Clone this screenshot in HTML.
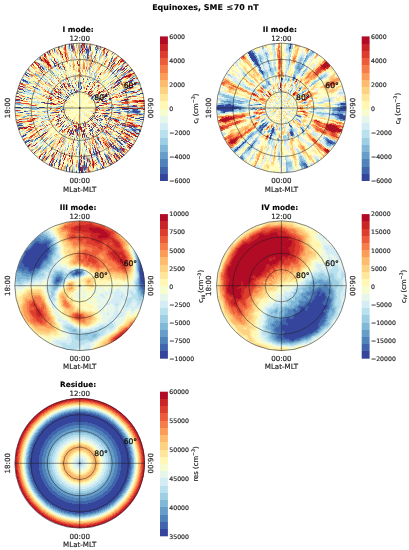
<!DOCTYPE html>
<html><head><meta charset="utf-8"><style>
html,body{margin:0;padding:0;background:#fff;}
body{width:409px;height:550px;position:relative;overflow:hidden;}
#all{position:absolute;left:0;top:0;width:409px;height:550px;filter:blur(0.35px);}
.rg{position:absolute;border-radius:50%;}
.pc{position:absolute;width:0;height:0;}
.pc i{position:absolute;border-radius:50%;}
svg{position:absolute;left:0;top:0;}
text{font-family:'DejaVu Sans', 'Liberation Sans', sans-serif;fill:#262626;stroke:#262626;stroke-width:0.18px;}
text.b{font-weight:bold;fill:#000;stroke:#000;stroke-width:0.1px;}
text.d{fill:#111;stroke:#111;stroke-width:0.3px;}
.grid circle,.grid line{fill:none;stroke:#1a1a1a;stroke-width:0.55;stroke-opacity:0.9;}
.spine{fill:none;stroke:#333;stroke-width:0.6;}
</style></head><body><div id="all">
<div class="pc" style="left:79.70px;top:108.00px;filter:blur(0.35px);">
<i style="inset:-64.9px;background:conic-gradient(#ffb 0 0.25%,#9cd 0 0.5%,#a12 0 0.75%,#d43 0 1%,#349 0 1.25%,#fb6 0 1.5%,#fc8 0 1.75%,#9cd 0 2%,#ffb 0 2.25%,#f95 0 9deg,#e74 0 2.75%,#bde 0 3.25%,#ffc 0 4%,#349 0 4.25%,#e74 0 4.5%,#9cd 0 4.75%,#bde 0 5%,#d43 0 5.25%,#bde 0 5.5%,#fb6 0 5.75%,#ffb 0 6%,#a12 0 6.5%,#fc8 0 6.75%,#fb6 0 7%,#eee 0 7.25%,#e74 0 7.5%,#ffc 0 7.75%,#fe9 0 8%,#ffc 0 8.25%,#eee 0 8.5%,#d43 0 8.75%,#ffc 0 9%,#8bd 0 9.25%,#ffc 0 9.75%,#ffb 0 10%,#e74 0 10.25%,#eee 0 10.5%,#ffb 0 10.75%,#cee 0 11%,#d43 0 11.25%,#e53 0 11.5%,#a12 0 11.75%,#c22 0 12%,#fb6 0 12.25%,#46a 0 45deg,#fb6 0 12.75%,#eee 0 13%,#fe9 0 13.25%,#a12 0 13.5%,#ffc 0 14%,#cee 0 14.25%,#fe9 0 14.75%,#349 0 15%,#fc8 0 15.25%,#cee 0 15.5%,#ffb 0 15.75%,#a12 0 16%,#fb6 0 16.25%,#fc8 0 16.5%,#9cd 0 16.75%,#bde 0 17%,#fb6 0 17.25%,#d43 0 63deg,#cee 0 17.75%,#eee 0 18%,#ffc 0 18.25%,#f95 0 18.5%,#58b 0 18.75%,#69c 0 19%,#fc8 0 19.25%,#ffb 0 19.5%,#ffc 0 19.75%,#cee 0 20%,#a12 0 20.25%,#69c 0 20.5%,#fe9 0 20.75%,#ffc 0 21%,#fe9 0 21.25%,#349 0 21.5%,#ffb 0 21.75%,#eee 0 22%,#ffc 0 22.25%,#f95 0 81deg,#ffb 0 23%,#a12 0 23.5%,#fb6 0 23.75%,#d43 0 24%,#fc8 0 24.25%,#c22 0 24.5%,#fb6 0 24.75%,#eee 0 25%,#e74 0 25.25%,#a12 0 25.5%,#eee 0 25.75%,#fb6 0 26%,#ffb 0 26.25%,#8bd 0 26.5%,#bde 0 26.75%,#fc8 0 27%,#cee 0 27.25%,#349 0 99deg,#ffb 0 27.75%,#349 0 28%,#eee 0 28.5%,#fc8 0 28.75%,#cee 0 29%,#eee 0 29.25%,#ffb 0 29.5%,#a12 0 29.75%,#ffb 0 30%,#ffc 0 30.25%,#fb6 0 30.5%,#349 0 31%,#fe9 0 31.25%,#bde 0 31.5%,#a12 0 31.75%,#8bd 0 32%,#ffb 0 32.25%,#a12 0 32.5%,#ffc 0 32.75%,#cee 0 33%,#ffc 0 33.25%,#bde 0 33.5%,#e53 0 33.75%,#eee 0 34%,#fb6 0 34.25%,#ffb 0 34.5%,#a12 0 34.75%,#ffb 0 35%,#a12 0 35.25%,#cee 0 35.5%,#a12 0 35.75%,#e53 0 36%,#cee 0 36.25%,#ffc 0 36.5%,#e74 0 36.75%,#fe9 0 37%,#fb6 0 37.25%,#fc8 0 37.5%,#eee 0 37.75%,#fc8 0 38%,#349 0 38.25%,#ffb 0 38.5%,#a12 0 38.75%,#ffc 0 39%,#fe9 0 39.25%,#349 0 39.5%,#f95 0 39.75%,#fe9 0 40%,#a12 0 40.25%,#349 0 40.5%,#ffb 0 40.75%,#e74 0 41%,#fc8 0 41.25%,#c22 0 41.5%,#9cd 0 41.75%,#e53 0 42%,#46a 0 42.25%,#fb6 0 42.5%,#fe9 0 42.75%,#eee 0 43%,#ffc 0 43.25%,#fb6 0 43.5%,#f95 0 43.75%,#cee 0 44%,#349 0 44.25%,#ffb 0 44.5%,#d43 0 44.75%,#f95 0 45%,#ffc 0 45.25%,#eee 0 45.5%,#58b 0 45.75%,#cee 0 46%,#fe9 0 46.25%,#ffc 0 46.75%,#fc8 0 47%,#ffb 0 47.25%,#fb6 0 47.5%,#d43 0 47.75%,#e53 0 48%,#eee 0 48.25%,#fb6 0 48.5%,#58b 0 48.75%,#ffb 0 49%,#8bd 0 49.25%,#349 0 49.5%,#a12 0 49.75%,#ffb 0 50%,#349 0 50.25%,#eee 0 50.5%,#ffb 0 50.75%,#46a 0 51%,#cee 0 51.25%,#bde 0 51.5%,#fe9 0 51.75%,#46a 0 52%,#8bd 0 52.25%,#fe9 0 52.5%,#46a 0 52.75%,#eee 0 53%,#ffb 0 53.25%,#349 0 53.5%,#eee 0 53.75%,#fc8 0 54%,#fb6 0 54.25%,#fe9 0 54.5%,#e53 0 54.75%,#fe9 0 55.25%,#a12 0 55.5%,#ffb 0 56%,#ffc 0 56.25%,#eee 0 56.5%,#bde 0 56.75%,#ffb 0 57%,#a12 0 57.25%,#349 0 57.5%,#69c 0 57.75%,#a12 0 58%,#ffc 0 58.25%,#cee 0 58.5%,#fe9 0 58.75%,#eee 0 59.25%,#fb6 0 59.75%,#a12 0 60%,#69c 0 60.25%,#ffc 0 60.75%,#a12 0 61%,#ffb 0 61.25%,#fe9 0 61.5%,#cee 0 61.75%,#ffc 0 62%,#ffb 0 62.25%,#9cd 0 62.5%,#a12 0 62.75%,#ffc 0 63%,#ffb 0 63.25%,#58b 0 63.5%,#f95 0 63.75%,#ffb 0 64%,#ffc 0 64.25%,#ffb 0 64.5%,#cee 0 64.75%,#a12 0 65%,#fc8 0 65.25%,#eee 0 65.5%,#ffc 0 65.75%,#349 0 66.25%,#ffc 0 66.5%,#f95 0 66.75%,#c22 0 67%,#cee 0 67.5%,#349 0 67.75%,#fc8 0 68%,#ffb 0 68.5%,#cee 0 69%,#ffb 0 69.5%,#a12 0 69.75%,#349 0 70%,#fc8 0 70.25%,#9cd 0 70.5%,#349 0 70.75%,#bde 0 71%,#f95 0 71.25%,#c22 0 71.5%,#e74 0 71.75%,#fc8 0 72%,#69c 0 72.25%,#ffb 0 72.5%,#fc8 0 72.75%,#fe9 0 73%,#d43 0 73.25%,#ffb 0 73.5%,#fc8 0 73.75%,#ffb 0 74%,#bde 0 74.25%,#e53 0 74.5%,#eee 0 74.75%,#ffc 0 75%,#349 0 75.25%,#eee 0 75.5%,#ffb 0 75.75%,#cee 0 76%,#58b 0 76.25%,#fc8 0 76.5%,#cee 0 76.75%,#349 0 77%,#c22 0 77.25%,#ffb 0 77.5%,#ffc 0 77.75%,#a12 0 78%,#fe9 0 78.25%,#ffc 0 78.5%,#349 0 78.75%,#e74 0 79%,#58b 0 79.25%,#fe9 0 79.75%,#349 0 80%,#e53 0 80.25%,#9cd 0 80.5%,#a12 0 80.75%,#ffb 0 81%,#e53 0 81.25%,#a12 0 81.5%,#bde 0 81.75%,#ffc 0 82%,#58b 0 82.25%,#69c 0 82.5%,#eee 0 82.75%,#9cd 0 83%,#ffc 0 83.25%,#fc8 0 83.5%,#ffc 0 83.75%,#349 0 84%,#eee 0 84.25%,#46a 0 84.5%,#cee 0 84.75%,#ffc 0 85%,#e53 0 85.25%,#69c 0 85.5%,#ffb 0 85.75%,#ffc 0 86.25%,#e53 0 86.5%,#ffb 0 86.75%,#c22 0 87%,#eee 0 87.25%,#ffb 0 87.5%,#a12 0 87.75%,#f95 0 88%,#ffc 0 88.25%,#ffb 0 88.5%,#9cd 0 88.75%,#fe9 0 89%,#69c 0 89.25%,#a12 0 89.5%,#ffb 0 89.75%,#fe9 0 90%,#fb6 0 90.25%,#cee 0 90.5%,#c22 0 90.75%,#a12 0 91%,#eee 0 91.25%,#ffb 0 91.5%,#a12 0 91.75%,#8bd 0 92%,#a12 0 92.25%,#fb6 0 92.5%,#ffb 0 92.75%,#d43 0 93%,#ffb 0 93.25%,#349 0 93.5%,#cee 0 93.75%,#fe9 0 94%,#ffb 0 94.25%,#fc8 0 94.5%,#c22 0 94.75%,#69c 0 95%,#fe9 0 95.25%,#8bd 0 95.5%,#9cd 0 95.75%,#ffb 0 96%,#fb6 0 96.25%,#a12 0 96.5%,#eee 0 96.75%,#ffb 0 97%,#bde 0 97.25%,#349 0 97.5%,#fc8 0 97.75%,#46a 0 98%,#f95 0 98.25%,#58b 0 98.5%,#ffb 0 99%,#8bd 0 99.25%,#fc8 0 99.75%,#ffb 0)"></i>
<i style="inset:-63.3px;background:conic-gradient(#ffc 0 0.25%,#8bd 0 0.5%,#a12 0 0.75%,#e53 0 1%,#349 0 1.25%,#d43 0 1.5%,#fe9 0 1.75%,#349 0 2%,#eee 0 2.25%,#ffc 0 9deg,#c22 0 2.75%,#58b 0 3%,#eee 0 3.25%,#ffb 0 3.75%,#ffc 0 4%,#46a 0 4.25%,#fb6 0 4.5%,#349 0 4.75%,#69c 0 5%,#fb6 0 5.25%,#69c 0 5.5%,#fe9 0 5.75%,#ffc 0 6%,#e53 0 6.25%,#c22 0 6.5%,#e74 0 6.75%,#ffb 0 7%,#eee 0 7.25%,#a12 0 7.5%,#eee 0 7.75%,#fe9 0 8%,#ffc 0 8.25%,#eee 0 8.5%,#fb6 0 8.75%,#ffc 0 9%,#9cd 0 9.25%,#ffb 0 9.5%,#ffc 0 9.75%,#fb6 0 10%,#d43 0 10.25%,#eee 0 10.5%,#ffb 0 10.75%,#ffc 0 11%,#a12 0 11.25%,#fc8 0 11.5%,#a12 0 11.75%,#e74 0 12%,#ffb 0 12.25%,#46a 0 45deg,#e74 0 12.75%,#eee 0 13%,#ffb 0 13.25%,#a12 0 13.5%,#ffc 0 13.75%,#9cd 0 14%,#eee 0 14.25%,#f95 0 14.5%,#ffb 0 14.75%,#349 0 15%,#e74 0 15.25%,#ffc 0 15.5%,#fc8 0 15.75%,#a12 0 16%,#f95 0 16.25%,#fc8 0 16.5%,#58b 0 16.75%,#cee 0 17%,#a12 0 17.25%,#ffb 0 63deg,#cee 0 17.75%,#eee 0 18%,#cee 0 18.25%,#a12 0 18.5%,#8bd 0 19%,#fe9 0 19.25%,#ffb 0 19.5%,#eee 0 19.75%,#ffc 0 20%,#d43 0 20.25%,#58b 0 20.5%,#fc8 0 20.75%,#eee 0 21%,#ffc 0 21.25%,#349 0 21.5%,#ffb 0 22%,#ffc 0 22.25%,#fb6 0 81deg,#ffb 0 22.75%,#fe9 0 23%,#a12 0 23.5%,#fb6 0 23.75%,#e74 0 24%,#ffb 0 24.25%,#e74 0 24.5%,#e53 0 24.75%,#8bd 0 25%,#d43 0 25.25%,#fb6 0 25.5%,#eee 0 25.75%,#ffc 0 26.25%,#9cd 0 26.5%,#46a 0 26.75%,#fc8 0 27%,#ffc 0 27.25%,#349 0 99deg,#eee 0 27.75%,#349 0 28%,#ffb 0 28.25%,#8bd 0 28.5%,#ffb 0 28.75%,#cee 0 29%,#eee 0 29.25%,#cee 0 29.5%,#a12 0 29.75%,#fb6 0 30%,#fe9 0 30.25%,#ffb 0 30.5%,#349 0 30.75%,#9cd 0 31%,#eee 0 31.25%,#9cd 0 31.5%,#a12 0 31.75%,#8bd 0 32%,#fb6 0 32.25%,#a12 0 32.5%,#ffc 0 32.75%,#eee 0 33%,#fc8 0 33.25%,#cee 0 33.5%,#f95 0 33.75%,#ffb 0 34.25%,#cee 0 34.5%,#a12 0 34.75%,#ffb 0 35%,#a12 0 35.25%,#9cd 0 35.5%,#a12 0 35.75%,#e74 0 36%,#ffc 0 36.25%,#eee 0 36.5%,#e74 0 36.75%,#eee 0 37%,#e74 0 37.25%,#a12 0 37.5%,#cee 0 37.75%,#fb6 0 38%,#349 0 38.25%,#ffb 0 38.5%,#a12 0 38.75%,#ffb 0 39%,#e74 0 39.25%,#349 0 39.5%,#e74 0 39.75%,#f95 0 40%,#a12 0 40.25%,#8bd 0 40.5%,#ffb 0 40.75%,#fc8 0 41%,#fe9 0 41.25%,#a12 0 41.5%,#9cd 0 41.75%,#fc8 0 42%,#349 0 42.25%,#fb6 0 42.5%,#ffb 0 42.75%,#8bd 0 43%,#ffc 0 43.25%,#fb6 0 43.5%,#a12 0 43.75%,#cee 0 44%,#349 0 44.25%,#ffc 0 44.5%,#f95 0 44.75%,#ffb 0 45%,#ffc 0 45.25%,#eee 0 45.5%,#8bd 0 45.75%,#ffc 0 46%,#ffb 0 46.25%,#fc8 0 46.5%,#fe9 0 47%,#ffc 0 47.25%,#fe9 0 47.5%,#c22 0 47.75%,#e74 0 48%,#bde 0 48.25%,#eee 0 48.5%,#46a 0 48.75%,#fb6 0 49%,#349 0 49.5%,#a12 0 49.75%,#f95 0 50%,#349 0 50.25%,#9cd 0 50.5%,#ffb 0 50.75%,#bde 0 51%,#ffc 0 51.25%,#bde 0 51.5%,#fc8 0 51.75%,#58b 0 52%,#cee 0 52.25%,#fb6 0 52.5%,#349 0 52.75%,#eee 0 53%,#ffb 0 53.25%,#349 0 53.5%,#9cd 0 53.75%,#f95 0 54%,#fc8 0 54.25%,#ffb 0 54.5%,#e53 0 54.75%,#fc8 0 55%,#ffb 0 55.25%,#a12 0 55.5%,#ffc 0 55.75%,#ffb 0 56%,#ffc 0 56.25%,#ffb 0 56.5%,#46a 0 56.75%,#ffc 0 57%,#d43 0 57.25%,#349 0 57.5%,#ffc 0 57.75%,#a12 0 58%,#eee 0 58.5%,#ffb 0 59%,#69c 0 59.25%,#f95 0 59.5%,#fb6 0 59.75%,#a12 0 60%,#69c 0 60.25%,#ffc 0 60.5%,#eee 0 60.75%,#a12 0 61%,#fe9 0 61.25%,#ffb 0 61.5%,#ffc 0 61.75%,#ffb 0 62%,#fe9 0 62.25%,#bde 0 62.5%,#a12 0 62.75%,#ffc 0 63%,#fe9 0 63.25%,#9cd 0 63.5%,#fe9 0 63.75%,#ffb 0 64%,#fe9 0 64.25%,#ffc 0 64.5%,#9cd 0 64.75%,#a12 0 65%,#fe9 0 65.25%,#bde 0 65.5%,#ffb 0 65.75%,#349 0 66%,#58b 0 66.25%,#ffb 0 66.5%,#fe9 0 66.75%,#e53 0 67%,#eee 0 67.25%,#bde 0 67.5%,#349 0 67.75%,#fc8 0 68%,#eee 0 68.25%,#fe9 0 68.5%,#ffc 0 68.75%,#bde 0 69%,#fe9 0 69.25%,#ffb 0 69.5%,#a12 0 69.75%,#349 0 70%,#fc8 0 70.25%,#349 0 70.5%,#46a 0 70.75%,#69c 0 71%,#fb6 0 71.25%,#a12 0 71.5%,#ffb 0 71.75%,#e53 0 72%,#9cd 0 72.25%,#ffb 0 72.5%,#fe9 0 72.75%,#fc8 0 73%,#e53 0 73.25%,#fe9 0 73.5%,#fc8 0 73.75%,#cee 0 74%,#9cd 0 74.25%,#c22 0 74.5%,#eee 0 74.75%,#cee 0 75%,#349 0 75.25%,#ffb 0 75.5%,#ffc 0 75.75%,#8bd 0 76%,#69c 0 76.25%,#e53 0 76.5%,#bde 0 76.75%,#349 0 77%,#a12 0 77.25%,#ffb 0 77.5%,#bde 0 77.75%,#a12 0 78%,#ffc 0 78.25%,#ffb 0 78.5%,#58b 0 78.75%,#fe9 0 79%,#58b 0 79.25%,#fc8 0 79.5%,#ffc 0 79.75%,#349 0 80%,#e53 0 80.25%,#cee 0 80.5%,#a12 0 80.75%,#ffc 0 81%,#d43 0 81.25%,#c22 0 81.5%,#cee 0 81.75%,#ffc 0 82%,#46a 0 82.25%,#349 0 82.5%,#cee 0 82.75%,#ffc 0 83%,#eee 0 83.25%,#fb6 0 83.5%,#eee 0 83.75%,#349 0 84%,#ffc 0 84.25%,#46a 0 84.5%,#ffc 0 84.75%,#eee 0 85%,#e74 0 85.25%,#bde 0 85.5%,#ffb 0 85.75%,#cee 0 86%,#ffb 0 86.25%,#e74 0 86.5%,#fe9 0 86.75%,#c22 0 87%,#ffc 0 87.25%,#ffb 0 87.5%,#a12 0 87.75%,#e53 0 88%,#9cd 0 88.25%,#ffc 0 88.5%,#cee 0 88.75%,#ffb 0 89%,#69c 0 89.25%,#a12 0 89.5%,#fc8 0 89.75%,#fb6 0 90%,#e74 0 90.25%,#ffc 0 90.5%,#a12 0 91%,#ffc 0 91.25%,#ffb 0 91.5%,#a12 0 91.75%,#8bd 0 92%,#a12 0 92.25%,#fc8 0 92.5%,#ffb 0 92.75%,#f95 0 93%,#eee 0 93.25%,#349 0 93.5%,#cee 0 93.75%,#fb6 0 94%,#fe9 0 94.5%,#a12 0 94.75%,#9cd 0 95%,#ffb 0 95.25%,#cee 0 95.75%,#fc8 0 96%,#e74 0 96.25%,#a12 0 96.5%,#eee 0 96.75%,#fe9 0 97%,#9cd 0 97.25%,#46a 0 97.5%,#fe9 0 97.75%,#349 0 98%,#a12 0 98.25%,#58b 0 98.5%,#fe9 0 98.75%,#ffc 0 99%,#8bd 0 99.25%,#fe9 0 99.5%,#f95 0 99.75%,#ffb 0)"></i>
<i style="inset:-61.7px;background:conic-gradient(#cee 0 0.25%,#8bd 0 0.5%,#a12 0 0.75%,#e74 0 1%,#69c 0 1.25%,#a12 0 1.5%,#ffb 0 1.75%,#349 0 2%,#8bd 0 2.25%,#9cd 0 9deg,#d43 0 2.75%,#349 0 3%,#ffb 0 3.75%,#ffc 0 4%,#69c 0 4.25%,#ffb 0 4.5%,#349 0 4.75%,#8bd 0 5%,#ffb 0 5.25%,#8bd 0 5.5%,#ffb 0 5.75%,#cee 0 6%,#fc8 0 6.25%,#e74 0 6.5%,#d43 0 6.75%,#ffc 0 7%,#eee 0 7.25%,#a12 0 7.5%,#bde 0 7.75%,#ffb 0 8.25%,#ffc 0 8.5%,#ffb 0 8.75%,#ffc 0 9%,#69c 0 9.25%,#ffb 0 9.5%,#cee 0 9.75%,#e74 0 10%,#e53 0 10.25%,#cee 0 10.5%,#ffb 0 10.75%,#ffc 0 11%,#a12 0 11.25%,#ffb 0 11.5%,#d43 0 11.75%,#fc8 0 12%,#ffb 0 12.25%,#69c 0 45deg,#e53 0 12.75%,#bde 0 13%,#ffc 0 13.25%,#a12 0 13.5%,#ffc 0 13.75%,#58b 0 14%,#ffb 0 14.25%,#e53 0 14.5%,#ffc 0 14.75%,#46a 0 15%,#e53 0 15.25%,#ffb 0 15.5%,#e53 0 15.75%,#a12 0 16%,#e74 0 16.25%,#fc8 0 16.5%,#46a 0 16.75%,#bde 0 17%,#a12 0 17.25%,#9cd 0 63deg,#bde 0 17.75%,#eee 0 18%,#cee 0 18.25%,#a12 0 18.5%,#cee 0 18.75%,#bde 0 19%,#ffb 0 19.25%,#fe9 0 19.5%,#cee 0 19.75%,#ffb 0 20%,#fe9 0 20.25%,#9cd 0 20.5%,#e74 0 20.75%,#eee 0 21.25%,#349 0 21.5%,#ffb 0 21.75%,#fc8 0 22%,#eee 0 22.25%,#fc8 0 81deg,#ffb 0 22.75%,#fc8 0 23%,#a12 0 23.5%,#fc8 0 23.75%,#fb6 0 24%,#ffc 0 24.25%,#fb6 0 24.5%,#f95 0 24.75%,#9cd 0 25%,#c22 0 25.25%,#ffc 0 25.5%,#bde 0 25.75%,#58b 0 26%,#9cd 0 26.5%,#349 0 26.75%,#fb6 0 27%,#ffb 0 27.25%,#58b 0 99deg,#eee 0 27.75%,#349 0 28%,#ffb 0 28.25%,#46a 0 28.5%,#ffc 0 28.75%,#cee 0 29.5%,#d43 0 29.75%,#e74 0 30%,#f95 0 30.25%,#cee 0 30.5%,#349 0 30.75%,#9cd 0 31%,#46a 0 31.25%,#69c 0 31.5%,#a12 0 31.75%,#9cd 0 32%,#c22 0 32.5%,#ffc 0 32.75%,#cee 0 33%,#e53 0 33.25%,#ffc 0 33.5%,#fb6 0 33.75%,#fe9 0 34%,#cee 0 34.25%,#bde 0 34.5%,#a12 0 34.75%,#ffb 0 35%,#c22 0 35.25%,#9cd 0 35.5%,#d43 0 35.75%,#fc8 0 36%,#ffb 0 36.25%,#bde 0 36.5%,#fb6 0 36.75%,#46a 0 37%,#c22 0 37.25%,#a12 0 37.5%,#9cd 0 37.75%,#e74 0 38%,#349 0 38.25%,#eee 0 38.5%,#e74 0 38.75%,#ffb 0 39%,#e53 0 39.25%,#349 0 39.5%,#d43 0 39.75%,#f95 0 40%,#a12 0 40.25%,#eee 0 40.5%,#fe9 0 40.75%,#ffb 0 41.25%,#a12 0 41.5%,#8bd 0 41.75%,#ffc 0 42%,#349 0 42.25%,#f95 0 42.5%,#ffb 0 42.75%,#46a 0 43%,#ffc 0 43.25%,#f95 0 43.5%,#a12 0 43.75%,#eee 0 44%,#69c 0 44.25%,#bde 0 44.5%,#ffb 0 45.5%,#cee 0 45.75%,#ffb 0 46.25%,#a12 0 46.5%,#fb6 0 46.75%,#fe9 0 47%,#cee 0 47.25%,#fe9 0 47.5%,#d43 0 47.75%,#f95 0 48%,#58b 0 48.25%,#46a 0 48.5%,#349 0 48.75%,#e53 0 49%,#349 0 49.5%,#a12 0 50%,#349 0 50.25%,#69c 0 50.5%,#ffb 0 51%,#ffc 0 51.25%,#bde 0 51.5%,#fc8 0 51.75%,#8bd 0 52%,#ffb 0 52.25%,#fb6 0 52.5%,#349 0 52.75%,#ffc 0 53%,#fe9 0 53.25%,#349 0 53.5%,#8bd 0 53.75%,#f95 0 54%,#fc8 0 54.25%,#ffc 0 54.5%,#d43 0 54.75%,#fe9 0 55%,#ffc 0 55.25%,#a12 0 55.5%,#8bd 0 55.75%,#ffc 0 56%,#ffb 0 56.5%,#349 0 56.75%,#eee 0 57%,#fc8 0 57.25%,#349 0 57.5%,#fc8 0 57.75%,#a12 0 58%,#cee 0 58.25%,#ffc 0 58.5%,#ffb 0 58.75%,#fe9 0 59%,#349 0 59.25%,#e74 0 59.5%,#fe9 0 59.75%,#a12 0 60%,#8bd 0 60.25%,#bde 0 60.5%,#ffc 0 60.75%,#a12 0 61%,#fb6 0 61.25%,#ffc 0 61.5%,#ffb 0 62%,#fc8 0 62.25%,#bde 0 62.5%,#e53 0 62.75%,#ffb 0 63%,#fc8 0 63.25%,#bde 0 63.5%,#ffb 0 63.75%,#ffc 0 64%,#d43 0 64.25%,#eee 0 64.5%,#9cd 0 64.75%,#e53 0 65%,#fe9 0 65.25%,#69c 0 65.5%,#fe9 0 65.75%,#349 0 66%,#8bd 0 66.25%,#fe9 0 66.75%,#f95 0 67%,#ffc 0 67.25%,#eee 0 67.5%,#349 0 67.75%,#fc8 0 68%,#bde 0 68.25%,#fe9 0 68.5%,#ffb 0 68.75%,#bde 0 69%,#fc8 0 69.5%,#a12 0 69.75%,#46a 0 70%,#fc8 0 70.25%,#349 0 70.5%,#9cd 0 70.75%,#46a 0 71%,#fc8 0 71.25%,#a12 0 71.5%,#ffc 0 71.75%,#c22 0 72%,#ffc 0 72.25%,#eee 0 72.5%,#ffc 0 72.75%,#fb6 0 73%,#f95 0 73.25%,#fe9 0 73.75%,#69c 0 74%,#cee 0 74.25%,#d43 0 74.5%,#ffc 0 74.75%,#bde 0 75%,#349 0 75.25%,#ffb 0 75.5%,#eee 0 75.75%,#69c 0 76.25%,#d43 0 76.5%,#bde 0 76.75%,#58b 0 77%,#a12 0 77.25%,#fe9 0 77.5%,#69c 0 77.75%,#d43 0 78%,#eee 0 78.25%,#fb6 0 78.5%,#bde 0 78.75%,#ffb 0 79%,#58b 0 79.25%,#fc8 0 79.5%,#eee 0 79.75%,#349 0 80%,#e74 0 80.25%,#cee 0 80.5%,#a12 0 80.75%,#bde 0 81%,#e53 0 81.25%,#e74 0 81.5%,#eee 0 81.75%,#ffb 0 82%,#58b 0 82.25%,#349 0 82.5%,#cee 0 82.75%,#ffb 0 83%,#eee 0 83.25%,#fb6 0 83.5%,#eee 0 83.75%,#349 0 84%,#fe9 0 84.25%,#46a 0 84.5%,#fe9 0 84.75%,#ffc 0 85%,#f95 0 85.25%,#cee 0 85.5%,#ffb 0 85.75%,#cee 0 86%,#ffb 0 86.25%,#fb6 0 86.75%,#f95 0 87%,#ffb 0 87.5%,#c22 0 87.75%,#e74 0 88%,#349 0 88.25%,#eee 0 88.5%,#ffb 0 89%,#8bd 0 89.25%,#a12 0 89.5%,#f95 0 89.75%,#e74 0 90%,#a12 0 90.25%,#ffb 0 90.5%,#d43 0 90.75%,#f95 0 91%,#ffc 0 91.25%,#ffb 0 91.5%,#fb6 0 91.75%,#9cd 0 92%,#e53 0 92.25%,#fe9 0 92.5%,#ffb 0 92.75%,#fc8 0 93%,#eee 0 93.25%,#9cd 0 93.5%,#bde 0 93.75%,#f95 0 94%,#fc8 0 94.25%,#ffb 0 94.5%,#a12 0 94.75%,#ffc 0 95%,#ffb 0 95.75%,#fb6 0 96%,#e53 0 96.25%,#c22 0 96.5%,#eee 0 96.75%,#fe9 0 97%,#9cd 0 97.25%,#69c 0 97.5%,#ffb 0 97.75%,#349 0 98%,#a12 0 98.25%,#58b 0 98.5%,#f95 0 98.75%,#eee 0 99%,#9cd 0 99.25%,#fe9 0 99.5%,#f95 0 99.75%,#ffb 0)"></i>
<i style="inset:-60.1px;background:conic-gradient(#8bd 0 0.25%,#9cd 0 0.5%,#a12 0 0.75%,#e74 0 1%,#bde 0 1.25%,#a12 0 1.5%,#eee 0 1.75%,#349 0 9deg,#f95 0 2.75%,#349 0 3%,#fe9 0 3.25%,#ffb 0 3.5%,#fe9 0 3.75%,#ffc 0 4%,#bde 0 4.25%,#ffc 0 4.5%,#349 0 4.75%,#cee 0 5%,#ffb 0 5.25%,#bde 0 5.5%,#ffb 0 5.75%,#8bd 0 6%,#ffb 0 6.25%,#f95 0 6.5%,#d43 0 6.75%,#cee 0 7.25%,#a12 0 7.5%,#8bd 0 7.75%,#ffb 0 8.25%,#ffc 0 8.5%,#ffb 0 9%,#46a 0 9.25%,#eee 0 9.5%,#9cd 0 9.75%,#d43 0 10%,#fb6 0 10.25%,#8bd 0 10.5%,#ffb 0 11%,#a12 0 11.25%,#ffc 0 11.5%,#e74 0 11.75%,#ffb 0 12%,#eee 0 12.25%,#9cd 0 45deg,#d43 0 12.75%,#69c 0 13%,#cee 0 13.25%,#a12 0 13.5%,#eee 0 13.75%,#349 0 14%,#ffb 0 14.25%,#d43 0 14.5%,#bde 0 14.75%,#69c 0 15%,#fb6 0 15.25%,#f95 0 15.5%,#a12 0 16%,#d43 0 16.25%,#ffb 0 16.5%,#58b 0 16.75%,#9cd 0 17%,#a12 0 17.25%,#349 0 63deg,#9cd 0 17.75%,#ffc 0 18.25%,#a12 0 18.5%,#eee 0 18.75%,#9cd 0 19%,#ffb 0 19.25%,#fc8 0 19.5%,#eee 0 19.75%,#ffb 0 20%,#eee 0 20.5%,#a12 0 20.75%,#ffc 0 21%,#cee 0 21.25%,#69c 0 21.5%,#fe9 0 22%,#eee 0 22.25%,#fc8 0 81deg,#ffc 0 22.75%,#f95 0 23%,#a12 0 23.5%,#fe9 0 23.75%,#fb6 0 24%,#ffc 0 24.25%,#fb6 0 24.5%,#ffb 0 24.75%,#cee 0 25%,#c22 0 25.25%,#9cd 0 25.5%,#8bd 0 25.75%,#349 0 26%,#46a 0 26.25%,#69c 0 26.5%,#349 0 26.75%,#f95 0 27%,#fe9 0 27.25%,#cee 0 99deg,#ffc 0 27.75%,#349 0 28%,#fe9 0 28.25%,#58b 0 28.5%,#ffc 0 28.75%,#bde 0 29.25%,#ffc 0 29.5%,#f95 0 29.75%,#d43 0 30%,#c22 0 30.25%,#58b 0 31%,#349 0 31.25%,#46a 0 31.5%,#fb6 0 31.75%,#bde 0 32%,#a12 0 32.25%,#e53 0 32.5%,#ffb 0 32.75%,#9cd 0 33%,#a12 0 33.25%,#fe9 0 33.5%,#fc8 0 33.75%,#f95 0 34%,#58b 0 34.25%,#eee 0 34.5%,#a12 0 34.75%,#eee 0 35%,#d43 0 35.25%,#9cd 0 35.5%,#ffb 0 36.25%,#69c 0 36.5%,#fe9 0 36.75%,#349 0 37%,#a12 0 37.5%,#58b 0 37.75%,#e74 0 38%,#58b 0 38.25%,#8bd 0 38.5%,#fe9 0 38.75%,#ffb 0 39%,#fb6 0 39.25%,#349 0 39.5%,#d43 0 39.75%,#fc8 0 40%,#a12 0 40.25%,#ffb 0 40.5%,#fc8 0 40.75%,#eee 0 41%,#ffb 0 41.25%,#a12 0 41.5%,#69c 0 41.75%,#bde 0 42%,#349 0 42.25%,#f95 0 42.5%,#ffb 0 42.75%,#46a 0 43%,#ffc 0 43.25%,#e74 0 43.5%,#a12 0 43.75%,#ffc 0 44%,#eee 0 44.25%,#69c 0 44.5%,#eee 0 44.75%,#ffc 0 45%,#ffb 0 45.25%,#e74 0 45.5%,#ffc 0 45.75%,#fb6 0 46.25%,#a12 0 46.5%,#e74 0 46.75%,#fe9 0 47%,#69c 0 47.25%,#fe9 0 47.5%,#e74 0 47.75%,#fe9 0 48%,#349 0 48.75%,#d43 0 49%,#349 0 49.5%,#a12 0 50%,#349 0 50.25%,#46a 0 50.5%,#ffb 0 50.75%,#fc8 0 51%,#eee 0 51.25%,#cee 0 51.5%,#fc8 0 51.75%,#bde 0 52%,#fb6 0 52.25%,#fe9 0 52.5%,#46a 0 52.75%,#ffc 0 53%,#fe9 0 53.25%,#349 0 53.5%,#bde 0 53.75%,#fb6 0 54%,#ffb 0 54.25%,#ffc 0 54.5%,#c22 0 54.75%,#ffb 0 55%,#eee 0 55.25%,#e53 0 55.5%,#349 0 55.75%,#cee 0 56%,#ffb 0 56.25%,#fe9 0 56.5%,#349 0 56.75%,#eee 0 57%,#ffb 0 57.25%,#349 0 57.5%,#e74 0 57.75%,#a12 0 58%,#cee 0 58.25%,#ffb 0 58.75%,#fc8 0 59%,#349 0 59.25%,#e74 0 59.5%,#fe9 0 59.75%,#e53 0 60%,#9cd 0 60.25%,#69c 0 60.5%,#ffb 0 60.75%,#d43 0 61%,#fc8 0 61.25%,#cee 0 61.5%,#fb6 0 61.75%,#ffb 0 62%,#fe9 0 62.25%,#9cd 0 62.5%,#e74 0 62.75%,#ffb 0 63%,#fb6 0 63.25%,#9cd 0 63.5%,#eee 0 63.75%,#ffc 0 64%,#a12 0 64.25%,#ffc 0 64.5%,#9cd 0 64.75%,#ffb 0 65.25%,#46a 0 65.5%,#fb6 0 65.75%,#349 0 66%,#bde 0 66.25%,#fb6 0 66.5%,#fc8 0 66.75%,#fe9 0 67%,#ffc 0 67.5%,#8bd 0 67.75%,#fc8 0 68%,#8bd 0 68.25%,#ffb 0 68.5%,#fc8 0 68.75%,#eee 0 69%,#fc8 0 69.25%,#a12 0 69.75%,#8bd 0 70%,#fe9 0 70.25%,#8bd 0 70.5%,#ffc 0 70.75%,#69c 0 71%,#fb6 0 71.25%,#d43 0 71.5%,#eee 0 71.75%,#d43 0 72%,#fe9 0 72.25%,#9cd 0 72.5%,#cee 0 72.75%,#fc8 0 73%,#fb6 0 73.25%,#fc8 0 73.5%,#ffb 0 73.75%,#349 0 74%,#ffc 0 74.25%,#f95 0 74.5%,#ffc 0 74.75%,#bde 0 75%,#349 0 75.25%,#ffb 0 75.5%,#eee 0 75.75%,#8bd 0 76%,#9cd 0 76.25%,#d43 0 76.5%,#eee 0 76.75%,#ffc 0 77%,#a12 0 77.25%,#fe9 0 77.5%,#349 0 77.75%,#fe9 0 78%,#ffc 0 78.25%,#d43 0 78.5%,#ffc 0 79%,#69c 0 79.25%,#fe9 0 79.5%,#cee 0 79.75%,#349 0 80%,#fc8 0 80.25%,#cee 0 80.5%,#d43 0 80.75%,#9cd 0 81%,#e74 0 81.25%,#fc8 0 81.5%,#eee 0 81.75%,#fc8 0 82%,#69c 0 82.25%,#349 0 82.5%,#cee 0 82.75%,#ffb 0 83%,#eee 0 83.25%,#f95 0 83.5%,#eee 0 83.75%,#9cd 0 84%,#fb6 0 84.25%,#58b 0 84.5%,#e74 0 84.75%,#ffb 0 85%,#fb6 0 85.25%,#cee 0 85.5%,#ffc 0 86%,#fc8 0 86.25%,#fe9 0 86.5%,#fb6 0 86.75%,#fe9 0 87%,#ffb 0 87.25%,#ffc 0 87.5%,#c22 0 87.75%,#fc8 0 88%,#349 0 88.25%,#bde 0 88.5%,#fe9 0 88.75%,#ffb 0 89%,#cee 0 89.25%,#d43 0 89.5%,#e74 0 89.75%,#d43 0 90%,#a12 0 90.25%,#fb6 0 90.5%,#e53 0 90.75%,#fe9 0 91%,#ffb 0 91.25%,#eee 0 91.5%,#ffb 0 91.75%,#cee 0 92%,#fb6 0 92.25%,#fe9 0 92.5%,#ffb 0 92.75%,#fe9 0 93%,#ffc 0 93.5%,#bde 0 93.75%,#f95 0 94%,#fc8 0 94.25%,#ffc 0 94.5%,#a12 0 94.75%,#fc8 0 95%,#ffb 0 95.25%,#fe9 0 95.75%,#f95 0 96%,#e53 0 96.25%,#f95 0 96.5%,#eee 0 96.75%,#fe9 0 97%,#bde 0 97.25%,#8bd 0 97.5%,#ffb 0 97.75%,#58b 0 98%,#a12 0 98.25%,#58b 0 98.5%,#e53 0 98.75%,#cee 0 99%,#eee 0 99.25%,#fc8 0 99.5%,#fb6 0 99.75%,#fe9 0)"></i>
<i style="inset:-58.5px;background:conic-gradient(#46a 0 0.25%,#cee 0 0.5%,#a12 0 0.75%,#e53 0 1%,#eee 0 1.25%,#a12 0 1.5%,#cee 0 1.75%,#349 0 9deg,#ffb 0 2.75%,#69c 0 3%,#fc8 0 3.25%,#eee 0 3.5%,#fc8 0 3.75%,#ffc 0 4%,#eee 0 4.25%,#cee 0 4.5%,#349 0 4.75%,#ffc 0 5%,#ffb 0 5.25%,#eee 0 5.5%,#ffc 0 5.75%,#69c 0 6%,#eee 0 6.25%,#fb6 0 6.5%,#f95 0 6.75%,#cee 0 7.25%,#e53 0 7.5%,#8bd 0 7.75%,#ffc 0 8%,#fe9 0 8.25%,#ffb 0 8.5%,#fe9 0 8.75%,#ffb 0 9%,#46a 0 9.25%,#8bd 0 9.5%,#bde 0 9.75%,#c22 0 10%,#fe9 0 10.25%,#349 0 10.5%,#ffb 0 10.75%,#fe9 0 11%,#a12 0 11.25%,#eee 0 11.5%,#fc8 0 11.75%,#ffb 0 12%,#bde 0 12.25%,#eee 0 45deg,#d43 0 12.75%,#349 0 13%,#9cd 0 13.25%,#a12 0 13.5%,#eee 0 13.75%,#349 0 14%,#ffb 0 14.25%,#e53 0 14.5%,#8bd 0 14.75%,#69c 0 15%,#ffb 0 15.25%,#d43 0 15.5%,#a12 0 15.75%,#c22 0 16%,#d43 0 16.25%,#ffb 0 16.5%,#9cd 0 16.75%,#8bd 0 17%,#a12 0 17.25%,#349 0 63deg,#bde 0 17.75%,#ffb 0 18%,#fe9 0 18.25%,#a12 0 18.5%,#eee 0 18.75%,#58b 0 19%,#fc8 0 19.5%,#ffc 0 19.75%,#ffb 0 20%,#69c 0 20.25%,#eee 0 20.5%,#a12 0 20.75%,#ffb 0 21%,#cee 0 21.25%,#9cd 0 21.5%,#e74 0 21.75%,#ffb 0 22%,#ffc 0 22.25%,#fc8 0 81deg,#eee 0 22.75%,#d43 0 23%,#a12 0 23.5%,#ffb 0 23.75%,#fc8 0 24%,#eee 0 24.25%,#f95 0 24.5%,#9cd 0 24.75%,#eee 0 25%,#e53 0 25.25%,#349 0 25.5%,#58b 0 25.75%,#349 0 26.25%,#46a 0 26.75%,#e74 0 27%,#fe9 0 27.25%,#ffb 0 27.75%,#349 0 28%,#ffb 0 28.25%,#8bd 0 28.5%,#ffc 0 28.75%,#cee 0 29%,#9cd 0 29.25%,#ffb 0 29.5%,#f95 0 29.75%,#c22 0 30%,#a12 0 30.25%,#349 0 30.5%,#eee 0 30.75%,#349 0 31.25%,#46a 0 31.5%,#ffc 0 31.75%,#bde 0 32%,#a12 0 32.25%,#e74 0 32.5%,#ffb 0 32.75%,#69c 0 33%,#a12 0 33.25%,#fc8 0 33.5%,#fb6 0 33.75%,#d43 0 34%,#349 0 34.25%,#ffb 0 34.5%,#a12 0 34.75%,#69c 0 35%,#e53 0 35.25%,#69c 0 35.5%,#cee 0 35.75%,#ffc 0 36.25%,#349 0 36.5%,#ffb 0 36.75%,#349 0 37%,#d43 0 37.25%,#a12 0 37.5%,#46a 0 37.75%,#e74 0 38%,#58b 0 38.25%,#349 0 38.5%,#eee 0 38.75%,#ffb 0 39.25%,#349 0 39.5%,#e74 0 39.75%,#ffb 0 40%,#a12 0 40.25%,#ffb 0 40.5%,#e74 0 40.75%,#bde 0 41%,#ffb 0 41.25%,#a12 0 41.5%,#58b 0 41.75%,#69c 0 42%,#349 0 42.25%,#fb6 0 42.5%,#ffb 0 42.75%,#8bd 0 43%,#ffc 0 43.25%,#a12 0 43.75%,#ffb 0 44.25%,#69c 0 44.5%,#8bd 0 44.75%,#eee 0 45%,#fe9 0 45.25%,#a12 0 45.5%,#ffb 0 45.75%,#e74 0 46%,#a12 0 46.5%,#fb6 0 47%,#349 0 47.25%,#fe9 0 47.75%,#ffb 0 48%,#349 0 48.25%,#69c 0 48.5%,#349 0 48.75%,#d43 0 49%,#58b 0 49.25%,#bde 0 49.5%,#fc8 0 49.75%,#a12 0 50%,#349 0 50.25%,#46a 0 50.5%,#ffb 0 50.75%,#e74 0 51%,#bde 0 51.25%,#eee 0 51.5%,#fe9 0 51.75%,#cee 0 52%,#d43 0 52.25%,#ffb 0 52.5%,#cee 0 52.75%,#ffb 0 53%,#fc8 0 53.25%,#58b 0 53.5%,#ffc 0 53.75%,#fe9 0 54%,#ffb 0 54.25%,#ffc 0 54.5%,#a12 0 54.75%,#ffc 0 55.25%,#fc8 0 55.5%,#349 0 55.75%,#69c 0 56%,#ffb 0 56.25%,#fe9 0 56.5%,#349 0 56.75%,#eee 0 57%,#ffb 0 57.25%,#58b 0 57.5%,#d43 0 57.75%,#a12 0 58%,#9cd 0 58.25%,#fe9 0 58.5%,#ffc 0 58.75%,#fc8 0 59%,#349 0 59.25%,#fb6 0 59.5%,#fe9 0 59.75%,#fc8 0 60%,#cee 0 60.25%,#349 0 60.5%,#fe9 0 60.75%,#e74 0 61%,#ffb 0 61.25%,#9cd 0 61.5%,#fb6 0 61.75%,#ffc 0 62%,#ffb 0 62.25%,#69c 0 62.5%,#f95 0 62.75%,#ffb 0 63%,#fc8 0 63.25%,#9cd 0 63.5%,#eee 0 64%,#a12 0 64.25%,#ffb 0 64.5%,#bde 0 64.75%,#cee 0 65%,#ffc 0 65.25%,#58b 0 65.5%,#e74 0 65.75%,#9cd 0 66%,#cee 0 66.25%,#e74 0 66.5%,#e53 0 66.75%,#ffb 0 67%,#ffc 0 67.25%,#ffb 0 67.5%,#eee 0 67.75%,#fe9 0 68%,#58b 0 68.25%,#ffb 0 68.5%,#f95 0 68.75%,#ffb 0 69.25%,#a12 0 69.5%,#c22 0 69.75%,#cee 0 70%,#ffb 0 70.25%,#ffc 0 70.5%,#fe9 0 70.75%,#eee 0 71%,#f95 0 71.5%,#cee 0 71.75%,#f95 0 72%,#fb6 0 72.25%,#69c 0 72.5%,#9cd 0 72.75%,#fe9 0 73.5%,#ffb 0 73.75%,#349 0 74%,#ffb 0 74.5%,#ffc 0 74.75%,#eee 0 75%,#58b 0 75.25%,#ffb 0 75.5%,#ffc 0 75.75%,#9cd 0 76%,#cee 0 76.25%,#e53 0 76.5%,#ffc 0 76.75%,#fe9 0 77%,#a12 0 77.25%,#fe9 0 77.5%,#349 0 77.75%,#ffb 0 78.25%,#d43 0 78.5%,#ffc 0 79%,#8bd 0 79.25%,#ffb 0 79.5%,#cee 0 79.75%,#349 0 80%,#ffb 0 80.25%,#bde 0 80.5%,#fb6 0 80.75%,#9cd 0 81%,#f95 0 81.25%,#fe9 0 81.5%,#ffc 0 81.75%,#f95 0 82%,#9cd 0 82.25%,#349 0 82.5%,#bde 0 82.75%,#fe9 0 83%,#ffc 0 83.25%,#fc8 0 83.5%,#eee 0 83.75%,#ffc 0 84%,#fb6 0 84.25%,#8bd 0 84.5%,#e53 0 84.75%,#fc8 0 85%,#fb6 0 85.25%,#9cd 0 85.5%,#ffc 0 85.75%,#ffb 0 86%,#fb6 0 86.25%,#ffb 0 86.5%,#fe9 0 86.75%,#ffb 0 87%,#fe9 0 87.25%,#cee 0 87.5%,#c22 0 87.75%,#ffb 0 88%,#349 0 88.25%,#bde 0 88.5%,#fb6 0 88.75%,#eee 0 89%,#ffc 0 89.25%,#fb6 0 89.5%,#f95 0 89.75%,#c22 0 90%,#a12 0 90.25%,#d43 0 90.5%,#e74 0 90.75%,#ffb 0 91.25%,#bde 0 91.5%,#cee 0 91.75%,#ffc 0 92%,#fe9 0 92.25%,#fb6 0 92.5%,#ffc 0 92.75%,#ffb 0 93%,#ffc 0 93.25%,#ffb 0 93.5%,#cee 0 93.75%,#fc8 0 94%,#fe9 0 94.25%,#eee 0 94.5%,#c22 0 94.75%,#d43 0 95%,#ffb 0 95.25%,#fc8 0 95.75%,#e53 0 96.25%,#fc8 0 96.5%,#eee 0 96.75%,#ffb 0 97%,#cee 0 97.25%,#9cd 0 97.5%,#ffc 0 97.75%,#9cd 0 98%,#c22 0 98.25%,#8bd 0 98.5%,#d43 0 98.75%,#ffc 0 99%,#ffb 0 99.25%,#f95 0 99.5%,#fe9 0 99.75%,#ffb 0)"></i>
<i style="inset:-56.9px;background:conic-gradient(#349 0 0.25%,#eee 0 0.5%,#c22 0 0.75%,#e53 0 1%,#eee 0 1.25%,#fb6 0 1.5%,#9cd 0 1.75%,#349 0 2%,#69c 0 2.25%,#349 0 9deg,#eee 0 3%,#fc8 0 3.25%,#bde 0 3.5%,#f95 0 3.75%,#ffc 0 4.25%,#cee 0 4.5%,#349 0 4.75%,#fe9 0 5%,#ffb 0 5.25%,#ffc 0 5.75%,#8bd 0 6%,#9cd 0 6.25%,#fb6 0 6.5%,#fe9 0 6.75%,#eee 0 7%,#cee 0 7.25%,#fc8 0 7.5%,#9cd 0 7.75%,#ffc 0 8%,#fc8 0 8.25%,#fe9 0 8.5%,#fc8 0 8.75%,#ffb 0 9%,#8bd 0 9.25%,#349 0 9.5%,#ffc 0 9.75%,#d43 0 10%,#fe9 0 10.25%,#349 0 10.5%,#fc8 0 10.75%,#f95 0 11%,#e53 0 11.25%,#cee 0 11.5%,#fe9 0 11.75%,#ffb 0 12%,#8bd 0 12.25%,#ffc 0 45deg,#e53 0 12.75%,#349 0 13%,#69c 0 13.25%,#e74 0 13.5%,#ffc 0 13.75%,#46a 0 14%,#ffc 0 14.25%,#e74 0 14.5%,#69c 0 15%,#cee 0 15.25%,#a12 0 15.75%,#fb6 0 16%,#e53 0 16.25%,#ffb 0 16.5%,#ffc 0 16.75%,#8bd 0 17%,#a12 0 17.25%,#46a 0 63deg,#eee 0 17.75%,#ffb 0 18%,#f95 0 18.25%,#a12 0 18.5%,#cee 0 18.75%,#349 0 19%,#e53 0 19.25%,#fb6 0 19.5%,#ffb 0 20%,#349 0 20.25%,#bde 0 20.5%,#a12 0 20.75%,#fe9 0 21%,#eee 0 21.25%,#9cd 0 21.5%,#d43 0 21.75%,#ffc 0 22%,#ffb 0 22.25%,#fe9 0 81deg,#eee 0 22.75%,#c22 0 23.25%,#e53 0 23.5%,#ffc 0 23.75%,#fe9 0 24%,#bde 0 24.25%,#d43 0 24.5%,#349 0 24.75%,#eee 0 25%,#e74 0 25.25%,#349 0 25.5%,#46a 0 25.75%,#349 0 26.5%,#8bd 0 26.75%,#e53 0 27%,#fe9 0 27.75%,#349 0 28%,#ffb 0 28.25%,#cee 0 28.5%,#fe9 0 28.75%,#ffc 0 29%,#bde 0 29.25%,#fc8 0 29.5%,#d43 0 30%,#c22 0 30.25%,#349 0 30.5%,#fe9 0 30.75%,#349 0 31%,#58b 0 31.25%,#69c 0 31.5%,#bde 0 31.75%,#9cd 0 32%,#a12 0 32.25%,#f95 0 32.5%,#ffb 0 32.75%,#58b 0 33%,#a12 0 33.25%,#fb6 0 33.5%,#f95 0 33.75%,#c22 0 34%,#46a 0 34.25%,#fb6 0 34.5%,#c22 0 34.75%,#349 0 35%,#f95 0 35.25%,#349 0 35.5%,#cee 0 35.75%,#ffc 0 36%,#bde 0 36.25%,#349 0 36.5%,#eee 0 36.75%,#58b 0 37%,#e74 0 37.25%,#f95 0 37.5%,#8bd 0 37.75%,#fb6 0 38%,#349 0 38.5%,#69c 0 38.75%,#fe9 0 39%,#ffc 0 39.25%,#69c 0 39.5%,#fc8 0 39.75%,#ffc 0 40%,#fc8 0 40.25%,#fe9 0 40.5%,#d43 0 40.75%,#9cd 0 41%,#ffb 0 41.25%,#d43 0 41.5%,#69c 0 41.75%,#58b 0 42%,#349 0 42.25%,#fe9 0 42.5%,#ffc 0 42.75%,#eee 0 43%,#ffc 0 43.25%,#a12 0 43.5%,#e53 0 43.75%,#ffb 0 44%,#fe9 0 44.25%,#8bd 0 44.5%,#46a 0 44.75%,#bde 0 45%,#fe9 0 45.25%,#a12 0 45.5%,#ffc 0 45.75%,#f95 0 46%,#a12 0 46.25%,#e74 0 46.5%,#fe9 0 46.75%,#e74 0 47%,#349 0 47.25%,#fb6 0 47.5%,#eee 0 47.75%,#ffb 0 48%,#349 0 48.25%,#cee 0 48.5%,#349 0 48.75%,#f95 0 49%,#bde 0 49.25%,#ffb 0 49.5%,#ffc 0 49.75%,#c22 0 50%,#349 0 50.25%,#69c 0 50.5%,#fc8 0 50.75%,#e74 0 51%,#cee 0 51.25%,#ffc 0 51.5%,#fe9 0 51.75%,#eee 0 52%,#a12 0 52.25%,#ffb 0 52.5%,#fe9 0 52.75%,#ffb 0 53%,#fc8 0 53.25%,#cee 0 53.5%,#ffb 0 54%,#ffc 0 54.25%,#ffb 0 54.5%,#a12 0 54.75%,#eee 0 55%,#ffb 0 55.5%,#349 0 55.75%,#46a 0 56%,#ffb 0 56.25%,#fe9 0 56.5%,#69c 0 56.75%,#eee 0 57%,#fe9 0 57.25%,#eee 0 57.5%,#d43 0 58%,#69c 0 58.25%,#e74 0 58.5%,#ffc 0 58.75%,#fe9 0 59%,#69c 0 59.25%,#fe9 0 60%,#ffc 0 60.25%,#46a 0 60.5%,#f95 0 60.75%,#fb6 0 61%,#ffc 0 61.25%,#69c 0 61.5%,#fc8 0 61.75%,#cee 0 62%,#ffc 0 62.25%,#58b 0 62.5%,#f95 0 62.75%,#ffb 0 63.25%,#bde 0 63.5%,#ffc 0 63.75%,#eee 0 64%,#a12 0 64.25%,#ffb 0 64.5%,#eee 0 64.75%,#8bd 0 65%,#bde 0 65.5%,#f95 0 65.75%,#ffc 0 66%,#eee 0 66.25%,#d43 0 66.5%,#c22 0 66.75%,#ffb 0 67%,#ffc 0 67.25%,#fc8 0 67.5%,#ffb 0 68%,#349 0 68.25%,#fe9 0 68.5%,#e53 0 68.75%,#fe9 0 69%,#ffc 0 69.25%,#a12 0 69.5%,#fb6 0 69.75%,#ffb 0 70.5%,#fc8 0 70.75%,#fe9 0 71%,#e74 0 71.25%,#fe9 0 71.5%,#9cd 0 71.75%,#fb6 0 72%,#fc8 0 72.25%,#69c 0 72.5%,#8bd 0 72.75%,#fe9 0 73%,#ffb 0 73.5%,#ffc 0 73.75%,#349 0 74%,#ffb 0 74.25%,#ffc 0 75%,#69c 0 75.25%,#ffc 0 75.75%,#bde 0 76%,#ffc 0 76.25%,#e53 0 76.5%,#ffb 0 76.75%,#f95 0 77%,#fb6 0 77.25%,#ffb 0 77.5%,#349 0 77.75%,#ffc 0 78%,#ffb 0 78.25%,#f95 0 78.5%,#ffb 0 78.75%,#ffc 0 79%,#bde 0 79.25%,#ffc 0 79.5%,#cee 0 79.75%,#69c 0 80%,#eee 0 80.25%,#9cd 0 80.5%,#ffb 0 80.75%,#bde 0 81%,#f95 0 81.25%,#fe9 0 81.5%,#ffb 0 81.75%,#fb6 0 82%,#cee 0 82.25%,#58b 0 82.5%,#9cd 0 82.75%,#fe9 0 83%,#ffb 0 83.5%,#ffc 0 83.75%,#ffb 0 84%,#fe9 0 84.25%,#cee 0 84.5%,#f95 0 84.75%,#fb6 0 85%,#f95 0 85.25%,#69c 0 85.5%,#cee 0 85.75%,#fe9 0 86%,#f95 0 86.25%,#fe9 0 86.5%,#ffb 0 87%,#fb6 0 87.25%,#8bd 0 87.5%,#a12 0 87.75%,#ffc 0 88%,#349 0 88.25%,#9cd 0 88.5%,#fc8 0 88.75%,#bde 0 89%,#fe9 0 89.5%,#fb6 0 89.75%,#a12 0 90.5%,#e53 0 90.75%,#ffb 0 91.25%,#bde 0 91.5%,#8bd 0 91.75%,#ffb 0 92.25%,#d43 0 92.5%,#ffb 0 92.75%,#ffc 0 93%,#eee 0 93.25%,#ffb 0 93.5%,#eee 0 93.75%,#fe9 0 94%,#ffb 0 94.25%,#bde 0 94.5%,#e74 0 94.75%,#a12 0 95%,#ffb 0 95.25%,#fe9 0 95.5%,#fc8 0 95.75%,#c22 0 96%,#e74 0 96.25%,#fb6 0 96.5%,#cee 0 96.75%,#ffb 0 97%,#eee 0 97.25%,#cee 0 97.5%,#eee 0 98%,#f95 0 98.25%,#bde 0 98.5%,#e74 0 98.75%,#fe9 0 99.25%,#fb6 0 99.5%,#fe9 0 99.75%,#ffb 0)"></i>
<i style="inset:-55.3px;background:conic-gradient(#58b 0 0.25%,#ffc 0 0.5%,#e74 0 0.75%,#f95 0 1%,#cee 0 1.25%,#ffb 0 1.5%,#8bd 0 1.75%,#bde 0 2%,#eee 0 2.25%,#349 0 9deg,#69c 0 2.75%,#ffb 0 3%,#fc8 0 3.25%,#8bd 0 3.5%,#e74 0 3.75%,#ffc 0 4.5%,#349 0 4.75%,#fc8 0 5%,#ffb 0 5.25%,#ffc 0 5.75%,#cee 0 6%,#8bd 0 6.25%,#fc8 0 6.5%,#ffb 0 6.75%,#ffc 0 7%,#eee 0 7.25%,#fe9 0 7.5%,#bde 0 7.75%,#ffc 0 8%,#e74 0 8.25%,#fb6 0 8.5%,#fc8 0 8.75%,#ffb 0 9%,#eee 0 9.25%,#349 0 9.5%,#fc8 0 9.75%,#fb6 0 10%,#fc8 0 10.25%,#349 0 10.5%,#fb6 0 10.75%,#e53 0 11%,#fb6 0 11.25%,#bde 0 11.5%,#ffb 0 12%,#58b 0 12.25%,#ffb 0 45deg,#e53 0 12.75%,#349 0 13%,#8bd 0 13.25%,#fe9 0 13.5%,#ffb 0 13.75%,#69c 0 14%,#ffc 0 14.25%,#f95 0 14.5%,#69c 0 14.75%,#8bd 0 15%,#69c 0 15.25%,#a12 0 15.5%,#d43 0 15.75%,#ffb 0 16%,#fb6 0 16.25%,#ffb 0 16.5%,#fe9 0 16.75%,#bde 0 17%,#a12 0 17.25%,#eee 0 63deg,#ffb 0 17.75%,#fe9 0 18%,#e74 0 18.25%,#a12 0 18.5%,#bde 0 18.75%,#349 0 19%,#c22 0 19.25%,#fb6 0 19.5%,#ffb 0 19.75%,#ffc 0 20%,#349 0 20.25%,#9cd 0 20.5%,#e74 0 20.75%,#fc8 0 21%,#ffc 0 21.25%,#69c 0 21.5%,#d43 0 21.75%,#ffc 0 22%,#ffb 0 22.25%,#fe9 0 81deg,#eee 0 22.75%,#e53 0 23.25%,#f95 0 23.5%,#eee 0 23.75%,#ffb 0 24%,#8bd 0 24.25%,#a12 0 24.5%,#349 0 24.75%,#eee 0 25%,#e53 0 25.25%,#349 0 26.25%,#46a 0 26.5%,#bde 0 26.75%,#e53 0 27%,#fc8 0 27.25%,#e74 0 99deg,#fc8 0 27.75%,#349 0 28%,#ffb 0 28.5%,#e74 0 28.75%,#fe9 0 29%,#cee 0 29.25%,#f95 0 29.5%,#a12 0 29.75%,#e74 0 30%,#d43 0 30.25%,#349 0 30.5%,#e53 0 30.75%,#349 0 31%,#bde 0 31.5%,#8bd 0 32%,#a12 0 32.25%,#fb6 0 32.5%,#ffb 0 32.75%,#58b 0 33%,#a12 0 33.25%,#f95 0 33.75%,#c22 0 34%,#bde 0 34.25%,#f95 0 34.5%,#d43 0 34.75%,#349 0 35%,#fc8 0 35.25%,#349 0 35.5%,#eee 0 35.75%,#ffb 0 36%,#46a 0 36.25%,#349 0 36.5%,#cee 0 36.75%,#bde 0 37%,#e74 0 37.25%,#ffb 0 37.5%,#eee 0 37.75%,#fb6 0 38%,#349 0 38.25%,#58b 0 38.5%,#349 0 38.75%,#f95 0 39%,#cee 0 39.25%,#9cd 0 39.5%,#fe9 0 39.75%,#eee 0 40%,#ffb 0 40.25%,#fc8 0 40.5%,#e53 0 40.75%,#8bd 0 41%,#ffb 0 41.25%,#e74 0 41.5%,#9cd 0 41.75%,#58b 0 42%,#349 0 42.25%,#ffb 0 42.5%,#eee 0 42.75%,#ffc 0 43%,#eee 0 43.25%,#a12 0 43.5%,#fc8 0 43.75%,#ffb 0 44%,#fc8 0 44.25%,#9cd 0 44.5%,#349 0 44.75%,#bde 0 45%,#fe9 0 45.25%,#f95 0 45.5%,#eee 0 45.75%,#fc8 0 46%,#a12 0 46.25%,#ffb 0 46.75%,#e74 0 47%,#349 0 47.25%,#f95 0 47.5%,#58b 0 47.75%,#ffb 0 48%,#8bd 0 48.25%,#ffc 0 48.5%,#349 0 48.75%,#fb6 0 49%,#cee 0 49.25%,#e53 0 49.5%,#bde 0 49.75%,#e53 0 50%,#349 0 50.25%,#9cd 0 50.5%,#f95 0 51%,#eee 0 51.25%,#ffb 0 51.75%,#eee 0 52%,#a12 0 52.25%,#ffb 0 52.5%,#d43 0 52.75%,#ffb 0 53%,#fc8 0 53.25%,#ffb 0 53.5%,#fb6 0 53.75%,#ffc 0 54%,#eee 0 54.25%,#ffb 0 54.5%,#a12 0 54.75%,#eee 0 55%,#fc8 0 55.25%,#ffc 0 55.5%,#69c 0 55.75%,#46a 0 56%,#ffb 0 56.25%,#fe9 0 56.5%,#bde 0 56.75%,#eee 0 57%,#fe9 0 57.25%,#ffb 0 57.5%,#e53 0 57.75%,#f95 0 58%,#58b 0 58.25%,#a12 0 58.5%,#ffc 0 58.75%,#ffb 0 59%,#9cd 0 59.25%,#ffb 0 59.5%,#fb6 0 59.75%,#ffb 0 60.25%,#9cd 0 60.5%,#f95 0 60.75%,#fb6 0 61%,#bde 0 61.25%,#58b 0 61.5%,#fe9 0 61.75%,#bde 0 62%,#ffc 0 62.25%,#58b 0 62.5%,#fb6 0 62.75%,#ffc 0 63.25%,#cee 0 63.5%,#ffc 0 63.75%,#cee 0 64%,#fb6 0 64.25%,#ffb 0 64.75%,#69c 0 65%,#349 0 65.25%,#ffc 0 65.5%,#fe9 0 65.75%,#fc8 0 66%,#ffc 0 66.25%,#e53 0 66.5%,#c22 0 66.75%,#ffb 0 67%,#ffc 0 67.25%,#fb6 0 67.5%,#fc8 0 67.75%,#ffb 0 68%,#349 0 68.25%,#e74 0 68.75%,#f95 0 69%,#cee 0 69.25%,#a12 0 69.5%,#ffb 0 69.75%,#fb6 0 70%,#ffc 0 70.25%,#ffb 0 70.5%,#fe9 0 70.75%,#e74 0 71.25%,#ffb 0 71.5%,#9cd 0 71.75%,#f95 0 72%,#fe9 0 72.25%,#8bd 0 72.5%,#69c 0 72.75%,#fe9 0 73%,#ffb 0 73.25%,#cee 0 73.5%,#ffc 0 73.75%,#349 0 74%,#ffb 0 74.25%,#bde 0 74.5%,#ffc 0 75%,#69c 0 75.25%,#eee 0 75.75%,#cee 0 76%,#ffb 0 76.25%,#d43 0 76.5%,#ffb 0 76.75%,#e74 0 77%,#ffc 0 77.25%,#ffb 0 77.5%,#46a 0 77.75%,#ffb 0 78%,#cee 0 78.25%,#ffb 0 78.75%,#ffc 0 79%,#bde 0 79.25%,#cee 0 79.5%,#bde 0 80.25%,#69c 0 80.5%,#ffb 0 80.75%,#cee 0 81%,#f95 0 81.25%,#fe9 0 81.75%,#ffb 0 82%,#ffc 0 82.25%,#bde 0 82.5%,#9cd 0 82.75%,#fe9 0 83.25%,#eee 0 83.5%,#ffb 0 83.75%,#fe9 0 84%,#ffb 0 84.25%,#ffc 0 84.5%,#fb6 0 84.75%,#fe9 0 85%,#f95 0 85.25%,#69c 0 85.5%,#9cd 0 85.75%,#fc8 0 86.25%,#fb6 0 86.5%,#cee 0 86.75%,#fe9 0 87%,#e53 0 87.25%,#8bd 0 87.5%,#a12 0 87.75%,#ffb 0 88%,#349 0 88.25%,#8bd 0 88.5%,#ffb 0 88.75%,#8bd 0 89%,#fb6 0 89.25%,#fe9 0 89.5%,#fc8 0 89.75%,#a12 0 90.5%,#e53 0 90.75%,#ffb 0 91.25%,#cee 0 91.5%,#46a 0 91.75%,#ffc 0 92%,#ffb 0 92.25%,#a12 0 92.5%,#ffb 0 92.75%,#eee 0 93%,#cee 0 93.25%,#ffb 0 93.5%,#ffc 0 93.75%,#ffb 0 94.25%,#bde 0 94.5%,#fb6 0 94.75%,#a12 0 95%,#ffb 0 95.25%,#fe9 0 95.75%,#a12 0 96%,#f95 0 96.5%,#cee 0 96.75%,#ffc 0 97.5%,#bde 0 97.75%,#ffb 0 98.25%,#cee 0 98.5%,#fc8 0 98.75%,#f95 0 99%,#fe9 0 99.25%,#fc8 0 99.5%,#ffb 0 99.75%,#eee 0)"></i>
<i style="inset:-53.7px;background:conic-gradient(#9cd 0 0.25%,#ffc 0 0.5%,#fc8 0 1%,#9cd 0 1.25%,#ffb 0 1.5%,#69c 0 1.75%,#ffc 0 2%,#ffb 0 2.25%,#349 0 9deg,#46a 0 2.75%,#fc8 0 3.25%,#8bd 0 3.5%,#e74 0 3.75%,#ffb 0 4%,#cee 0 4.25%,#ffb 0 4.5%,#58b 0 4.75%,#f95 0 5%,#ffb 0 5.25%,#eee 0 5.5%,#ffb 0 5.75%,#ffc 0 6%,#8bd 0 6.25%,#fc8 0 6.5%,#ffc 0 7.25%,#fe9 0 7.5%,#cee 0 7.75%,#ffc 0 8%,#d43 0 8.25%,#f95 0 8.5%,#fe9 0 8.75%,#ffc 0 9%,#ffb 0 9.25%,#349 0 9.5%,#d43 0 9.75%,#ffb 0 10%,#fc8 0 10.25%,#349 0 10.5%,#fb6 0 10.75%,#c22 0 11%,#fc8 0 11.25%,#8bd 0 11.5%,#ffc 0 12%,#46a 0 12.25%,#ffb 0 45deg,#e74 0 12.75%,#349 0 13%,#bde 0 13.25%,#eee 0 13.5%,#ffb 0 13.75%,#9cd 0 14%,#ffb 0 14.25%,#fb6 0 14.5%,#69c 0 14.75%,#eee 0 15%,#349 0 15.25%,#c22 0 15.5%,#fc8 0 15.75%,#ffc 0 16%,#fe9 0 16.5%,#fb6 0 16.75%,#ffc 0 17%,#a12 0 17.25%,#fe9 0 63deg,#fc8 0 18%,#f95 0 18.25%,#e53 0 18.5%,#8bd 0 18.75%,#349 0 19%,#e53 0 19.25%,#f95 0 19.5%,#ffb 0 19.75%,#bde 0 20%,#58b 0 20.25%,#9cd 0 20.5%,#fc8 0 20.75%,#fe9 0 21%,#ffb 0 21.25%,#46a 0 21.5%,#e74 0 21.75%,#ffc 0 22%,#fe9 0 22.25%,#ffb 0 81deg,#ffc 0 22.75%,#f95 0 23.25%,#fb6 0 23.5%,#eee 0 23.75%,#ffb 0 24%,#8bd 0 24.25%,#a12 0 24.5%,#349 0 24.75%,#eee 0 25%,#a12 0 25.25%,#69c 0 25.5%,#349 0 25.75%,#69c 0 26%,#46a 0 26.25%,#69c 0 26.5%,#cee 0 26.75%,#f95 0 27%,#fc8 0 27.25%,#c22 0 99deg,#f95 0 27.75%,#349 0 28%,#ffb 0 28.25%,#fc8 0 28.5%,#d43 0 28.75%,#fb6 0 29%,#ffc 0 29.25%,#e74 0 29.5%,#a12 0 29.75%,#fb6 0 30%,#d43 0 30.25%,#349 0 30.5%,#c22 0 30.75%,#349 0 31%,#ffc 0 31.25%,#cee 0 31.5%,#9cd 0 31.75%,#8bd 0 32%,#a12 0 32.25%,#fe9 0 32.5%,#ffb 0 32.75%,#69c 0 33%,#a12 0 33.25%,#f95 0 33.5%,#fb6 0 33.75%,#e74 0 34%,#eee 0 34.25%,#fb6 0 34.5%,#e53 0 34.75%,#349 0 35%,#fb6 0 35.25%,#349 0 35.5%,#ffc 0 35.75%,#fc8 0 36%,#349 0 36.5%,#bde 0 36.75%,#eee 0 37%,#e74 0 37.25%,#ffc 0 37.5%,#ffb 0 37.75%,#fb6 0 38%,#349 0 38.25%,#9cd 0 38.5%,#349 0 38.75%,#c22 0 39%,#9cd 0 39.5%,#fe9 0 39.75%,#cee 0 40%,#ffb 0 40.25%,#fb6 0 40.75%,#69c 0 41%,#ffb 0 41.25%,#fe9 0 41.5%,#cee 0 41.75%,#69c 0 42%,#46a 0 42.25%,#ffb 0 42.5%,#eee 0 42.75%,#ffc 0 43%,#eee 0 43.25%,#a12 0 43.5%,#ffb 0 44%,#fc8 0 44.25%,#8bd 0 44.5%,#349 0 44.75%,#bde 0 45%,#ffb 0 45.5%,#cee 0 45.75%,#ffb 0 46%,#a12 0 46.25%,#bde 0 46.5%,#fe9 0 46.75%,#e74 0 47%,#46a 0 47.25%,#e74 0 47.5%,#349 0 47.75%,#fb6 0 48%,#ffc 0 48.25%,#eee 0 48.5%,#349 0 48.75%,#fc8 0 49%,#eee 0 49.25%,#a12 0 49.5%,#9cd 0 49.75%,#e53 0 50%,#46a 0 50.25%,#cee 0 50.5%,#f95 0 50.75%,#fe9 0 51%,#ffb 0 51.75%,#ffc 0 52%,#d43 0 52.25%,#fc8 0 52.5%,#a12 0 52.75%,#ffc 0 53%,#fe9 0 53.25%,#fb6 0 53.5%,#f95 0 53.75%,#ffc 0 54%,#eee 0 54.25%,#fe9 0 54.5%,#a12 0 54.75%,#eee 0 55%,#e74 0 55.25%,#ffc 0 55.5%,#eee 0 55.75%,#58b 0 56%,#fe9 0 56.25%,#fc8 0 56.5%,#eee 0 56.75%,#bde 0 57%,#fe9 0 57.5%,#d43 0 57.75%,#fc8 0 58%,#58b 0 58.25%,#a12 0 58.5%,#ffb 0 58.75%,#ffc 0 59%,#bde 0 59.25%,#eee 0 59.5%,#e53 0 59.75%,#ffb 0 60.25%,#eee 0 60.5%,#fb6 0 60.75%,#fc8 0 61%,#8bd 0 61.25%,#58b 0 61.5%,#ffb 0 61.75%,#cee 0 62%,#ffc 0 62.25%,#8bd 0 62.5%,#fe9 0 62.75%,#ffc 0 63%,#cee 0 63.5%,#ffb 0 63.75%,#cee 0 64%,#ffc 0 64.25%,#fe9 0 64.5%,#ffb 0 64.75%,#9cd 0 65%,#349 0 65.25%,#ffb 0 65.5%,#ffc 0 65.75%,#e53 0 66%,#ffb 0 66.25%,#e74 0 66.5%,#e53 0 66.75%,#fc8 0 67%,#eee 0 67.25%,#fb6 0 67.5%,#f95 0 67.75%,#fe9 0 68%,#69c 0 68.25%,#c22 0 68.5%,#fb6 0 68.75%,#d43 0 69%,#cee 0 69.25%,#a12 0 69.5%,#ffb 0 69.75%,#d43 0 70%,#cee 0 70.25%,#ffb 0 70.75%,#c22 0 71%,#e74 0 71.25%,#fe9 0 71.5%,#9cd 0 71.75%,#e53 0 72%,#fe9 0 72.25%,#cee 0 72.5%,#69c 0 72.75%,#fe9 0 73%,#fc8 0 73.25%,#69c 0 73.5%,#eee 0 73.75%,#69c 0 74%,#ffb 0 74.25%,#8bd 0 74.5%,#ffc 0 75%,#58b 0 75.25%,#eee 0 75.5%,#cee 0 75.75%,#eee 0 76%,#fc8 0 76.25%,#d43 0 76.5%,#ffb 0 76.75%,#f95 0 77%,#bde 0 77.25%,#ffb 0 77.5%,#9cd 0 77.75%,#fc8 0 78%,#58b 0 78.25%,#ffc 0 78.5%,#ffb 0 78.75%,#ffc 0 79%,#cee 0 79.5%,#9cd 0 79.75%,#cee 0 80%,#bde 0 80.25%,#69c 0 80.5%,#ffb 0 80.75%,#ffc 0 81%,#f95 0 81.25%,#ffb 0 81.5%,#fb6 0 81.75%,#cee 0 82%,#ffc 0 82.5%,#bde 0 82.75%,#fe9 0 83.25%,#9cd 0 83.5%,#fe9 0 83.75%,#ffb 0 84.5%,#fb6 0 84.75%,#ffb 0 85%,#fb6 0 85.25%,#8bd 0 85.75%,#fb6 0 86%,#ffb 0 86.25%,#f95 0 86.5%,#8bd 0 86.75%,#fe9 0 87%,#a12 0 87.25%,#bde 0 87.5%,#c22 0 87.75%,#fe9 0 88%,#46a 0 88.25%,#9cd 0 88.5%,#bde 0 88.75%,#9cd 0 89%,#fb6 0 89.5%,#fc8 0 89.75%,#c22 0 90%,#a12 0 90.5%,#f95 0 90.75%,#ffc 0 91%,#ffb 0 91.25%,#ffc 0 91.5%,#349 0 91.75%,#9cd 0 92%,#ffc 0 92.25%,#a12 0 92.5%,#fc8 0 92.75%,#cee 0 93%,#bde 0 93.25%,#ffb 0 94%,#ffc 0 94.25%,#cee 0 94.5%,#fc8 0 94.75%,#c22 0 95%,#ffb 0 95.25%,#fe9 0 95.5%,#fc8 0 95.75%,#a12 0 96%,#fe9 0 96.25%,#e74 0 96.5%,#cee 0 96.75%,#ffc 0 97%,#eee 0 97.25%,#ffb 0 97.5%,#9cd 0 97.75%,#fe9 0 98%,#ffc 0 98.25%,#cee 0 98.5%,#ffb 0 98.75%,#e74 0 99%,#fe9 0 99.25%,#ffb 0 99.5%,#ffc 0 99.75%,#eee 0)"></i>
<i style="inset:-52.1px;background:conic-gradient(#ffc 0 0.25%,#ffb 0 1%,#8bd 0 1.25%,#ffb 0 1.5%,#69c 0 1.75%,#ffb 0 2%,#fc8 0 2.25%,#349 0 9deg,#46a 0 2.75%,#fb6 0 3%,#fc8 0 3.25%,#cee 0 3.5%,#e74 0 3.75%,#fe9 0 4%,#8bd 0 4.25%,#fe9 0 4.5%,#bde 0 4.75%,#f95 0 5%,#fe9 0 5.25%,#9cd 0 5.5%,#ffb 0 5.75%,#fe9 0 6%,#bde 0 6.25%,#fe9 0 6.5%,#ffb 0 6.75%,#eee 0 7%,#ffc 0 7.25%,#fc8 0 7.5%,#bde 0 7.75%,#ffc 0 8%,#d43 0 8.25%,#fb6 0 8.5%,#ffb 0 8.75%,#ffc 0 9%,#fe9 0 9.25%,#69c 0 9.5%,#a12 0 9.75%,#ffc 0 10%,#fc8 0 10.25%,#58b 0 10.5%,#fc8 0 10.75%,#c22 0 11%,#fe9 0 11.25%,#69c 0 11.5%,#eee 0 12%,#349 0 12.25%,#ffc 0 45deg,#fb6 0 12.75%,#69c 0 13%,#eee 0 13.25%,#8bd 0 13.5%,#ffb 0 13.75%,#eee 0 14%,#fc8 0 14.5%,#8bd 0 14.75%,#ffb 0 15%,#349 0 15.25%,#c22 0 15.5%,#ffb 0 15.75%,#cee 0 16%,#ffb 0 16.25%,#fe9 0 16.5%,#e74 0 16.75%,#ffb 0 17%,#e53 0 17.25%,#e74 0 63deg,#fb6 0 17.75%,#fe9 0 18%,#fb6 0 18.25%,#e74 0 18.5%,#8bd 0 18.75%,#349 0 19%,#fe9 0 19.25%,#e74 0 19.5%,#ffc 0 19.75%,#58b 0 20%,#8bd 0 20.25%,#cee 0 20.5%,#fe9 0 20.75%,#ffb 0 21.25%,#349 0 21.5%,#f95 0 21.75%,#ffb 0 22%,#fc8 0 22.25%,#cee 0 81deg,#ffb 0 22.75%,#fc8 0 23%,#fb6 0 23.25%,#f95 0 23.5%,#ffc 0 23.75%,#eee 0 24%,#9cd 0 24.25%,#a12 0 24.5%,#58b 0 24.75%,#cee 0 25%,#a12 0 25.25%,#bde 0 25.5%,#349 0 25.75%,#bde 0 26%,#58b 0 26.25%,#69c 0 26.5%,#bde 0 26.75%,#fb6 0 27%,#fe9 0 27.25%,#a12 0 99deg,#e53 0 27.75%,#bde 0 28%,#ffb 0 28.25%,#e74 0 28.5%,#e53 0 28.75%,#fc8 0 29%,#ffb 0 29.25%,#fc8 0 29.5%,#a12 0 29.75%,#fc8 0 30%,#e53 0 30.25%,#349 0 30.5%,#e53 0 30.75%,#349 0 31%,#ffb 0 31.25%,#eee 0 31.5%,#cee 0 31.75%,#69c 0 32%,#a12 0 32.25%,#ffb 0 32.75%,#bde 0 33%,#a12 0 33.25%,#e74 0 33.5%,#fc8 0 33.75%,#fe9 0 34%,#ffc 0 34.25%,#fe9 0 34.5%,#e53 0 34.75%,#58b 0 35%,#e74 0 35.25%,#58b 0 35.5%,#ffb 0 35.75%,#fb6 0 36%,#349 0 36.5%,#cee 0 36.75%,#ffb 0 37%,#e74 0 37.25%,#ffc 0 37.5%,#fe9 0 37.75%,#f95 0 38%,#349 0 38.25%,#eee 0 38.5%,#349 0 38.75%,#a12 0 39%,#58b 0 39.25%,#cee 0 39.5%,#fb6 0 39.75%,#eee 0 40%,#fe9 0 40.25%,#fc8 0 40.75%,#69c 0 41%,#ffb 0 41.5%,#eee 0 41.75%,#9cd 0 42.25%,#ffc 0 42.75%,#ffb 0 43%,#eee 0 43.25%,#a12 0 43.5%,#eee 0 43.75%,#ffc 0 44%,#fc8 0 44.25%,#46a 0 44.5%,#349 0 44.75%,#bde 0 45%,#eee 0 45.5%,#9cd 0 45.75%,#eee 0 46%,#a12 0 46.25%,#8bd 0 46.5%,#fc8 0 46.75%,#fb6 0 47%,#8bd 0 47.25%,#e74 0 47.5%,#349 0 47.75%,#e74 0 48%,#ffb 0 48.25%,#9cd 0 48.5%,#349 0 48.75%,#fb6 0 49%,#eee 0 49.25%,#a12 0 49.5%,#bde 0 49.75%,#e53 0 50%,#69c 0 50.25%,#cee 0 50.5%,#fc8 0 50.75%,#ffb 0 52%,#f95 0 52.25%,#fb6 0 52.5%,#a12 0 52.75%,#eee 0 53%,#ffb 0 53.25%,#c22 0 53.5%,#fc8 0 53.75%,#ffc 0 54%,#eee 0 54.25%,#fb6 0 54.5%,#a12 0 54.75%,#ffc 0 55%,#c22 0 55.25%,#eee 0 55.5%,#ffb 0 55.75%,#69c 0 56%,#fb6 0 56.5%,#eee 0 56.75%,#8bd 0 57%,#ffb 0 57.25%,#fe9 0 57.5%,#a12 0 57.75%,#ffb 0 58%,#69c 0 58.25%,#e74 0 58.5%,#ffb 0 58.75%,#ffc 0 59%,#cee 0 59.5%,#d43 0 59.75%,#ffc 0 60%,#ffb 0 60.5%,#fe9 0 60.75%,#ffb 0 61%,#9cd 0 61.25%,#69c 0 61.5%,#ffb 0 61.75%,#ffc 0 62%,#ffb 0 62.25%,#cee 0 62.5%,#ffb 0 63%,#cee 0 63.25%,#bde 0 63.5%,#ffb 0 63.75%,#cee 0 64%,#9cd 0 64.25%,#fe9 0 64.75%,#eee 0 65%,#349 0 65.25%,#fc8 0 65.5%,#eee 0 65.75%,#e53 0 66%,#ffb 0 66.25%,#fc8 0 66.5%,#fb6 0 66.75%,#e53 0 67%,#eee 0 67.25%,#fc8 0 67.5%,#f95 0 67.75%,#fb6 0 68%,#cee 0 68.25%,#e53 0 68.5%,#fe9 0 68.75%,#c22 0 69%,#eee 0 69.25%,#fb6 0 69.5%,#ffc 0 69.75%,#d43 0 70%,#bde 0 70.25%,#ffc 0 70.75%,#a12 0 71%,#e74 0 71.25%,#fb6 0 71.5%,#bde 0 71.75%,#d43 0 72%,#fc8 0 72.25%,#ffb 0 72.5%,#58b 0 72.75%,#ffb 0 73%,#fc8 0 73.25%,#46a 0 73.5%,#ffc 0 73.75%,#cee 0 74%,#fc8 0 74.25%,#8bd 0 74.5%,#ffc 0 74.75%,#eee 0 75%,#58b 0 75.25%,#eee 0 75.5%,#bde 0 75.75%,#ffb 0 76%,#f95 0 76.25%,#e53 0 76.5%,#ffb 0 76.75%,#fe9 0 77%,#9cd 0 77.25%,#ffc 0 77.75%,#f95 0 78%,#349 0 78.25%,#eee 0 78.5%,#ffb 0 78.75%,#ffc 0 79%,#eee 0 79.25%,#bde 0 79.5%,#9cd 0 79.75%,#cee 0 80%,#eee 0 80.25%,#8bd 0 80.5%,#fe9 0 80.75%,#ffb 0 81%,#fc8 0 81.25%,#ffb 0 81.5%,#fb6 0 81.75%,#349 0 82%,#ffb 0 82.5%,#eee 0 82.75%,#fc8 0 83%,#fe9 0 83.25%,#69c 0 83.5%,#fe9 0 83.75%,#ffc 0 84%,#ffb 0 84.25%,#fe9 0 84.5%,#e74 0 84.75%,#ffc 0 85%,#ffb 0 85.25%,#8bd 0 85.5%,#9cd 0 85.75%,#fb6 0 86%,#ffc 0 86.25%,#f95 0 86.5%,#58b 0 86.75%,#ffb 0 87%,#a12 0 87.25%,#ffc 0 87.5%,#f95 0 87.75%,#fb6 0 88%,#eee 0 88.25%,#cee 0 88.5%,#69c 0 88.75%,#eee 0 89%,#fe9 0 89.25%,#e53 0 89.5%,#fe9 0 89.75%,#f95 0 90%,#a12 0 90.5%,#fc8 0 90.75%,#cee 0 91%,#ffc 0 91.5%,#349 0 92%,#ffb 0 92.25%,#c22 0 92.5%,#d43 0 92.75%,#cee 0 93%,#9cd 0 93.25%,#ffb 0 93.5%,#fe9 0 94%,#cee 0 94.25%,#eee 0 94.5%,#fe9 0 94.75%,#e74 0 95%,#ffc 0 95.25%,#fc8 0 95.5%,#f95 0 95.75%,#c22 0 96%,#ffb 0 96.25%,#e74 0 96.5%,#eee 0 96.75%,#ffb 0 97%,#cee 0 97.25%,#fc8 0 97.5%,#bde 0 97.75%,#fb6 0 98%,#eee 0 98.25%,#cee 0 98.5%,#eee 0 98.75%,#e74 0 99%,#ffb 0 99.5%,#ffc 0)"></i>
<i style="inset:-50.5px;background:conic-gradient(#fe9 0 0.25%,#ffb 0 1%,#8bd 0 1.25%,#fc8 0 1.5%,#9cd 0 1.75%,#fc8 0 2%,#fb6 0 2.25%,#69c 0 9deg,#8bd 0 2.75%,#fc8 0 3%,#fb6 0 3.25%,#ffb 0 3.5%,#e74 0 3.75%,#fc8 0 4%,#349 0 4.25%,#ffb 0 4.75%,#e74 0 5%,#fc8 0 5.25%,#69c 0 5.5%,#ffb 0 5.75%,#fc8 0 6%,#cee 0 6.25%,#ffb 0 6.75%,#cee 0 7%,#ffb 0 7.25%,#f95 0 7.5%,#9cd 0 7.75%,#ffb 0 8%,#f95 0 8.25%,#ffb 0 8.75%,#ffc 0 9%,#fe9 0 9.25%,#bde 0 9.5%,#a12 0 9.75%,#eee 0 10%,#fe9 0 10.25%,#69c 0 10.5%,#fe9 0 10.75%,#d43 0 11%,#fc8 0 11.25%,#8bd 0 11.5%,#eee 0 11.75%,#cee 0 12%,#349 0 12.25%,#eee 0 45deg,#fc8 0 12.75%,#bde 0 13%,#ffc 0 13.25%,#46a 0 13.5%,#ffb 0 13.75%,#ffc 0 14%,#fc8 0 14.25%,#fe9 0 14.5%,#8bd 0 14.75%,#fc8 0 15%,#349 0 15.25%,#a12 0 15.5%,#eee 0 15.75%,#8bd 0 16%,#fe9 0 16.25%,#ffc 0 16.5%,#f95 0 16.75%,#fb6 0 17.25%,#e74 0 63deg,#fc8 0 17.75%,#fe9 0 18%,#fc8 0 18.25%,#fb6 0 18.5%,#8bd 0 18.75%,#349 0 19%,#ffc 0 19.25%,#d43 0 19.5%,#eee 0 19.75%,#349 0 20%,#cee 0 20.25%,#ffc 0 20.5%,#fc8 0 20.75%,#ffc 0 21%,#ffb 0 21.25%,#349 0 21.5%,#fb6 0 21.75%,#fe9 0 22%,#e53 0 22.25%,#8bd 0 81deg,#ffb 0 22.75%,#fb6 0 23%,#f95 0 23.25%,#e74 0 23.5%,#ffc 0 23.75%,#cee 0 24.25%,#d43 0 24.5%,#ffc 0 24.75%,#bde 0 25%,#a12 0 25.25%,#cee 0 25.5%,#349 0 25.75%,#eee 0 26%,#58b 0 26.25%,#69c 0 26.5%,#8bd 0 26.75%,#fc8 0 27%,#ffb 0 27.25%,#a12 0 99deg,#c22 0 27.75%,#ffc 0 28%,#ffb 0 28.25%,#d43 0 28.5%,#fb6 0 28.75%,#ffb 0 29%,#fe9 0 29.25%,#ffb 0 29.5%,#e53 0 29.75%,#fc8 0 30%,#f95 0 30.25%,#349 0 30.5%,#f95 0 30.75%,#349 0 31%,#fb6 0 31.25%,#cee 0 31.5%,#ffc 0 31.75%,#69c 0 32%,#d43 0 32.25%,#ffb 0 32.5%,#fe9 0 32.75%,#eee 0 33%,#a12 0 33.25%,#e74 0 33.5%,#fe9 0 33.75%,#ffb 0 34%,#cee 0 34.25%,#ffb 0 34.5%,#e74 0 34.75%,#bde 0 35%,#c22 0 35.25%,#9cd 0 35.5%,#ffb 0 35.75%,#fc8 0 36%,#349 0 36.5%,#ffc 0 36.75%,#ffb 0 37%,#e74 0 37.25%,#ffb 0 37.5%,#fe9 0 37.75%,#e74 0 38%,#349 0 38.25%,#ffc 0 38.5%,#349 0 38.75%,#a12 0 39%,#349 0 39.25%,#ffc 0 39.5%,#e74 0 39.75%,#ffb 0 40%,#e53 0 40.25%,#fc8 0 40.5%,#fe9 0 40.75%,#8bd 0 41%,#ffb 0 41.25%,#ffc 0 41.5%,#eee 0 41.75%,#cee 0 42%,#ffc 0 42.75%,#ffb 0 43%,#ffc 0 43.25%,#a12 0 43.5%,#bde 0 43.75%,#eee 0 44%,#e74 0 44.25%,#349 0 44.5%,#46a 0 44.75%,#9cd 0 45%,#8bd 0 45.25%,#bde 0 45.5%,#8bd 0 45.75%,#eee 0 46%,#a12 0 46.25%,#cee 0 46.5%,#fe9 0 46.75%,#fc8 0 47%,#bde 0 47.25%,#fb6 0 47.5%,#8bd 0 47.75%,#e74 0 48%,#fc8 0 48.25%,#58b 0 48.5%,#349 0 48.75%,#fb6 0 49%,#eee 0 49.25%,#a12 0 49.5%,#eee 0 49.75%,#e53 0 50%,#9cd 0 50.25%,#cee 0 50.5%,#fe9 0 50.75%,#ffb 0 51.25%,#fe9 0 51.5%,#ffb 0 52%,#fe9 0 52.25%,#f95 0 52.5%,#a12 0 52.75%,#bde 0 53%,#ffb 0 53.25%,#a12 0 53.5%,#ffb 0 54%,#eee 0 54.25%,#fb6 0 54.5%,#e53 0 54.75%,#ffc 0 55%,#a12 0 55.25%,#eee 0 55.5%,#fe9 0 55.75%,#8bd 0 56%,#e74 0 56.25%,#fb6 0 56.5%,#eee 0 56.75%,#8bd 0 57%,#ffb 0 57.5%,#a12 0 57.75%,#ffb 0 58%,#bde 0 58.25%,#ffb 0 58.5%,#fe9 0 58.75%,#ffc 0 59%,#eee 0 59.25%,#9cd 0 59.5%,#c22 0 59.75%,#ffb 0 60%,#fe9 0 60.25%,#ffb 0 60.75%,#eee 0 61%,#bde 0 61.25%,#9cd 0 61.5%,#ffb 0 62%,#fe9 0 62.25%,#eee 0 62.5%,#cee 0 62.75%,#fb6 0 63%,#eee 0 63.25%,#8bd 0 63.5%,#ffb 0 63.75%,#eee 0 64%,#58b 0 64.25%,#fb6 0 64.5%,#fe9 0 64.75%,#ffb 0 65%,#349 0 65.25%,#fc8 0 65.5%,#eee 0 65.75%,#f95 0 66%,#fe9 0 66.25%,#ffb 0 66.5%,#fc8 0 66.75%,#a12 0 67%,#ffc 0 67.25%,#ffb 0 67.5%,#fc8 0 67.75%,#e74 0 68%,#ffc 0 68.25%,#fc8 0 68.5%,#ffb 0 68.75%,#c22 0 69%,#ffb 0 69.5%,#eee 0 69.75%,#e74 0 70%,#9cd 0 70.25%,#eee 0 70.5%,#ffb 0 70.75%,#c22 0 71%,#e53 0 71.5%,#eee 0 71.75%,#e74 0 72%,#fc8 0 72.5%,#58b 0 72.75%,#ffb 0 73%,#fe9 0 73.25%,#8bd 0 73.5%,#ffb 0 74%,#fc8 0 74.25%,#8bd 0 74.5%,#ffc 0 74.75%,#bde 0 75%,#8bd 0 75.25%,#ffc 0 75.5%,#bde 0 75.75%,#fc8 0 76%,#fb6 0 76.25%,#e74 0 76.5%,#fe9 0 76.75%,#ffc 0 77%,#9cd 0 77.25%,#ffc 0 77.5%,#ffb 0 77.75%,#fb6 0 78%,#349 0 78.25%,#bde 0 78.5%,#ffb 0 79%,#ffc 0 79.25%,#bde 0 79.75%,#9cd 0 80%,#ffc 0 80.25%,#9cd 0 80.5%,#fc8 0 81%,#fe9 0 81.25%,#eee 0 81.5%,#ffb 0 81.75%,#349 0 82%,#ffb 0 82.25%,#fe9 0 82.5%,#ffc 0 82.75%,#f95 0 83%,#ffb 0 83.25%,#69c 0 83.5%,#ffb 0 83.75%,#eee 0 84%,#fe9 0 84.25%,#fc8 0 84.5%,#e74 0 84.75%,#ffc 0 85%,#eee 0 85.25%,#69c 0 85.5%,#cee 0 85.75%,#fe9 0 86%,#eee 0 86.25%,#fe9 0 86.5%,#8bd 0 86.75%,#ffc 0 87%,#a12 0 87.25%,#fe9 0 87.75%,#f95 0 88%,#ffb 0 88.25%,#eee 0 88.5%,#8bd 0 88.75%,#ffb 0 89%,#ffc 0 89.25%,#d43 0 89.5%,#ffb 0 90%,#e74 0 90.25%,#e53 0 90.5%,#ffb 0 90.75%,#bde 0 91%,#eee 0 91.25%,#ffc 0 91.5%,#349 0 92%,#ffb 0 92.25%,#fb6 0 92.5%,#a12 0 92.75%,#bde 0 93%,#8bd 0 93.25%,#ffc 0 93.5%,#fe9 0 93.75%,#fc8 0 94%,#9cd 0 94.25%,#ffb 0 94.5%,#fe9 0 94.75%,#fc8 0 95%,#ffc 0 95.25%,#fe9 0 95.5%,#e74 0 95.75%,#e53 0 96%,#ffc 0 96.25%,#fc8 0 96.5%,#eee 0 96.75%,#ffb 0 97%,#cee 0 97.25%,#fb6 0 97.5%,#cee 0 97.75%,#fb6 0 98%,#ffc 0 98.25%,#bde 0 98.5%,#cee 0 98.75%,#fb6 0 99%,#ffc 0 99.25%,#fc8 0 99.5%,#eee 0 99.75%,#ffb 0)"></i>
<i style="inset:-48.9px;background:conic-gradient(#fb6 0 0.25%,#ffb 0 1%,#bde 0 1.25%,#fb6 0 1.5%,#eee 0 1.75%,#fb6 0 2.25%,#9cd 0 9deg,#cee 0 2.75%,#fc8 0 3%,#fb6 0 3.25%,#ffb 0 3.5%,#f95 0 3.75%,#fb6 0 4%,#349 0 4.25%,#ffc 0 4.5%,#fc8 0 4.75%,#f95 0 5%,#fc8 0 5.25%,#69c 0 5.5%,#ffc 0 5.75%,#fb6 0 6%,#ffc 0 6.25%,#ffb 0 6.5%,#fc8 0 6.75%,#eee 0 7%,#ffb 0 7.25%,#e53 0 7.5%,#9cd 0 7.75%,#ffb 0 8%,#fe9 0 8.25%,#ffc 0 8.5%,#ffb 0 8.75%,#eee 0 9%,#ffb 0 9.25%,#ffc 0 9.5%,#a12 0 9.75%,#ffc 0 10%,#ffb 0 10.25%,#8bd 0 10.5%,#ffb 0 10.75%,#e53 0 11%,#f95 0 11.25%,#bde 0 11.5%,#eee 0 12%,#349 0 12.25%,#cee 0 45deg,#fe9 0 12.75%,#eee 0 13%,#ffb 0 13.25%,#349 0 13.5%,#ffb 0 14%,#fb6 0 14.25%,#ffb 0 14.5%,#9cd 0 14.75%,#fc8 0 15%,#349 0 15.25%,#a12 0 15.5%,#bde 0 15.75%,#58b 0 16%,#fb6 0 16.25%,#9cd 0 16.5%,#fb6 0 16.75%,#e53 0 17%,#fe9 0 17.25%,#fc8 0 63deg,#fe9 0 18.5%,#bde 0 18.75%,#349 0 19%,#9cd 0 19.25%,#c22 0 19.5%,#eee 0 19.75%,#349 0 20%,#ffb 0 20.5%,#f95 0 20.75%,#cee 0 21%,#ffb 0 21.25%,#58b 0 21.5%,#fc8 0 22%,#a12 0 22.25%,#349 0 81deg,#fe9 0 22.75%,#e53 0 23.5%,#eee 0 23.75%,#9cd 0 24%,#eee 0 24.25%,#e74 0 24.5%,#fb6 0 24.75%,#8bd 0 25%,#a12 0 25.25%,#cee 0 25.5%,#349 0 25.75%,#ffc 0 26%,#46a 0 26.25%,#69c 0 26.5%,#8bd 0 26.75%,#fc8 0 27%,#ffb 0 27.25%,#e53 0 27.75%,#fe9 0 28%,#ffb 0 28.25%,#d43 0 28.5%,#fc8 0 28.75%,#ffc 0 29%,#fb6 0 29.25%,#eee 0 29.5%,#fb6 0 29.75%,#fc8 0 30%,#fe9 0 30.25%,#349 0 30.5%,#f95 0 30.75%,#349 0 31%,#d43 0 31.25%,#bde 0 31.5%,#ffc 0 31.75%,#58b 0 32%,#fb6 0 32.25%,#ffb 0 32.5%,#fc8 0 32.75%,#ffc 0 33%,#c22 0 33.25%,#fb6 0 33.5%,#fe9 0 33.75%,#eee 0 34%,#349 0 34.25%,#ffb 0 34.5%,#fb6 0 34.75%,#eee 0 35%,#c22 0 35.25%,#cee 0 35.5%,#ffb 0 35.75%,#fe9 0 36%,#349 0 36.5%,#ffb 0 37%,#f95 0 37.25%,#fc8 0 37.5%,#ffb 0 37.75%,#e53 0 38%,#69c 0 38.25%,#ffb 0 38.5%,#349 0 38.75%,#c22 0 39%,#349 0 39.25%,#ffb 0 39.5%,#d43 0 39.75%,#ffb 0 40%,#a12 0 40.25%,#fc8 0 40.75%,#bde 0 41%,#ffb 0 41.5%,#eee 0 41.75%,#ffc 0 42%,#fe9 0 42.25%,#ffc 0 42.75%,#fe9 0 43%,#ffb 0 43.25%,#a12 0 43.5%,#8bd 0 43.75%,#eee 0 44%,#c22 0 44.25%,#349 0 44.5%,#8bd 0 45%,#349 0 45.25%,#cee 0 45.5%,#8bd 0 45.75%,#eee 0 46%,#a12 0 46.25%,#ffb 0 46.75%,#fe9 0 47%,#cee 0 47.25%,#ffb 0 47.5%,#eee 0 47.75%,#fc8 0 48%,#fb6 0 48.25%,#58b 0 48.5%,#349 0 48.75%,#fc8 0 49%,#eee 0 49.25%,#a12 0 49.5%,#ffb 0 49.75%,#f95 0 50%,#8bd 0 50.25%,#cee 0 50.5%,#ffb 0 51%,#ffc 0 51.25%,#fe9 0 51.5%,#fc8 0 51.75%,#ffc 0 52.25%,#e74 0 52.5%,#fb6 0 52.75%,#8bd 0 53%,#ffb 0 53.25%,#a12 0 53.5%,#ffc 0 53.75%,#fe9 0 54%,#eee 0 54.25%,#fb6 0 54.5%,#fc8 0 54.75%,#ffc 0 55%,#a12 0 55.25%,#cee 0 55.5%,#ffb 0 55.75%,#9cd 0 56%,#e53 0 56.25%,#fc8 0 56.5%,#cee 0 56.75%,#8bd 0 57%,#fe9 0 57.25%,#ffc 0 57.5%,#a12 0 57.75%,#ffb 0 58%,#eee 0 58.25%,#cee 0 58.5%,#fe9 0 58.75%,#ffb 0 59%,#ffc 0 59.25%,#9cd 0 59.5%,#e53 0 59.75%,#ffb 0 60%,#fe9 0 60.25%,#ffb 0 60.75%,#8bd 0 61%,#bde 0 61.25%,#eee 0 61.5%,#ffb 0 61.75%,#fe9 0 62.25%,#ffc 0 62.5%,#8bd 0 62.75%,#e53 0 63%,#ffb 0 63.25%,#69c 0 63.5%,#ffb 0 63.75%,#ffc 0 64%,#58b 0 64.25%,#e74 0 64.5%,#fe9 0 64.75%,#f95 0 65%,#349 0 65.25%,#fe9 0 65.5%,#ffc 0 65.75%,#fe9 0 66%,#fc8 0 66.25%,#eee 0 66.5%,#fe9 0 66.75%,#a12 0 67%,#ffb 0 67.5%,#fe9 0 67.75%,#e74 0 68%,#ffb 0 68.25%,#ffc 0 68.5%,#ffb 0 68.75%,#e53 0 69%,#ffb 0 69.25%,#ffc 0 69.5%,#eee 0 69.75%,#fc8 0 70%,#9cd 0 70.25%,#eee 0 70.5%,#fe9 0 70.75%,#e53 0 71%,#d43 0 71.25%,#a12 0 71.5%,#eee 0 71.75%,#fe9 0 72.25%,#e74 0 72.5%,#69c 0 72.75%,#ffc 0 73%,#ffb 0 73.25%,#cee 0 73.5%,#ffb 0 73.75%,#fc8 0 74%,#fe9 0 74.25%,#8bd 0 74.5%,#ffc 0 74.75%,#9cd 0 75.25%,#ffc 0 75.5%,#bde 0 75.75%,#e53 0 76%,#fe9 0 76.25%,#f95 0 76.5%,#fe9 0 76.75%,#cee 0 77%,#bde 0 77.25%,#ffc 0 77.5%,#ffb 0 77.75%,#fe9 0 78%,#69c 0 78.25%,#9cd 0 78.5%,#ffb 0 79.25%,#cee 0 79.75%,#9cd 0 80%,#ffb 0 80.25%,#9cd 0 80.5%,#fb6 0 80.75%,#fc8 0 81%,#ffb 0 81.25%,#cee 0 81.5%,#eee 0 81.75%,#349 0 82%,#ffc 0 82.25%,#fe9 0 82.5%,#ffb 0 82.75%,#e53 0 83%,#ffc 0 83.25%,#8bd 0 83.5%,#ffb 0 83.75%,#eee 0 84%,#fc8 0 84.25%,#fe9 0 84.5%,#e74 0 84.75%,#eee 0 85%,#cee 0 85.25%,#58b 0 85.5%,#eee 0 85.75%,#ffb 0 86%,#bde 0 86.25%,#ffb 0 86.5%,#bde 0 86.75%,#eee 0 87%,#d43 0 87.25%,#fe9 0 87.5%,#ffb 0 87.75%,#fc8 0 88.25%,#eee 0 88.5%,#cee 0 88.75%,#ffb 0 89%,#bde 0 89.25%,#e53 0 89.5%,#ffc 0 89.75%,#cee 0 90%,#fc8 0 90.25%,#f95 0 90.5%,#ffb 0 90.75%,#bde 0 91%,#cee 0 91.25%,#ffc 0 91.5%,#46a 0 91.75%,#9cd 0 92%,#fc8 0 92.25%,#fe9 0 92.5%,#a12 0 92.75%,#bde 0 93%,#69c 0 93.25%,#ffc 0 93.5%,#ffb 0 93.75%,#fb6 0 94%,#58b 0 94.25%,#ffb 0 94.5%,#fe9 0 95%,#ffc 0 95.25%,#ffb 0 95.5%,#e74 0 95.75%,#f95 0 96%,#ffb 0 96.5%,#eee 0 96.75%,#fe9 0 97%,#cee 0 97.25%,#fb6 0 97.5%,#eee 0 97.75%,#fb6 0 98%,#ffb 0 98.25%,#cee 0 98.5%,#eee 0 98.75%,#fe9 0 99%,#ffc 0 99.25%,#e74 0 99.5%,#eee 0 99.75%,#fc8 0)"></i>
<i style="inset:-47.3px;background:conic-gradient(#fb6 0 0.25%,#ffb 0 1%,#eee 0 1.25%,#f95 0 1.5%,#ffb 0 1.75%,#f95 0 2%,#fe9 0 2.25%,#bde 0 9deg,#ffc 0 2.75%,#fc8 0 3.25%,#ffb 0 3.5%,#f95 0 3.75%,#fb6 0 4%,#349 0 4.25%,#eee 0 4.5%,#fb6 0 5%,#fe9 0 5.25%,#9cd 0 5.5%,#eee 0 5.75%,#fc8 0 6%,#ffb 0 6.25%,#ffc 0 6.5%,#fc8 0 6.75%,#ffb 0 7%,#fe9 0 7.25%,#e53 0 7.5%,#9cd 0 7.75%,#ffb 0 8.25%,#eee 0 8.5%,#ffb 0 8.75%,#cee 0 9%,#ffb 0 9.5%,#d43 0 9.75%,#ffb 0 10%,#ffc 0 10.25%,#9cd 0 10.5%,#ffb 0 10.75%,#fb6 0 11%,#f95 0 11.25%,#eee 0 11.5%,#ffc 0 12%,#69c 0 12.25%,#cee 0 45deg,#ffb 0 12.75%,#eee 0 13%,#ffc 0 13.25%,#58b 0 13.5%,#ffb 0 14%,#fb6 0 14.25%,#ffb 0 14.5%,#eee 0 14.75%,#fe9 0 15%,#349 0 15.25%,#a12 0 15.5%,#bde 0 15.75%,#349 0 16%,#d43 0 16.25%,#349 0 16.5%,#fe9 0 16.75%,#d43 0 17%,#ffb 0 17.25%,#ffc 0 63deg,#fe9 0 18.25%,#ffc 0 18.5%,#cee 0 18.75%,#8bd 0 19%,#9cd 0 19.25%,#a12 0 19.5%,#eee 0 19.75%,#46a 0 20%,#fe9 0 20.5%,#e74 0 20.75%,#bde 0 21%,#ffc 0 21.25%,#9cd 0 21.5%,#fc8 0 22%,#a12 0 22.25%,#349 0 81deg,#ffb 0 22.75%,#c22 0 23%,#d43 0 23.5%,#cee 0 23.75%,#bde 0 24%,#ffc 0 24.25%,#fb6 0 24.5%,#a12 0 24.75%,#69c 0 25%,#a12 0 25.25%,#cee 0 25.5%,#349 0 25.75%,#eee 0 26%,#58b 0 26.25%,#9cd 0 26.5%,#bde 0 26.75%,#ffb 0 27.25%,#fb6 0 99deg,#fe9 0 27.75%,#fc8 0 28%,#ffb 0 28.25%,#e74 0 28.5%,#fc8 0 28.75%,#ffc 0 29%,#e74 0 29.25%,#9cd 0 29.5%,#ffb 0 29.75%,#fe9 0 30%,#ffc 0 30.25%,#349 0 30.5%,#e74 0 30.75%,#46a 0 31%,#a12 0 31.25%,#bde 0 31.5%,#ffc 0 31.75%,#8bd 0 32%,#fc8 0 32.25%,#ffc 0 32.5%,#fb6 0 32.75%,#ffb 0 33%,#e74 0 33.25%,#fc8 0 33.5%,#fe9 0 33.75%,#cee 0 34%,#349 0 34.25%,#ffb 0 34.5%,#fc8 0 34.75%,#ffc 0 35%,#e53 0 35.25%,#eee 0 35.5%,#ffb 0 36%,#58b 0 36.5%,#fc8 0 36.75%,#ffb 0 37%,#fb6 0 37.5%,#ffb 0 37.75%,#d43 0 38%,#cee 0 38.25%,#ffb 0 38.5%,#349 0 38.75%,#e53 0 39%,#46a 0 39.25%,#fc8 0 39.5%,#c22 0 39.75%,#fc8 0 40%,#a12 0 40.25%,#fb6 0 40.5%,#fc8 0 40.75%,#cee 0 41%,#ffc 0 41.25%,#f95 0 41.5%,#eee 0 41.75%,#ffb 0 42%,#fc8 0 42.25%,#ffc 0 42.5%,#eee 0 42.75%,#ffb 0 43%,#fe9 0 43.25%,#a12 0 43.5%,#69c 0 43.75%,#eee 0 44%,#a12 0 44.25%,#349 0 44.5%,#cee 0 44.75%,#58b 0 45%,#349 0 45.25%,#cee 0 45.5%,#bde 0 45.75%,#ffb 0 46%,#a12 0 46.25%,#f95 0 46.5%,#cee 0 46.75%,#ffb 0 47%,#cee 0 47.25%,#ffc 0 47.5%,#ffb 0 48%,#fc8 0 48.25%,#8bd 0 48.5%,#bde 0 48.75%,#ffb 0 49%,#eee 0 49.25%,#f95 0 49.5%,#ffb 0 49.75%,#fe9 0 50%,#46a 0 50.25%,#cee 0 50.5%,#ffb 0 51%,#bde 0 51.25%,#fe9 0 51.5%,#e74 0 51.75%,#ffc 0 52%,#eee 0 52.25%,#e53 0 52.5%,#ffb 0 52.75%,#8bd 0 53%,#fe9 0 53.25%,#a12 0 53.5%,#cee 0 53.75%,#fc8 0 54%,#eee 0 54.25%,#fc8 0 54.5%,#ffb 0 54.75%,#ffc 0 55%,#d43 0 55.25%,#bde 0 55.5%,#ffb 0 55.75%,#bde 0 56%,#e74 0 56.25%,#fe9 0 56.5%,#eee 0 56.75%,#9cd 0 57%,#fb6 0 57.25%,#eee 0 57.5%,#a12 0 57.75%,#ffc 0 58.25%,#9cd 0 58.5%,#fc8 0 58.75%,#fe9 0 59%,#ffb 0 59.25%,#bde 0 59.5%,#f95 0 59.75%,#fc8 0 60.25%,#ffc 0 60.5%,#fe9 0 60.75%,#46a 0 61%,#9cd 0 61.25%,#ffb 0 61.5%,#ffc 0 61.75%,#ffb 0 62.25%,#ffc 0 62.5%,#8bd 0 62.75%,#d43 0 63%,#fe9 0 63.25%,#69c 0 63.5%,#ffc 0 63.75%,#ffb 0 64%,#8bd 0 64.25%,#e53 0 64.5%,#fe9 0 64.75%,#a12 0 65%,#46a 0 65.25%,#ffb 0 66%,#fe9 0 66.25%,#bde 0 66.5%,#fe9 0 66.75%,#a12 0 67%,#ffb 0 67.25%,#ffc 0 67.5%,#ffb 0 67.75%,#fb6 0 68%,#fc8 0 68.25%,#bde 0 68.5%,#ffc 0 68.75%,#f95 0 69%,#ffb 0 69.5%,#ffc 0 69.75%,#ffb 0 70%,#9cd 0 70.25%,#eee 0 70.5%,#fc8 0 70.75%,#fb6 0 71%,#e53 0 71.25%,#a12 0 71.5%,#eee 0 71.75%,#ffc 0 72%,#ffb 0 72.25%,#e53 0 72.5%,#9cd 0 72.75%,#ffc 0 73.5%,#ffb 0 73.75%,#f95 0 74%,#ffb 0 74.25%,#8bd 0 74.5%,#eee 0 74.75%,#9cd 0 75%,#bde 0 75.25%,#ffc 0 75.5%,#bde 0 75.75%,#c22 0 76%,#ffb 0 76.25%,#fb6 0 76.5%,#fe9 0 76.75%,#bde 0 77%,#cee 0 77.25%,#eee 0 77.5%,#ffb 0 77.75%,#ffc 0 78%,#cee 0 78.25%,#8bd 0 78.5%,#ffb 0 79.25%,#eee 0 79.75%,#bde 0 80%,#ffb 0 80.25%,#9cd 0 80.5%,#fb6 0 80.75%,#fe9 0 81%,#eee 0 81.25%,#cee 0 81.5%,#9cd 0 81.75%,#349 0 82%,#eee 0 82.25%,#ffb 0 82.75%,#e53 0 83%,#eee 0 83.25%,#9cd 0 83.5%,#ffc 0 83.75%,#eee 0 84%,#fb6 0 84.25%,#fe9 0 84.5%,#fb6 0 84.75%,#eee 0 85%,#ffc 0 85.25%,#69c 0 85.5%,#ffc 0 85.75%,#ffb 0 86%,#9cd 0 86.25%,#eee 0 86.75%,#cee 0 87%,#f95 0 87.25%,#ffb 0 87.5%,#eee 0 87.75%,#ffb 0 88%,#fc8 0 88.25%,#cee 0 88.5%,#ffc 0 88.75%,#fe9 0 89%,#8bd 0 89.25%,#f95 0 89.5%,#9cd 0 90%,#ffb 0 90.25%,#fe9 0 90.5%,#ffb 0 90.75%,#cee 0 91.25%,#eee 0 91.5%,#8bd 0 91.75%,#ffc 0 92%,#fc8 0 92.25%,#ffb 0 92.5%,#a12 0 92.75%,#bde 0 93%,#58b 0 93.25%,#eee 0 93.5%,#ffb 0 93.75%,#f95 0 94%,#46a 0 94.25%,#fc8 0 94.75%,#ffb 0 95.25%,#ffc 0 95.5%,#fc8 0 95.75%,#fb6 0 96%,#ffb 0 96.25%,#eee 0 96.75%,#fe9 0 97%,#eee 0 97.25%,#fb6 0 97.5%,#ffb 0 97.75%,#fb6 0 98%,#fe9 0 98.25%,#eee 0 98.5%,#ffc 0 98.75%,#ffb 0 99%,#ffc 0 99.25%,#c22 0 99.5%,#eee 0 99.75%,#e74 0)"></i>
<i style="inset:-45.7px;background:conic-gradient(#fc8 0 0.25%,#ffb 0 0.5%,#ffc 0 0.75%,#fe9 0 1%,#ffb 0 1.25%,#f95 0 1.5%,#fc8 0 1.75%,#f95 0 2%,#ffb 0 2.25%,#bde 0 9deg,#fe9 0 2.75%,#fc8 0 3%,#fe9 0 3.25%,#ffc 0 3.5%,#f95 0 3.75%,#e74 0 4%,#8bd 0 4.25%,#bde 0 4.5%,#fb6 0 4.75%,#fc8 0 5%,#fe9 0 5.25%,#eee 0 5.5%,#cee 0 5.75%,#fe9 0 6%,#ffb 0 6.25%,#cee 0 6.5%,#fc8 0 7.25%,#e74 0 7.5%,#eee 0 7.75%,#ffc 0 8.25%,#eee 0 8.5%,#ffb 0 8.75%,#cee 0 9%,#ffb 0 9.25%,#fe9 0 9.5%,#e74 0 9.75%,#fc8 0 10%,#cee 0 10.5%,#ffc 0 10.75%,#fe9 0 11%,#fb6 0 11.25%,#ffb 0 12%,#9cd 0 12.25%,#cee 0 45deg,#ffb 0 12.75%,#cee 0 13%,#ffc 0 13.25%,#9cd 0 13.5%,#ffb 0 13.75%,#eee 0 14%,#fb6 0 14.25%,#ffb 0 15%,#349 0 15.25%,#a12 0 15.5%,#cee 0 15.75%,#58b 0 16%,#a12 0 16.25%,#349 0 16.5%,#ffb 0 16.75%,#e74 0 17%,#ffb 0 17.25%,#bde 0 63deg,#ffb 0 17.75%,#fc8 0 18%,#fe9 0 18.25%,#eee 0 18.5%,#cee 0 18.75%,#eee 0 19%,#bde 0 19.25%,#a12 0 19.5%,#ffc 0 19.75%,#8bd 0 20%,#f95 0 20.25%,#fe9 0 20.5%,#e53 0 20.75%,#cee 0 21%,#ffc 0 21.25%,#eee 0 21.5%,#fc8 0 22%,#a12 0 22.25%,#349 0 81deg,#ffb 0 22.75%,#a12 0 23%,#e53 0 23.5%,#9cd 0 23.75%,#ffc 0 24%,#ffb 0 24.25%,#fb6 0 24.5%,#a12 0 24.75%,#46a 0 25%,#a12 0 25.25%,#cee 0 25.5%,#349 0 25.75%,#eee 0 26%,#69c 0 26.25%,#bde 0 26.5%,#eee 0 26.75%,#ffc 0 27%,#ffb 0 27.25%,#fe9 0 99deg,#eee 0 27.75%,#fc8 0 28%,#fe9 0 28.25%,#fc8 0 28.5%,#fb6 0 28.75%,#ffb 0 29%,#e74 0 29.25%,#9cd 0 29.5%,#ffc 0 30%,#cee 0 30.25%,#bde 0 30.5%,#a12 0 30.75%,#8bd 0 31%,#a12 0 31.25%,#cee 0 31.5%,#bde 0 31.75%,#cee 0 32%,#fe9 0 32.25%,#eee 0 32.5%,#f95 0 32.75%,#ffb 0 33%,#fc8 0 33.25%,#ffb 0 33.75%,#cee 0 34%,#349 0 34.25%,#fe9 0 34.5%,#ffb 0 34.75%,#ffc 0 35%,#fb6 0 35.25%,#ffc 0 35.5%,#ffb 0 35.75%,#eee 0 36%,#bde 0 36.25%,#8bd 0 36.5%,#f95 0 36.75%,#ffc 0 37%,#fc8 0 37.25%,#fb6 0 37.5%,#ffb 0 37.75%,#d43 0 38%,#ffc 0 38.25%,#eee 0 38.5%,#69c 0 38.75%,#e74 0 39%,#9cd 0 39.25%,#f95 0 39.5%,#d43 0 39.75%,#fb6 0 40%,#a12 0 40.25%,#e74 0 40.5%,#fc8 0 40.75%,#eee 0 41%,#ffc 0 41.25%,#c22 0 41.5%,#eee 0 41.75%,#ffb 0 42%,#fc8 0 42.25%,#eee 0 42.5%,#bde 0 42.75%,#ffb 0 43%,#fc8 0 43.25%,#e53 0 43.5%,#69c 0 43.75%,#eee 0 44%,#a12 0 44.25%,#349 0 44.5%,#ffc 0 44.75%,#58b 0 45%,#349 0 45.25%,#eee 0 45.5%,#ffc 0 45.75%,#ffb 0 46%,#c22 0 46.25%,#d43 0 46.5%,#bde 0 46.75%,#ffb 0 47%,#cee 0 47.25%,#bde 0 47.5%,#ffb 0 47.75%,#cee 0 48%,#fe9 0 48.25%,#cee 0 48.5%,#ffb 0 48.75%,#cee 0 49%,#eee 0 49.25%,#fe9 0 49.75%,#ffc 0 50%,#349 0 50.25%,#cee 0 50.5%,#ffb 0 51%,#8bd 0 51.25%,#fe9 0 51.5%,#e74 0 51.75%,#ffc 0 52%,#eee 0 52.25%,#e53 0 52.5%,#cee 0 53%,#fc8 0 53.25%,#d43 0 53.5%,#eee 0 53.75%,#fb6 0 54%,#eee 0 54.25%,#fe9 0 54.5%,#cee 0 54.75%,#eee 0 55%,#fb6 0 55.25%,#9cd 0 55.5%,#ffc 0 55.75%,#cee 0 56%,#fb6 0 56.25%,#ffb 0 56.5%,#ffc 0 56.75%,#bde 0 57%,#e74 0 57.25%,#cee 0 57.5%,#e53 0 57.75%,#ffc 0 58%,#ffb 0 58.25%,#bde 0 58.5%,#fb6 0 58.75%,#fc8 0 59%,#fe9 0 59.25%,#eee 0 59.5%,#fb6 0 60%,#fc8 0 60.25%,#eee 0 60.5%,#fe9 0 60.75%,#46a 0 61%,#9cd 0 61.25%,#fe9 0 61.5%,#eee 0 61.75%,#ffb 0 62%,#cee 0 62.25%,#ffc 0 62.5%,#bde 0 62.75%,#e74 0 63%,#fc8 0 63.25%,#9cd 0 63.5%,#ffc 0 63.75%,#ffb 0 64%,#cee 0 64.25%,#e74 0 64.5%,#fe9 0 64.75%,#a12 0 65%,#46a 0 65.25%,#ffc 0 65.5%,#fe9 0 65.75%,#eee 0 66%,#ffc 0 66.25%,#bde 0 66.5%,#ffb 0 66.75%,#a12 0 67%,#fe9 0 67.25%,#ffc 0 67.5%,#ffb 0 68%,#f95 0 68.25%,#9cd 0 68.5%,#ffc 0 68.75%,#fc8 0 69%,#ffb 0 69.25%,#fe9 0 69.5%,#ffc 0 70%,#9cd 0 70.25%,#ffc 0 70.5%,#fc8 0 70.75%,#ffb 0 71%,#e74 0 71.25%,#e53 0 71.5%,#eee 0 71.75%,#bde 0 72%,#ffb 0 72.25%,#e53 0 72.5%,#bde 0 72.75%,#eee 0 73%,#ffc 0 73.5%,#ffb 0 73.75%,#f95 0 74%,#ffc 0 74.25%,#8bd 0 74.5%,#cee 0 74.75%,#bde 0 75%,#9cd 0 75.25%,#ffc 0 75.5%,#cee 0 75.75%,#e53 0 76%,#ffc 0 76.25%,#fb6 0 76.5%,#fe9 0 76.75%,#bde 0 77%,#cee 0 77.5%,#ffb 0 77.75%,#cee 0 78%,#ffb 0 78.25%,#bde 0 78.5%,#ffb 0 78.75%,#fe9 0 79%,#fc8 0 79.25%,#ffc 0 79.75%,#eee 0 80%,#ffc 0 80.25%,#9cd 0 80.5%,#fc8 0 80.75%,#ffc 0 81%,#cee 0 81.25%,#eee 0 81.5%,#8bd 0 82%,#eee 0 82.25%,#ffb 0 82.75%,#e53 0 83%,#eee 0 83.25%,#bde 0 83.5%,#ffc 0 84%,#f95 0 84.25%,#fe9 0 84.75%,#eee 0 85%,#fe9 0 85.25%,#9cd 0 85.5%,#ffb 0 85.75%,#ffc 0 86%,#8bd 0 86.25%,#cee 0 86.5%,#ffb 0 86.75%,#cee 0 87%,#fb6 0 87.25%,#ffc 0 87.5%,#cee 0 87.75%,#ffc 0 88%,#fe9 0 88.25%,#bde 0 88.5%,#fe9 0 89%,#69c 0 89.25%,#fc8 0 89.5%,#69c 0 89.75%,#9cd 0 90%,#ffb 0 90.5%,#fe9 0 90.75%,#cee 0 91%,#eee 0 91.5%,#9cd 0 91.75%,#ffb 0 92%,#fc8 0 92.25%,#ffb 0 92.5%,#c22 0 92.75%,#bde 0 93%,#58b 0 93.25%,#cee 0 93.5%,#ffb 0 93.75%,#f95 0 94%,#349 0 94.25%,#fb6 0 94.5%,#fc8 0 94.75%,#ffb 0 95.25%,#ffc 0 95.5%,#ffb 0 95.75%,#fe9 0 96%,#ffb 0 96.25%,#bde 0 96.5%,#eee 0 96.75%,#fe9 0 97%,#ffc 0 97.25%,#fc8 0 97.5%,#fe9 0 97.75%,#f95 0 98%,#fe9 0 98.25%,#ffc 0 98.5%,#ffb 0 99.25%,#a12 0 99.5%,#ffc 0 99.75%,#d43 0)"></i>
<i style="inset:-44.1px;background:conic-gradient(#fe9 0 0.5%,#eee 0 0.75%,#fe9 0 1.25%,#e74 0 1.5%,#f95 0 1.75%,#e74 0 2%,#ffc 0 2.25%,#cee 0 9deg,#f95 0 2.75%,#fc8 0 3%,#ffb 0 3.25%,#eee 0 3.5%,#fb6 0 3.75%,#e53 0 4%,#bde 0 4.25%,#8bd 0 4.5%,#fe9 0 5.25%,#ffb 0 5.5%,#bde 0 5.75%,#ffb 0 6.25%,#cee 0 6.5%,#ffb 0 6.75%,#f95 0 7%,#fb6 0 7.5%,#ffb 0 7.75%,#ffc 0 8.5%,#fc8 0 8.75%,#cee 0 9%,#ffb 0 9.25%,#fb6 0 10%,#cee 0 10.25%,#ffc 0 10.5%,#eee 0 10.75%,#ffb 0 11%,#fc8 0 11.25%,#ffb 0 11.75%,#fc8 0 12%,#cee 0 12.25%,#eee 0 45deg,#ffc 0 12.75%,#bde 0 13%,#ffb 0 13.25%,#cee 0 13.5%,#ffb 0 13.75%,#bde 0 14%,#f95 0 14.25%,#ffb 0 14.5%,#fb6 0 14.75%,#cee 0 15%,#58b 0 15.25%,#e53 0 15.5%,#eee 0 15.75%,#bde 0 16%,#a12 0 16.25%,#349 0 16.5%,#ffb 0 16.75%,#fc8 0 17%,#fe9 0 17.25%,#69c 0 63deg,#ffb 0 17.75%,#fc8 0 18%,#fe9 0 18.25%,#cee 0 18.75%,#ffb 0 19%,#eee 0 19.25%,#a12 0 19.5%,#ffb 0 19.75%,#bde 0 20%,#e53 0 20.25%,#fc8 0 20.5%,#c22 0 20.75%,#ffc 0 21.25%,#ffb 0 21.5%,#fe9 0 21.75%,#fc8 0 22%,#a12 0 22.25%,#349 0 81deg,#ffc 0 22.75%,#c22 0 23%,#f95 0 23.5%,#69c 0 23.75%,#fc8 0 24%,#fe9 0 24.25%,#fc8 0 24.5%,#a12 0 24.75%,#349 0 25%,#e53 0 25.25%,#ffc 0 25.5%,#349 0 25.75%,#ffc 0 26%,#69c 0 26.25%,#cee 0 26.5%,#ffb 0 26.75%,#cee 0 27%,#fe9 0 27.25%,#ffb 0 99deg,#9cd 0 27.75%,#fc8 0 28%,#fb6 0 28.25%,#ffb 0 28.5%,#fb6 0 28.75%,#fc8 0 29%,#e74 0 29.25%,#cee 0 29.75%,#8bd 0 30%,#eee 0 30.25%,#ffb 0 30.5%,#a12 0 30.75%,#cee 0 31%,#a12 0 31.25%,#cee 0 31.5%,#69c 0 31.75%,#ffb 0 32%,#fe9 0 32.25%,#bde 0 32.5%,#e74 0 32.75%,#fe9 0 33%,#ffb 0 33.75%,#eee 0 34%,#349 0 34.25%,#fb6 0 34.5%,#ffb 0 34.75%,#ffc 0 35%,#ffb 0 35.5%,#fe9 0 35.75%,#bde 0 36%,#ffc 0 36.25%,#9cd 0 36.5%,#e74 0 36.75%,#ffc 0 37%,#fe9 0 37.25%,#fc8 0 37.5%,#fe9 0 37.75%,#e74 0 38%,#ffb 0 38.25%,#8bd 0 38.5%,#bde 0 38.75%,#e74 0 39%,#ffc 0 39.25%,#e74 0 39.75%,#f95 0 40%,#a12 0 40.25%,#e74 0 40.5%,#fe9 0 40.75%,#eee 0 41.25%,#a12 0 41.5%,#cee 0 41.75%,#ffb 0 42.25%,#cee 0 42.5%,#8bd 0 42.75%,#ffc 0 43%,#f95 0 43.5%,#8bd 0 43.75%,#eee 0 44%,#a12 0 44.25%,#349 0 44.5%,#ffb 0 44.75%,#58b 0 45%,#8bd 0 45.25%,#eee 0 45.5%,#fe9 0 45.75%,#fc8 0 46%,#e74 0 46.25%,#c22 0 46.5%,#bde 0 46.75%,#ffb 0 47%,#eee 0 47.25%,#58b 0 47.5%,#ffb 0 47.75%,#9cd 0 48%,#ffb 0 48.25%,#ffc 0 48.5%,#fe9 0 48.75%,#9cd 0 49%,#eee 0 49.25%,#ffc 0 49.5%,#fc8 0 49.75%,#eee 0 50%,#46a 0 50.25%,#eee 0 50.5%,#ffc 0 51%,#69c 0 51.25%,#ffb 0 51.5%,#fb6 0 51.75%,#ffb 0 52%,#ffc 0 52.25%,#e74 0 52.5%,#9cd 0 52.75%,#ffb 0 53%,#fb6 0 53.25%,#f95 0 53.5%,#ffb 0 53.75%,#fc8 0 54%,#ffc 0 54.25%,#ffb 0 54.5%,#69c 0 54.75%,#eee 0 55%,#fe9 0 55.25%,#9cd 0 55.5%,#ffc 0 55.75%,#eee 0 56%,#fe9 0 56.25%,#ffc 0 56.5%,#ffb 0 56.75%,#eee 0 57%,#e53 0 57.25%,#cee 0 57.5%,#fb6 0 57.75%,#ffc 0 58%,#ffb 0 58.25%,#eee 0 58.5%,#e74 0 58.75%,#fb6 0 59%,#fe9 0 59.25%,#ffb 0 59.5%,#fc8 0 59.75%,#fb6 0 60%,#fc8 0 60.25%,#cee 0 60.5%,#fc8 0 60.75%,#46a 0 61%,#bde 0 61.25%,#fc8 0 61.5%,#eee 0 61.75%,#ffb 0 62%,#8bd 0 62.25%,#ffc 0 62.5%,#eee 0 62.75%,#fb6 0 63%,#fc8 0 63.25%,#bde 0 63.5%,#ffc 0 63.75%,#ffb 0 64%,#eee 0 64.25%,#fb6 0 64.5%,#fe9 0 64.75%,#a12 0 65%,#349 0 65.25%,#eee 0 65.5%,#fc8 0 65.75%,#bde 0 66%,#cee 0 66.5%,#ffc 0 66.75%,#d43 0 67%,#fc8 0 67.25%,#ffc 0 67.5%,#eee 0 67.75%,#ffc 0 68%,#e53 0 68.25%,#9cd 0 68.5%,#eee 0 68.75%,#ffb 0 69.25%,#e74 0 69.5%,#ffc 0 70%,#bde 0 70.25%,#ffc 0 70.5%,#fe9 0 70.75%,#ffc 0 71%,#fc8 0 71.25%,#f95 0 71.5%,#cee 0 71.75%,#9cd 0 72%,#fe9 0 72.25%,#e74 0 72.5%,#bde 0 72.75%,#ffc 0 73%,#ffb 0 73.25%,#eee 0 73.5%,#ffb 0 73.75%,#fb6 0 74%,#eee 0 74.25%,#9cd 0 74.5%,#cee 0 74.75%,#bde 0 75%,#69c 0 75.25%,#ffc 0 75.5%,#cee 0 75.75%,#fb6 0 76%,#ffb 0 76.25%,#fc8 0 76.5%,#fe9 0 76.75%,#cee 0 77.25%,#bde 0 77.5%,#ffc 0 77.75%,#bde 0 78%,#fe9 0 78.25%,#cee 0 78.5%,#fe9 0 78.75%,#fc8 0 79.25%,#ffb 0 80%,#ffc 0 80.25%,#9cd 0 80.5%,#ffb 0 80.75%,#eee 0 81%,#cee 0 81.25%,#ffb 0 81.5%,#bde 0 81.75%,#eee 0 82%,#ffc 0 82.25%,#fe9 0 82.5%,#ffb 0 82.75%,#f95 0 83%,#ffc 0 83.25%,#cee 0 83.5%,#ffc 0 83.75%,#ffb 0 84%,#fb6 0 84.25%,#fe9 0 84.5%,#ffb 0 84.75%,#ffc 0 85%,#e74 0 85.25%,#bde 0 85.5%,#fc8 0 85.75%,#eee 0 86%,#8bd 0 86.25%,#eee 0 86.5%,#ffb 0 86.75%,#eee 0 87%,#fb6 0 87.25%,#cee 0 88%,#ffb 0 88.25%,#8bd 0 88.5%,#fc8 0 88.75%,#ffb 0 89%,#69c 0 89.25%,#fe9 0 89.5%,#58b 0 89.75%,#cee 0 90%,#ffb 0 90.25%,#eee 0 90.5%,#fe9 0 90.75%,#cee 0 91%,#ffc 0 91.25%,#eee 0 91.5%,#cee 0 91.75%,#fe9 0 92%,#ffb 0 92.5%,#fb6 0 92.75%,#bde 0 93%,#58b 0 93.25%,#cee 0 93.5%,#ffb 0 93.75%,#fb6 0 94%,#349 0 94.25%,#fb6 0 94.5%,#fc8 0 94.75%,#ffb 0 95.25%,#ffc 0 95.75%,#ffb 0 96%,#fe9 0 96.25%,#8bd 0 96.5%,#eee 0 96.75%,#fe9 0 97%,#ffb 0 97.25%,#fc8 0 97.5%,#f95 0 97.75%,#e74 0 98%,#fe9 0 98.25%,#ffb 0 98.5%,#fe9 0 98.75%,#ffc 0 99%,#fe9 0 99.25%,#a12 0 99.5%,#ffc 0 99.75%,#e53 0)"></i>
<i style="inset:-42.5px;background:conic-gradient(#fe9 0 0.5%,#cee 0 0.75%,#fe9 0 1%,#fc8 0 1.25%,#e74 0 1.5%,#f95 0 1.75%,#e74 0 2%,#ffc 0 2.25%,#eee 0 9deg,#e53 0 2.75%,#fe9 0 3%,#ffb 0 3.25%,#9cd 0 3.5%,#fc8 0 3.75%,#e53 0 4%,#cee 0 4.25%,#8bd 0 4.5%,#ffb 0 5%,#fe9 0 5.5%,#cee 0 5.75%,#ffc 0 6%,#ffb 0 6.25%,#cee 0 6.5%,#eee 0 6.75%,#e74 0 7%,#fc8 0 7.25%,#fe9 0 7.75%,#ffc 0 8%,#eee 0 8.25%,#ffc 0 8.5%,#e53 0 8.75%,#cee 0 9%,#fe9 0 9.25%,#fc8 0 9.5%,#fe9 0 9.75%,#fc8 0 10%,#cee 0 10.25%,#ffc 0 10.5%,#cee 0 10.75%,#ffb 0 11%,#fe9 0 11.5%,#ffc 0 11.75%,#fc8 0 12%,#cee 0 12.25%,#eee 0 45deg,#ffb 0 12.75%,#cee 0 13%,#ffb 0 13.25%,#ffc 0 13.75%,#8bd 0 14%,#fb6 0 14.25%,#ffb 0 14.5%,#e74 0 14.75%,#9cd 0 15%,#8bd 0 15.25%,#f95 0 15.5%,#eee 0 15.75%,#ffb 0 16%,#a12 0 16.25%,#349 0 16.5%,#fe9 0 16.75%,#ffb 0 17%,#fe9 0 17.25%,#46a 0 63deg,#ffc 0 17.75%,#fc8 0 18%,#ffb 0 18.25%,#cee 0 18.5%,#bde 0 18.75%,#ffb 0 19%,#ffc 0 19.25%,#a12 0 19.5%,#fe9 0 19.75%,#eee 0 20%,#d43 0 20.25%,#fc8 0 20.5%,#a12 0 20.75%,#ffb 0 21.25%,#fe9 0 21.5%,#ffb 0 21.75%,#fc8 0 22%,#e74 0 22.25%,#46a 0 81deg,#cee 0 22.75%,#d43 0 23%,#fe9 0 23.25%,#fb6 0 23.5%,#69c 0 23.75%,#e53 0 24%,#fc8 0 24.5%,#a12 0 24.75%,#349 0 25%,#fb6 0 25.25%,#ffb 0 25.5%,#349 0 25.75%,#ffb 0 26%,#69c 0 26.25%,#cee 0 26.5%,#fe9 0 26.75%,#8bd 0 27%,#f95 0 27.25%,#ffc 0 99deg,#8bd 0 27.75%,#fe9 0 28%,#e74 0 28.25%,#eee 0 28.5%,#fb6 0 28.75%,#f95 0 29%,#fb6 0 29.25%,#ffb 0 29.5%,#9cd 0 29.75%,#349 0 30%,#fe9 0 30.25%,#f95 0 30.5%,#a12 0 30.75%,#ffb 0 31%,#a12 0 31.25%,#cee 0 31.5%,#46a 0 31.75%,#fb6 0 32%,#fe9 0 32.25%,#69c 0 32.5%,#e53 0 32.75%,#fe9 0 33%,#bde 0 33.25%,#ffb 0 33.5%,#cee 0 33.75%,#ffc 0 34%,#349 0 34.25%,#e74 0 34.5%,#ffb 0 34.75%,#ffc 0 35.25%,#fe9 0 35.5%,#fc8 0 35.75%,#9cd 0 36%,#ffb 0 36.25%,#9cd 0 36.5%,#e53 0 36.75%,#ffc 0 37%,#fc8 0 37.25%,#fe9 0 38%,#ffc 0 38.25%,#58b 0 38.5%,#eee 0 38.75%,#f95 0 39%,#ffb 0 39.25%,#e53 0 39.5%,#fb6 0 40%,#a12 0 40.25%,#e74 0 40.5%,#fe9 0 40.75%,#ffc 0 41%,#cee 0 41.25%,#a12 0 41.5%,#9cd 0 41.75%,#ffc 0 42.25%,#9cd 0 42.5%,#69c 0 42.75%,#ffb 0 43%,#e74 0 43.25%,#fb6 0 43.5%,#cee 0 43.75%,#bde 0 44%,#a12 0 44.25%,#cee 0 44.5%,#ffb 0 44.75%,#58b 0 45%,#ffc 0 45.25%,#eee 0 45.5%,#f95 0 45.75%,#fb6 0 46.25%,#e53 0 46.5%,#eee 0 46.75%,#ffb 0 47%,#ffc 0 47.25%,#46a 0 47.5%,#eee 0 47.75%,#bde 0 48%,#ffb 0 48.5%,#fc8 0 48.75%,#9cd 0 49%,#ffc 0 49.5%,#fb6 0 49.75%,#bde 0 50%,#8bd 0 50.25%,#eee 0 50.5%,#ffc 0 50.75%,#eee 0 51%,#69c 0 51.25%,#ffc 0 51.5%,#fe9 0 51.75%,#ffb 0 52%,#ffc 0 52.25%,#e74 0 52.5%,#8bd 0 52.75%,#fc8 0 53%,#fb6 0 53.25%,#fc8 0 53.5%,#fe9 0 54%,#ffc 0 54.25%,#ffb 0 54.5%,#58b 0 54.75%,#ffc 0 55%,#ffb 0 55.25%,#bde 0 55.5%,#ffc 0 55.75%,#eee 0 56%,#ffb 0 56.25%,#eee 0 56.5%,#fe9 0 56.75%,#ffb 0 57%,#e53 0 57.25%,#cee 0 57.5%,#fe9 0 57.75%,#ffb 0 58%,#fe9 0 58.25%,#ffc 0 58.5%,#d43 0 58.75%,#fb6 0 59%,#ffb 0 59.25%,#fe9 0 60%,#fc8 0 60.25%,#bde 0 60.5%,#fc8 0 60.75%,#69c 0 61%,#eee 0 61.25%,#fc8 0 61.5%,#ffc 0 61.75%,#ffb 0 62%,#69c 0 62.25%,#ffc 0 62.5%,#eee 0 62.75%,#fc8 0 63%,#fe9 0 63.25%,#cee 0 63.5%,#ffb 0 64%,#ffc 0 64.25%,#fc8 0 64.5%,#ffb 0 64.75%,#a12 0 65%,#46a 0 65.25%,#ffc 0 65.5%,#fb6 0 65.75%,#bde 0 66%,#8bd 0 66.25%,#eee 0 66.5%,#cee 0 66.75%,#e74 0 67%,#fb6 0 67.25%,#ffc 0 67.5%,#bde 0 67.75%,#eee 0 68%,#e53 0 68.25%,#9cd 0 68.5%,#eee 0 68.75%,#cee 0 69%,#ffb 0 69.25%,#d43 0 69.5%,#ffc 0 70%,#cee 0 70.25%,#ffb 0 70.5%,#ffc 0 70.75%,#eee 0 71%,#ffb 0 71.25%,#fe9 0 71.5%,#bde 0 72%,#fe9 0 72.25%,#f95 0 72.5%,#cee 0 72.75%,#ffc 0 73%,#fe9 0 73.25%,#bde 0 73.5%,#fe9 0 73.75%,#fc8 0 74%,#eee 0 74.25%,#bde 0 74.5%,#cee 0 75%,#46a 0 75.25%,#ffc 0 75.5%,#eee 0 75.75%,#ffb 0 76.25%,#fe9 0 76.75%,#cee 0 77%,#eee 0 77.25%,#8bd 0 77.5%,#ffc 0 77.75%,#bde 0 78%,#fe9 0 78.25%,#eee 0 78.5%,#fe9 0 78.75%,#fc8 0 79.25%,#ffb 0 79.75%,#fe9 0 80%,#ffb 0 80.25%,#8bd 0 80.5%,#ffb 0 80.75%,#cee 0 81%,#ffc 0 81.25%,#ffb 0 81.5%,#eee 0 81.75%,#ffc 0 82%,#ffb 0 82.25%,#fe9 0 82.5%,#fc8 0 82.75%,#fb6 0 83%,#ffc 0 83.25%,#eee 0 83.75%,#fe9 0 84.5%,#ffb 0 85%,#c22 0 85.25%,#eee 0 85.5%,#f95 0 85.75%,#cee 0 86%,#bde 0 86.25%,#ffc 0 86.5%,#ffb 0 86.75%,#ffc 0 87%,#f95 0 87.25%,#cee 0 87.75%,#bde 0 88%,#ffb 0 88.25%,#8bd 0 88.5%,#fe9 0 88.75%,#ffb 0 89%,#9cd 0 89.25%,#fe9 0 89.5%,#69c 0 89.75%,#ffc 0 90%,#ffb 0 90.25%,#bde 0 90.5%,#ffb 0 90.75%,#bde 0 91%,#ffb 0 91.25%,#ffc 0 91.75%,#ffb 0 92%,#eee 0 92.25%,#ffb 0 92.75%,#cee 0 93%,#69c 0 93.25%,#eee 0 93.5%,#ffb 0 93.75%,#fc8 0 94%,#46a 0 94.25%,#fb6 0 94.5%,#fe9 0 95%,#ffb 0 95.25%,#ffc 0 95.5%,#eee 0 95.75%,#ffb 0 96%,#fc8 0 96.25%,#8bd 0 96.5%,#ffc 0 96.75%,#ffb 0 97.25%,#fc8 0 97.5%,#d43 0 97.75%,#f95 0 98%,#ffb 0 98.25%,#fe9 0 98.5%,#fc8 0 98.75%,#ffc 0 99%,#fe9 0 99.25%,#e53 0 99.5%,#ffb 0 99.75%,#fc8 0)"></i>
<i style="inset:-40.9px;background:conic-gradient(#fc8 0 0.25%,#ffb 0 0.5%,#cee 0 0.75%,#fe9 0 1%,#fc8 0 1.25%,#e74 0 1.5%,#fc8 0 1.75%,#e74 0 2%,#ffb 0 9deg,#e53 0 2.75%,#fe9 0 3%,#ffb 0 3.25%,#8bd 0 3.5%,#fe9 0 3.75%,#e74 0 4%,#bde 0 4.25%,#8bd 0 4.5%,#ffb 0 4.75%,#ffc 0 5%,#ffb 0 5.25%,#f95 0 5.5%,#eee 0 5.75%,#cee 0 6%,#ffb 0 6.25%,#eee 0 6.5%,#9cd 0 6.75%,#f95 0 7%,#ffb 0 7.5%,#fb6 0 7.75%,#ffc 0 8%,#eee 0 8.25%,#ffb 0 8.5%,#a12 0 8.75%,#ffc 0 9%,#fe9 0 9.5%,#ffb 0 9.75%,#fe9 0 10%,#eee 0 10.25%,#ffb 0 10.5%,#eee 0 10.75%,#fe9 0 11.5%,#ffc 0 11.75%,#fe9 0 12%,#cee 0 12.25%,#ffc 0 45deg,#ffb 0 12.75%,#eee 0 13%,#fe9 0 13.25%,#ffb 0 13.5%,#ffc 0 13.75%,#69c 0 14%,#fc8 0 14.25%,#ffb 0 14.5%,#e74 0 14.75%,#8bd 0 15%,#bde 0 15.25%,#fe9 0 15.5%,#cee 0 15.75%,#fb6 0 16%,#e53 0 16.25%,#349 0 16.5%,#fc8 0 16.75%,#ffc 0 17%,#fe9 0 17.25%,#46a 0 63deg,#ffc 0 17.75%,#fe9 0 18%,#ffb 0 18.25%,#ffc 0 18.5%,#bde 0 18.75%,#ffc 0 19%,#ffb 0 19.25%,#e74 0 19.5%,#fe9 0 19.75%,#ffb 0 20%,#d43 0 20.25%,#fc8 0 20.5%,#a12 0 20.75%,#ffb 0 21.25%,#fc8 0 21.5%,#ffc 0 21.75%,#fc8 0 22%,#ffb 0 22.25%,#8bd 0 81deg,#cee 0 22.75%,#f95 0 23%,#ffb 0 23.25%,#fc8 0 23.5%,#8bd 0 23.75%,#e53 0 24%,#fc8 0 24.25%,#fe9 0 24.5%,#a12 0 24.75%,#349 0 25%,#ffb 0 25.25%,#fe9 0 25.5%,#69c 0 25.75%,#ffb 0 26%,#69c 0 26.25%,#bde 0 26.5%,#fc8 0 26.75%,#46a 0 27%,#c22 0 27.25%,#eee 0 99deg,#9cd 0 27.75%,#fe9 0 28%,#f95 0 28.25%,#bde 0 28.5%,#fc8 0 28.75%,#e74 0 29%,#fc8 0 29.5%,#69c 0 29.75%,#349 0 30%,#e53 0 30.25%,#c22 0 30.5%,#a12 0 30.75%,#fe9 0 31%,#e74 0 31.25%,#cee 0 31.5%,#349 0 31.75%,#e74 0 32%,#ffb 0 32.25%,#69c 0 32.5%,#d43 0 32.75%,#fe9 0 33%,#58b 0 33.25%,#ffb 0 33.5%,#8bd 0 33.75%,#ffb 0 34%,#69c 0 34.25%,#d43 0 34.5%,#ffb 0 35%,#cee 0 35.25%,#fb6 0 35.75%,#9cd 0 36%,#fc8 0 36.25%,#58b 0 36.5%,#c22 0 36.75%,#ffc 0 37%,#fb6 0 37.25%,#fe9 0 37.5%,#ffc 0 38%,#eee 0 38.25%,#69c 0 38.5%,#ffc 0 38.75%,#fb6 0 39%,#fc8 0 39.25%,#d43 0 39.5%,#fe9 0 39.75%,#fc8 0 40%,#d43 0 40.25%,#f95 0 40.5%,#ffb 0 40.75%,#ffc 0 41%,#bde 0 41.25%,#a12 0 41.5%,#58b 0 41.75%,#ffc 0 42.25%,#9cd 0 42.5%,#69c 0 42.75%,#fc8 0 43%,#e53 0 43.25%,#fe9 0 43.5%,#ffb 0 43.75%,#bde 0 44%,#d43 0 44.25%,#fe9 0 44.75%,#58b 0 45%,#fe9 0 45.25%,#ffc 0 45.5%,#e53 0 45.75%,#fb6 0 46%,#ffb 0 46.25%,#fb6 0 46.5%,#ffc 0 46.75%,#ffb 0 47.25%,#46a 0 47.5%,#bde 0 47.75%,#ffc 0 48%,#eee 0 48.25%,#ffb 0 48.5%,#fe9 0 48.75%,#cee 0 49%,#ffb 0 49.25%,#ffc 0 49.5%,#fb6 0 49.75%,#9cd 0 50%,#cee 0 50.25%,#eee 0 50.5%,#ffc 0 50.75%,#cee 0 51%,#69c 0 51.25%,#eee 0 51.5%,#ffb 0 52%,#ffc 0 52.25%,#fb6 0 52.5%,#9cd 0 52.75%,#e74 0 53%,#f95 0 53.25%,#ffb 0 53.5%,#f95 0 53.75%,#ffb 0 54%,#eee 0 54.25%,#ffc 0 54.5%,#69c 0 54.75%,#ffb 0 55%,#ffc 0 55.25%,#cee 0 55.5%,#ffc 0 55.75%,#cee 0 56%,#ffc 0 56.25%,#bde 0 56.5%,#fc8 0 56.75%,#fb6 0 57%,#e74 0 57.25%,#cee 0 57.5%,#ffb 0 57.75%,#fe9 0 58%,#fb6 0 58.25%,#ffc 0 58.5%,#a12 0 58.75%,#f95 0 59%,#ffc 0 59.25%,#fc8 0 59.5%,#ffb 0 60%,#fc8 0 60.25%,#cee 0 60.5%,#fc8 0 60.75%,#bde 0 61%,#ffb 0 61.25%,#fe9 0 61.5%,#ffb 0 62%,#9cd 0 62.25%,#ffb 0 62.5%,#eee 0 62.75%,#fe9 0 63%,#fc8 0 63.25%,#eee 0 63.5%,#ffb 0 64%,#ffc 0 64.25%,#fe9 0 64.5%,#ffb 0 64.75%,#e53 0 65%,#58b 0 65.25%,#ffb 0 65.5%,#fb6 0 65.75%,#eee 0 66%,#8bd 0 66.25%,#ffc 0 66.5%,#9cd 0 66.75%,#fb6 0 67%,#f95 0 67.25%,#ffc 0 67.5%,#8bd 0 67.75%,#eee 0 68%,#e74 0 68.25%,#9cd 0 68.5%,#eee 0 68.75%,#8bd 0 69%,#fe9 0 69.25%,#d43 0 69.5%,#ffc 0 69.75%,#eee 0 70%,#cee 0 70.25%,#ffb 0 70.5%,#bde 0 70.75%,#cee 0 71%,#eee 0 71.25%,#ffb 0 71.5%,#9cd 0 71.75%,#ffc 0 72%,#fe9 0 72.25%,#fc8 0 72.5%,#cee 0 72.75%,#ffb 0 73%,#fc8 0 73.25%,#bde 0 73.5%,#fe9 0 74%,#ffc 0 74.25%,#bde 0 74.5%,#eee 0 74.75%,#ffc 0 75%,#349 0 75.25%,#ffc 0 76%,#ffb 0 76.5%,#fe9 0 76.75%,#eee 0 77%,#ffb 0 77.25%,#69c 0 77.5%,#ffc 0 77.75%,#cee 0 78%,#fe9 0 78.25%,#ffc 0 78.5%,#fc8 0 79%,#fe9 0 79.25%,#ffb 0 79.75%,#fb6 0 80%,#fe9 0 80.25%,#69c 0 80.5%,#ffc 0 80.75%,#cee 0 81%,#ffb 0 81.25%,#fe9 0 81.5%,#ffc 0 81.75%,#ffb 0 82%,#fb6 0 82.25%,#fe9 0 82.5%,#f95 0 82.75%,#fc8 0 83%,#ffc 0 83.25%,#eee 0 83.75%,#fe9 0 84%,#ffc 0 84.25%,#ffb 0 84.75%,#fe9 0 85%,#e53 0 85.25%,#eee 0 85.5%,#e74 0 85.75%,#9cd 0 86%,#cee 0 86.25%,#ffc 0 86.5%,#ffb 0 87%,#e53 0 87.25%,#cee 0 87.75%,#bde 0 88%,#ffc 0 88.25%,#8bd 0 88.5%,#ffb 0 89%,#cee 0 89.25%,#fc8 0 89.5%,#9cd 0 89.75%,#ffb 0 90%,#fc8 0 90.25%,#bde 0 90.5%,#ffc 0 90.75%,#9cd 0 91%,#ffb 0 91.25%,#ffc 0 91.5%,#ffb 0 92%,#9cd 0 92.25%,#ffb 0 92.5%,#ffc 0 93%,#9cd 0 93.25%,#ffc 0 93.5%,#fe9 0 93.75%,#ffb 0 94%,#69c 0 94.25%,#fb6 0 94.5%,#ffb 0 94.75%,#fe9 0 95%,#ffb 0 95.25%,#ffc 0 95.75%,#ffb 0 96%,#fe9 0 96.25%,#9cd 0 96.5%,#ffc 0 96.75%,#ffb 0 97.25%,#fc8 0 97.5%,#c22 0 97.75%,#fc8 0 98%,#ffb 0 98.25%,#fc8 0 98.75%,#ffc 0 99%,#ffb 0 99.25%,#fb6 0 99.5%,#fc8 0 99.75%,#ffb 0)"></i>
<i style="inset:-39.3px;background:conic-gradient(#fb6 0 0.25%,#ffb 0 0.5%,#ffc 0 0.75%,#fe9 0 1.25%,#f95 0 1.5%,#ffb 0 1.75%,#f95 0 2%,#ffb 0 9deg,#e74 0 2.75%,#fe9 0 3%,#ffb 0 3.25%,#69c 0 3.5%,#ffb 0 3.75%,#fb6 0 4%,#cee 0 4.25%,#8bd 0 4.5%,#ffb 0 4.75%,#eee 0 5%,#ffb 0 5.25%,#e74 0 5.5%,#eee 0 5.75%,#bde 0 6%,#ffb 0 6.25%,#ffc 0 6.5%,#8bd 0 6.75%,#fc8 0 7%,#ffc 0 7.25%,#cee 0 7.5%,#f95 0 7.75%,#ffc 0 8%,#eee 0 8.25%,#ffb 0 8.5%,#a12 0 8.75%,#ffb 0 9.25%,#ffc 0 9.75%,#ffb 0 10%,#ffc 0 10.25%,#ffb 0 10.5%,#ffc 0 10.75%,#fe9 0 11.25%,#ffb 0 11.5%,#cee 0 11.75%,#ffb 0 12%,#9cd 0 12.25%,#ffc 0 45deg,#ffb 0 13%,#fe9 0 13.25%,#ffb 0 13.75%,#8bd 0 14%,#ffb 0 14.5%,#f95 0 14.75%,#8bd 0 15%,#cee 0 15.25%,#ffb 0 15.5%,#bde 0 15.75%,#c22 0 16%,#fb6 0 16.25%,#46a 0 16.5%,#fb6 0 16.75%,#ffc 0 17%,#ffb 0 17.25%,#58b 0 63deg,#ffb 0 17.75%,#fc8 0 18%,#ffc 0 18.25%,#ffb 0 18.5%,#9cd 0 18.75%,#eee 0 19%,#fc8 0 19.5%,#fe9 0 19.75%,#fc8 0 20%,#e53 0 20.25%,#fc8 0 20.5%,#d43 0 20.75%,#ffb 0 21.25%,#fc8 0 21.5%,#ffc 0 21.75%,#fc8 0 22%,#eee 0 22.25%,#bde 0 81deg,#cee 0 22.75%,#fc8 0 23%,#ffb 0 23.25%,#fc8 0 23.5%,#8bd 0 23.75%,#f95 0 24%,#fc8 0 24.25%,#ffb 0 24.5%,#a12 0 24.75%,#46a 0 25%,#ffc 0 25.25%,#fe9 0 25.5%,#cee 0 25.75%,#fe9 0 26%,#69c 0 26.25%,#cee 0 26.5%,#fc8 0 26.75%,#349 0 27%,#a12 0 27.25%,#ffc 0 99deg,#cee 0 27.75%,#fe9 0 28.25%,#cee 0 28.5%,#fe9 0 28.75%,#e74 0 29%,#fc8 0 29.5%,#58b 0 29.75%,#349 0 30%,#a12 0 30.5%,#e53 0 30.75%,#fc8 0 31%,#fe9 0 31.25%,#ffc 0 31.5%,#58b 0 31.75%,#f95 0 32%,#ffb 0 32.25%,#9cd 0 32.5%,#d43 0 32.75%,#fc8 0 33%,#349 0 33.25%,#ffb 0 33.5%,#349 0 33.75%,#ffc 0 34.25%,#c22 0 34.5%,#fc8 0 34.75%,#ffb 0 35%,#eee 0 35.25%,#e53 0 35.5%,#fb6 0 35.75%,#cee 0 36%,#f95 0 36.25%,#349 0 36.5%,#a12 0 36.75%,#eee 0 37%,#e74 0 37.25%,#ffb 0 37.5%,#9cd 0 37.75%,#cee 0 38.5%,#ffc 0 38.75%,#fe9 0 39%,#fc8 0 39.25%,#c22 0 39.5%,#fe9 0 39.75%,#ffb 0 40%,#e74 0 40.25%,#fc8 0 40.5%,#ffc 0 40.75%,#ffb 0 41%,#9cd 0 41.25%,#a12 0 41.5%,#349 0 41.75%,#ffc 0 42.25%,#9cd 0 42.5%,#69c 0 42.75%,#c22 0 43%,#d43 0 43.25%,#ffb 0 43.5%,#fc8 0 43.75%,#eee 0 44%,#e74 0 44.5%,#fe9 0 44.75%,#8bd 0 45%,#fb6 0 45.25%,#eee 0 45.5%,#e53 0 45.75%,#fb6 0 46%,#ffc 0 46.25%,#ffb 0 46.75%,#ffc 0 47%,#fb6 0 47.25%,#8bd 0 47.5%,#9cd 0 47.75%,#fc8 0 48%,#9cd 0 48.25%,#ffb 0 48.75%,#ffc 0 49%,#ffb 0 49.5%,#fc8 0 49.75%,#9cd 0 50%,#eee 0 50.25%,#9cd 0 50.5%,#ffc 0 50.75%,#cee 0 51%,#69c 0 51.25%,#ffc 0 51.5%,#ffb 0 52%,#ffc 0 52.25%,#fe9 0 52.5%,#bde 0 52.75%,#e53 0 53%,#f95 0 53.25%,#ffc 0 53.5%,#e74 0 53.75%,#ffc 0 54%,#eee 0 54.25%,#ffc 0 54.5%,#bde 0 54.75%,#fe9 0 55%,#eee 0 55.5%,#ffb 0 55.75%,#cee 0 56.25%,#9cd 0 56.5%,#fc8 0 56.75%,#e74 0 57.25%,#9cd 0 57.5%,#ffb 0 57.75%,#f95 0 58.25%,#ffc 0 58.5%,#a12 0 58.75%,#e74 0 59%,#ffc 0 59.25%,#fc8 0 59.5%,#ffb 0 59.75%,#ffc 0 60%,#fc8 0 60.25%,#eee 0 60.5%,#fc8 0 60.75%,#ffc 0 61%,#fe9 0 61.25%,#ffb 0 61.5%,#fc8 0 61.75%,#ffb 0 62%,#eee 0 62.25%,#ffb 0 62.5%,#eee 0 62.75%,#fe9 0 63%,#fc8 0 63.25%,#ffc 0 63.5%,#fe9 0 63.75%,#ffc 0 64.25%,#fe9 0 64.5%,#ffb 0 64.75%,#fb6 0 65%,#9cd 0 65.25%,#fe9 0 65.5%,#fb6 0 65.75%,#ffc 0 66%,#bde 0 66.25%,#ffc 0 66.5%,#9cd 0 66.75%,#ffb 0 67%,#e74 0 67.25%,#ffb 0 67.5%,#69c 0 67.75%,#ffc 0 68%,#fb6 0 68.25%,#bde 0 68.5%,#eee 0 68.75%,#8bd 0 69%,#fe9 0 69.25%,#f95 0 69.5%,#eee 0 70%,#cee 0 70.25%,#fe9 0 70.5%,#69c 0 70.75%,#cee 0 71.25%,#ffb 0 71.5%,#9cd 0 71.75%,#fe9 0 72%,#ffb 0 72.5%,#cee 0 72.75%,#fe9 0 73.25%,#9cd 0 73.5%,#ffb 0 74.25%,#eee 0 74.5%,#ffc 0 74.75%,#ffb 0 75%,#349 0 75.25%,#ffb 0 75.75%,#ffc 0 76%,#ffb 0 76.5%,#fe9 0 76.75%,#ffc 0 77%,#fc8 0 77.25%,#46a 0 77.5%,#ffb 0 77.75%,#ffc 0 78%,#ffb 0 78.5%,#fc8 0 78.75%,#fe9 0 79%,#ffb 0 79.75%,#f95 0 80%,#fe9 0 80.25%,#58b 0 80.5%,#eee 0 81%,#fc8 0 81.25%,#ffb 0 82%,#e74 0 82.25%,#fe9 0 82.5%,#e53 0 82.75%,#fe9 0 83%,#cee 0 83.25%,#eee 0 83.5%,#cee 0 83.75%,#fe9 0 84%,#bde 0 84.25%,#ffc 0 84.5%,#ffb 0 84.75%,#fc8 0 85%,#f95 0 85.25%,#eee 0 85.5%,#e74 0 85.75%,#69c 0 86%,#ffc 0 86.25%,#ffb 0 86.75%,#ffc 0 87%,#e53 0 87.25%,#ffc 0 87.5%,#cee 0 88%,#eee 0 88.25%,#bde 0 88.5%,#ffc 0 89.25%,#f95 0 89.5%,#cee 0 89.75%,#ffb 0 90%,#f95 0 90.25%,#bde 0 90.5%,#cee 0 91%,#ffb 0 91.5%,#fc8 0 91.75%,#ffc 0 92%,#69c 0 92.25%,#ffc 0 93%,#cee 0 93.25%,#ffb 0 93.5%,#fe9 0 93.75%,#ffc 0 94%,#9cd 0 94.25%,#fc8 0 94.5%,#ffc 0 94.75%,#fe9 0 95%,#ffb 0 95.25%,#eee 0 95.5%,#ffc 0 95.75%,#fe9 0 96%,#ffb 0 96.25%,#cee 0 96.5%,#ffb 0 97.25%,#fc8 0 97.5%,#e53 0 97.75%,#ffb 0 98%,#ffc 0 98.25%,#fc8 0 98.75%,#ffc 0 99%,#ffb 0 99.25%,#fe9 0 99.5%,#e74 0 99.75%,#eee 0)"></i>
<i style="inset:-37.7px;background:conic-gradient(#e74 0 0.25%,#eee 0 0.5%,#ffb 0 0.75%,#fe9 0 1%,#ffb 0 1.25%,#f95 0 1.5%,#ffc 0 1.75%,#fc8 0 2%,#fe9 0 2.25%,#ffb 0 9deg,#fb6 0 2.75%,#fe9 0 3%,#ffb 0 3.25%,#8bd 0 3.5%,#ffb 0 4%,#eee 0 4.25%,#8bd 0 4.5%,#ffb 0 4.75%,#cee 0 5%,#ffc 0 5.25%,#f95 0 5.5%,#eee 0 5.75%,#bde 0 6%,#ffb 0 6.5%,#8bd 0 6.75%,#fc8 0 7%,#eee 0 7.25%,#9cd 0 7.5%,#fb6 0 7.75%,#ffc 0 8.25%,#ffb 0 8.5%,#c22 0 8.75%,#ffb 0 9.25%,#bde 0 9.5%,#eee 0 9.75%,#ffb 0 10%,#eee 0 10.25%,#ffb 0 10.75%,#fe9 0 11.25%,#ffc 0 11.5%,#bde 0 11.75%,#ffb 0 12%,#9cd 0 12.25%,#ffb 0 12.75%,#fe9 0 13%,#ffb 0 13.5%,#fe9 0 13.75%,#9cd 0 14%,#ffb 0 14.5%,#fb6 0 14.75%,#9cd 0 15%,#eee 0 15.25%,#ffb 0 15.5%,#bde 0 15.75%,#a12 0 16%,#fe9 0 16.25%,#9cd 0 16.5%,#fb6 0 16.75%,#ffc 0 17%,#fe9 0 17.25%,#9cd 0 63deg,#ffb 0 17.75%,#f95 0 18%,#ffc 0 18.25%,#ffb 0 18.5%,#8bd 0 18.75%,#bde 0 19%,#f95 0 19.25%,#ffb 0 19.75%,#f95 0 20%,#d43 0 20.25%,#fb6 0 20.5%,#fc8 0 20.75%,#ffc 0 21.25%,#fe9 0 21.5%,#ffc 0 21.75%,#fe9 0 22%,#bde 0 22.25%,#cee 0 81deg,#eee 0 22.75%,#ffb 0 23.25%,#f95 0 23.5%,#8bd 0 23.75%,#fe9 0 24%,#ffb 0 24.25%,#ffc 0 24.5%,#a12 0 24.75%,#8bd 0 25%,#cee 0 25.25%,#ffb 0 25.5%,#eee 0 25.75%,#ffb 0 26%,#9cd 0 26.25%,#ffc 0 26.5%,#fe9 0 26.75%,#46a 0 27%,#a12 0 27.25%,#ffb 0 99deg,#eee 0 27.75%,#fe9 0 28%,#eee 0 28.5%,#ffb 0 28.75%,#f95 0 29%,#fc8 0 29.25%,#ffb 0 29.5%,#58b 0 29.75%,#349 0 30%,#d43 0 30.25%,#c22 0 30.5%,#fe9 0 31%,#ffb 0 31.5%,#69c 0 31.75%,#fe9 0 32%,#ffc 0 32.25%,#eee 0 32.5%,#e53 0 32.75%,#fb6 0 33%,#58b 0 33.25%,#ffc 0 33.5%,#349 0 33.75%,#eee 0 34%,#fb6 0 34.25%,#a12 0 34.5%,#fb6 0 34.75%,#ffb 0 35%,#ffc 0 35.25%,#a12 0 35.5%,#fc8 0 35.75%,#eee 0 36%,#e74 0 36.25%,#349 0 36.5%,#a12 0 36.75%,#cee 0 37%,#e53 0 37.25%,#ffc 0 37.5%,#58b 0 37.75%,#9cd 0 38%,#bde 0 38.25%,#ffb 0 38.5%,#ffc 0 38.75%,#ffb 0 39%,#fe9 0 39.25%,#e53 0 39.5%,#fe9 0 39.75%,#ffb 0 40%,#f95 0 40.25%,#ffb 0 40.5%,#cee 0 40.75%,#fc8 0 41%,#69c 0 41.25%,#a12 0 41.5%,#349 0 41.75%,#ffc 0 42%,#ffb 0 42.25%,#cee 0 42.5%,#8bd 0 42.75%,#a12 0 43%,#e53 0 43.25%,#ffb 0 43.5%,#fb6 0 43.75%,#ffb 0 44%,#f95 0 44.25%,#e53 0 44.5%,#fe9 0 44.75%,#cee 0 45%,#fb6 0 45.25%,#cee 0 45.5%,#fb6 0 46%,#bde 0 46.25%,#eee 0 46.5%,#ffb 0 46.75%,#ffc 0 47%,#e74 0 47.25%,#cee 0 47.5%,#bde 0 47.75%,#d43 0 48%,#8bd 0 48.25%,#fe9 0 48.5%,#ffb 0 49.5%,#fc8 0 49.75%,#bde 0 50%,#eee 0 50.25%,#69c 0 50.5%,#ffc 0 50.75%,#cee 0 51%,#69c 0 51.25%,#ffc 0 51.5%,#ffb 0 52%,#ffc 0 52.5%,#cee 0 52.75%,#c22 0 53%,#fb6 0 53.25%,#cee 0 53.5%,#e74 0 53.75%,#ffc 0 54%,#eee 0 54.25%,#ffc 0 54.75%,#fc8 0 55%,#eee 0 55.25%,#ffc 0 55.5%,#ffb 0 55.75%,#cee 0 56.25%,#9cd 0 56.5%,#fc8 0 56.75%,#f95 0 57.25%,#69c 0 57.5%,#ffc 0 57.75%,#e74 0 58.25%,#cee 0 58.5%,#d43 0 58.75%,#e53 0 59%,#eee 0 59.25%,#fc8 0 59.5%,#fe9 0 59.75%,#eee 0 60%,#fc8 0 60.25%,#ffb 0 60.5%,#fe9 0 61%,#fb6 0 61.25%,#ffb 0 61.5%,#f95 0 61.75%,#ffb 0 62%,#ffc 0 62.25%,#ffb 0 62.5%,#cee 0 62.75%,#ffb 0 63%,#fc8 0 63.25%,#ffb 0 63.75%,#ffc 0 64.25%,#ffb 0 64.75%,#fe9 0 65%,#cee 0 65.25%,#fc8 0 65.5%,#fb6 0 65.75%,#ffb 0 66%,#eee 0 66.25%,#ffb 0 66.5%,#bde 0 66.75%,#ffc 0 67%,#d43 0 67.25%,#ffb 0 67.5%,#9cd 0 67.75%,#ffb 0 68%,#fe9 0 68.25%,#cee 0 68.5%,#ffc 0 68.75%,#bde 0 69%,#fc8 0 69.25%,#fe9 0 69.5%,#bde 0 69.75%,#cee 0 70%,#eee 0 70.25%,#fc8 0 70.5%,#46a 0 70.75%,#eee 0 71%,#bde 0 71.25%,#ffb 0 71.5%,#bde 0 71.75%,#fc8 0 72%,#ffb 0 72.25%,#ffc 0 72.5%,#cee 0 72.75%,#fb6 0 73%,#ffb 0 73.25%,#8bd 0 73.5%,#ffc 0 74%,#fc8 0 74.25%,#ffc 0 74.75%,#ffb 0 75%,#349 0 75.25%,#ffb 0 76.75%,#ffc 0 77%,#e74 0 77.25%,#349 0 77.5%,#ffb 0 78%,#ffc 0 78.25%,#ffb 0 78.5%,#fe9 0 78.75%,#ffb 0 79%,#eee 0 79.25%,#fe9 0 79.5%,#ffb 0 79.75%,#e74 0 80%,#fe9 0 80.25%,#58b 0 80.5%,#ffc 0 80.75%,#eee 0 81%,#f95 0 81.25%,#ffb 0 81.75%,#ffc 0 82%,#e53 0 82.25%,#fc8 0 82.5%,#e53 0 82.75%,#ffb 0 83%,#8bd 0 83.25%,#cee 0 83.5%,#bde 0 83.75%,#ffb 0 84%,#9cd 0 84.25%,#ffc 0 84.5%,#ffb 0 84.75%,#fc8 0 85.25%,#cee 0 85.5%,#fb6 0 85.75%,#69c 0 86%,#ffb 0 86.25%,#ffc 0 87%,#e74 0 87.25%,#ffb 0 87.5%,#cee 0 87.75%,#ffc 0 88%,#eee 0 88.25%,#cee 0 88.5%,#ffc 0 88.75%,#eee 0 89%,#ffb 0 89.25%,#e53 0 89.5%,#eee 0 89.75%,#ffb 0 90%,#e74 0 90.25%,#cee 0 90.5%,#bde 0 90.75%,#ffc 0 91%,#ffb 0 91.5%,#fb6 0 91.75%,#ffc 0 92%,#58b 0 92.25%,#ffc 0 92.75%,#ffb 0 93%,#ffc 0 93.25%,#fc8 0 93.5%,#fb6 0 93.75%,#ffc 0 94%,#cee 0 94.25%,#fe9 0 94.5%,#eee 0 94.75%,#ffb 0 95.25%,#cee 0 95.5%,#ffb 0 95.75%,#fb6 0 96%,#ffc 0 96.25%,#eee 0 96.5%,#ffb 0 96.75%,#fe9 0 97.25%,#ffb 0 97.5%,#fb6 0 97.75%,#ffc 0 98.25%,#fe9 0 98.5%,#fc8 0 98.75%,#ffc 0 99%,#ffb 0 99.5%,#e53 0 99.75%,#ffc 0)"></i>
<i style="inset:-36.1px;background:conic-gradient(#e74 0 0.25%,#cee 0 0.5%,#ffb 0 0.75%,#fb6 0 1%,#ffc 0 1.25%,#fb6 0 1.5%,#eee 0 1.75%,#ffb 0 9deg,#fe9 0 2.75%,#fc8 0 3%,#ffb 0 3.25%,#cee 0 3.5%,#ffb 0 3.75%,#ffc 0 4%,#ffb 0 4.25%,#bde 0 4.5%,#fe9 0 4.75%,#bde 0 5.25%,#fc8 0 5.5%,#cee 0 5.75%,#eee 0 6%,#ffb 0 6.5%,#8bd 0 6.75%,#fe9 0 7%,#cee 0 7.25%,#69c 0 7.5%,#fc8 0 7.75%,#eee 0 8%,#ffc 0 8.25%,#ffb 0 8.5%,#e74 0 8.75%,#fe9 0 9%,#ffb 0 9.25%,#69c 0 9.5%,#cee 0 9.75%,#fc8 0 10%,#cee 0 10.25%,#fe9 0 10.5%,#fc8 0 10.75%,#ffb 0 11.25%,#eee 0 11.5%,#8bd 0 11.75%,#ffb 0 12%,#cee 0 12.25%,#ffb 0 45deg,#ffc 0 12.75%,#fe9 0 13%,#ffb 0 13.5%,#fc8 0 13.75%,#cee 0 14%,#ffc 0 14.5%,#f95 0 14.75%,#bde 0 15%,#eee 0 15.25%,#ffb 0 15.5%,#bde 0 15.75%,#a12 0 16%,#fe9 0 16.25%,#eee 0 16.5%,#fc8 0 16.75%,#ffc 0 17%,#fc8 0 17.25%,#eee 0 63deg,#ffb 0 17.75%,#d43 0 18%,#ffb 0 18.5%,#8bd 0 18.75%,#bde 0 19%,#f95 0 19.25%,#ffb 0 19.5%,#ffc 0 19.75%,#fb6 0 20%,#c22 0 20.25%,#fb6 0 20.5%,#ffc 0 21%,#eee 0 21.25%,#ffb 0 22%,#cee 0 22.25%,#eee 0 81deg,#ffc 0 22.75%,#ffb 0 23.25%,#d43 0 23.5%,#8bd 0 23.75%,#ffb 0 24%,#ffc 0 24.5%,#a12 0 24.75%,#cee 0 25%,#bde 0 25.25%,#ffc 0 26%,#bde 0 26.25%,#ffb 0 26.75%,#8bd 0 27%,#a12 0 27.25%,#fe9 0 99deg,#ffc 0 27.75%,#fc8 0 28%,#bde 0 28.25%,#ffc 0 28.5%,#ffb 0 28.75%,#fb6 0 29%,#fc8 0 29.25%,#ffc 0 29.5%,#8bd 0 29.75%,#349 0 30%,#fc8 0 30.25%,#e74 0 30.5%,#cee 0 30.75%,#ffb 0 31%,#eee 0 31.25%,#fe9 0 31.5%,#8bd 0 31.75%,#ffb 0 32%,#ffc 0 32.25%,#ffb 0 32.5%,#f95 0 32.75%,#e74 0 33%,#9cd 0 33.25%,#eee 0 33.5%,#349 0 33.75%,#bde 0 34%,#d43 0 34.5%,#f95 0 34.75%,#ffb 0 35%,#fe9 0 35.25%,#a12 0 35.5%,#ffb 0 35.75%,#eee 0 36%,#e53 0 36.25%,#69c 0 36.5%,#a12 0 36.75%,#cee 0 37%,#e74 0 37.25%,#bde 0 37.5%,#58b 0 37.75%,#8bd 0 38%,#cee 0 38.25%,#fb6 0 38.5%,#ffb 0 38.75%,#ffc 0 39%,#ffb 0 39.25%,#fb6 0 39.5%,#fe9 0 39.75%,#ffc 0 40%,#fc8 0 40.25%,#eee 0 40.5%,#bde 0 40.75%,#f95 0 41%,#58b 0 41.25%,#a12 0 41.5%,#46a 0 41.75%,#ffc 0 42%,#fc8 0 42.25%,#eee 0 42.5%,#bde 0 42.75%,#a12 0 43%,#e74 0 43.25%,#fe9 0 43.5%,#fb6 0 43.75%,#fe9 0 44%,#f95 0 44.25%,#e74 0 44.5%,#ffb 0 45%,#fb6 0 45.25%,#9cd 0 45.5%,#fe9 0 45.75%,#fc8 0 46%,#9cd 0 46.5%,#ffb 0 46.75%,#ffc 0 47%,#d43 0 47.25%,#ffc 0 47.5%,#cee 0 47.75%,#a12 0 48%,#8bd 0 48.25%,#ffb 0 48.75%,#ffc 0 49%,#ffb 0 49.25%,#ffc 0 49.5%,#ffb 0 49.75%,#bde 0 50%,#cee 0 50.25%,#58b 0 50.5%,#ffb 0 50.75%,#cee 0 51%,#58b 0 51.25%,#ffb 0 52%,#ffc 0 52.25%,#eee 0 52.5%,#bde 0 52.75%,#a12 0 53%,#fc8 0 53.25%,#cee 0 53.5%,#f95 0 53.75%,#ffb 0 54%,#ffc 0 54.25%,#ffb 0 54.75%,#fc8 0 55%,#ffc 0 55.25%,#ffb 0 55.75%,#ffc 0 56%,#cee 0 56.25%,#bde 0 56.5%,#fe9 0 56.75%,#fb6 0 57.25%,#69c 0 57.5%,#eee 0 57.75%,#e53 0 58%,#e74 0 58.25%,#bde 0 58.5%,#f95 0 58.75%,#d43 0 59%,#ffc 0 59.25%,#fe9 0 59.5%,#fb6 0 59.75%,#ffc 0 60%,#fe9 0 60.5%,#ffb 0 60.75%,#fb6 0 61%,#fc8 0 61.25%,#ffc 0 61.5%,#e53 0 61.75%,#fe9 0 62%,#ffb 0 62.25%,#ffc 0 62.5%,#eee 0 62.75%,#ffc 0 63%,#fc8 0 63.25%,#ffb 0 63.75%,#ffc 0 64.25%,#ffb 0 65%,#ffc 0 65.25%,#fc8 0 65.5%,#fb6 0 65.75%,#ffb 0 66%,#ffc 0 66.25%,#ffb 0 66.5%,#cee 0 67%,#d43 0 67.25%,#ffb 0 67.5%,#eee 0 67.75%,#fe9 0 68%,#ffb 0 68.25%,#ffc 0 68.75%,#eee 0 69%,#fb6 0 69.25%,#ffc 0 69.5%,#9cd 0 69.75%,#cee 0 70%,#eee 0 70.25%,#fe9 0 70.5%,#69c 0 70.75%,#ffb 0 71%,#cee 0 71.25%,#ffb 0 71.5%,#cee 0 71.75%,#fe9 0 72%,#ffc 0 72.25%,#eee 0 72.5%,#cee 0 72.75%,#e74 0 73%,#ffc 0 73.25%,#69c 0 73.5%,#cee 0 73.75%,#eee 0 74%,#fb6 0 74.25%,#ffb 0 74.5%,#eee 0 74.75%,#fe9 0 75%,#58b 0 75.25%,#fe9 0 75.5%,#ffb 0 75.75%,#fe9 0 76%,#ffc 0 76.5%,#ffb 0 77%,#d43 0 77.25%,#349 0 77.5%,#ffb 0 77.75%,#fe9 0 78%,#eee 0 78.25%,#fe9 0 78.5%,#ffb 0 79%,#9cd 0 79.25%,#fe9 0 79.5%,#ffb 0 79.75%,#e53 0 80%,#fc8 0 80.25%,#69c 0 80.5%,#fe9 0 80.75%,#eee 0 81%,#fb6 0 81.25%,#ffb 0 81.5%,#ffc 0 82%,#e53 0 82.25%,#e74 0 82.75%,#ffb 0 83%,#69c 0 83.25%,#cee 0 83.5%,#bde 0 83.75%,#ffb 0 84%,#9cd 0 84.25%,#ffc 0 84.5%,#ffb 0 84.75%,#fc8 0 85.25%,#bde 0 85.5%,#fe9 0 85.75%,#8bd 0 86%,#fe9 0 86.25%,#ffb 0 86.75%,#eee 0 87%,#f95 0 87.25%,#fc8 0 87.5%,#eee 0 87.75%,#ffb 0 88%,#ffc 0 88.25%,#eee 0 89%,#ffb 0 89.25%,#d43 0 89.5%,#eee 0 89.75%,#ffb 0 90%,#f95 0 90.25%,#ffc 0 90.5%,#9cd 0 90.75%,#fe9 0 91%,#ffb 0 91.25%,#ffc 0 91.5%,#fb6 0 91.75%,#ffc 0 92%,#8bd 0 92.25%,#ffb 0 92.5%,#ffc 0 92.75%,#ffb 0 93.25%,#fc8 0 93.5%,#e74 0 93.75%,#ffb 0 94%,#ffc 0 94.25%,#fe9 0 94.5%,#cee 0 94.75%,#ffc 0 95%,#ffb 0 95.25%,#cee 0 95.5%,#ffb 0 95.75%,#f95 0 96%,#eee 0 96.5%,#ffb 0 96.75%,#fc8 0 97%,#ffb 0 97.75%,#cee 0 98%,#ffb 0 98.5%,#fb6 0 98.75%,#ffb 0 99.5%,#e53 0 99.75%,#ffb 0)"></i>
<i style="inset:-34.5px;background:conic-gradient(#e74 0 0.25%,#9cd 0 0.5%,#ffb 0 0.75%,#f95 0 1%,#ffc 0 1.25%,#fc8 0 1.5%,#cee 0 1.75%,#ffc 0 9deg,#ffb 0 2.75%,#fb6 0 3%,#ffb 0 3.25%,#eee 0 3.5%,#ffb 0 3.75%,#eee 0 4%,#fe9 0 4.25%,#eee 0 4.5%,#ffb 0 4.75%,#bde 0 5%,#8bd 0 5.25%,#ffb 0 5.5%,#bde 0 5.75%,#ffc 0 6%,#ffb 0 6.25%,#ffc 0 6.5%,#8bd 0 6.75%,#ffb 0 7%,#bde 0 7.25%,#8bd 0 7.5%,#fe9 0 7.75%,#cee 0 8%,#ffc 0 8.25%,#ffb 0 8.5%,#fc8 0 8.75%,#fe9 0 9%,#ffc 0 9.25%,#58b 0 9.5%,#cee 0 9.75%,#f95 0 10%,#cee 0 10.25%,#ffb 0 10.5%,#fb6 0 10.75%,#ffb 0 11.25%,#cee 0 11.5%,#8bd 0 11.75%,#fe9 0 12%,#ffc 0 12.25%,#ffb 0 45deg,#ffc 0 12.75%,#fc8 0 13%,#ffb 0 13.5%,#fc8 0 13.75%,#ffc 0 14%,#eee 0 14.25%,#cee 0 14.5%,#e74 0 14.75%,#eee 0 15.25%,#ffb 0 15.5%,#eee 0 15.75%,#e53 0 16%,#ffb 0 16.5%,#fe9 0 16.75%,#eee 0 17%,#e74 0 17.25%,#ffb 0 63deg,#ffc 0 17.75%,#c22 0 18%,#ffb 0 18.25%,#ffc 0 18.5%,#bde 0 18.75%,#eee 0 19%,#fb6 0 19.25%,#ffc 0 19.5%,#eee 0 19.75%,#fe9 0 20%,#a12 0 20.25%,#f95 0 20.5%,#9cd 0 20.75%,#ffc 0 21%,#bde 0 21.25%,#ffb 0 21.75%,#ffc 0 22%,#ffb 0 22.25%,#eee 0 81deg,#ffb 0 23.25%,#a12 0 23.5%,#69c 0 23.75%,#ffb 0 24%,#bde 0 24.25%,#eee 0 24.5%,#c22 0 24.75%,#ffc 0 25%,#8bd 0 25.25%,#eee 0 25.5%,#ffc 0 25.75%,#cee 0 26.25%,#ffb 0 26.75%,#cee 0 27%,#f95 0 27.25%,#fb6 0 99deg,#eee 0 27.75%,#fc8 0 28%,#9cd 0 28.25%,#ffb 0 28.75%,#fe9 0 29%,#fc8 0 29.25%,#cee 0 29.5%,#bde 0 29.75%,#46a 0 30%,#ffb 0 30.25%,#f95 0 30.5%,#349 0 30.75%,#eee 0 31%,#cee 0 31.25%,#fc8 0 31.5%,#bde 0 31.75%,#eee 0 32%,#ffc 0 32.25%,#fe9 0 32.5%,#fc8 0 32.75%,#e53 0 33%,#ffc 0 33.25%,#cee 0 33.5%,#9cd 0 33.75%,#8bd 0 34%,#a12 0 34.25%,#e74 0 34.5%,#fb6 0 34.75%,#ffb 0 35%,#f95 0 35.25%,#a12 0 35.5%,#cee 0 35.75%,#eee 0 36%,#e74 0 36.25%,#eee 0 36.5%,#a12 0 36.75%,#eee 0 37%,#e53 0 37.25%,#58b 0 37.5%,#9cd 0 37.75%,#69c 0 38%,#eee 0 38.25%,#e53 0 38.5%,#fe9 0 38.75%,#ffb 0 39%,#eee 0 39.25%,#ffb 0 39.75%,#eee 0 40%,#ffb 0 40.25%,#8bd 0 40.5%,#cee 0 40.75%,#e74 0 41%,#58b 0 41.25%,#e53 0 41.5%,#9cd 0 41.75%,#ffc 0 42%,#fb6 0 42.25%,#ffc 0 42.5%,#cee 0 42.75%,#a12 0 43%,#f95 0 43.5%,#fc8 0 44%,#fb6 0 44.5%,#ffb 0 44.75%,#fc8 0 45.25%,#58b 0 45.5%,#ffc 0 45.75%,#ffb 0 46%,#bde 0 46.25%,#9cd 0 46.5%,#eee 0 46.75%,#ffc 0 47%,#d43 0 47.25%,#ffc 0 47.5%,#eee 0 47.75%,#a12 0 48%,#cee 0 48.25%,#ffb 0 48.75%,#eee 0 49.25%,#ffc 0 49.5%,#ffb 0 49.75%,#cee 0 50%,#bde 0 50.25%,#8bd 0 50.5%,#ffc 0 50.75%,#eee 0 51%,#58b 0 51.25%,#ffb 0 52.25%,#ffc 0 52.5%,#9cd 0 52.75%,#c22 0 53%,#fe9 0 53.25%,#cee 0 53.5%,#fb6 0 53.75%,#fe9 0 54%,#ffc 0 54.25%,#fe9 0 55%,#ffb 0 56%,#eee 0 56.5%,#ffb 0 56.75%,#fc8 0 57.25%,#8bd 0 57.5%,#bde 0 57.75%,#e74 0 58%,#fb6 0 58.25%,#9cd 0 58.5%,#fb6 0 58.75%,#e74 0 59%,#ffb 0 59.5%,#f95 0 59.75%,#ffc 0 60%,#ffb 0 60.25%,#fe9 0 60.5%,#ffc 0 60.75%,#fb6 0 61%,#ffb 0 61.25%,#ffc 0 61.5%,#e53 0 61.75%,#ffb 0 62.25%,#ffc 0 62.75%,#cee 0 63%,#fe9 0 63.25%,#ffb 0 63.75%,#ffc 0 64%,#ffb 0 64.25%,#ffc 0 64.75%,#ffb 0 65.25%,#fc8 0 65.5%,#fb6 0 65.75%,#ffc 0 66.25%,#fe9 0 66.5%,#eee 0 66.75%,#cee 0 67%,#e53 0 67.25%,#ffb 0 67.5%,#ffc 0 67.75%,#fb6 0 68%,#ffb 0 68.25%,#fe9 0 68.5%,#ffb 0 68.75%,#ffc 0 69%,#f95 0 69.25%,#eee 0 69.5%,#9cd 0 69.75%,#cee 0 70%,#ffc 0 70.25%,#ffb 0 70.5%,#9cd 0 70.75%,#fc8 0 71%,#eee 0 71.25%,#ffb 0 71.5%,#cee 0 71.75%,#ffb 0 72%,#ffc 0 72.25%,#cee 0 72.75%,#d43 0 73%,#ffc 0 73.25%,#58b 0 73.5%,#9cd 0 73.75%,#cee 0 74%,#fc8 0 74.25%,#ffb 0 74.5%,#ffc 0 74.75%,#ffb 0 75%,#bde 0 75.25%,#fe9 0 75.5%,#ffb 0 76%,#ffc 0 76.5%,#ffb 0 77%,#c22 0 77.25%,#46a 0 77.5%,#ffb 0 77.75%,#fc8 0 78%,#bde 0 78.25%,#fe9 0 78.5%,#ffb 0 78.75%,#ffc 0 79%,#8bd 0 79.25%,#ffb 0 79.75%,#e53 0 80%,#fb6 0 80.25%,#bde 0 80.5%,#fb6 0 80.75%,#cee 0 81%,#fb6 0 81.25%,#fe9 0 81.5%,#ffc 0 82%,#e53 0 82.25%,#c22 0 82.5%,#fc8 0 82.75%,#ffc 0 83%,#bde 0 83.5%,#9cd 0 83.75%,#ffc 0 84%,#cee 0 84.25%,#ffb 0 84.75%,#fc8 0 85%,#fb6 0 85.25%,#8bd 0 85.5%,#ffb 0 85.75%,#cee 0 86%,#fc8 0 86.25%,#ffb 0 86.75%,#eee 0 87%,#fb6 0 87.25%,#e74 0 87.5%,#eee 0 87.75%,#ffb 0 88.25%,#ffc 0 88.5%,#eee 0 88.75%,#ffc 0 89%,#ffb 0 89.25%,#d43 0 89.5%,#cee 0 89.75%,#fe9 0 90%,#fb6 0 90.25%,#ffc 0 90.5%,#bde 0 90.75%,#fe9 0 91%,#ffb 0 91.25%,#cee 0 91.5%,#fc8 0 91.75%,#ffc 0 92%,#cee 0 92.25%,#ffb 0 92.5%,#eee 0 92.75%,#ffb 0 93%,#fb6 0 93.25%,#fe9 0 93.5%,#d43 0 93.75%,#ffb 0 94.25%,#fe9 0 94.5%,#bde 0 94.75%,#eee 0 95%,#ffb 0 95.25%,#eee 0 95.5%,#ffb 0 95.75%,#fc8 0 96%,#eee 0 96.5%,#ffb 0 96.75%,#fc8 0 97%,#fe9 0 97.25%,#eee 0 97.75%,#bde 0 98%,#fe9 0 98.25%,#ffc 0 98.5%,#fb6 0 98.75%,#fe9 0 99.5%,#f95 0 99.75%,#ffb 0)"></i>
<i style="inset:-32.9px;background:conic-gradient(#f95 0 0.25%,#69c 0 0.5%,#ffb 0 0.75%,#e53 0 1%,#ffc 0 1.25%,#fe9 0 1.5%,#bde 0 1.75%,#ffc 0 2%,#eee 0 9deg,#ffb 0 2.75%,#fb6 0 3%,#ffb 0 3.25%,#ffc 0 3.5%,#ffb 0 3.75%,#bde 0 4%,#fb6 0 4.25%,#ffb 0 4.75%,#9cd 0 5%,#58b 0 5.25%,#ffb 0 5.5%,#cee 0 5.75%,#ffb 0 6.25%,#eee 0 6.5%,#69c 0 6.75%,#ffc 0 7%,#9cd 0 7.25%,#8bd 0 7.5%,#ffb 0 7.75%,#bde 0 8%,#ffb 0 8.25%,#fc8 0 8.75%,#fe9 0 9%,#eee 0 9.25%,#46a 0 9.5%,#cee 0 9.75%,#e53 0 10%,#eee 0 10.25%,#ffb 0 10.5%,#fb6 0 10.75%,#ffb 0 11%,#ffc 0 11.25%,#eee 0 11.5%,#8bd 0 11.75%,#fc8 0 12%,#ffb 0 45deg,#ffc 0 12.75%,#fc8 0 13%,#fe9 0 13.25%,#ffb 0 13.5%,#fe9 0 13.75%,#ffb 0 14%,#ffc 0 14.25%,#9cd 0 14.5%,#a12 0 14.75%,#ffc 0 15%,#eee 0 15.25%,#fe9 0 15.5%,#ffb 0 15.75%,#f95 0 16%,#fe9 0 16.5%,#ffb 0 16.75%,#bde 0 17%,#c22 0 17.25%,#fe9 0 63deg,#bde 0 17.75%,#c22 0 18%,#ffb 0 18.25%,#eee 0 18.5%,#cee 0 18.75%,#ffb 0 19%,#fe9 0 19.25%,#ffc 0 19.5%,#cee 0 19.75%,#ffb 0 20%,#a12 0 20.25%,#e74 0 20.5%,#349 0 20.75%,#ffb 0 21%,#9cd 0 21.25%,#ffb 0 21.5%,#ffc 0 22%,#fc8 0 22.25%,#eee 0 81deg,#fe9 0 22.75%,#ffb 0 23%,#ffc 0 23.25%,#a12 0 23.5%,#8bd 0 23.75%,#fc8 0 24%,#9cd 0 24.25%,#cee 0 24.5%,#c22 0 24.75%,#ffb 0 25%,#58b 0 25.25%,#bde 0 25.5%,#ffb 0 25.75%,#8bd 0 26%,#cee 0 26.25%,#ffb 0 26.75%,#eee 0 27%,#ffb 0 27.25%,#f95 0 99deg,#ffc 0 27.75%,#fc8 0 28%,#cee 0 28.25%,#ffb 0 29%,#fb6 0 29.25%,#cee 0 29.75%,#349 0 30%,#ffc 0 30.25%,#f95 0 30.5%,#349 0 30.75%,#bde 0 31%,#8bd 0 31.25%,#fe9 0 31.5%,#cee 0 32%,#ffc 0 32.25%,#fe9 0 32.5%,#ffb 0 32.75%,#c22 0 33%,#ffb 0 33.25%,#cee 0 33.5%,#ffc 0 33.75%,#69c 0 34%,#a12 0 34.25%,#fc8 0 34.75%,#ffc 0 35%,#a12 0 35.5%,#9cd 0 35.75%,#eee 0 36%,#e53 0 36.25%,#ffb 0 36.5%,#a12 0 36.75%,#ffb 0 37%,#d43 0 37.25%,#349 0 37.5%,#cee 0 37.75%,#58b 0 38%,#ffb 0 38.25%,#c22 0 38.5%,#fb6 0 38.75%,#ffb 0 39%,#bde 0 39.25%,#ffc 0 39.5%,#ffb 0 39.75%,#bde 0 40%,#ffc 0 40.25%,#46a 0 40.5%,#ffc 0 40.75%,#e53 0 41%,#58b 0 41.25%,#f95 0 41.5%,#ffc 0 41.75%,#ffb 0 42%,#e74 0 42.25%,#ffb 0 42.5%,#bde 0 42.75%,#a12 0 43%,#f95 0 43.25%,#c22 0 43.5%,#ffb 0 43.75%,#fe9 0 44%,#fc8 0 44.5%,#ffc 0 44.75%,#f95 0 45%,#fe9 0 45.25%,#349 0 45.5%,#bde 0 45.75%,#eee 0 46%,#cee 0 46.25%,#9cd 0 46.5%,#bde 0 46.75%,#ffc 0 47%,#d43 0 47.25%,#ffb 0 47.5%,#ffc 0 47.75%,#a12 0 48%,#ffc 0 48.5%,#ffb 0 48.75%,#bde 0 49%,#eee 0 49.25%,#ffc 0 49.75%,#cee 0 50.5%,#ffc 0 50.75%,#ffb 0 51%,#58b 0 51.25%,#ffc 0 51.5%,#fe9 0 52%,#ffb 0 52.5%,#8bd 0 52.75%,#d43 0 53%,#ffb 0 53.25%,#cee 0 53.5%,#fe9 0 53.75%,#f95 0 54%,#ffb 0 54.25%,#fc8 0 54.5%,#fb6 0 54.75%,#ffb 0 55%,#fe9 0 55.25%,#ffb 0 55.5%,#fe9 0 56%,#ffc 0 56.75%,#fc8 0 57%,#fe9 0 57.25%,#bde 0 57.5%,#9cd 0 57.75%,#fb6 0 58%,#fc8 0 58.25%,#9cd 0 58.5%,#fc8 0 59%,#fe9 0 59.25%,#ffb 0 59.5%,#e74 0 59.75%,#ffc 0 60%,#ffb 0 60.5%,#cee 0 60.75%,#fe9 0 61%,#cee 0 61.25%,#ffc 0 61.5%,#e53 0 61.75%,#ffc 0 62.25%,#ffb 0 62.5%,#ffc 0 62.75%,#bde 0 63%,#fe9 0 63.25%,#ffb 0 63.5%,#fe9 0 63.75%,#ffc 0 64%,#ffb 0 64.25%,#eee 0 64.75%,#ffc 0 65%,#ffb 0 65.25%,#fe9 0 65.5%,#f95 0 65.75%,#9cd 0 66%,#ffc 0 66.25%,#fe9 0 66.5%,#ffc 0 66.75%,#eee 0 67%,#f95 0 67.25%,#ffb 0 67.75%,#e74 0 68%,#fe9 0 68.25%,#fb6 0 68.5%,#fe9 0 68.75%,#ffc 0 69%,#e53 0 69.25%,#bde 0 69.75%,#eee 0 70%,#ffb 0 70.25%,#ffc 0 70.5%,#cee 0 70.75%,#e74 0 71%,#ffb 0 71.5%,#eee 0 72%,#ffc 0 72.25%,#bde 0 72.5%,#eee 0 72.75%,#a12 0 73%,#ffc 0 73.25%,#58b 0 73.5%,#8bd 0 73.75%,#cee 0 74%,#ffb 0 75%,#ffc 0 75.25%,#fc8 0 75.5%,#ffc 0 75.75%,#ffb 0 76%,#cee 0 76.25%,#ffc 0 76.5%,#ffb 0 77%,#c22 0 77.25%,#349 0 77.5%,#ffb 0 77.75%,#fc8 0 78%,#9cd 0 78.25%,#ffb 0 79%,#58b 0 79.25%,#ffc 0 79.5%,#fc8 0 79.75%,#c22 0 80%,#e53 0 80.25%,#cee 0 80.5%,#e53 0 80.75%,#cee 0 81%,#fc8 0 81.25%,#fe9 0 81.5%,#ffc 0 82%,#c22 0 82.25%,#a12 0 82.5%,#ffb 0 82.75%,#cee 0 83%,#ffc 0 83.25%,#bde 0 83.5%,#9cd 0 83.75%,#eee 0 84.25%,#fe9 0 84.5%,#fb6 0 84.75%,#fc8 0 85%,#f95 0 85.25%,#349 0 85.5%,#ffb 0 85.75%,#ffc 0 86%,#f95 0 86.25%,#fe9 0 86.5%,#ffb 0 86.75%,#eee 0 87%,#fb6 0 87.25%,#d43 0 87.5%,#ffc 0 87.75%,#fe9 0 88%,#ffb 0 88.25%,#ffc 0 88.5%,#cee 0 88.75%,#ffb 0 89.25%,#e74 0 89.5%,#9cd 0 89.75%,#fe9 0 90%,#fb6 0 90.25%,#ffb 0 90.5%,#bde 0 90.75%,#ffb 0 91%,#ffc 0 91.25%,#9cd 0 91.5%,#fc8 0 91.75%,#ffc 0 92%,#ffb 0 92.5%,#bde 0 92.75%,#eee 0 93%,#e53 0 93.25%,#ffb 0 93.5%,#a12 0 93.75%,#fe9 0 94%,#ffb 0 94.25%,#fe9 0 94.5%,#9cd 0 94.75%,#eee 0 95%,#ffb 0 95.25%,#ffc 0 95.5%,#ffb 0 96%,#eee 0 96.5%,#ffb 0 96.75%,#fb6 0 97%,#fe9 0 97.25%,#bde 0 97.5%,#8bd 0 97.75%,#9cd 0 98%,#fc8 0 98.25%,#ffc 0 98.5%,#fb6 0 98.75%,#fc8 0 99.25%,#fe9 0 99.5%,#fc8 0 99.75%,#fe9 0)"></i>
<i style="inset:-31.3px;background:conic-gradient(#f95 0 0.25%,#349 0 0.5%,#ffc 0 0.75%,#c22 0 1%,#ffc 0 1.25%,#ffb 0 1.5%,#9cd 0 1.75%,#ffc 0 2%,#eee 0 2.25%,#9cd 0 9deg,#ffb 0 2.75%,#fb6 0 3%,#ffb 0 3.25%,#eee 0 3.5%,#ffb 0 3.75%,#8bd 0 4%,#f95 0 4.25%,#fe9 0 4.5%,#ffc 0 4.75%,#8bd 0 5.25%,#ffc 0 5.5%,#eee 0 5.75%,#fb6 0 6%,#ffb 0 6.25%,#eee 0 6.5%,#46a 0 6.75%,#cee 0 7%,#9cd 0 7.5%,#ffb 0 7.75%,#cee 0 8%,#ffb 0 8.25%,#e53 0 8.5%,#fb6 0 8.75%,#fe9 0 9%,#cee 0 9.25%,#58b 0 9.5%,#cee 0 9.75%,#d43 0 10%,#ffc 0 10.5%,#fc8 0 10.75%,#ffb 0 11%,#eee 0 11.5%,#bde 0 11.75%,#fe9 0 12.25%,#ffb 0 45deg,#ffc 0 12.75%,#fe9 0 13.25%,#fc8 0 13.5%,#ffb 0 14%,#ffc 0 14.25%,#8bd 0 14.5%,#a12 0 14.75%,#ffb 0 15%,#eee 0 15.25%,#fc8 0 15.5%,#f95 0 15.75%,#ffb 0 16%,#f95 0 16.25%,#fc8 0 16.5%,#ffc 0 16.75%,#8bd 0 17%,#a12 0 17.25%,#fc8 0 63deg,#69c 0 17.75%,#c22 0 18%,#ffc 0 18.25%,#cee 0 18.5%,#eee 0 18.75%,#fe9 0 19%,#ffb 0 19.5%,#cee 0 19.75%,#eee 0 20%,#a12 0 20.25%,#e53 0 20.5%,#349 0 20.75%,#fe9 0 21%,#8bd 0 21.25%,#ffb 0 21.5%,#cee 0 21.75%,#ffc 0 22%,#d43 0 22.25%,#eee 0 81deg,#fb6 0 22.75%,#ffb 0 23%,#eee 0 23.25%,#a12 0 23.5%,#cee 0 23.75%,#e53 0 24%,#cee 0 24.5%,#a12 0 24.75%,#ffb 0 25%,#46a 0 25.25%,#9cd 0 25.5%,#ffb 0 25.75%,#9cd 0 26%,#cee 0 26.25%,#fe9 0 26.5%,#eee 0 26.75%,#ffc 0 27%,#eee 0 27.25%,#f95 0 99deg,#ffb 0 28%,#ffc 0 28.25%,#fe9 0 28.75%,#ffb 0 29%,#f95 0 29.25%,#ffc 0 29.75%,#349 0 30%,#ffb 0 30.25%,#f95 0 30.5%,#349 0 30.75%,#58b 0 31%,#349 0 31.25%,#ffb 0 31.5%,#ffc 0 31.75%,#eee 0 32.25%,#ffb 0 32.75%,#a12 0 33%,#fc8 0 33.25%,#eee 0 33.5%,#fc8 0 33.75%,#58b 0 34%,#a12 0 34.25%,#ffb 0 34.5%,#fe9 0 34.75%,#eee 0 35%,#a12 0 35.5%,#69c 0 35.75%,#eee 0 36%,#e53 0 36.25%,#f95 0 36.5%,#e53 0 36.75%,#fc8 0 37%,#a12 0 37.25%,#349 0 37.5%,#ffc 0 37.75%,#58b 0 38%,#fe9 0 38.25%,#a12 0 38.5%,#c22 0 38.75%,#fb6 0 39%,#9cd 0 39.25%,#ffc 0 39.5%,#ffb 0 39.75%,#58b 0 40%,#eee 0 40.25%,#349 0 40.5%,#ffb 0 40.75%,#e74 0 41%,#58b 0 41.25%,#fe9 0 41.5%,#ffb 0 42%,#e74 0 42.25%,#ffb 0 42.5%,#69c 0 42.75%,#a12 0 43%,#fb6 0 43.25%,#a12 0 43.5%,#ffc 0 43.75%,#ffb 0 44.25%,#fe9 0 44.5%,#ffc 0 44.75%,#f95 0 45%,#ffb 0 45.25%,#349 0 45.5%,#69c 0 45.75%,#58b 0 46%,#ffc 0 46.25%,#bde 0 46.5%,#58b 0 46.75%,#eee 0 47%,#d43 0 47.25%,#ffb 0 47.5%,#ffc 0 47.75%,#e74 0 48%,#fe9 0 48.25%,#ffb 0 48.75%,#9cd 0 49%,#ffc 0 49.75%,#eee 0 50%,#ffc 0 50.25%,#ffb 0 50.5%,#cee 0 50.75%,#fc8 0 51%,#46a 0 51.25%,#cee 0 51.5%,#fe9 0 51.75%,#fc8 0 52%,#ffb 0 52.5%,#58b 0 52.75%,#f95 0 53%,#ffb 0 53.25%,#cee 0 53.5%,#ffb 0 53.75%,#e53 0 54%,#ffb 0 54.25%,#fb6 0 54.5%,#e74 0 54.75%,#ffb 0 55%,#fc8 0 55.25%,#ffb 0 55.5%,#fe9 0 55.75%,#fc8 0 56%,#ffb 0 56.5%,#cee 0 56.75%,#fc8 0 57%,#ffb 0 57.25%,#cee 0 57.5%,#8bd 0 57.75%,#fc8 0 58.25%,#bde 0 58.5%,#fe9 0 58.75%,#ffb 0 59%,#f95 0 59.25%,#ffb 0 59.5%,#d43 0 59.75%,#eee 0 60%,#ffb 0 60.25%,#ffc 0 60.5%,#8bd 0 60.75%,#ffc 0 61%,#46a 0 61.25%,#ffc 0 61.5%,#f95 0 61.75%,#eee 0 62%,#ffc 0 62.25%,#ffb 0 62.75%,#bde 0 63%,#fe9 0 63.25%,#ffc 0 63.5%,#fb6 0 63.75%,#ffb 0 64%,#fe9 0 64.25%,#ffc 0 64.5%,#bde 0 64.75%,#ffc 0 65%,#ffb 0 65.25%,#fe9 0 65.5%,#f95 0 65.75%,#46a 0 66%,#ffc 0 66.25%,#ffb 0 67.5%,#fc8 0 67.75%,#d43 0 68%,#fb6 0 68.5%,#fc8 0 68.75%,#eee 0 69%,#d43 0 69.25%,#bde 0 69.5%,#ffc 0 69.75%,#ffb 0 70.25%,#cee 0 70.5%,#eee 0 70.75%,#c22 0 71%,#ffb 0 71.5%,#ffc 0 71.75%,#bde 0 72%,#eee 0 72.25%,#cee 0 72.5%,#eee 0 72.75%,#a12 0 73%,#ffb 0 73.25%,#bde 0 73.5%,#8bd 0 73.75%,#eee 0 74%,#ffb 0 74.5%,#fe9 0 74.75%,#ffc 0 75%,#fe9 0 75.25%,#fb6 0 75.5%,#ffc 0 75.75%,#eee 0 76%,#9cd 0 76.25%,#ffb 0 76.5%,#ffc 0 76.75%,#ffb 0 77%,#c22 0 77.25%,#349 0 77.5%,#ffc 0 77.75%,#ffb 0 78%,#8bd 0 78.25%,#ffb 0 79%,#349 0 79.25%,#eee 0 79.5%,#e74 0 79.75%,#a12 0 80.25%,#eee 0 80.5%,#c22 0 80.75%,#cee 0 81%,#fb6 0 81.25%,#ffb 0 81.5%,#ffc 0 81.75%,#ffb 0 82%,#a12 0 82.5%,#eee 0 82.75%,#58b 0 83%,#fc8 0 83.25%,#bde 0 83.75%,#eee 0 84%,#ffc 0 84.25%,#fb6 0 84.5%,#c22 0 84.75%,#fb6 0 85%,#f95 0 85.25%,#349 0 85.5%,#ffb 0 86%,#f95 0 86.25%,#fb6 0 86.5%,#fe9 0 86.75%,#ffc 0 87%,#fb6 0 87.25%,#e53 0 87.5%,#ffb 0 87.75%,#fe9 0 88%,#ffb 0 88.5%,#9cd 0 88.75%,#ffb 0 89.25%,#fe9 0 89.5%,#58b 0 89.75%,#fe9 0 90%,#fc8 0 90.25%,#fe9 0 90.5%,#eee 0 91.25%,#8bd 0 91.5%,#fe9 0 91.75%,#eee 0 92%,#ffb 0 92.5%,#8bd 0 92.75%,#bde 0 93%,#c22 0 93.25%,#ffc 0 93.5%,#a12 0 93.75%,#fc8 0 94%,#fe9 0 94.5%,#9cd 0 94.75%,#ffc 0 95%,#ffb 0 95.5%,#ffc 0 95.75%,#eee 0 96%,#ffc 0 96.75%,#fc8 0 97%,#fe9 0 97.25%,#8bd 0 97.5%,#349 0 97.75%,#8bd 0 98%,#fb6 0 98.25%,#ffb 0 98.5%,#fc8 0 98.75%,#fb6 0 99%,#fc8 0 99.25%,#fe9 0 99.5%,#ffb 0 99.75%,#fe9 0)"></i>
<i style="inset:-30px;background:conic-gradient(#ffb 0 0.42%,#eee 0 3deg,#ffb 0 6deg,#349 0 2.08%,#ffb 0 3.75%,#349 0 15deg,#fe9 0 4.58%,#bde 0 5%,#fe9 0 5.42%,#cee 0 21deg,#ffb 0 7.08%,#58b 0 7.5%,#ffb 0 7.92%,#c22 0 30deg,#fb6 0 33deg,#ffb 0 10%,#ffc 0 10.42%,#69c 0 39deg,#a12 0 11.25%,#c22 0 42deg,#ffb 0 12.08%,#cee 0 45deg,#f95 0 12.92%,#ffc 0 48deg,#bde 0 13.75%,#fe9 0 51deg,#ffb 0 14.58%,#a12 0 15%,#8bd 0 15.42%,#e74 0 57deg,#ffb 0 16.25%,#eee 0 60deg,#ffb 0 17.08%,#ffc 0 63deg,#349 0 17.92%,#a12 0 66deg,#46a 0 18.75%,#ffb 0 20%,#cee 0 20.42%,#f95 0 75deg,#ffb 0 21.25%,#ffc 0 78deg,#fe9 0 22.08%,#e53 0 22.92%,#8bd 0 84deg,#ffc 0 23.75%,#fe9 0 87deg,#eee 0 24.58%,#8bd 0 25%,#fe9 0 25.42%,#a12 0 93deg,#349 0 26.25%,#46a 0 96deg,#fe9 0 27.08%,#ffb 0 99deg,#ffc 0 27.92%,#349 0 102deg,#fb6 0 28.75%,#fe9 0 105deg,#58b 0 29.58%,#69c 0 30%,#ffb 0 30.42%,#fc8 0 111deg,#f95 0 31.25%,#fe9 0 114deg,#d43 0 32.08%,#fc8 0 32.5%,#ffb 0 33.75%,#fe9 0 123deg,#bde 0 34.58%,#ffb 0 129deg,#349 0 36.25%,#46a 0 132deg,#ffb 0 37.08%,#e53 0 37.5%,#fc8 0 138deg,#349 0 141deg,#a12 0 39.58%,#ffb 0 40%,#8bd 0 40.42%,#e53 0 147deg,#cee 0 41.25%,#fb6 0 150deg,#ffc 0 42.5%,#a12 0 42.92%,#ffb 0 156deg,#cee 0 43.75%,#349 0 159deg,#fc8 0 44.58%,#cee 0 45%,#fe9 0 45.42%,#ffb 0 46.25%,#a12 0 168deg,#cee 0 47.08%,#349 0 47.92%,#ffc 0 174deg,#a12 0 48.75%,#ffb 0 50.42%,#fe9 0 183deg,#f95 0 51.25%,#ffc 0 186deg,#58b 0 52.08%,#fe9 0 52.5%,#eee 0 52.92%,#ffb 0 192deg,#eee 0 53.75%,#46a 0 195deg,#ffb 0 54.58%,#bde 0 55%,#cee 0 55.42%,#a12 0 201deg,#f95 0 56.25%,#cee 0 204deg,#ffc 0 57.08%,#e74 0 57.5%,#ffb 0 210deg,#cee 0 58.75%,#fb6 0 213deg,#fc8 0 59.58%,#e74 0 60.42%,#a12 0 219deg,#ffc 0 61.25%,#349 0 222deg,#cee 0 62.5%,#ffb 0 62.92%,#fb6 0 228deg,#f95 0 63.75%,#eee 0 231deg,#ffc 0 64.58%,#e53 0 65%,#349 0 65.42%,#ffb 0 237deg,#ffc 0 66.25%,#eee 0 240deg,#ffb 0 67.92%,#fe9 0 246deg,#d43 0 68.75%,#9cd 0 249deg,#fc8 0 69.58%,#cee 0 70%,#ffb 0 70.42%,#f95 0 255deg,#ffb 0 258deg,#8bd 0 72.08%,#d43 0 72.5%,#8bd 0 72.92%,#ffb 0 73.75%,#fe9 0 267deg,#349 0 74.58%,#d43 0 75%,#cee 0 75.42%,#9cd 0 76.25%,#ffb 0 276deg,#e53 0 77.08%,#a12 0 77.92%,#58b 0 282deg,#fe9 0 78.75%,#c22 0 285deg,#ffc 0 79.58%,#e53 0 80%,#ffb 0 80.42%,#9cd 0 291deg,#ffc 0 81.25%,#fc8 0 294deg,#349 0 82.08%,#bde 0 82.5%,#fb6 0 82.92%,#a12 0 300deg,#fb6 0 303deg,#a12 0 85%,#ffc 0 85.42%,#ffb 0 309deg,#fb6 0 86.25%,#349 0 312deg,#eee 0 87.5%,#ffb 0 87.92%,#a12 0 318deg,#ffc 0 88.75%,#349 0 321deg,#fe9 0 89.58%,#69c 0 90%,#e53 0 90.42%,#a12 0 327deg,#f95 0 330deg,#9cd 0 92.08%,#ffb 0 92.5%,#fb6 0 92.92%,#ffc 0 336deg,#46a 0 93.75%,#ffb 0 339deg,#fe9 0 94.58%,#9cd 0 95%,#ffc 0 95.42%,#f95 0 345deg,#ffb 0 96.25%,#cee 0 348deg,#bde 0 97.08%,#ffc 0 97.5%,#e53 0 97.92%,#ffb 0 354deg,#ffc 0 98.75%,#eee 0)"></i>
<i style="inset:-28px;background:conic-gradient(#cee 0 0.42%,#fe9 0 3deg,#ffc 0 1.25%,#fe9 0 6deg,#ffc 0 2.08%,#e74 0 9deg,#ffb 0 12deg,#69c 0 3.75%,#9cd 0 15deg,#ffb 0 4.58%,#cee 0 5%,#ffb 0 5.42%,#cee 0 21deg,#349 0 6.25%,#ffb 0 7.08%,#fe9 0 7.92%,#fc8 0 30deg,#fe9 0 8.75%,#a12 0 33deg,#ffb 0 10%,#bde 0 10.42%,#cee 0 39deg,#fe9 0 11.25%,#f95 0 12.08%,#fc8 0 12.92%,#ffb 0 13.75%,#fe9 0 14.58%,#a12 0 15%,#bde 0 15.42%,#ffb 0 16.25%,#bde 0 60deg,#a12 0 17.08%,#eee 0 63deg,#ffb 0 17.92%,#a12 0 66deg,#349 0 18.75%,#ffb 0 69deg,#349 0 19.58%,#eee 0 20%,#cee 0 20.42%,#e53 0 75deg,#46a 0 21.25%,#ffc 0 78deg,#58b 0 22.08%,#d43 0 81deg,#c22 0 22.92%,#ffb 0 84deg,#ffc 0 23.75%,#fb6 0 87deg,#cee 0 24.58%,#ffb 0 25%,#fc8 0 25.42%,#d43 0 93deg,#eee 0 26.25%,#349 0 96deg,#fe9 0 27.08%,#ffb 0 99deg,#9cd 0 27.92%,#349 0 102deg,#a12 0 28.75%,#fc8 0 105deg,#349 0 30.42%,#ffb 0 111deg,#a12 0 31.25%,#ffb 0 114deg,#fc8 0 32.08%,#ffb 0 32.92%,#fe9 0 120deg,#ffc 0 123deg,#8bd 0 34.58%,#eee 0 35%,#ffb 0 35.42%,#46a 0 129deg,#69c 0 36.25%,#349 0 132deg,#ffb 0 37.08%,#fc8 0 37.5%,#eee 0 37.92%,#e74 0 138deg,#349 0 38.75%,#eee 0 141deg,#fe9 0 39.58%,#ffb 0 40%,#cee 0 40.42%,#ffb 0 41.25%,#eee 0 150deg,#ffc 0 42.08%,#46a 0 42.5%,#ffb 0 43.75%,#349 0 159deg,#ffb 0 44.58%,#fc8 0 45%,#fe9 0 45.42%,#9cd 0 165deg,#fe9 0 46.25%,#a12 0 168deg,#fb6 0 47.08%,#349 0 47.92%,#ffb 0 174deg,#a12 0 48.75%,#ffb 0 49.58%,#f95 0 50%,#ffc 0 50.42%,#f95 0 183deg,#e74 0 51.25%,#a12 0 186deg,#ffc 0 52.08%,#bde 0 52.5%,#eee 0 52.92%,#fc8 0 192deg,#ffb 0 53.75%,#46a 0 195deg,#a12 0 54.58%,#ffb 0 55%,#349 0 55.42%,#a12 0 201deg,#9cd 0 56.25%,#349 0 204deg,#ffb 0 57.08%,#a12 0 57.5%,#c22 0 57.92%,#ffb 0 213deg,#c22 0 60%,#ffb 0 219deg,#cee 0 61.25%,#8bd 0 222deg,#69c 0 62.08%,#ffb 0 62.5%,#fc8 0 62.92%,#a12 0 63.75%,#ffb 0 231deg,#cee 0 64.58%,#f95 0 65%,#349 0 65.42%,#cee 0 237deg,#fc8 0 66.25%,#9cd 0 240deg,#ffc 0 67.08%,#e53 0 67.5%,#ffb 0 246deg,#fe9 0 68.75%,#ffb 0 249deg,#e53 0 69.58%,#ffb 0 70.42%,#fb6 0 255deg,#ffb 0 71.25%,#fe9 0 258deg,#fb6 0 72.08%,#46a 0 72.5%,#ffb 0 72.92%,#eee 0 264deg,#f95 0 73.75%,#ffb 0 267deg,#ffc 0 74.58%,#ffb 0 75%,#eee 0 75.42%,#46a 0 273deg,#ffc 0 76.25%,#ffb 0 276deg,#ffc 0 77.08%,#a12 0 77.92%,#ffc 0 282deg,#ffb 0 78.75%,#fc8 0 285deg,#fe9 0 79.58%,#fc8 0 80%,#ffb 0 80.42%,#ffc 0 291deg,#ffb 0 81.25%,#a12 0 294deg,#bde 0 82.08%,#fe9 0 82.5%,#eee 0 82.92%,#ffb 0 300deg,#fe9 0 83.75%,#cee 0 303deg,#a12 0 84.58%,#e53 0 85%,#58b 0 85.42%,#fe9 0 309deg,#e74 0 86.25%,#9cd 0 312deg,#fb6 0 87.08%,#349 0 87.5%,#fc8 0 87.92%,#a12 0 318deg,#ffc 0 88.75%,#349 0 321deg,#fc8 0 89.58%,#ffc 0 90%,#a12 0 327deg,#eee 0 91.25%,#ffb 0 330deg,#ffc 0 92.08%,#e53 0 92.5%,#d43 0 92.92%,#8bd 0 336deg,#349 0 93.75%,#ffc 0 339deg,#ffb 0 94.58%,#9cd 0 95%,#58b 0 95.42%,#fe9 0 345deg,#ffb 0 96.25%,#ffc 0 348deg,#cee 0 97.08%,#ffb 0 97.5%,#f95 0 97.92%,#ffb 0 354deg,#cee 0 98.75%,#9cd 0 357deg,#46a 0 99.58%,#fe9 0)"></i>
<i style="inset:-26px;background:conic-gradient(#349 0 0.42%,#fc8 0 3deg,#69c 0 1.25%,#f95 0 6deg,#fe9 0 2.08%,#ffb 0 12deg,#cee 0 3.75%,#ffc 0 15deg,#ffb 0 5%,#e74 0 5.42%,#ffc 0 21deg,#349 0 6.25%,#ffc 0 24deg,#eee 0 7.08%,#e53 0 7.5%,#fe9 0 7.92%,#cee 0 30deg,#d43 0 8.75%,#ffb 0 33deg,#bde 0 9.58%,#ffc 0 10%,#58b 0 10.42%,#ffb 0 39deg,#cee 0 11.25%,#ffc 0 42deg,#ffb 0 12.08%,#a12 0 45deg,#ffb 0 48deg,#fe9 0 13.75%,#c22 0 51deg,#a12 0 15%,#ffc 0 15.42%,#eee 0 57deg,#ffc 0 16.25%,#cee 0 60deg,#e74 0 17.08%,#ffb 0 17.92%,#a12 0 66deg,#cee 0 18.75%,#fc8 0 69deg,#8bd 0 19.58%,#349 0 20%,#ffb 0 20.42%,#a12 0 75deg,#349 0 21.25%,#fc8 0 78deg,#349 0 22.08%,#a12 0 81deg,#f95 0 22.92%,#ffb 0 84deg,#ffc 0 23.75%,#ffb 0 87deg,#349 0 24.58%,#ffb 0 25.42%,#ffc 0 93deg,#fc8 0 26.25%,#fe9 0 96deg,#fb6 0 27.08%,#f95 0 99deg,#ffc 0 27.92%,#bde 0 102deg,#a12 0 28.75%,#f95 0 105deg,#ffb 0 29.58%,#69c 0 30%,#349 0 30.42%,#fe9 0 31.25%,#ffb 0 114deg,#eee 0 32.08%,#9cd 0 32.5%,#349 0 32.92%,#eee 0 120deg,#58b 0 33.75%,#ffc 0 34.58%,#349 0 35%,#ffb 0 35.42%,#9cd 0 129deg,#ffb 0 132deg,#9cd 0 37.08%,#ffb 0 38.75%,#d43 0 141deg,#cee 0 39.58%,#ffb 0 40%,#fc8 0 40.42%,#ffb 0 41.25%,#349 0 150deg,#9cd 0 42.08%,#349 0 156deg,#c22 0 43.75%,#eee 0 159deg,#ffb 0 45%,#ffc 0 45.42%,#cee 0 165deg,#ffb 0 46.25%,#fe9 0 168deg,#a12 0 47.08%,#eee 0 47.5%,#349 0 47.92%,#a12 0 174deg,#ffc 0 48.75%,#fc8 0 177deg,#fb6 0 49.58%,#ffb 0 50%,#9cd 0 50.42%,#a12 0 183deg,#ffc 0 51.25%,#a12 0 186deg,#ffb 0 52.08%,#69c 0 52.5%,#fc8 0 52.92%,#a12 0 192deg,#ffb 0 53.75%,#349 0 195deg,#a12 0 54.58%,#fc8 0 55%,#349 0 55.42%,#a12 0 201deg,#46a 0 56.25%,#349 0 204deg,#ffb 0 57.08%,#a12 0 57.92%,#fe9 0 58.75%,#eee 0 213deg,#a12 0 59.58%,#ffb 0 60%,#ffc 0 60.42%,#bde 0 219deg,#ffb 0 61.25%,#46a 0 222deg,#349 0 62.08%,#ffc 0 62.5%,#fe9 0 62.92%,#ffb 0 228deg,#a12 0 63.75%,#fc8 0 231deg,#349 0 64.58%,#ffb 0 65.42%,#cee 0 237deg,#a12 0 66.25%,#349 0 240deg,#ffb 0 67.08%,#a12 0 67.5%,#ffc 0 67.92%,#ffb 0 246deg,#9cd 0 68.75%,#ffc 0 249deg,#a12 0 69.58%,#cee 0 70%,#eee 0 70.42%,#e74 0 255deg,#fc8 0 71.25%,#ffb 0 258deg,#a12 0 72.08%,#349 0 72.5%,#f95 0 72.92%,#58b 0 264deg,#fb6 0 73.75%,#f95 0 267deg,#eee 0 74.58%,#ffb 0 75%,#cee 0 273deg,#ffc 0 76.25%,#ffb 0 276deg,#eee 0 77.08%,#a12 0 77.5%,#fe9 0 282deg,#ffb 0 79.58%,#fc8 0 80%,#ffc 0 80.42%,#fe9 0 291deg,#e74 0 81.25%,#a12 0 294deg,#ffb 0 82.08%,#a12 0 82.5%,#349 0 82.92%,#ffc 0 300deg,#ffb 0 83.75%,#349 0 303deg,#e53 0 84.58%,#ffb 0 85%,#349 0 85.42%,#a12 0 309deg,#e74 0 86.25%,#ffc 0 312deg,#fb6 0 87.08%,#bde 0 87.5%,#ffc 0 87.92%,#fb6 0 318deg,#58b 0 88.75%,#ffb 0 89.58%,#fb6 0 90%,#a12 0 90.42%,#fb6 0 327deg,#58b 0 91.25%,#ffb 0 92.08%,#c22 0 92.5%,#a12 0 92.92%,#46a 0 336deg,#349 0 93.75%,#eee 0 339deg,#ffb 0 94.58%,#349 0 95%,#ffc 0 95.42%,#ffb 0 348deg,#cee 0 97.08%,#d43 0 97.5%,#ffb 0 97.92%,#ffc 0 354deg,#fe9 0 98.75%,#349 0 99.58%,#ffb 0)"></i>
<i style="inset:-24px;background:conic-gradient(#69c 0 0.42%,#ffc 0 1.25%,#fe9 0 6deg,#ffb 0 2.08%,#fc8 0 9deg,#cee 0 2.92%,#fe9 0 15deg,#ffb 0 4.58%,#fc8 0 5%,#c22 0 5.42%,#ffb 0 21deg,#349 0 6.25%,#eee 0 24deg,#bde 0 7.08%,#fc8 0 7.5%,#ffb 0 30deg,#c22 0 8.75%,#ffb 0 10%,#ffc 0 10.42%,#bde 0 39deg,#ffb 0 11.25%,#ffc 0 42deg,#fe9 0 12.08%,#fc8 0 45deg,#ffb 0 12.92%,#fb6 0 48deg,#ffb 0 13.75%,#fe9 0 51deg,#a12 0 14.58%,#d43 0 15%,#ffc 0 57deg,#ffb 0 60deg,#ffc 0 17.08%,#ffb 0 63deg,#349 0 17.92%,#a12 0 66deg,#f95 0 18.75%,#c22 0 69deg,#ffb 0 19.58%,#349 0 20%,#fe9 0 20.42%,#a12 0 75deg,#eee 0 21.25%,#a12 0 78deg,#349 0 22.08%,#ffc 0 81deg,#ffb 0 22.92%,#d43 0 84deg,#46a 0 23.75%,#ffb 0 87deg,#cee 0 24.58%,#fb6 0 25%,#eee 0 25.42%,#ffb 0 93deg,#fb6 0 26.25%,#fe9 0 96deg,#e53 0 27.08%,#ffc 0 27.92%,#ffb 0 102deg,#a12 0 28.75%,#e53 0 105deg,#fb6 0 29.58%,#ffb 0 30%,#cee 0 30.42%,#a12 0 111deg,#ffb 0 31.25%,#ffc 0 114deg,#ffb 0 32.08%,#cee 0 32.5%,#46a 0 32.92%,#9cd 0 120deg,#eee 0 33.75%,#46a 0 123deg,#ffc 0 34.58%,#eee 0 35%,#ffc 0 35.42%,#fc8 0 129deg,#cee 0 36.25%,#fe9 0 132deg,#46a 0 37.08%,#fe9 0 37.5%,#ffb 0 37.92%,#d43 0 138deg,#a12 0 38.75%,#fb6 0 141deg,#349 0 39.58%,#fb6 0 40%,#a12 0 40.42%,#ffb 0 147deg,#cee 0 41.25%,#349 0 150deg,#ffc 0 42.08%,#ffb 0 42.5%,#9cd 0 42.92%,#349 0 156deg,#ffb 0 43.75%,#ffc 0 159deg,#ffb 0 44.58%,#ffc 0 45%,#ffb 0 165deg,#bde 0 46.25%,#ffb 0 168deg,#a12 0 47.08%,#ffb 0 47.5%,#349 0 47.92%,#e74 0 174deg,#ffc 0 48.75%,#a12 0 177deg,#e53 0 49.58%,#ffb 0 50%,#ffc 0 50.42%,#a12 0 183deg,#8bd 0 51.25%,#fb6 0 186deg,#349 0 52.08%,#46a 0 52.5%,#e53 0 52.92%,#a12 0 192deg,#fc8 0 53.75%,#69c 0 195deg,#fc8 0 54.58%,#fe9 0 55%,#349 0 55.42%,#d43 0 201deg,#cee 0 56.25%,#ffb 0 204deg,#fe9 0 57.08%,#a12 0 57.5%,#f95 0 57.92%,#ffb 0 210deg,#f95 0 58.75%,#69c 0 213deg,#e74 0 59.58%,#bde 0 60%,#ffc 0 60.42%,#349 0 219deg,#ffb 0 61.25%,#ffc 0 222deg,#8bd 0 62.08%,#eee 0 62.5%,#69c 0 62.92%,#cee 0 228deg,#e53 0 63.75%,#eee 0 231deg,#349 0 64.58%,#ffb 0 65%,#fc8 0 65.42%,#ffc 0 237deg,#a12 0 66.25%,#ffb 0 67.08%,#a12 0 67.5%,#eee 0 67.92%,#e53 0 246deg,#8bd 0 68.75%,#bde 0 249deg,#a12 0 69.58%,#69c 0 70%,#58b 0 70.42%,#ffb 0 71.25%,#fe9 0 258deg,#a12 0 72.08%,#fb6 0 72.5%,#ffb 0 72.92%,#58b 0 264deg,#ffb 0 73.75%,#fb6 0 267deg,#69c 0 74.58%,#e53 0 75%,#9cd 0 75.42%,#bde 0 273deg,#cee 0 76.25%,#ffb 0 77.08%,#fc8 0 77.5%,#eee 0 77.92%,#e74 0 282deg,#ffc 0 78.75%,#fe9 0 285deg,#ffc 0 79.58%,#a12 0 80%,#cee 0 80.42%,#ffb 0 291deg,#e74 0 294deg,#ffb 0 82.08%,#c22 0 82.5%,#349 0 82.92%,#ffb 0 83.75%,#349 0 303deg,#fc8 0 84.58%,#9cd 0 85.42%,#e74 0 309deg,#ffb 0 86.25%,#fb6 0 312deg,#ffb 0 87.08%,#ffc 0 87.92%,#cee 0 318deg,#69c 0 88.75%,#fc8 0 321deg,#ffc 0 89.58%,#fb6 0 90%,#a12 0 90.42%,#8bd 0 327deg,#cee 0 330deg,#fc8 0 92.08%,#fb6 0 92.5%,#e53 0 92.92%,#8bd 0 336deg,#cee 0 93.75%,#ffb 0 339deg,#e74 0 94.58%,#349 0 95%,#fc8 0 95.42%,#fe9 0 345deg,#eee 0 96.25%,#ffc 0 348deg,#ffb 0 97.08%,#fe9 0 97.5%,#69c 0 97.92%,#ffc 0 354deg,#f95 0 98.75%,#349 0 357deg,#9cd 0 99.58%,#eee 0)"></i>
<i style="inset:-22px;background:conic-gradient(#cee 0 0.42%,#bde 0 3deg,#349 0 1.25%,#fb6 0 6deg,#ffc 0 2.08%,#fe9 0 9deg,#9cd 0 2.92%,#fb6 0 12deg,#e53 0 3.75%,#fe9 0 15deg,#ffb 0 4.58%,#fe9 0 5%,#a12 0 5.42%,#fe9 0 21deg,#eee 0 6.25%,#ffc 0 24deg,#bde 0 7.08%,#fe9 0 7.5%,#ffb 0 7.92%,#a12 0 30deg,#ffb 0 8.75%,#e74 0 9.58%,#fc8 0 10%,#d43 0 10.42%,#8bd 0 39deg,#fe9 0 11.25%,#ffc 0 42deg,#ffb 0 12.08%,#eee 0 45deg,#ffb 0 48deg,#ffc 0 13.75%,#bde 0 51deg,#ffb 0 14.58%,#e74 0 15%,#fe9 0 15.42%,#ffc 0 57deg,#eee 0 16.25%,#fe9 0 60deg,#8bd 0 17.08%,#fe9 0 63deg,#349 0 17.92%,#ffb 0 66deg,#a12 0 18.75%,#c22 0 69deg,#ffc 0 19.58%,#cee 0 20%,#fe9 0 20.42%,#fc8 0 21.25%,#fe9 0 78deg,#ffc 0 22.08%,#eee 0 81deg,#cee 0 22.92%,#a12 0 84deg,#349 0 23.75%,#ffc 0 87deg,#bde 0 24.58%,#ffb 0 25%,#bde 0 25.42%,#fe9 0 93deg,#ffb 0 26.25%,#eee 0 96deg,#fb6 0 27.08%,#ffb 0 99deg,#eee 0 27.92%,#ffb 0 28.75%,#f95 0 105deg,#ffc 0 29.58%,#ffb 0 30.42%,#a12 0 111deg,#ffc 0 31.25%,#349 0 114deg,#fc8 0 32.08%,#eee 0 32.5%,#fb6 0 32.92%,#ffc 0 33.75%,#9cd 0 123deg,#349 0 34.58%,#a12 0 35%,#ffc 0 35.42%,#f95 0 129deg,#eee 0 132deg,#8bd 0 37.08%,#fe9 0 37.5%,#9cd 0 37.92%,#fc8 0 138deg,#a12 0 38.75%,#ffb 0 141deg,#349 0 39.58%,#e53 0 40%,#ffb 0 40.42%,#ffc 0 147deg,#349 0 41.25%,#ffb 0 150deg,#eee 0 42.08%,#a12 0 42.5%,#ffc 0 42.92%,#349 0 156deg,#ffc 0 43.75%,#ffb 0 159deg,#bde 0 44.58%,#ffb 0 45%,#c22 0 45.42%,#f95 0 165deg,#349 0 46.25%,#fe9 0 168deg,#a12 0 47.08%,#ffc 0 47.5%,#349 0 47.92%,#eee 0 174deg,#ffb 0 48.75%,#a12 0 177deg,#e74 0 49.58%,#c22 0 50%,#f95 0 50.42%,#a12 0 183deg,#349 0 51.25%,#fe9 0 186deg,#58b 0 52.08%,#ffc 0 52.5%,#c22 0 52.92%,#a12 0 192deg,#fe9 0 53.75%,#ffc 0 195deg,#ffb 0 54.58%,#fc8 0 55%,#9cd 0 55.42%,#d43 0 201deg,#eee 0 56.25%,#fb6 0 204deg,#fe9 0 57.5%,#ffc 0 57.92%,#ffb 0 210deg,#a12 0 58.75%,#69c 0 213deg,#ffc 0 59.58%,#eee 0 60%,#ffb 0 60.42%,#cee 0 219deg,#ffb 0 61.25%,#fe9 0 222deg,#ffb 0 62.5%,#58b 0 62.92%,#ffb 0 228deg,#a12 0 63.75%,#ffb 0 231deg,#9cd 0 64.58%,#ffb 0 237deg,#fe9 0 66.25%,#ffc 0 240deg,#eee 0 67.08%,#d43 0 67.5%,#ffb 0 246deg,#ffc 0 68.75%,#eee 0 249deg,#e74 0 69.58%,#bde 0 70%,#8bd 0 70.42%,#ffc 0 258deg,#a12 0 72.08%,#f95 0 72.5%,#69c 0 72.92%,#bde 0 264deg,#ffb 0 74.58%,#c22 0 75%,#fe9 0 75.42%,#eee 0 273deg,#8bd 0 76.25%,#cee 0 276deg,#ffb 0 77.08%,#eee 0 77.5%,#69c 0 77.92%,#fe9 0 282deg,#ffb 0 78.75%,#e53 0 80%,#ffb 0 80.42%,#ffc 0 291deg,#ffb 0 82.08%,#fe9 0 82.5%,#349 0 82.92%,#ffb 0 300deg,#fc8 0 83.75%,#9cd 0 303deg,#ffb 0 84.58%,#9cd 0 85%,#ffc 0 85.42%,#eee 0 309deg,#bde 0 86.25%,#fc8 0 312deg,#ffb 0 87.5%,#fc8 0 87.92%,#9cd 0 318deg,#ffc 0 88.75%,#ffb 0 321deg,#eee 0 89.58%,#ffb 0 90%,#f95 0 90.42%,#349 0 327deg,#ffb 0 91.25%,#eee 0 330deg,#ffb 0 92.92%,#8bd 0 336deg,#ffb 0 339deg,#fe9 0 94.58%,#ffb 0 95%,#a12 0 95.42%,#bde 0 345deg,#ffc 0 96.25%,#bde 0 348deg,#ffb 0 97.08%,#cee 0 97.5%,#bde 0 97.92%,#ffb 0 98.75%,#349 0 357deg,#ffc 0)"></i>
<i style="inset:-20px;background:conic-gradient(#8bd 0 0.42%,#349 0 1.25%,#fe9 0 6deg,#eee 0 2.08%,#ffb 0 9deg,#eee 0 2.92%,#ffc 0 12deg,#fb6 0 3.75%,#fe9 0 15deg,#fb6 0 4.58%,#ffb 0 5%,#a12 0 5.42%,#fe9 0 21deg,#fb6 0 6.25%,#ffb 0 24deg,#9cd 0 7.08%,#ffb 0 7.5%,#eee 0 7.92%,#a12 0 30deg,#349 0 8.75%,#a12 0 33deg,#fe9 0 9.58%,#c22 0 10%,#a12 0 10.42%,#ffb 0 39deg,#fc8 0 11.25%,#fe9 0 42deg,#e74 0 12.08%,#cee 0 45deg,#eee 0 12.92%,#8bd 0 48deg,#349 0 13.75%,#bde 0 51deg,#eee 0 14.58%,#a12 0 15%,#ffb 0 15.42%,#ffc 0 57deg,#349 0 16.25%,#fc8 0 60deg,#8bd 0 17.08%,#fe9 0 63deg,#cee 0 17.92%,#ffb 0 18.75%,#fe9 0 69deg,#58b 0 19.58%,#69c 0 20%,#a12 0 20.42%,#ffb 0 22.08%,#bde 0 81deg,#ffb 0 22.92%,#a12 0 84deg,#349 0 23.75%,#ffb 0 87deg,#ffc 0 24.58%,#bde 0 25%,#9cd 0 25.42%,#c22 0 93deg,#349 0 26.25%,#ffc 0 27.08%,#fc8 0 99deg,#eee 0 27.92%,#fe9 0 102deg,#ffc 0 28.75%,#e74 0 105deg,#69c 0 29.58%,#ffb 0 30%,#cee 0 30.42%,#ffc 0 111deg,#bde 0 31.25%,#349 0 114deg,#ffc 0 32.08%,#fe9 0 32.5%,#a12 0 32.92%,#eee 0 120deg,#8bd 0 33.75%,#ffb 0 123deg,#349 0 34.58%,#a12 0 35%,#ffb 0 35.42%,#eee 0 129deg,#ffb 0 36.25%,#9cd 0 132deg,#ffb 0 37.08%,#fc8 0 37.5%,#ffb 0 37.92%,#f95 0 138deg,#ffc 0 38.75%,#ffb 0 141deg,#ffc 0 39.58%,#e53 0 40%,#8bd 0 40.42%,#ffb 0 147deg,#bde 0 41.25%,#fe9 0 150deg,#ffc 0 42.08%,#a12 0 42.5%,#eee 0 42.92%,#349 0 156deg,#fc8 0 43.75%,#eee 0 159deg,#ffb 0 44.58%,#fc8 0 45%,#c22 0 45.42%,#ffb 0 165deg,#46a 0 46.25%,#ffb 0 168deg,#fc8 0 47.08%,#349 0 47.5%,#ffb 0 47.92%,#69c 0 174deg,#ffb 0 48.75%,#a12 0 50.42%,#9cd 0 183deg,#349 0 51.25%,#d43 0 186deg,#ffb 0 52.5%,#c22 0 52.92%,#a12 0 53.75%,#d43 0 195deg,#eee 0 54.58%,#a12 0 55%,#eee 0 55.42%,#e74 0 201deg,#349 0 56.25%,#ffb 0 204deg,#fe9 0 57.5%,#69c 0 57.92%,#cee 0 210deg,#fc8 0 58.75%,#cee 0 213deg,#ffc 0 59.58%,#bde 0 60%,#f95 0 60.42%,#cee 0 219deg,#ffb 0 61.25%,#fe9 0 222deg,#ffb 0 62.92%,#fe9 0 228deg,#fc8 0 231deg,#cee 0 64.58%,#ffb 0 65%,#8bd 0 65.42%,#ffb 0 237deg,#bde 0 66.25%,#349 0 240deg,#ffc 0 67.08%,#e74 0 67.5%,#ffb 0 67.92%,#349 0 246deg,#ffb 0 68.75%,#fe9 0 69.58%,#cee 0 70%,#ffb 0 70.42%,#fb6 0 255deg,#8bd 0 71.25%,#ffb 0 258deg,#a12 0 72.08%,#ffb 0 72.5%,#349 0 72.92%,#ffb 0 264deg,#eee 0 73.75%,#58b 0 267deg,#ffb 0 75%,#f95 0 75.42%,#ffb 0 273deg,#69c 0 76.25%,#349 0 276deg,#ffb 0 77.5%,#ffc 0 77.92%,#ffb 0 282deg,#e74 0 78.75%,#a12 0 285deg,#e53 0 79.58%,#ffb 0 80%,#a12 0 80.42%,#cee 0 291deg,#ffb 0 294deg,#c22 0 82.08%,#fe9 0 82.5%,#fb6 0 82.92%,#ffc 0 300deg,#ffb 0 83.75%,#cee 0 303deg,#bde 0 84.58%,#46a 0 85%,#fe9 0 85.42%,#8bd 0 309deg,#349 0 86.25%,#ffb 0 87.5%,#a12 0 87.92%,#ffc 0 318deg,#ffb 0 321deg,#349 0 89.58%,#ffc 0 90%,#ffb 0 90.42%,#bde 0 327deg,#ffb 0 91.25%,#349 0 330deg,#cee 0 92.08%,#69c 0 92.5%,#46a 0 92.92%,#eee 0 336deg,#ffb 0 93.75%,#58b 0 339deg,#bde 0 94.58%,#fb6 0 95%,#a12 0 95.42%,#349 0 345deg,#ffc 0 96.25%,#bde 0 348deg,#8bd 0 97.08%,#ffb 0 354deg,#9cd 0 98.75%,#ffb 0)"></i>
<i style="inset:-18px;background:conic-gradient(#58b 0 0.42%,#eee 0 3deg,#ffc 0 1.25%,#ffb 0 12deg,#a12 0 3.75%,#ffb 0 15deg,#fb6 0 4.58%,#fe9 0 5%,#a12 0 5.42%,#ffb 0 21deg,#e74 0 6.25%,#ffb 0 24deg,#ffc 0 7.08%,#ffb 0 7.5%,#ffc 0 7.92%,#a12 0 30deg,#349 0 8.75%,#a12 0 33deg,#e74 0 9.58%,#d43 0 10%,#fc8 0 10.42%,#fe9 0 39deg,#d43 0 11.25%,#a12 0 12.08%,#ffb 0 45deg,#bde 0 12.92%,#349 0 48deg,#ffb 0 13.75%,#349 0 51deg,#69c 0 14.58%,#fe9 0 15%,#ffb 0 15.42%,#ffc 0 57deg,#69c 0 16.25%,#ffb 0 60deg,#349 0 17.08%,#ffb 0 17.92%,#e53 0 66deg,#bde 0 18.75%,#ffb 0 19.58%,#46a 0 20%,#d43 0 20.42%,#fc8 0 75deg,#ffb 0 78deg,#ffc 0 81deg,#fe9 0 22.92%,#fc8 0 84deg,#8bd 0 23.75%,#58b 0 87deg,#a12 0 24.58%,#349 0 25%,#ffb 0 25.42%,#fc8 0 93deg,#349 0 26.25%,#c22 0 96deg,#fc8 0 27.08%,#d43 0 99deg,#ffb 0 27.92%,#ffc 0 102deg,#e53 0 28.75%,#fc8 0 105deg,#349 0 29.58%,#ffc 0 30%,#eee 0 30.42%,#ffb 0 111deg,#ffc 0 31.25%,#eee 0 114deg,#ffb 0 32.08%,#fe9 0 32.5%,#e53 0 32.92%,#ffb 0 120deg,#349 0 33.75%,#d43 0 123deg,#fc8 0 34.58%,#fb6 0 35%,#bde 0 129deg,#ffb 0 36.25%,#fe9 0 132deg,#349 0 37.08%,#fb6 0 37.5%,#ffb 0 37.92%,#a12 0 138deg,#ffc 0 38.75%,#ffb 0 40%,#ffc 0 40.42%,#ffb 0 147deg,#a12 0 41.25%,#ffc 0 150deg,#ffb 0 42.08%,#f95 0 42.5%,#bde 0 42.92%,#ffb 0 156deg,#fc8 0 43.75%,#cee 0 159deg,#d43 0 44.58%,#a12 0 45%,#ffc 0 45.42%,#bde 0 165deg,#ffb 0 46.25%,#ffc 0 168deg,#349 0 47.5%,#ffb 0 47.92%,#eee 0 174deg,#ffc 0 48.75%,#fe9 0 177deg,#f95 0 49.58%,#a12 0 50.42%,#9cd 0 183deg,#bde 0 51.25%,#a12 0 186deg,#ffb 0 52.5%,#e74 0 52.92%,#fc8 0 192deg,#c22 0 53.75%,#a12 0 195deg,#ffb 0 54.58%,#d43 0 55%,#fe9 0 55.42%,#ffb 0 201deg,#eee 0 56.25%,#c22 0 204deg,#a12 0 57.08%,#fe9 0 57.5%,#eee 0 57.92%,#69c 0 210deg,#8bd 0 58.75%,#ffb 0 213deg,#fe9 0 59.58%,#ffb 0 60%,#fe9 0 60.42%,#bde 0 61.25%,#a12 0 222deg,#eee 0 62.08%,#69c 0 62.5%,#e74 0 62.92%,#fc8 0 228deg,#ffc 0 63.75%,#fb6 0 231deg,#f95 0 64.58%,#e53 0 65%,#349 0 65.42%,#ffc 0 237deg,#46a 0 66.25%,#ffc 0 240deg,#cee 0 67.08%,#d43 0 67.5%,#ffb 0 67.92%,#349 0 246deg,#ffb 0 68.75%,#fc8 0 249deg,#ffc 0 69.58%,#ffb 0 70.42%,#e74 0 255deg,#cee 0 71.25%,#e74 0 258deg,#ffb 0 264deg,#46a 0 73.75%,#349 0 267deg,#cee 0 74.58%,#bde 0 75%,#fe9 0 273deg,#ffc 0 76.25%,#9cd 0 276deg,#ffc 0 77.08%,#fc8 0 77.5%,#ffb 0 282deg,#ffc 0 78.75%,#d43 0 285deg,#fe9 0 79.58%,#ffc 0 80%,#f95 0 80.42%,#cee 0 291deg,#ffc 0 81.25%,#e74 0 294deg,#a12 0 82.08%,#ffb 0 82.5%,#c22 0 82.92%,#349 0 300deg,#cee 0 83.75%,#ffc 0 303deg,#eee 0 84.58%,#69c 0 85%,#ffb 0 85.42%,#ffc 0 309deg,#349 0 86.25%,#bde 0 312deg,#9cd 0 87.08%,#ffc 0 87.5%,#e53 0 87.92%,#ffb 0 318deg,#fe9 0 88.75%,#cee 0 321deg,#349 0 89.58%,#cee 0 90%,#fe9 0 90.42%,#ffb 0 327deg,#eee 0 91.25%,#349 0 330deg,#bde 0 92.08%,#349 0 92.5%,#bde 0 92.92%,#cee 0 336deg,#fe9 0 93.75%,#cee 0 339deg,#69c 0 94.58%,#ffb 0 95%,#d43 0 95.42%,#349 0 345deg,#ffb 0 96.25%,#349 0 348deg,#46a 0 97.08%,#fb6 0 97.5%,#d43 0 97.92%,#ffb 0 354deg,#8bd 0 98.75%,#e74 0 357deg,#eee 0 99.58%,#ffb 0)"></i>
<i style="inset:-16px;background:conic-gradient(#bde 0 0.42%,#ffb 0 3deg,#e74 0 1.25%,#ffb 0 9deg,#fe9 0 2.92%,#e74 0 12deg,#fc8 0 3.75%,#ffc 0 15deg,#ffb 0 4.58%,#fe9 0 5.42%,#eee 0 21deg,#fc8 0 6.25%,#ffb 0 7.08%,#fe9 0 7.5%,#cee 0 7.92%,#fc8 0 30deg,#ffc 0 8.75%,#ffb 0 33deg,#fc8 0 9.58%,#fe9 0 10%,#69c 0 10.42%,#fe9 0 39deg,#fb6 0 12.08%,#ffb 0 45deg,#eee 0 12.92%,#cee 0 48deg,#ffb 0 13.75%,#46a 0 51deg,#9cd 0 14.58%,#69c 0 15%,#ffb 0 15.42%,#bde 0 57deg,#ffb 0 60deg,#349 0 17.08%,#fb6 0 63deg,#ffb 0 17.92%,#fb6 0 66deg,#69c 0 18.75%,#ffb 0 69deg,#e53 0 19.58%,#eee 0 20%,#ffb 0 20.42%,#fe9 0 75deg,#ffb 0 21.25%,#bde 0 78deg,#cee 0 22.08%,#ffc 0 81deg,#cee 0 22.92%,#fe9 0 84deg,#ffb 0 23.75%,#69c 0 87deg,#ffb 0 24.58%,#eee 0 25%,#fe9 0 25.42%,#eee 0 26.25%,#fb6 0 96deg,#fc8 0 27.08%,#ffb 0 99deg,#fc8 0 27.92%,#ffb 0 105deg,#349 0 29.58%,#bde 0 30%,#fc8 0 111deg,#a12 0 31.25%,#ffb 0 114deg,#fc8 0 32.08%,#ffb 0 32.5%,#fb6 0 120deg,#69c 0 33.75%,#fe9 0 123deg,#fc8 0 34.58%,#f95 0 35%,#58b 0 35.42%,#f95 0 129deg,#ffb 0 132deg,#349 0 37.08%,#ffc 0 37.5%,#9cd 0 37.92%,#a12 0 138deg,#ffc 0 38.75%,#ffb 0 141deg,#fb6 0 39.58%,#eee 0 147deg,#a12 0 41.25%,#bde 0 150deg,#eee 0 42.08%,#ffb 0 42.92%,#fe9 0 156deg,#ffb 0 43.75%,#fe9 0 159deg,#f95 0 44.58%,#d43 0 45%,#69c 0 165deg,#fe9 0 46.25%,#ffc 0 168deg,#9cd 0 47.08%,#bde 0 47.5%,#fe9 0 47.92%,#fc8 0 174deg,#ffc 0 48.75%,#ffb 0 177deg,#fe9 0 49.58%,#c22 0 50%,#fe9 0 50.42%,#ffb 0 51.25%,#ffc 0 186deg,#fe9 0 52.08%,#ffb 0 52.5%,#f95 0 52.92%,#bde 0 192deg,#ffc 0 53.75%,#e74 0 195deg,#fe9 0 54.58%,#eee 0 55%,#ffb 0 201deg,#f95 0 56.25%,#fe9 0 204deg,#e74 0 57.08%,#fe9 0 57.92%,#8bd 0 210deg,#349 0 58.75%,#ffb 0 59.58%,#c22 0 60%,#fe9 0 60.42%,#ffc 0 219deg,#58b 0 61.25%,#f95 0 222deg,#ffc 0 62.08%,#bde 0 62.5%,#f95 0 62.92%,#fb6 0 228deg,#ffb 0 231deg,#fb6 0 64.58%,#e74 0 65%,#bde 0 65.42%,#ffc 0 237deg,#cee 0 66.25%,#ffb 0 67.5%,#ffc 0 246deg,#ffb 0 68.75%,#eee 0 69.58%,#fb6 0 70%,#ffb 0 71.25%,#f95 0 258deg,#eee 0 72.08%,#fb6 0 72.5%,#ffb 0 72.92%,#ffc 0 264deg,#9cd 0 73.75%,#ffb 0 267deg,#eee 0 75%,#ffc 0 75.42%,#fe9 0 76.25%,#ffc 0 276deg,#fe9 0 77.08%,#fc8 0 77.5%,#eee 0 77.92%,#ffb 0 282deg,#ffc 0 78.75%,#ffb 0 285deg,#fe9 0 79.58%,#fb6 0 80%,#ffb 0 80.42%,#eee 0 291deg,#8bd 0 81.25%,#ffc 0 294deg,#f95 0 82.08%,#ffb 0 82.5%,#fc8 0 82.92%,#46a 0 300deg,#fe9 0 83.75%,#eee 0 85%,#8bd 0 85.42%,#ffb 0 86.25%,#bde 0 312deg,#46a 0 87.08%,#ffc 0 87.92%,#ffb 0 88.75%,#9cd 0 321deg,#bde 0 89.58%,#fe9 0 90.42%,#ffb 0 327deg,#bde 0 91.25%,#eee 0 330deg,#9cd 0 92.08%,#349 0 92.5%,#fc8 0 92.92%,#eee 0 336deg,#ffb 0 93.75%,#fe9 0 339deg,#bde 0 94.58%,#ffc 0 95%,#fe9 0 95.42%,#ffc 0 345deg,#fb6 0 96.25%,#69c 0 348deg,#ffb 0 354deg,#eee 0 98.75%,#fb6 0 357deg,#ffc 0 99.58%,#ffb 0)"></i>
<i style="inset:-14px;background:conic-gradient(#ffc 0 9deg,#ffb 0 3.75%,#ffc 0 5%,#fe9 0 6.25%,#ffb 0 11.25%,#ffc 0 45deg,#ffb 0 13.75%,#ffc 0 15%,#fe9 0 18.75%,#ffc 0 81deg,#fe9 0 23.75%,#ffb 0 26.25%,#ffc 0 99deg,#fe9 0 28.75%,#fc8 0 30%,#cee 0 31.25%,#ffc 0 32.5%,#ffb 0 33.75%,#ffc 0 35%,#fe9 0 38.75%,#eee 0 40%,#ffc 0 41.25%,#ffb 0 43.75%,#fe9 0 45%,#ffb 0 46.25%,#ffc 0 47.5%,#eee 0 48.75%,#ffc 0 50%,#fe9 0 52.5%,#ffb 0 53.75%,#ffc 0 55%,#ffb 0 56.25%,#fe9 0 57.5%,#fc8 0 58.75%,#ffc 0 60%,#ffb 0 62.5%,#ffc 0 65%,#ffb 0 66.25%,#fe9 0 67.5%,#ffb 0 68.75%,#eee 0 70%,#ffc 0 71.25%,#fe9 0 72.5%,#ffb 0 73.75%,#fe9 0 75%,#eee 0 76.25%,#fe9 0 77.5%,#ffb 0 80%,#ffc 0 81.25%,#fe9 0 83.75%,#ffb 0 85%,#eee 0 86.25%,#ffb 0 92.5%,#eee 0 93.75%,#ffc 0 95%,#ffb 0 96.25%,#fe9 0 97.5%,#ffb 0 98.75%,#ffc 0)"></i>
<i style="inset:-10.5px;background:conic-gradient(#ffc 0 3.75%,#eee 0 5%,#ffb 0 10%,#ffc 0 45deg,#ffb 0 18.75%,#ffc 0 20%,#ffb 0 21.25%,#ffc 0 81deg,#fe9 0 23.75%,#ffb 0 30%,#eee 0 31.25%,#ffc 0 32.5%,#fe9 0 33.75%,#ffc 0 35%,#ffb 0 36.25%,#fc8 0 37.5%,#fe9 0 38.75%,#cee 0 40%,#eee 0 41.25%,#ffb 0 46.25%,#ffc 0 47.5%,#eee 0 48.75%,#cee 0 50%,#fc8 0 51.25%,#fe9 0 52.5%,#ffb 0 55%,#ffc 0 56.25%,#fe9 0 57.5%,#ffb 0 58.75%,#ffc 0 60%,#ffb 0 62.5%,#eee 0 63.75%,#ffc 0 65%,#ffb 0 66.25%,#fe9 0 67.5%,#ffb 0 68.75%,#ffc 0 71.25%,#fe9 0 72.5%,#ffb 0 75%,#cee 0 76.25%,#fe9 0 78.75%,#fc8 0 80%,#ffc 0 81.25%,#ffb 0 83.75%,#ffc 0 86.25%,#fe9 0 88.75%,#ffc 0 90%,#ffb 0 92.5%,#ffc 0 96.25%,#ffb 0 97.5%,#ffc 0)"></i>
<i style="inset:-7px;background:conic-gradient(#ffb 0 1.25%,#ffc 0 3.75%,#eee 0 5%,#ffb 0 11.25%,#ffc 0 45deg,#ffb 0 15%,#ffc 0 63deg,#ffb 0 21.25%,#eee 0 81deg,#ffc 0 23.75%,#ffb 0 28.75%,#cee 0 30%,#ffc 0 31.25%,#ffb 0 32.5%,#fe9 0 33.75%,#ffb 0 36.25%,#fe9 0 38.75%,#eee 0 41.25%,#ffc 0 42.5%,#fe9 0 43.75%,#ffc 0 45%,#ffb 0 46.25%,#eee 0 48.75%,#cee 0 50%,#fe9 0 52.5%,#ffb 0 55%,#ffc 0 57.5%,#ffb 0 58.75%,#eee 0 60%,#ffc 0 61.25%,#ffb 0 62.5%,#eee 0 63.75%,#ffc 0 66.25%,#ffb 0 68.75%,#ffc 0 72.5%,#ffb 0 73.75%,#ffc 0 75%,#eee 0 76.25%,#ffb 0 78.75%,#fe9 0 80%,#ffb 0 82.5%,#ffc 0 83.75%,#ffb 0 86.25%,#fe9 0 88.75%,#ffb 0 92.5%,#ffc 0)"></i>
<i style="inset:-3.5px;background:conic-gradient(#ffb 0 1.25%,#ffc 0 5%,#ffb 0 6.25%,#ffc 0 8.75%,#ffb 0 11.25%,#ffc 0 13.75%,#ffb 0 15%,#ffc 0 16.25%,#ffb 0 63deg,#fe9 0 20%,#ffc 0 21.25%,#eee 0 81deg,#ffc 0 23.75%,#fe9 0 25%,#ffc 0 26.25%,#ffb 0 99deg,#fe9 0 28.75%,#eee 0 30%,#ffc 0 32.5%,#fe9 0 33.75%,#ffb 0 35%,#fe9 0 36.25%,#ffc 0 37.5%,#fe9 0 38.75%,#ffc 0 40%,#ffb 0 41.25%,#ffc 0 42.5%,#fe9 0 43.75%,#eee 0 45%,#ffc 0 46.25%,#eee 0 47.5%,#ffc 0 48.75%,#eee 0 50%,#fe9 0 51.25%,#ffb 0 53.75%,#fe9 0 55%,#ffc 0 56.25%,#ffb 0 57.5%,#ffc 0 62.5%,#eee 0 63.75%,#ffc 0 67.5%,#ffb 0 68.75%,#ffc 0 72.5%,#ffb 0 75%,#ffc 0 76.25%,#ffb 0 80%,#fe9 0 81.25%,#ffc 0 82.5%,#ffb 0 83.75%,#ffc 0 86.25%,#ffb 0 88.75%,#fc8 0 90%,#fe9 0 91.25%,#ffb 0 96.25%,#ffc 0)"></i>
</div>
<div class="pc" style="left:281.40px;top:108.00px;">
<i style="inset:-64.9px;background:conic-gradient(#ffc 0 3deg,#ffb 0 1.25%,#cee 0 6deg,#9cd 0 2.08%,#349 0 9deg,#9cd 0 2.92%,#ffb 0 12deg,#f95 0 3.75%,#fb6 0 4.58%,#eee 0 5%,#ffc 0 21deg,#fe9 0 6.25%,#f95 0 24deg,#e53 0 7.08%,#ffc 0 7.5%,#9cd 0 7.92%,#69c 0 30deg,#bde 0 8.75%,#ffc 0 33deg,#f95 0 9.58%,#cee 0 10%,#ffb 0 39deg,#ffc 0 11.25%,#fe9 0 42deg,#e74 0 12.08%,#a12 0 48deg,#c22 0 13.75%,#fe9 0 51deg,#fc8 0 14.58%,#fe9 0 15%,#ffb 0 15.42%,#fe9 0 16.25%,#eee 0 60deg,#ffb 0 17.08%,#f95 0 17.92%,#fc8 0 66deg,#ffc 0 69deg,#fe9 0 19.58%,#eee 0 20%,#cee 0 20.42%,#eee 0 75deg,#bde 0 21.25%,#eee 0 78deg,#ffc 0 22.08%,#fc8 0 22.92%,#fe9 0 84deg,#9cd 0 23.75%,#349 0 87deg,#58b 0 24.58%,#349 0 93deg,#8bd 0 26.25%,#cee 0 96deg,#69c 0 27.08%,#349 0 27.92%,#8bd 0 102deg,#ffb 0 28.75%,#f95 0 105deg,#fb6 0 29.58%,#e53 0 30%,#fc8 0 30.42%,#c22 0 111deg,#a12 0 31.25%,#fb6 0 114deg,#ffc 0 32.08%,#fc8 0 32.5%,#d43 0 32.92%,#fb6 0 120deg,#fc8 0 33.75%,#9cd 0 123deg,#46a 0 34.58%,#8bd 0 35%,#ffc 0 36.25%,#fb6 0 132deg,#a12 0 37.08%,#c22 0 37.5%,#f95 0 37.92%,#fb6 0 138deg,#f95 0 38.75%,#fe9 0 141deg,#fc8 0 39.58%,#ffc 0 40%,#9cd 0 147deg,#ffc 0 41.25%,#fb6 0 150deg,#cee 0 42.08%,#bde 0 42.5%,#ffb 0 42.92%,#cee 0 156deg,#349 0 43.75%,#58b 0 159deg,#9cd 0 45%,#ffb 0 45.42%,#eee 0 165deg,#ffc 0 46.25%,#ffb 0 168deg,#eee 0 47.5%,#cee 0 47.92%,#bde 0 174deg,#8bd 0 48.75%,#fe9 0 177deg,#eee 0 49.58%,#fe9 0 50%,#eee 0 50.42%,#ffb 0 183deg,#eee 0 51.25%,#ffb 0 186deg,#fe9 0 52.08%,#ffc 0 192deg,#fe9 0 53.75%,#ffb 0 195deg,#fe9 0 55%,#eee 0 55.42%,#cee 0 204deg,#e74 0 57.08%,#fe9 0 57.92%,#ffb 0 210deg,#eee 0 58.75%,#ffb 0 213deg,#fc8 0 59.58%,#cee 0 60%,#69c 0 60.42%,#46a 0 219deg,#58b 0 61.25%,#ffc 0 222deg,#cee 0 62.08%,#ffb 0 62.5%,#bde 0 62.92%,#58b 0 228deg,#9cd 0 63.75%,#bde 0 231deg,#e53 0 64.58%,#e74 0 237deg,#f95 0 66.25%,#fb6 0 240deg,#d43 0 67.08%,#e74 0 67.5%,#ffb 0 67.92%,#bde 0 68.75%,#eee 0 249deg,#d43 0 69.58%,#c22 0 70%,#d43 0 70.42%,#fb6 0 255deg,#fe9 0 71.25%,#e74 0 258deg,#d43 0 72.08%,#ffb 0 72.5%,#f95 0 72.92%,#fe9 0 264deg,#bde 0 73.75%,#eee 0 267deg,#9cd 0 74.58%,#349 0 75.42%,#46a 0 273deg,#bde 0 76.25%,#ffb 0 276deg,#ffc 0 77.08%,#cee 0 77.5%,#ffc 0 77.92%,#cee 0 282deg,#9cd 0 285deg,#cee 0 79.58%,#ffb 0 80%,#eee 0 80.42%,#ffb 0 291deg,#e74 0 81.25%,#e53 0 294deg,#fb6 0 82.5%,#fc8 0 82.92%,#ffc 0 83.75%,#bde 0 303deg,#ffb 0 84.58%,#eee 0 85%,#ffb 0 85.42%,#fe9 0 309deg,#ffb 0 86.25%,#fc8 0 312deg,#ffb 0 87.08%,#cee 0 87.5%,#bde 0 87.92%,#eee 0 318deg,#bde 0 88.75%,#ffb 0 321deg,#e53 0 89.58%,#c22 0 90%,#f95 0 90.42%,#fe9 0 327deg,#ffc 0 91.25%,#349 0 92.08%,#58b 0 92.5%,#bde 0 92.92%,#ffb 0 336deg,#fe9 0 93.75%,#ffb 0 339deg,#fe9 0 94.58%,#ffc 0 95%,#8bd 0 95.42%,#fe9 0 345deg,#fc8 0 96.25%,#ffc 0 97.5%,#bde 0 97.92%,#9cd 0 354deg,#eee 0 98.75%,#ffc 0 357deg,#f95 0 99.58%,#ffb 0)"></i>
<i style="inset:-63.3px;background:conic-gradient(#ffb 0 0.42%,#eee 0 3deg,#ffc 0 1.25%,#cee 0 6deg,#9cd 0 2.08%,#349 0 9deg,#8bd 0 2.92%,#ffc 0 12deg,#fc8 0 3.75%,#fe9 0 15deg,#fc8 0 4.58%,#ffc 0 5.42%,#eee 0 21deg,#ffb 0 6.25%,#fc8 0 24deg,#f95 0 7.08%,#cee 0 7.5%,#8bd 0 30deg,#bde 0 8.75%,#ffc 0 33deg,#f95 0 9.58%,#eee 0 10%,#ffb 0 11.25%,#fe9 0 42deg,#e74 0 12.08%,#a12 0 48deg,#c22 0 13.75%,#fc8 0 51deg,#fe9 0 15%,#ffb 0 15.42%,#fe9 0 57deg,#fc8 0 16.25%,#ffb 0 60deg,#fc8 0 17.08%,#f95 0 17.92%,#fc8 0 66deg,#ffb 0 69deg,#fc8 0 19.58%,#ffb 0 20%,#cee 0 20.42%,#eee 0 75deg,#bde 0 21.25%,#cee 0 78deg,#eee 0 22.08%,#fe9 0 22.92%,#ffb 0 84deg,#9cd 0 23.75%,#349 0 87deg,#58b 0 24.58%,#349 0 93deg,#69c 0 26.25%,#9cd 0 96deg,#46a 0 27.08%,#349 0 27.92%,#69c 0 102deg,#ffb 0 28.75%,#f95 0 105deg,#fc8 0 29.58%,#e53 0 30%,#f95 0 30.42%,#a12 0 31.25%,#e53 0 114deg,#fc8 0 32.08%,#f95 0 32.5%,#d43 0 32.92%,#fb6 0 120deg,#fc8 0 33.75%,#9cd 0 123deg,#46a 0 35%,#9cd 0 35.42%,#bde 0 129deg,#eee 0 36.25%,#fc8 0 132deg,#a12 0 37.08%,#c22 0 37.5%,#f95 0 37.92%,#fe9 0 138deg,#fc8 0 38.75%,#ffb 0 141deg,#fe9 0 39.58%,#eee 0 40%,#bde 0 147deg,#ffb 0 41.25%,#fb6 0 150deg,#ffc 0 42.08%,#cee 0 42.5%,#ffc 0 42.92%,#bde 0 156deg,#46a 0 43.75%,#58b 0 159deg,#8bd 0 45%,#ffc 0 45.42%,#eee 0 165deg,#ffb 0 168deg,#eee 0 47.08%,#cee 0 47.92%,#bde 0 174deg,#8bd 0 48.75%,#ffb 0 177deg,#eee 0 49.58%,#ffb 0 50%,#eee 0 50.42%,#ffb 0 183deg,#ffc 0 51.25%,#ffb 0 52.08%,#ffc 0 52.92%,#ffb 0 192deg,#fe9 0 54.58%,#ffb 0 55%,#eee 0 201deg,#cee 0 204deg,#f95 0 57.08%,#fe9 0 57.92%,#ffb 0 210deg,#eee 0 58.75%,#ffc 0 213deg,#fe9 0 59.58%,#cee 0 60%,#9cd 0 60.42%,#69c 0 61.25%,#ffc 0 222deg,#eee 0 62.08%,#ffb 0 62.5%,#cee 0 62.92%,#46a 0 228deg,#9cd 0 63.75%,#bde 0 231deg,#f95 0 64.58%,#e74 0 65%,#d43 0 65.42%,#c22 0 237deg,#e74 0 66.25%,#fb6 0 240deg,#e74 0 67.08%,#f95 0 67.5%,#ffc 0 67.92%,#bde 0 246deg,#cee 0 68.75%,#ffc 0 249deg,#e53 0 69.58%,#c22 0 70%,#e53 0 70.42%,#fc8 0 71.25%,#e53 0 258deg,#a12 0 72.08%,#fc8 0 72.5%,#f95 0 72.92%,#fe9 0 264deg,#bde 0 267deg,#69c 0 74.58%,#349 0 273deg,#9cd 0 76.25%,#ffc 0 276deg,#cee 0 77.08%,#bde 0 77.5%,#eee 0 77.92%,#cee 0 282deg,#9cd 0 78.75%,#cee 0 285deg,#eee 0 79.58%,#ffb 0 80%,#eee 0 80.42%,#ffb 0 291deg,#e74 0 81.25%,#e53 0 294deg,#e74 0 82.08%,#f95 0 82.5%,#fc8 0 82.92%,#eee 0 83.75%,#9cd 0 303deg,#ffc 0 85%,#ffb 0 309deg,#ffc 0 86.25%,#ffb 0 312deg,#eee 0 87.08%,#cee 0 87.5%,#eee 0 87.92%,#ffb 0 318deg,#cee 0 88.75%,#ffc 0 321deg,#f95 0 89.58%,#e53 0 90%,#fb6 0 90.42%,#ffb 0 327deg,#cee 0 91.25%,#349 0 92.08%,#46a 0 92.5%,#9cd 0 92.92%,#ffc 0 336deg,#fe9 0 93.75%,#ffc 0 94.58%,#eee 0 95%,#8bd 0 95.42%,#ffc 0 345deg,#fe9 0 96.25%,#ffc 0 348deg,#ffb 0 97.08%,#ffc 0 97.5%,#cee 0 97.92%,#bde 0 354deg,#eee 0 98.75%,#ffb 0 357deg,#f95 0 99.58%,#fe9 0)"></i>
<i style="inset:-61.7px;background:conic-gradient(#ffb 0 0.42%,#ffc 0 3deg,#eee 0 1.25%,#bde 0 6deg,#9cd 0 2.08%,#349 0 9deg,#9cd 0 2.92%,#ffb 0 12deg,#fe9 0 15deg,#fb6 0 4.58%,#ffc 0 5.42%,#eee 0 21deg,#ffc 0 6.25%,#ffb 0 24deg,#fc8 0 7.08%,#bde 0 7.5%,#8bd 0 7.92%,#9cd 0 30deg,#cee 0 8.75%,#ffc 0 33deg,#fb6 0 9.58%,#eee 0 10%,#ffc 0 10.42%,#ffb 0 39deg,#fe9 0 42deg,#f95 0 12.08%,#a12 0 48deg,#c22 0 13.75%,#fc8 0 51deg,#ffb 0 14.58%,#ffc 0 15.42%,#ffb 0 57deg,#fc8 0 17.08%,#f95 0 17.92%,#fb6 0 66deg,#fc8 0 18.75%,#ffb 0 69deg,#fc8 0 19.58%,#fe9 0 20%,#eee 0 75deg,#bde 0 21.25%,#eee 0 22.08%,#ffb 0 22.92%,#ffc 0 84deg,#9cd 0 23.75%,#349 0 87deg,#69c 0 24.58%,#46a 0 25%,#349 0 93deg,#69c 0 96deg,#349 0 27.92%,#69c 0 102deg,#fe9 0 28.75%,#e74 0 105deg,#fc8 0 29.58%,#e53 0 30.42%,#a12 0 31.25%,#c22 0 114deg,#e74 0 32.08%,#e53 0 32.5%,#d43 0 32.92%,#f95 0 120deg,#fc8 0 33.75%,#bde 0 123deg,#46a 0 34.58%,#349 0 35%,#69c 0 35.42%,#8bd 0 129deg,#cee 0 36.25%,#fe9 0 132deg,#c22 0 37.5%,#f95 0 37.92%,#ffb 0 138deg,#fc8 0 38.75%,#ffc 0 141deg,#ffb 0 39.58%,#eee 0 40%,#cee 0 147deg,#ffb 0 41.25%,#fc8 0 150deg,#fe9 0 42.08%,#ffc 0 42.5%,#ffb 0 42.92%,#bde 0 156deg,#46a 0 159deg,#58b 0 44.58%,#69c 0 45%,#eee 0 45.42%,#ffc 0 165deg,#fe9 0 46.25%,#ffb 0 168deg,#cee 0 47.08%,#bde 0 174deg,#8bd 0 48.75%,#ffb 0 177deg,#eee 0 49.58%,#ffc 0 50%,#eee 0 50.42%,#ffb 0 52.08%,#ffc 0 52.92%,#ffb 0 192deg,#fc8 0 53.75%,#fe9 0 54.58%,#ffb 0 55%,#eee 0 55.42%,#ffc 0 56.25%,#eee 0 204deg,#f95 0 57.08%,#fe9 0 57.5%,#ffb 0 57.92%,#ffc 0 210deg,#cee 0 58.75%,#ffc 0 213deg,#ffb 0 59.58%,#eee 0 60%,#cee 0 60.42%,#bde 0 219deg,#8bd 0 61.25%,#ffb 0 222deg,#ffc 0 62.5%,#9cd 0 62.92%,#349 0 228deg,#9cd 0 63.75%,#cee 0 231deg,#f95 0 64.58%,#e53 0 65%,#a12 0 237deg,#d43 0 66.25%,#e74 0 240deg,#e53 0 67.08%,#f95 0 67.5%,#ffb 0 67.92%,#eee 0 246deg,#ffc 0 68.75%,#ffb 0 249deg,#e53 0 69.58%,#d43 0 70%,#e53 0 70.42%,#fc8 0 255deg,#fb6 0 71.25%,#c22 0 258deg,#a12 0 72.08%,#e74 0 72.92%,#fe9 0 264deg,#bde 0 73.75%,#8bd 0 267deg,#46a 0 74.58%,#349 0 273deg,#8bd 0 76.25%,#cee 0 276deg,#9cd 0 77.08%,#bde 0 77.5%,#eee 0 77.92%,#bde 0 282deg,#9cd 0 78.75%,#cee 0 285deg,#eee 0 79.58%,#ffb 0 80%,#eee 0 80.42%,#ffb 0 291deg,#fb6 0 81.25%,#f95 0 294deg,#e74 0 82.5%,#fc8 0 82.92%,#eee 0 83.75%,#9cd 0 303deg,#eee 0 84.58%,#ffb 0 85%,#fe9 0 85.42%,#ffc 0 86.25%,#ffb 0 312deg,#eee 0 87.08%,#cee 0 87.5%,#ffc 0 87.92%,#fe9 0 318deg,#ffc 0 88.75%,#ffb 0 321deg,#fb6 0 89.58%,#f95 0 90%,#fc8 0 90.42%,#ffb 0 327deg,#cee 0 91.25%,#349 0 92.5%,#69c 0 92.92%,#eee 0 336deg,#ffc 0 93.75%,#eee 0 95%,#bde 0 95.42%,#eee 0 345deg,#ffc 0 96.25%,#eee 0 348deg,#ffb 0 97.08%,#ffc 0 97.5%,#cee 0 97.92%,#bde 0 354deg,#ffc 0 98.75%,#fe9 0 357deg,#e74 0 99.58%,#fc8 0)"></i>
<i style="inset:-60.1px;background:conic-gradient(#ffb 0 3deg,#eee 0 1.25%,#9cd 0 2.08%,#58b 0 9deg,#bde 0 2.92%,#ffb 0 12deg,#fe9 0 3.75%,#fc8 0 15deg,#fb6 0 4.58%,#ffb 0 5%,#ffc 0 5.42%,#eee 0 24deg,#ffb 0 7.08%,#8bd 0 7.92%,#bde 0 30deg,#eee 0 33deg,#fe9 0 9.58%,#ffc 0 39deg,#fe9 0 11.25%,#fc8 0 42deg,#e74 0 12.08%,#a12 0 48deg,#e53 0 13.75%,#fe9 0 51deg,#ffc 0 14.58%,#eee 0 15%,#ffc 0 15.42%,#ffb 0 57deg,#fc8 0 16.25%,#fb6 0 17.08%,#f95 0 63deg,#e74 0 66deg,#fb6 0 18.75%,#fe9 0 69deg,#fc8 0 20%,#ffc 0 20.42%,#eee 0 75deg,#cee 0 21.25%,#eee 0 22.08%,#fe9 0 81deg,#ffb 0 22.92%,#eee 0 84deg,#bde 0 23.75%,#58b 0 87deg,#9cd 0 24.58%,#58b 0 25%,#349 0 93deg,#69c 0 26.25%,#58b 0 96deg,#349 0 99deg,#46a 0 27.92%,#8bd 0 102deg,#fe9 0 28.75%,#e74 0 105deg,#fc8 0 29.58%,#e53 0 30%,#c22 0 30.42%,#a12 0 114deg,#d43 0 32.92%,#f95 0 120deg,#fb6 0 33.75%,#cee 0 123deg,#46a 0 34.58%,#349 0 35%,#58b 0 35.42%,#69c 0 129deg,#bde 0 36.25%,#ffc 0 132deg,#e53 0 37.08%,#d43 0 37.5%,#f95 0 37.92%,#ffb 0 138deg,#fc8 0 38.75%,#ffc 0 141deg,#ffb 0 39.58%,#ffc 0 40%,#cee 0 147deg,#ffb 0 41.25%,#fc8 0 42.08%,#ffb 0 42.92%,#bde 0 156deg,#58b 0 44.58%,#8bd 0 45%,#eee 0 45.42%,#ffb 0 165deg,#fc8 0 46.25%,#ffb 0 168deg,#cee 0 47.08%,#9cd 0 174deg,#8bd 0 48.75%,#ffb 0 177deg,#ffc 0 50%,#cee 0 50.42%,#ffc 0 183deg,#ffb 0 52.92%,#fe9 0 192deg,#fc8 0 195deg,#fe9 0 54.58%,#ffc 0 55%,#eee 0 55.42%,#fe9 0 201deg,#ffb 0 56.25%,#ffc 0 204deg,#f95 0 57.08%,#ffb 0 57.5%,#ffc 0 57.92%,#eee 0 210deg,#bde 0 58.75%,#ffc 0 213deg,#ffb 0 59.58%,#eee 0 60.42%,#cee 0 219deg,#8bd 0 61.25%,#ffb 0 222deg,#ffc 0 62.08%,#eee 0 62.5%,#8bd 0 62.92%,#349 0 228deg,#9cd 0 63.75%,#ffc 0 231deg,#fb6 0 64.58%,#d43 0 65%,#a12 0 237deg,#c22 0 66.25%,#e53 0 67.08%,#e74 0 67.5%,#fe9 0 67.92%,#ffb 0 249deg,#e74 0 69.58%,#d43 0 70%,#e74 0 70.42%,#fc8 0 255deg,#e74 0 71.25%,#a12 0 72.08%,#c22 0 72.5%,#e74 0 72.92%,#ffb 0 264deg,#bde 0 73.75%,#58b 0 267deg,#349 0 273deg,#69c 0 76.25%,#bde 0 276deg,#8bd 0 77.08%,#bde 0 77.5%,#eee 0 77.92%,#9cd 0 282deg,#8bd 0 78.75%,#cee 0 285deg,#eee 0 79.58%,#fe9 0 80%,#eee 0 80.42%,#ffb 0 291deg,#fc8 0 294deg,#f95 0 82.08%,#e74 0 82.5%,#fc8 0 82.92%,#ffc 0 300deg,#eee 0 83.75%,#bde 0 303deg,#eee 0 84.58%,#fe9 0 85%,#ffb 0 85.42%,#eee 0 309deg,#ffc 0 86.25%,#ffb 0 312deg,#ffc 0 87.08%,#eee 0 87.5%,#ffb 0 87.92%,#fe9 0 318deg,#ffb 0 88.75%,#ffc 0 321deg,#fc8 0 89.58%,#fb6 0 90%,#fc8 0 90.42%,#ffc 0 327deg,#cee 0 91.25%,#349 0 92.5%,#58b 0 92.92%,#cee 0 339deg,#eee 0 95%,#cee 0 96.25%,#eee 0 348deg,#ffb 0 97.08%,#ffc 0 97.5%,#cee 0 97.92%,#bde 0 354deg,#ffc 0 98.75%,#fb6 0 357deg,#e74 0 99.58%,#fc8 0)"></i>
<i style="inset:-58.5px;background:conic-gradient(#ffb 0 3deg,#eee 0 1.25%,#bde 0 2.08%,#69c 0 9deg,#bde 0 2.92%,#ffb 0 12deg,#fe9 0 3.75%,#fc8 0 15deg,#fb6 0 4.58%,#ffb 0 5%,#ffc 0 5.42%,#eee 0 21deg,#cee 0 24deg,#eee 0 7.08%,#69c 0 7.5%,#8bd 0 7.92%,#cee 0 30deg,#ffc 0 8.75%,#eee 0 33deg,#ffb 0 9.58%,#ffc 0 10%,#eee 0 10.42%,#ffc 0 39deg,#fe9 0 11.25%,#fc8 0 42deg,#e74 0 12.08%,#c22 0 48deg,#e74 0 13.75%,#fe9 0 51deg,#eee 0 15.42%,#ffb 0 57deg,#fc8 0 16.25%,#fb6 0 17.08%,#e74 0 63deg,#d43 0 17.92%,#e53 0 66deg,#f95 0 18.75%,#ffb 0 69deg,#fe9 0 19.58%,#fc8 0 20%,#ffb 0 20.42%,#ffc 0 75deg,#eee 0 21.25%,#ffc 0 22.08%,#fe9 0 22.92%,#eee 0 84deg,#bde 0 23.75%,#69c 0 87deg,#bde 0 24.58%,#58b 0 25%,#46a 0 25.42%,#349 0 93deg,#69c 0 26.25%,#58b 0 96deg,#349 0 27.08%,#58b 0 99deg,#69c 0 27.92%,#9cd 0 102deg,#fe9 0 28.75%,#e74 0 105deg,#fc8 0 29.58%,#d43 0 30%,#a12 0 114deg,#c22 0 32.08%,#d43 0 32.92%,#f95 0 120deg,#fc8 0 33.75%,#bde 0 123deg,#46a 0 34.58%,#349 0 35%,#58b 0 35.42%,#8bd 0 129deg,#cee 0 36.25%,#eee 0 132deg,#f95 0 37.08%,#e74 0 37.5%,#f95 0 37.92%,#fe9 0 138deg,#fb6 0 38.75%,#ffb 0 141deg,#fe9 0 39.58%,#ffb 0 40%,#eee 0 147deg,#fe9 0 41.25%,#fc8 0 42.08%,#ffb 0 42.92%,#bde 0 156deg,#8bd 0 43.75%,#69c 0 44.58%,#9cd 0 45%,#ffc 0 45.42%,#ffb 0 165deg,#fc8 0 46.25%,#ffb 0 168deg,#cee 0 47.08%,#9cd 0 47.5%,#8bd 0 47.92%,#9cd 0 174deg,#8bd 0 48.75%,#eee 0 49.58%,#ffc 0 50%,#cee 0 50.42%,#ffc 0 51.25%,#ffb 0 52.08%,#fe9 0 52.92%,#ffb 0 192deg,#fe9 0 195deg,#ffb 0 54.58%,#ffc 0 55%,#eee 0 55.42%,#fe9 0 201deg,#ffc 0 204deg,#f95 0 57.08%,#fe9 0 57.5%,#ffb 0 57.92%,#eee 0 210deg,#bde 0 58.75%,#ffc 0 59.58%,#cee 0 60.42%,#bde 0 219deg,#8bd 0 61.25%,#ffb 0 62.08%,#ffc 0 62.5%,#9cd 0 62.92%,#349 0 228deg,#bde 0 63.75%,#ffb 0 231deg,#fb6 0 64.58%,#d43 0 65%,#a12 0 237deg,#c22 0 66.25%,#e74 0 240deg,#e53 0 67.08%,#e74 0 67.5%,#fc8 0 67.92%,#fe9 0 246deg,#ffb 0 68.75%,#ffc 0 249deg,#f95 0 69.58%,#d43 0 70%,#e74 0 70.42%,#fc8 0 255deg,#e53 0 71.25%,#a12 0 72.5%,#e74 0 72.92%,#ffb 0 264deg,#bde 0 73.75%,#349 0 273deg,#69c 0 76.25%,#9cd 0 276deg,#69c 0 77.08%,#bde 0 77.5%,#cee 0 77.92%,#9cd 0 282deg,#8bd 0 78.75%,#cee 0 285deg,#eee 0 79.58%,#fe9 0 80%,#ffb 0 80.42%,#fe9 0 291deg,#fb6 0 81.25%,#fc8 0 294deg,#f95 0 82.5%,#fc8 0 82.92%,#ffc 0 300deg,#eee 0 83.75%,#cee 0 303deg,#eee 0 84.58%,#fe9 0 85%,#ffb 0 85.42%,#eee 0 309deg,#ffc 0 86.25%,#ffb 0 312deg,#ffc 0 87.08%,#cee 0 87.5%,#ffb 0 87.92%,#fe9 0 318deg,#ffb 0 88.75%,#ffc 0 321deg,#fe9 0 89.58%,#fb6 0 90%,#fc8 0 90.42%,#ffc 0 327deg,#cee 0 91.25%,#349 0 92.5%,#58b 0 92.92%,#cee 0 336deg,#9cd 0 93.75%,#bde 0 339deg,#eee 0 95%,#bde 0 95.42%,#8bd 0 345deg,#bde 0 96.25%,#eee 0 348deg,#ffb 0 97.5%,#eee 0 97.92%,#cee 0 354deg,#ffc 0 98.75%,#f95 0 357deg,#e53 0 99.58%,#fc8 0)"></i>
<i style="inset:-56.9px;background:conic-gradient(#fe9 0 0.42%,#ffb 0 3deg,#eee 0 1.25%,#cee 0 2.08%,#9cd 0 9deg,#cee 0 2.92%,#ffb 0 12deg,#fe9 0 3.75%,#fc8 0 15deg,#fb6 0 4.58%,#ffb 0 5%,#eee 0 5.42%,#cee 0 21deg,#bde 0 6.25%,#cee 0 24deg,#eee 0 7.08%,#69c 0 7.5%,#8bd 0 7.92%,#eee 0 8.75%,#cee 0 33deg,#ffb 0 10%,#ffc 0 10.42%,#eee 0 39deg,#fe9 0 11.25%,#fc8 0 42deg,#e74 0 12.08%,#c22 0 12.92%,#e53 0 48deg,#fb6 0 13.75%,#ffb 0 51deg,#cee 0 14.58%,#bde 0 15.42%,#eee 0 57deg,#fe9 0 16.25%,#fc8 0 17.08%,#e74 0 63deg,#c22 0 17.92%,#e53 0 66deg,#f95 0 18.75%,#ffb 0 69deg,#fc8 0 19.58%,#fb6 0 20%,#fe9 0 20.42%,#ffb 0 75deg,#ffc 0 78deg,#eee 0 22.08%,#fe9 0 22.92%,#ffc 0 84deg,#cee 0 23.75%,#8bd 0 87deg,#cee 0 24.58%,#69c 0 25%,#58b 0 25.42%,#46a 0 93deg,#8bd 0 26.25%,#69c 0 96deg,#349 0 27.08%,#69c 0 99deg,#9cd 0 102deg,#fe9 0 28.75%,#f95 0 105deg,#fc8 0 29.58%,#d43 0 30%,#a12 0 32.08%,#d43 0 32.5%,#e53 0 32.92%,#f95 0 120deg,#fc8 0 33.75%,#cee 0 123deg,#46a 0 35%,#8bd 0 35.42%,#bde 0 129deg,#cee 0 36.25%,#eee 0 132deg,#fb6 0 37.08%,#e74 0 37.92%,#fc8 0 138deg,#fb6 0 38.75%,#ffb 0 141deg,#fe9 0 40%,#ffc 0 147deg,#fe9 0 41.25%,#fc8 0 150deg,#fb6 0 42.08%,#ffb 0 42.92%,#cee 0 156deg,#9cd 0 43.75%,#8bd 0 44.58%,#bde 0 45%,#ffc 0 45.42%,#fe9 0 165deg,#fc8 0 46.25%,#ffb 0 168deg,#cee 0 47.08%,#9cd 0 47.5%,#8bd 0 174deg,#69c 0 48.75%,#eee 0 177deg,#cee 0 49.58%,#eee 0 50%,#cee 0 50.42%,#eee 0 183deg,#ffc 0 51.25%,#ffb 0 52.08%,#fc8 0 52.92%,#ffc 0 53.75%,#fe9 0 195deg,#ffb 0 54.58%,#eee 0 55.42%,#fe9 0 201deg,#ffc 0 204deg,#f95 0 57.08%,#fc8 0 57.5%,#fe9 0 57.92%,#eee 0 210deg,#bde 0 58.75%,#ffc 0 213deg,#eee 0 59.58%,#bde 0 60.42%,#9cd 0 219deg,#8bd 0 61.25%,#ffb 0 222deg,#fe9 0 62.08%,#eee 0 62.5%,#9cd 0 62.92%,#46a 0 228deg,#bde 0 63.75%,#ffb 0 231deg,#fc8 0 64.58%,#e74 0 65%,#a12 0 237deg,#e53 0 66.25%,#f95 0 240deg,#e74 0 67.08%,#f95 0 67.5%,#fc8 0 67.92%,#fb6 0 246deg,#fe9 0 68.75%,#ffc 0 249deg,#fb6 0 69.58%,#d43 0 70%,#e74 0 70.42%,#fb6 0 255deg,#e53 0 71.25%,#a12 0 72.5%,#e74 0 72.92%,#ffb 0 264deg,#cee 0 73.75%,#349 0 273deg,#58b 0 76.25%,#9cd 0 276deg,#69c 0 77.08%,#9cd 0 77.5%,#cee 0 77.92%,#8bd 0 282deg,#9cd 0 78.75%,#cee 0 285deg,#eee 0 79.58%,#fc8 0 80%,#fe9 0 80.42%,#fb6 0 291deg,#e74 0 81.25%,#fc8 0 294deg,#f95 0 82.5%,#fe9 0 82.92%,#eee 0 83.75%,#cee 0 303deg,#eee 0 84.58%,#ffb 0 85%,#ffc 0 85.42%,#eee 0 309deg,#ffb 0 86.25%,#ffc 0 312deg,#eee 0 87.08%,#cee 0 87.5%,#ffb 0 87.92%,#fe9 0 88.75%,#ffb 0 321deg,#fe9 0 89.58%,#fb6 0 90%,#fc8 0 90.42%,#ffc 0 327deg,#cee 0 91.25%,#349 0 92.5%,#69c 0 92.92%,#cee 0 336deg,#8bd 0 93.75%,#9cd 0 339deg,#cee 0 95%,#bde 0 95.42%,#69c 0 345deg,#9cd 0 96.25%,#eee 0 348deg,#fe9 0 97.5%,#eee 0 97.92%,#bde 0 354deg,#ffc 0 98.75%,#f95 0 357deg,#e53 0 99.58%,#fb6 0)"></i>
<i style="inset:-55.3px;background:conic-gradient(#fe9 0 3deg,#ffc 0 1.25%,#eee 0 2.08%,#bde 0 2.92%,#ffb 0 12deg,#fe9 0 3.75%,#fb6 0 4.58%,#ffb 0 5%,#eee 0 5.42%,#cee 0 21deg,#9cd 0 6.25%,#bde 0 24deg,#cee 0 7.08%,#69c 0 7.5%,#9cd 0 7.92%,#ffc 0 8.75%,#eee 0 33deg,#ffb 0 9.58%,#fe9 0 10%,#eee 0 39deg,#fe9 0 11.25%,#fc8 0 42deg,#e53 0 12.08%,#d43 0 12.92%,#e74 0 48deg,#fc8 0 13.75%,#ffc 0 51deg,#bde 0 14.58%,#9cd 0 15%,#bde 0 15.42%,#eee 0 57deg,#ffb 0 16.25%,#fe9 0 60deg,#fc8 0 17.08%,#e74 0 63deg,#c22 0 17.92%,#e74 0 66deg,#fb6 0 18.75%,#ffb 0 69deg,#fc8 0 19.58%,#fb6 0 20%,#fc8 0 20.42%,#ffb 0 75deg,#ffc 0 78deg,#eee 0 22.08%,#ffb 0 22.92%,#ffc 0 84deg,#eee 0 23.75%,#9cd 0 87deg,#eee 0 24.58%,#9cd 0 25%,#69c 0 25.42%,#58b 0 93deg,#9cd 0 26.25%,#8bd 0 96deg,#349 0 27.08%,#69c 0 99deg,#bde 0 102deg,#fe9 0 28.75%,#f95 0 105deg,#fe9 0 29.58%,#e53 0 30%,#a12 0 32.08%,#e53 0 32.5%,#e74 0 32.92%,#f95 0 120deg,#fc8 0 33.75%,#cee 0 123deg,#69c 0 34.58%,#58b 0 35%,#9cd 0 35.42%,#cee 0 36.25%,#eee 0 132deg,#f95 0 37.08%,#e53 0 37.5%,#e74 0 37.92%,#fc8 0 138deg,#fb6 0 38.75%,#ffb 0 141deg,#fe9 0 40%,#ffc 0 147deg,#ffb 0 150deg,#fb6 0 42.08%,#fe9 0 42.92%,#eee 0 156deg,#bde 0 43.75%,#8bd 0 44.58%,#bde 0 45%,#ffc 0 45.42%,#fe9 0 46.25%,#ffc 0 168deg,#cee 0 47.08%,#9cd 0 174deg,#8bd 0 48.75%,#eee 0 50%,#cee 0 183deg,#eee 0 51.25%,#ffb 0 52.08%,#fc8 0 52.5%,#fe9 0 52.92%,#eee 0 53.75%,#fe9 0 54.58%,#cee 0 55%,#eee 0 55.42%,#fc8 0 201deg,#ffb 0 56.25%,#ffc 0 204deg,#f95 0 57.08%,#fb6 0 57.5%,#fe9 0 57.92%,#ffc 0 210deg,#bde 0 58.75%,#ffc 0 59.58%,#bde 0 60.42%,#8bd 0 61.25%,#fe9 0 222deg,#ffb 0 62.08%,#cee 0 62.5%,#9cd 0 62.92%,#46a 0 228deg,#cee 0 63.75%,#ffb 0 231deg,#fc8 0 64.58%,#f95 0 65%,#c22 0 65.42%,#a12 0 237deg,#e74 0 66.25%,#f95 0 67.08%,#fb6 0 67.5%,#fc8 0 67.92%,#fb6 0 246deg,#fe9 0 68.75%,#eee 0 249deg,#fc8 0 69.58%,#e53 0 70%,#e74 0 70.42%,#fb6 0 255deg,#e53 0 71.25%,#a12 0 72.5%,#f95 0 72.92%,#ffb 0 264deg,#cee 0 73.75%,#46a 0 267deg,#349 0 273deg,#46a 0 76.25%,#8bd 0 276deg,#58b 0 77.08%,#8bd 0 77.5%,#bde 0 77.92%,#8bd 0 78.75%,#cee 0 285deg,#ffc 0 79.58%,#fb6 0 80%,#fc8 0 80.42%,#f95 0 291deg,#e74 0 81.25%,#fb6 0 294deg,#e74 0 82.08%,#fb6 0 82.5%,#fe9 0 82.92%,#cee 0 303deg,#eee 0 84.58%,#ffb 0 85%,#eee 0 309deg,#ffc 0 312deg,#eee 0 87.08%,#cee 0 87.5%,#fe9 0 87.92%,#fc8 0 318deg,#fe9 0 88.75%,#ffb 0 89.58%,#fb6 0 90%,#fc8 0 90.42%,#ffc 0 327deg,#cee 0 91.25%,#349 0 92.5%,#69c 0 92.92%,#bde 0 336deg,#8bd 0 93.75%,#9cd 0 339deg,#bde 0 94.58%,#cee 0 95%,#bde 0 95.42%,#8bd 0 345deg,#bde 0 96.25%,#eee 0 348deg,#fe9 0 97.5%,#eee 0 97.92%,#bde 0 354deg,#ffc 0 98.75%,#f95 0 357deg,#e53 0 99.58%,#fb6 0)"></i>
<i style="inset:-53.7px;background:conic-gradient(#fe9 0 3deg,#ffb 0 1.25%,#ffc 0 6deg,#eee 0 2.08%,#bde 0 9deg,#9cd 0 2.92%,#ffc 0 12deg,#fc8 0 3.75%,#f95 0 4.58%,#ffb 0 5%,#eee 0 5.42%,#bde 0 21deg,#8bd 0 6.25%,#9cd 0 24deg,#cee 0 7.08%,#69c 0 7.5%,#9cd 0 7.92%,#ffc 0 8.75%,#eee 0 33deg,#ffb 0 9.58%,#fe9 0 10%,#eee 0 10.42%,#cee 0 39deg,#fe9 0 11.25%,#fc8 0 42deg,#e53 0 12.08%,#d43 0 12.92%,#e53 0 48deg,#fc8 0 13.75%,#eee 0 51deg,#bde 0 14.58%,#8bd 0 15%,#bde 0 15.42%,#eee 0 57deg,#ffb 0 16.25%,#fe9 0 60deg,#fc8 0 17.08%,#f95 0 63deg,#d43 0 17.92%,#fb6 0 66deg,#fc8 0 18.75%,#fe9 0 69deg,#fc8 0 19.58%,#fb6 0 20%,#fc8 0 20.42%,#fe9 0 75deg,#ffc 0 78deg,#cee 0 22.08%,#eee 0 84deg,#ffc 0 23.75%,#cee 0 87deg,#ffc 0 24.58%,#9cd 0 25%,#8bd 0 25.42%,#58b 0 93deg,#8bd 0 96deg,#46a 0 27.08%,#8bd 0 99deg,#cee 0 102deg,#fe9 0 28.75%,#fb6 0 105deg,#fe9 0 29.58%,#e74 0 30%,#a12 0 32.08%,#e53 0 32.5%,#f95 0 120deg,#fb6 0 33.75%,#ffc 0 123deg,#8bd 0 35%,#cee 0 35.42%,#eee 0 129deg,#cee 0 36.25%,#eee 0 132deg,#fb6 0 37.08%,#e53 0 37.5%,#e74 0 37.92%,#fc8 0 38.75%,#ffb 0 141deg,#fe9 0 40%,#eee 0 40.42%,#ffc 0 147deg,#ffb 0 150deg,#fb6 0 42.08%,#fe9 0 42.92%,#eee 0 156deg,#bde 0 43.75%,#8bd 0 159deg,#9cd 0 44.58%,#eee 0 45%,#ffc 0 45.42%,#fc8 0 46.25%,#ffb 0 168deg,#eee 0 47.08%,#cee 0 47.92%,#bde 0 174deg,#9cd 0 48.75%,#ffc 0 177deg,#eee 0 49.58%,#ffc 0 50%,#cee 0 50.42%,#bde 0 183deg,#eee 0 51.25%,#ffc 0 186deg,#ffb 0 52.08%,#fc8 0 52.5%,#ffb 0 52.92%,#eee 0 53.75%,#ffb 0 54.58%,#cee 0 55%,#eee 0 55.42%,#fb6 0 201deg,#ffb 0 56.25%,#ffc 0 204deg,#f95 0 57.08%,#fb6 0 57.5%,#fc8 0 57.92%,#ffc 0 210deg,#cee 0 58.75%,#ffb 0 213deg,#ffc 0 59.58%,#cee 0 60%,#9cd 0 60.42%,#58b 0 219deg,#8bd 0 61.25%,#ffb 0 62.08%,#cee 0 62.5%,#9cd 0 62.92%,#46a 0 228deg,#bde 0 63.75%,#ffb 0 231deg,#fc8 0 64.58%,#fb6 0 65%,#d43 0 65.42%,#c22 0 237deg,#e74 0 66.25%,#f95 0 240deg,#fb6 0 67.08%,#fc8 0 67.5%,#fe9 0 67.92%,#fc8 0 246deg,#fe9 0 68.75%,#ffc 0 249deg,#fe9 0 69.58%,#e53 0 70%,#e74 0 70.42%,#fb6 0 255deg,#e74 0 71.25%,#a12 0 72.08%,#d43 0 72.5%,#fb6 0 72.92%,#ffc 0 264deg,#eee 0 73.75%,#58b 0 267deg,#349 0 76.25%,#69c 0 276deg,#58b 0 77.08%,#8bd 0 77.5%,#9cd 0 77.92%,#8bd 0 282deg,#9cd 0 78.75%,#cee 0 285deg,#ffc 0 79.58%,#fc8 0 80.42%,#fb6 0 291deg,#e74 0 81.25%,#f95 0 294deg,#e53 0 82.08%,#fb6 0 82.5%,#fe9 0 82.92%,#cee 0 83.75%,#eee 0 84.58%,#ffc 0 85%,#eee 0 309deg,#ffc 0 86.25%,#eee 0 312deg,#cee 0 87.5%,#fe9 0 87.92%,#fc8 0 318deg,#fe9 0 88.75%,#ffc 0 321deg,#ffb 0 89.58%,#fb6 0 90%,#fc8 0 90.42%,#ffc 0 327deg,#cee 0 91.25%,#58b 0 330deg,#349 0 92.5%,#69c 0 92.92%,#bde 0 336deg,#69c 0 93.75%,#9cd 0 339deg,#bde 0 94.58%,#cee 0 95.42%,#8bd 0 345deg,#cee 0 96.25%,#eee 0 348deg,#ffc 0 97.08%,#ffb 0 97.5%,#cee 0 97.92%,#bde 0 354deg,#ffc 0 98.75%,#e74 0 357deg,#e53 0 99.58%,#fb6 0)"></i>
<i style="inset:-52.1px;background:conic-gradient(#fc8 0 0.42%,#ffb 0 3deg,#ffc 0 1.25%,#eee 0 6deg,#cee 0 2.08%,#bde 0 9deg,#9cd 0 2.92%,#ffc 0 12deg,#fc8 0 3.75%,#e74 0 4.58%,#fe9 0 5%,#eee 0 5.42%,#bde 0 21deg,#8bd 0 6.25%,#9cd 0 24deg,#eee 0 7.08%,#8bd 0 7.5%,#bde 0 7.92%,#ffc 0 30deg,#ffb 0 8.75%,#eee 0 33deg,#ffb 0 9.58%,#fe9 0 10%,#eee 0 39deg,#fc8 0 42deg,#e74 0 12.08%,#d43 0 12.92%,#e53 0 48deg,#fe9 0 13.75%,#cee 0 51deg,#9cd 0 14.58%,#8bd 0 15%,#bde 0 15.42%,#ffc 0 57deg,#ffb 0 16.25%,#fe9 0 60deg,#fc8 0 17.08%,#f95 0 63deg,#e74 0 17.92%,#fc8 0 19.58%,#fb6 0 20%,#fe9 0 20.42%,#ffb 0 78deg,#cee 0 22.92%,#eee 0 84deg,#ffc 0 23.75%,#cee 0 87deg,#ffb 0 24.58%,#bde 0 25%,#9cd 0 25.42%,#8bd 0 93deg,#bde 0 26.25%,#9cd 0 96deg,#58b 0 27.08%,#9cd 0 99deg,#eee 0 27.92%,#cee 0 102deg,#fe9 0 28.75%,#fb6 0 105deg,#fe9 0 29.58%,#f95 0 30%,#a12 0 32.08%,#e53 0 32.5%,#e74 0 32.92%,#e53 0 120deg,#e74 0 33.75%,#ffb 0 123deg,#cee 0 34.58%,#bde 0 35%,#eee 0 129deg,#bde 0 36.25%,#eee 0 132deg,#fb6 0 37.08%,#e74 0 37.92%,#fe9 0 138deg,#fc8 0 38.75%,#ffb 0 40%,#eee 0 40.42%,#ffc 0 147deg,#ffb 0 150deg,#fb6 0 42.08%,#fe9 0 42.92%,#ffc 0 156deg,#cee 0 43.75%,#9cd 0 159deg,#bde 0 44.58%,#ffc 0 45%,#ffb 0 45.42%,#fb6 0 165deg,#fc8 0 46.25%,#ffb 0 168deg,#ffc 0 47.08%,#eee 0 47.92%,#cee 0 174deg,#9cd 0 48.75%,#eee 0 49.58%,#ffc 0 50%,#cee 0 50.42%,#9cd 0 183deg,#cee 0 51.25%,#ffc 0 186deg,#fe9 0 52.08%,#fb6 0 52.5%,#fe9 0 52.92%,#eee 0 192deg,#cee 0 53.75%,#ffc 0 195deg,#ffb 0 54.58%,#cee 0 55%,#eee 0 55.42%,#fb6 0 201deg,#ffb 0 204deg,#f95 0 57.08%,#fb6 0 57.5%,#fe9 0 57.92%,#ffc 0 210deg,#eee 0 58.75%,#ffb 0 213deg,#ffc 0 59.58%,#cee 0 60%,#9cd 0 60.42%,#46a 0 219deg,#69c 0 61.25%,#ffb 0 62.08%,#cee 0 62.5%,#9cd 0 62.92%,#349 0 228deg,#9cd 0 63.75%,#ffc 0 231deg,#fe9 0 64.58%,#fb6 0 65%,#d43 0 237deg,#e74 0 66.25%,#f95 0 240deg,#fb6 0 67.08%,#fe9 0 67.92%,#fc8 0 246deg,#ffb 0 68.75%,#ffc 0 249deg,#fe9 0 69.58%,#e53 0 70.42%,#fb6 0 255deg,#f95 0 71.25%,#c22 0 258deg,#a12 0 72.08%,#d43 0 72.5%,#fb6 0 72.92%,#ffc 0 264deg,#eee 0 73.75%,#69c 0 267deg,#349 0 76.25%,#69c 0 77.08%,#8bd 0 77.5%,#9cd 0 77.92%,#8bd 0 282deg,#9cd 0 78.75%,#cee 0 285deg,#ffc 0 79.58%,#fc8 0 80%,#fe9 0 80.42%,#fc8 0 291deg,#f95 0 81.25%,#fb6 0 294deg,#e53 0 82.08%,#fb6 0 82.5%,#fe9 0 82.92%,#cee 0 83.75%,#eee 0 84.58%,#ffb 0 85%,#eee 0 85.42%,#ffc 0 309deg,#eee 0 86.25%,#cee 0 312deg,#9cd 0 87.08%,#cee 0 87.5%,#fe9 0 87.92%,#fc8 0 318deg,#ffb 0 88.75%,#ffc 0 89.58%,#fc8 0 90.42%,#ffc 0 327deg,#cee 0 91.25%,#69c 0 330deg,#349 0 92.5%,#8bd 0 92.92%,#bde 0 336deg,#69c 0 93.75%,#bde 0 339deg,#cee 0 94.58%,#eee 0 95%,#cee 0 95.42%,#8bd 0 345deg,#cee 0 96.25%,#ffc 0 97.5%,#cee 0 354deg,#ffc 0 98.75%,#f95 0 357deg,#e53 0 99.58%,#f95 0)"></i>
<i style="inset:-50.5px;background:conic-gradient(#fc8 0 0.42%,#ffc 0 1.25%,#eee 0 6deg,#cee 0 2.08%,#bde 0 9deg,#8bd 0 2.92%,#ffc 0 12deg,#fc8 0 3.75%,#e74 0 4.58%,#fc8 0 5%,#eee 0 5.42%,#bde 0 21deg,#8bd 0 6.25%,#9cd 0 24deg,#cee 0 7.08%,#69c 0 7.5%,#9cd 0 7.92%,#ffc 0 8.75%,#eee 0 33deg,#ffc 0 9.58%,#ffb 0 10%,#ffc 0 39deg,#fb6 0 11.25%,#fc8 0 42deg,#e74 0 12.08%,#d43 0 12.92%,#e53 0 48deg,#fe9 0 13.75%,#cee 0 51deg,#9cd 0 14.58%,#69c 0 15%,#cee 0 15.42%,#ffc 0 57deg,#ffb 0 60deg,#fe9 0 17.08%,#f95 0 63deg,#e74 0 17.92%,#fc8 0 69deg,#fe9 0 19.58%,#fc8 0 20%,#fe9 0 20.42%,#ffb 0 78deg,#cee 0 22.08%,#bde 0 22.92%,#ffc 0 84deg,#ffb 0 23.75%,#eee 0 87deg,#ffb 0 24.58%,#eee 0 25%,#cee 0 25.42%,#bde 0 93deg,#eee 0 26.25%,#cee 0 96deg,#69c 0 27.08%,#bde 0 99deg,#eee 0 27.92%,#cee 0 102deg,#fe9 0 28.75%,#fc8 0 105deg,#ffb 0 29.58%,#fb6 0 30%,#d43 0 30.42%,#a12 0 31.25%,#c22 0 114deg,#a12 0 32.08%,#e74 0 32.92%,#d43 0 120deg,#e74 0 33.75%,#fe9 0 123deg,#eee 0 35%,#ffc 0 129deg,#bde 0 36.25%,#ffc 0 132deg,#fc8 0 37.08%,#e74 0 37.92%,#fc8 0 38.75%,#ffc 0 141deg,#eee 0 39.58%,#ffb 0 40%,#ffc 0 40.42%,#ffb 0 150deg,#fb6 0 42.08%,#fc8 0 42.92%,#ffb 0 156deg,#eee 0 43.75%,#bde 0 159deg,#cee 0 44.58%,#ffc 0 45%,#ffb 0 45.42%,#fb6 0 46.25%,#fe9 0 168deg,#ffb 0 47.08%,#ffc 0 47.5%,#eee 0 47.92%,#cee 0 174deg,#bde 0 48.75%,#ffc 0 49.58%,#ffb 0 50%,#cee 0 50.42%,#9cd 0 183deg,#bde 0 51.25%,#ffc 0 186deg,#fe9 0 52.08%,#f95 0 52.5%,#fe9 0 52.92%,#eee 0 192deg,#cee 0 53.75%,#ffc 0 195deg,#ffb 0 54.58%,#eee 0 55.42%,#fc8 0 201deg,#fe9 0 204deg,#f95 0 57.08%,#fb6 0 57.5%,#fe9 0 57.92%,#ffc 0 210deg,#cee 0 58.75%,#ffc 0 213deg,#eee 0 59.58%,#cee 0 60%,#9cd 0 60.42%,#46a 0 219deg,#8bd 0 61.25%,#ffb 0 62.08%,#eee 0 62.5%,#bde 0 62.92%,#46a 0 228deg,#9cd 0 63.75%,#ffc 0 231deg,#fe9 0 64.58%,#fb6 0 65%,#d43 0 237deg,#f95 0 66.25%,#e74 0 240deg,#f95 0 67.08%,#fe9 0 246deg,#ffb 0 68.75%,#ffc 0 249deg,#fc8 0 69.58%,#e53 0 70.42%,#fb6 0 255deg,#f95 0 71.25%,#d43 0 258deg,#a12 0 72.08%,#d43 0 72.5%,#fb6 0 72.92%,#ffc 0 264deg,#eee 0 73.75%,#69c 0 267deg,#349 0 273deg,#46a 0 76.25%,#8bd 0 276deg,#69c 0 77.08%,#8bd 0 78.75%,#cee 0 285deg,#ffc 0 79.58%,#fc8 0 80%,#fe9 0 291deg,#fb6 0 81.25%,#fc8 0 294deg,#e74 0 82.08%,#fb6 0 82.5%,#fe9 0 82.92%,#cee 0 83.75%,#eee 0 84.58%,#ffb 0 85%,#ffc 0 85.42%,#fe9 0 309deg,#ffc 0 86.25%,#bde 0 312deg,#9cd 0 87.08%,#cee 0 87.5%,#fe9 0 87.92%,#fc8 0 318deg,#fe9 0 88.75%,#ffb 0 89.58%,#fc8 0 90.42%,#ffc 0 327deg,#eee 0 91.25%,#8bd 0 330deg,#349 0 92.5%,#9cd 0 92.92%,#cee 0 336deg,#8bd 0 93.75%,#bde 0 339deg,#cee 0 94.58%,#eee 0 95%,#bde 0 95.42%,#69c 0 345deg,#cee 0 96.25%,#ffc 0 97.5%,#cee 0 97.92%,#eee 0 354deg,#ffc 0 98.75%,#f95 0 357deg,#e53 0 99.58%,#e74 0)"></i>
<i style="inset:-48.9px;background:conic-gradient(#fc8 0 0.42%,#ffc 0 1.25%,#eee 0 6deg,#cee 0 2.08%,#bde 0 9deg,#8bd 0 2.92%,#eee 0 12deg,#fc8 0 3.75%,#f95 0 4.58%,#fe9 0 5%,#cee 0 5.42%,#9cd 0 21deg,#8bd 0 24deg,#bde 0 7.08%,#69c 0 7.5%,#8bd 0 7.92%,#eee 0 8.75%,#bde 0 33deg,#eee 0 9.58%,#ffb 0 10%,#ffc 0 10.42%,#ffb 0 39deg,#f95 0 11.25%,#fb6 0 42deg,#e74 0 12.08%,#e53 0 12.92%,#e74 0 48deg,#fc8 0 13.75%,#eee 0 51deg,#9cd 0 14.58%,#8bd 0 15%,#eee 0 15.42%,#ffc 0 57deg,#ffb 0 16.25%,#ffc 0 60deg,#ffb 0 17.08%,#fb6 0 63deg,#f95 0 17.92%,#fc8 0 18.75%,#fe9 0 20%,#ffb 0 21.25%,#ffc 0 78deg,#eee 0 22.08%,#bde 0 22.92%,#ffc 0 84deg,#fe9 0 23.75%,#ffb 0 87deg,#fe9 0 24.58%,#ffc 0 25%,#cee 0 93deg,#ffc 0 26.25%,#eee 0 96deg,#8bd 0 27.08%,#bde 0 99deg,#ffc 0 27.92%,#eee 0 102deg,#fe9 0 105deg,#ffc 0 29.58%,#fe9 0 30%,#e74 0 30.42%,#c22 0 111deg,#d43 0 31.25%,#e53 0 114deg,#d43 0 32.08%,#fb6 0 32.5%,#f95 0 32.92%,#e53 0 33.75%,#fe9 0 123deg,#eee 0 35%,#ffc 0 129deg,#cee 0 36.25%,#ffb 0 132deg,#fb6 0 37.08%,#e53 0 37.92%,#fc8 0 138deg,#ffb 0 38.75%,#eee 0 141deg,#cee 0 39.58%,#ffc 0 40.42%,#ffb 0 150deg,#f95 0 42.08%,#fb6 0 42.5%,#fc8 0 42.92%,#fe9 0 156deg,#eee 0 43.75%,#bde 0 159deg,#cee 0 44.58%,#ffc 0 45%,#ffb 0 45.42%,#fc8 0 46.25%,#fe9 0 168deg,#ffb 0 47.08%,#ffc 0 47.5%,#eee 0 47.92%,#cee 0 48.75%,#ffc 0 177deg,#ffb 0 49.58%,#fe9 0 50%,#eee 0 50.42%,#9cd 0 183deg,#bde 0 51.25%,#eee 0 186deg,#ffb 0 52.08%,#fb6 0 52.5%,#fe9 0 52.92%,#eee 0 192deg,#bde 0 53.75%,#ffc 0 195deg,#ffb 0 54.58%,#eee 0 55.42%,#fe9 0 204deg,#fb6 0 57.08%,#fc8 0 57.5%,#ffb 0 57.92%,#eee 0 210deg,#cee 0 58.75%,#eee 0 59.58%,#cee 0 60%,#9cd 0 60.42%,#46a 0 219deg,#8bd 0 61.25%,#ffc 0 62.08%,#eee 0 62.5%,#cee 0 62.92%,#58b 0 228deg,#9cd 0 63.75%,#eee 0 231deg,#fe9 0 64.58%,#fb6 0 65%,#e53 0 65.42%,#e74 0 237deg,#fb6 0 66.25%,#f95 0 240deg,#fb6 0 67.08%,#fc8 0 67.5%,#fe9 0 67.92%,#ffb 0 246deg,#ffc 0 249deg,#fc8 0 69.58%,#e53 0 70%,#d43 0 70.42%,#fc8 0 255deg,#fb6 0 71.25%,#e53 0 258deg,#c22 0 72.08%,#d43 0 72.5%,#fb6 0 72.92%,#ffc 0 264deg,#cee 0 73.75%,#8bd 0 267deg,#46a 0 74.58%,#349 0 273deg,#58b 0 76.25%,#9cd 0 276deg,#8bd 0 77.08%,#69c 0 77.5%,#8bd 0 77.92%,#bde 0 282deg,#9cd 0 78.75%,#cee 0 285deg,#ffc 0 79.58%,#fc8 0 80.42%,#fe9 0 291deg,#fc8 0 294deg,#e74 0 82.08%,#fb6 0 82.5%,#ffb 0 82.92%,#bde 0 300deg,#cee 0 83.75%,#ffc 0 303deg,#eee 0 84.58%,#ffb 0 85.42%,#fc8 0 309deg,#ffb 0 86.25%,#cee 0 312deg,#9cd 0 87.08%,#eee 0 87.5%,#fe9 0 87.92%,#fc8 0 318deg,#fe9 0 89.58%,#fb6 0 90%,#f95 0 90.42%,#fe9 0 327deg,#ffc 0 91.25%,#bde 0 330deg,#46a 0 92.5%,#bde 0 92.92%,#cee 0 336deg,#8bd 0 93.75%,#bde 0 339deg,#cee 0 94.58%,#eee 0 95%,#bde 0 95.42%,#69c 0 345deg,#cee 0 96.25%,#eee 0 348deg,#ffc 0 97.08%,#eee 0 97.5%,#cee 0 97.92%,#ffc 0 354deg,#ffb 0 98.75%,#f95 0 357deg,#d43 0 99.58%,#e53 0)"></i>
<i style="inset:-47.3px;background:conic-gradient(#fc8 0 0.42%,#ffc 0 1.25%,#eee 0 6deg,#bde 0 2.08%,#cee 0 9deg,#69c 0 2.92%,#cee 0 12deg,#fc8 0 3.75%,#fb6 0 15deg,#fc8 0 4.58%,#ffc 0 5%,#bde 0 5.42%,#8bd 0 21deg,#69c 0 6.25%,#8bd 0 24deg,#9cd 0 7.08%,#69c 0 7.5%,#9cd 0 7.92%,#eee 0 8.75%,#9cd 0 33deg,#bde 0 9.58%,#ffb 0 10%,#fe9 0 39deg,#f95 0 11.25%,#fb6 0 42deg,#f95 0 12.08%,#e74 0 12.92%,#f95 0 48deg,#fb6 0 13.75%,#ffc 0 51deg,#bde 0 14.58%,#8bd 0 15%,#ffc 0 15.42%,#ffb 0 16.25%,#ffc 0 17.08%,#fb6 0 17.92%,#fe9 0 69deg,#ffb 0 19.58%,#fe9 0 20%,#ffb 0 20.42%,#ffc 0 21.25%,#eee 0 22.08%,#bde 0 22.92%,#ffc 0 84deg,#fe9 0 87deg,#fc8 0 24.58%,#ffc 0 25%,#cee 0 93deg,#ffc 0 26.25%,#eee 0 96deg,#8bd 0 27.08%,#bde 0 99deg,#eee 0 102deg,#fe9 0 105deg,#ffc 0 29.58%,#ffb 0 30%,#fc8 0 30.42%,#e53 0 111deg,#e74 0 114deg,#e53 0 32.08%,#fc8 0 32.5%,#f95 0 32.92%,#e53 0 33.75%,#fc8 0 123deg,#ffb 0 34.58%,#eee 0 35%,#ffc 0 129deg,#cee 0 36.25%,#fe9 0 132deg,#f95 0 37.08%,#d43 0 37.5%,#e53 0 37.92%,#fc8 0 138deg,#ffc 0 38.75%,#cee 0 40%,#eee 0 40.42%,#ffb 0 41.25%,#fe9 0 150deg,#f95 0 42.5%,#fb6 0 42.92%,#fe9 0 156deg,#eee 0 43.75%,#bde 0 44.58%,#ffc 0 45%,#ffb 0 45.42%,#fc8 0 46.25%,#ffb 0 168deg,#ffc 0 48.75%,#ffb 0 177deg,#fe9 0 49.58%,#fc8 0 50%,#ffc 0 50.42%,#8bd 0 183deg,#9cd 0 51.25%,#cee 0 186deg,#ffc 0 52.08%,#fc8 0 52.5%,#ffb 0 52.92%,#eee 0 192deg,#cee 0 53.75%,#ffc 0 195deg,#ffb 0 54.58%,#ffc 0 55%,#cee 0 55.42%,#ffb 0 204deg,#fc8 0 57.5%,#ffb 0 57.92%,#eee 0 58.75%,#ffc 0 213deg,#eee 0 59.58%,#cee 0 60%,#9cd 0 60.42%,#46a 0 219deg,#8bd 0 61.25%,#ffc 0 222deg,#eee 0 62.08%,#cee 0 62.92%,#69c 0 228deg,#9cd 0 63.75%,#eee 0 231deg,#fe9 0 64.58%,#fb6 0 65%,#e74 0 65.42%,#f95 0 237deg,#fc8 0 66.25%,#fb6 0 67.08%,#fc8 0 67.92%,#ffb 0 249deg,#fb6 0 69.58%,#d43 0 70.42%,#fc8 0 71.25%,#e74 0 258deg,#d43 0 72.08%,#e53 0 72.5%,#fb6 0 72.92%,#ffc 0 264deg,#eee 0 73.75%,#9cd 0 267deg,#69c 0 74.58%,#349 0 75.42%,#46a 0 273deg,#8bd 0 76.25%,#bde 0 276deg,#8bd 0 77.92%,#cee 0 282deg,#bde 0 78.75%,#cee 0 285deg,#ffc 0 79.58%,#fe9 0 80%,#fc8 0 80.42%,#ffb 0 291deg,#fe9 0 81.25%,#fc8 0 294deg,#e74 0 82.08%,#fb6 0 82.5%,#ffb 0 82.92%,#bde 0 300deg,#cee 0 83.75%,#eee 0 303deg,#cee 0 84.58%,#ffc 0 85%,#ffb 0 85.42%,#fb6 0 309deg,#fe9 0 86.25%,#cee 0 87.08%,#ffb 0 87.5%,#fc8 0 87.92%,#fb6 0 318deg,#fe9 0 89.58%,#fb6 0 90%,#f95 0 90.42%,#fe9 0 327deg,#ffc 0 91.25%,#cee 0 330deg,#58b 0 92.08%,#46a 0 92.5%,#cee 0 92.92%,#eee 0 336deg,#9cd 0 93.75%,#cee 0 94.58%,#eee 0 95%,#cee 0 95.42%,#69c 0 345deg,#bde 0 96.25%,#cee 0 348deg,#eee 0 97.08%,#cee 0 97.5%,#bde 0 97.92%,#ffc 0 354deg,#ffb 0 98.75%,#e74 0 357deg,#c22 0 99.58%,#e53 0)"></i>
<i style="inset:-45.7px;background:conic-gradient(#fc8 0 0.42%,#ffc 0 3deg,#ffb 0 1.25%,#ffc 0 6deg,#cee 0 9deg,#8bd 0 2.92%,#cee 0 12deg,#fe9 0 15deg,#ffc 0 4.58%,#eee 0 5%,#9cd 0 5.42%,#8bd 0 21deg,#69c 0 24deg,#8bd 0 7.08%,#69c 0 7.5%,#9cd 0 7.92%,#ffc 0 8.75%,#8bd 0 33deg,#bde 0 9.58%,#ffb 0 10%,#fc8 0 39deg,#e74 0 11.25%,#fb6 0 42deg,#f95 0 48deg,#fb6 0 13.75%,#ffc 0 51deg,#bde 0 14.58%,#9cd 0 15%,#ffb 0 15.42%,#fe9 0 57deg,#ffb 0 17.08%,#fc8 0 63deg,#fe9 0 17.92%,#ffc 0 66deg,#ffb 0 69deg,#ffc 0 19.58%,#ffb 0 20%,#ffc 0 75deg,#eee 0 21.25%,#cee 0 78deg,#eee 0 22.08%,#bde 0 22.92%,#ffc 0 84deg,#fe9 0 24.58%,#eee 0 25%,#cee 0 25.42%,#eee 0 93deg,#ffc 0 26.25%,#cee 0 96deg,#8bd 0 27.08%,#bde 0 99deg,#cee 0 102deg,#fe9 0 28.75%,#fc8 0 105deg,#ffc 0 29.58%,#ffb 0 30%,#fe9 0 30.42%,#e74 0 111deg,#f95 0 31.25%,#e74 0 114deg,#e53 0 32.08%,#fc8 0 32.5%,#e74 0 32.92%,#e53 0 33.75%,#fb6 0 123deg,#fe9 0 34.58%,#eee 0 35%,#cee 0 36.25%,#fe9 0 132deg,#fb6 0 37.08%,#e53 0 37.92%,#fc8 0 138deg,#ffb 0 38.75%,#ffc 0 141deg,#cee 0 40%,#eee 0 40.42%,#ffc 0 147deg,#ffb 0 41.25%,#fc8 0 150deg,#f95 0 42.08%,#e74 0 42.5%,#fb6 0 42.92%,#fc8 0 156deg,#ffc 0 43.75%,#cee 0 159deg,#bde 0 44.58%,#eee 0 45%,#fe9 0 45.42%,#fc8 0 46.25%,#ffb 0 168deg,#eee 0 47.5%,#ffc 0 47.92%,#ffb 0 49.58%,#fc8 0 50%,#ffb 0 50.42%,#9cd 0 183deg,#bde 0 51.25%,#eee 0 186deg,#ffb 0 52.08%,#fb6 0 52.5%,#ffb 0 52.92%,#eee 0 192deg,#cee 0 53.75%,#ffc 0 54.58%,#eee 0 55%,#cee 0 55.42%,#ffb 0 201deg,#fe9 0 56.25%,#ffb 0 204deg,#fc8 0 57.5%,#ffb 0 57.92%,#ffc 0 213deg,#eee 0 60%,#9cd 0 60.42%,#46a 0 219deg,#8bd 0 61.25%,#ffc 0 222deg,#eee 0 62.08%,#cee 0 62.5%,#bde 0 62.92%,#58b 0 228deg,#8bd 0 63.75%,#cee 0 231deg,#ffb 0 64.58%,#fb6 0 65%,#e74 0 65.42%,#f95 0 237deg,#fe9 0 66.25%,#fb6 0 67.08%,#fc8 0 67.92%,#ffb 0 249deg,#fb6 0 69.58%,#d43 0 70.42%,#fc8 0 255deg,#fb6 0 71.25%,#e74 0 258deg,#d43 0 72.08%,#e53 0 72.5%,#fb6 0 72.92%,#ffb 0 264deg,#cee 0 73.75%,#9cd 0 267deg,#8bd 0 74.58%,#349 0 75.42%,#46a 0 273deg,#9cd 0 76.25%,#bde 0 276deg,#8bd 0 77.92%,#eee 0 282deg,#bde 0 78.75%,#cee 0 285deg,#ffb 0 79.58%,#fe9 0 80.42%,#ffb 0 291deg,#fe9 0 81.25%,#fc8 0 294deg,#e74 0 82.08%,#f95 0 82.5%,#fe9 0 82.92%,#cee 0 300deg,#bde 0 83.75%,#cee 0 84.58%,#ffc 0 85%,#ffb 0 85.42%,#f95 0 309deg,#fe9 0 86.25%,#cee 0 87.08%,#ffb 0 87.5%,#fc8 0 87.92%,#fb6 0 318deg,#fe9 0 89.58%,#fc8 0 90%,#fb6 0 90.42%,#fe9 0 327deg,#ffc 0 91.25%,#bde 0 330deg,#58b 0 92.08%,#46a 0 92.5%,#cee 0 92.92%,#eee 0 336deg,#bde 0 93.75%,#cee 0 339deg,#eee 0 95%,#cee 0 95.42%,#8bd 0 345deg,#bde 0 96.25%,#cee 0 348deg,#ffc 0 97.08%,#cee 0 97.5%,#bde 0 97.92%,#ffc 0 354deg,#ffb 0 98.75%,#e74 0 357deg,#d43 0 99.58%,#e53 0)"></i>
<i style="inset:-44.1px;background:conic-gradient(#fc8 0 0.42%,#ffc 0 3deg,#ffb 0 1.25%,#ffc 0 6deg,#cee 0 9deg,#9cd 0 2.92%,#eee 0 12deg,#fe9 0 3.75%,#ffb 0 15deg,#ffc 0 5%,#cee 0 5.42%,#8bd 0 21deg,#69c 0 7.08%,#58b 0 7.5%,#bde 0 7.92%,#ffc 0 30deg,#eee 0 8.75%,#8bd 0 33deg,#bde 0 9.58%,#fe9 0 10%,#fc8 0 39deg,#e74 0 11.25%,#f95 0 12.92%,#fb6 0 48deg,#fc8 0 13.75%,#cee 0 51deg,#9cd 0 15%,#fe9 0 15.42%,#fc8 0 57deg,#ffb 0 17.08%,#fe9 0 63deg,#ffc 0 17.92%,#eee 0 66deg,#ffb 0 69deg,#ffc 0 19.58%,#ffb 0 20%,#ffc 0 20.42%,#ffb 0 75deg,#ffc 0 21.25%,#cee 0 78deg,#eee 0 22.08%,#bde 0 22.92%,#eee 0 84deg,#fe9 0 23.75%,#ffb 0 24.58%,#eee 0 25%,#cee 0 25.42%,#eee 0 93deg,#ffc 0 26.25%,#cee 0 96deg,#8bd 0 27.08%,#9cd 0 99deg,#bde 0 27.92%,#cee 0 102deg,#fe9 0 28.75%,#fc8 0 105deg,#ffc 0 29.58%,#ffb 0 30%,#fc8 0 30.42%,#e53 0 111deg,#f95 0 31.25%,#e74 0 114deg,#e53 0 32.08%,#fc8 0 32.5%,#e74 0 120deg,#e53 0 33.75%,#f95 0 123deg,#fc8 0 34.58%,#eee 0 35%,#cee 0 129deg,#bde 0 36.25%,#fe9 0 132deg,#fc8 0 37.08%,#e74 0 37.5%,#f95 0 37.92%,#fc8 0 138deg,#ffb 0 141deg,#eee 0 39.58%,#cee 0 40%,#eee 0 40.42%,#ffc 0 41.25%,#fe9 0 150deg,#fb6 0 42.08%,#f95 0 42.5%,#fb6 0 156deg,#ffb 0 43.75%,#eee 0 159deg,#cee 0 44.58%,#eee 0 45%,#fe9 0 45.42%,#fc8 0 46.25%,#fe9 0 168deg,#ffc 0 47.08%,#eee 0 47.5%,#ffc 0 48.75%,#ffb 0 49.58%,#fe9 0 50.42%,#cee 0 51.25%,#eee 0 186deg,#ffb 0 52.08%,#fb6 0 52.5%,#ffb 0 52.92%,#eee 0 192deg,#cee 0 53.75%,#ffc 0 195deg,#eee 0 55%,#bde 0 55.42%,#ffb 0 201deg,#fc8 0 56.25%,#fe9 0 57.08%,#fc8 0 57.5%,#fe9 0 57.92%,#ffc 0 58.75%,#eee 0 213deg,#cee 0 59.58%,#eee 0 60%,#9cd 0 60.42%,#58b 0 219deg,#8bd 0 61.25%,#ffc 0 222deg,#eee 0 62.08%,#bde 0 62.92%,#69c 0 63.75%,#bde 0 231deg,#ffb 0 64.58%,#fb6 0 65%,#e53 0 65.42%,#e74 0 237deg,#fc8 0 66.25%,#fb6 0 67.08%,#fc8 0 67.92%,#ffb 0 68.75%,#ffc 0 249deg,#fc8 0 69.58%,#e53 0 70%,#e74 0 70.42%,#fe9 0 255deg,#fb6 0 71.25%,#e53 0 258deg,#d43 0 72.08%,#e74 0 72.5%,#fb6 0 72.92%,#ffb 0 264deg,#cee 0 73.75%,#9cd 0 74.58%,#46a 0 75%,#349 0 75.42%,#58b 0 273deg,#9cd 0 76.25%,#cee 0 276deg,#8bd 0 77.5%,#69c 0 77.92%,#cee 0 282deg,#bde 0 78.75%,#cee 0 285deg,#ffb 0 80%,#fe9 0 80.42%,#ffb 0 81.25%,#fc8 0 294deg,#e74 0 82.08%,#f95 0 82.5%,#fe9 0 82.92%,#cee 0 300deg,#bde 0 83.75%,#cee 0 303deg,#eee 0 84.58%,#ffc 0 85%,#fe9 0 85.42%,#f95 0 309deg,#ffb 0 86.25%,#cee 0 87.08%,#ffb 0 87.5%,#fe9 0 87.92%,#fb6 0 318deg,#fe9 0 88.75%,#fc8 0 89.58%,#fe9 0 90%,#fb6 0 90.42%,#fc8 0 327deg,#ffc 0 91.25%,#9cd 0 330deg,#46a 0 92.5%,#bde 0 92.92%,#eee 0 336deg,#bde 0 93.75%,#eee 0 95%,#cee 0 95.42%,#8bd 0 345deg,#bde 0 96.25%,#cee 0 348deg,#ffc 0 97.08%,#cee 0 97.5%,#bde 0 97.92%,#ffc 0 354deg,#ffb 0 98.75%,#f95 0 357deg,#e53 0 99.58%,#e74 0)"></i>
<i style="inset:-42.5px;background:conic-gradient(#fc8 0 0.42%,#ffc 0 6deg,#cee 0 9deg,#9cd 0 2.92%,#ffc 0 12deg,#fe9 0 3.75%,#ffb 0 15deg,#ffc 0 4.58%,#ffb 0 5%,#eee 0 5.42%,#9cd 0 21deg,#8bd 0 6.25%,#9cd 0 24deg,#69c 0 7.5%,#bde 0 7.92%,#eee 0 30deg,#cee 0 8.75%,#69c 0 33deg,#bde 0 9.58%,#fe9 0 10.42%,#fb6 0 39deg,#e74 0 11.25%,#f95 0 12.92%,#fe9 0 48deg,#ffb 0 13.75%,#bde 0 51deg,#8bd 0 14.58%,#9cd 0 15%,#fe9 0 57deg,#ffb 0 16.25%,#fe9 0 60deg,#ffc 0 63deg,#eee 0 17.92%,#ffc 0 66deg,#ffb 0 69deg,#eee 0 19.58%,#ffc 0 20%,#ffb 0 20.42%,#fe9 0 75deg,#ffc 0 21.25%,#cee 0 78deg,#ffc 0 22.08%,#cee 0 81deg,#9cd 0 22.92%,#cee 0 84deg,#ffb 0 23.75%,#fe9 0 87deg,#ffc 0 24.58%,#cee 0 25%,#bde 0 25.42%,#cee 0 93deg,#ffc 0 26.25%,#cee 0 96deg,#8bd 0 27.08%,#9cd 0 99deg,#bde 0 102deg,#fe9 0 28.75%,#fc8 0 105deg,#ffc 0 29.58%,#ffb 0 30%,#fc8 0 30.42%,#e53 0 111deg,#e74 0 31.25%,#e53 0 32.08%,#fb6 0 32.5%,#e74 0 120deg,#e53 0 33.75%,#f95 0 123deg,#fc8 0 34.58%,#eee 0 35%,#cee 0 129deg,#bde 0 36.25%,#fe9 0 132deg,#fc8 0 37.08%,#e74 0 37.5%,#f95 0 37.92%,#fc8 0 138deg,#ffc 0 39.58%,#eee 0 40.42%,#ffc 0 41.25%,#ffb 0 150deg,#fc8 0 42.08%,#fb6 0 42.5%,#fc8 0 156deg,#ffb 0 43.75%,#ffc 0 159deg,#eee 0 45%,#fe9 0 45.42%,#fc8 0 168deg,#ffc 0 47.08%,#eee 0 48.75%,#ffb 0 49.58%,#fe9 0 50.42%,#eee 0 183deg,#cee 0 51.25%,#eee 0 186deg,#ffb 0 52.08%,#fb6 0 52.5%,#fe9 0 52.92%,#cee 0 53.75%,#ffc 0 55%,#bde 0 55.42%,#ffc 0 201deg,#fc8 0 56.25%,#fe9 0 204deg,#ffb 0 57.08%,#fe9 0 57.5%,#ffb 0 57.92%,#ffc 0 58.75%,#cee 0 213deg,#bde 0 59.58%,#eee 0 60%,#bde 0 60.42%,#58b 0 219deg,#8bd 0 61.25%,#eee 0 62.08%,#bde 0 62.92%,#69c 0 63.75%,#9cd 0 231deg,#ffb 0 64.58%,#fb6 0 65%,#e53 0 65.42%,#e74 0 237deg,#fc8 0 66.25%,#f95 0 67.08%,#fb6 0 67.5%,#fc8 0 67.92%,#ffb 0 246deg,#ffc 0 68.75%,#ffb 0 249deg,#fc8 0 69.58%,#f95 0 70.42%,#ffb 0 255deg,#fb6 0 71.25%,#d43 0 72.08%,#e74 0 72.5%,#fb6 0 72.92%,#ffb 0 264deg,#bde 0 73.75%,#9cd 0 74.58%,#46a 0 75.42%,#69c 0 273deg,#bde 0 76.25%,#cee 0 276deg,#69c 0 77.08%,#8bd 0 77.5%,#69c 0 77.92%,#cee 0 282deg,#bde 0 285deg,#ffc 0 79.58%,#ffb 0 80%,#fe9 0 80.42%,#ffb 0 291deg,#ffc 0 81.25%,#fe9 0 294deg,#f95 0 82.5%,#fe9 0 82.92%,#bde 0 300deg,#9cd 0 83.75%,#cee 0 303deg,#ffc 0 84.58%,#ffb 0 85%,#fe9 0 85.42%,#fb6 0 309deg,#ffb 0 86.25%,#bde 0 87.08%,#ffc 0 87.5%,#fe9 0 87.92%,#fb6 0 318deg,#fc8 0 90%,#f95 0 90.42%,#fb6 0 327deg,#ffb 0 91.25%,#9cd 0 330deg,#349 0 92.5%,#8bd 0 92.92%,#bde 0 93.75%,#cee 0 339deg,#eee 0 95%,#bde 0 95.42%,#69c 0 345deg,#9cd 0 96.25%,#bde 0 348deg,#eee 0 97.08%,#bde 0 97.5%,#9cd 0 97.92%,#eee 0 354deg,#fe9 0 98.75%,#e74 0 357deg,#d43 0 99.58%,#e74 0)"></i>
<i style="inset:-40.9px;background:conic-gradient(#fe9 0 0.42%,#eee 0 6deg,#bde 0 2.92%,#ffc 0 12deg,#fe9 0 3.75%,#ffb 0 15deg,#ffc 0 4.58%,#ffb 0 5%,#ffc 0 5.42%,#9cd 0 24deg,#8bd 0 7.5%,#cee 0 7.92%,#eee 0 30deg,#cee 0 8.75%,#69c 0 33deg,#cee 0 9.58%,#fe9 0 10.42%,#fb6 0 39deg,#e74 0 11.25%,#f95 0 42deg,#fb6 0 12.92%,#fe9 0 48deg,#ffb 0 13.75%,#bde 0 51deg,#8bd 0 15%,#ffb 0 15.42%,#fc8 0 57deg,#fe9 0 60deg,#eee 0 63deg,#cee 0 17.92%,#ffc 0 66deg,#fe9 0 18.75%,#ffb 0 69deg,#cee 0 19.58%,#ffc 0 20.42%,#ffb 0 75deg,#ffc 0 21.25%,#eee 0 78deg,#ffb 0 22.08%,#cee 0 81deg,#9cd 0 22.92%,#cee 0 84deg,#ffb 0 23.75%,#fe9 0 87deg,#ffc 0 24.58%,#bde 0 25.42%,#cee 0 93deg,#ffc 0 26.25%,#cee 0 96deg,#8bd 0 27.08%,#9cd 0 99deg,#bde 0 102deg,#fe9 0 28.75%,#fc8 0 105deg,#ffc 0 29.58%,#ffb 0 30%,#fc8 0 30.42%,#c22 0 111deg,#e53 0 32.08%,#fb6 0 32.5%,#e53 0 32.92%,#e74 0 33.75%,#f95 0 123deg,#fe9 0 34.58%,#cee 0 36.25%,#fc8 0 132deg,#fb6 0 37.08%,#e74 0 37.5%,#f95 0 37.92%,#fc8 0 138deg,#ffb 0 38.75%,#ffc 0 39.58%,#eee 0 41.25%,#ffb 0 150deg,#fe9 0 42.08%,#fc8 0 42.5%,#fe9 0 156deg,#ffb 0 159deg,#ffc 0 44.58%,#eee 0 45%,#fe9 0 45.42%,#fc8 0 165deg,#fe9 0 168deg,#eee 0 47.08%,#cee 0 47.5%,#eee 0 174deg,#ffc 0 48.75%,#ffb 0 177deg,#fe9 0 49.58%,#ffb 0 50%,#fe9 0 50.42%,#eee 0 183deg,#cee 0 51.25%,#ffc 0 186deg,#fe9 0 52.08%,#e74 0 52.5%,#fc8 0 52.92%,#bde 0 53.75%,#eee 0 54.58%,#ffc 0 55%,#cee 0 55.42%,#eee 0 201deg,#ffb 0 56.25%,#fe9 0 204deg,#ffc 0 57.08%,#ffb 0 57.92%,#ffc 0 58.75%,#eee 0 213deg,#cee 0 59.58%,#eee 0 60%,#cee 0 60.42%,#8bd 0 219deg,#9cd 0 61.25%,#eee 0 222deg,#ffc 0 62.08%,#eee 0 62.5%,#bde 0 62.92%,#8bd 0 228deg,#69c 0 63.75%,#9cd 0 231deg,#ffb 0 64.58%,#f95 0 65%,#e53 0 237deg,#fc8 0 66.25%,#f95 0 67.08%,#fb6 0 67.5%,#fe9 0 67.92%,#ffc 0 68.75%,#ffb 0 249deg,#fc8 0 69.58%,#f95 0 70%,#fb6 0 70.42%,#ffb 0 255deg,#fb6 0 71.25%,#d43 0 258deg,#c22 0 72.08%,#e74 0 72.5%,#f95 0 72.92%,#fe9 0 264deg,#bde 0 73.75%,#9cd 0 74.58%,#58b 0 75.42%,#8bd 0 273deg,#bde 0 76.25%,#cee 0 276deg,#8bd 0 77.5%,#69c 0 77.92%,#eee 0 282deg,#bde 0 78.75%,#9cd 0 285deg,#ffc 0 79.58%,#ffb 0 80%,#fe9 0 80.42%,#ffb 0 291deg,#ffc 0 81.25%,#fe9 0 294deg,#e74 0 82.08%,#f95 0 82.5%,#fe9 0 82.92%,#bde 0 300deg,#9cd 0 83.75%,#cee 0 303deg,#ffc 0 84.58%,#fe9 0 85%,#fc8 0 85.42%,#fb6 0 309deg,#fe9 0 86.25%,#bde 0 87.08%,#ffc 0 87.5%,#ffb 0 87.92%,#fb6 0 318deg,#fc8 0 88.75%,#fe9 0 89.58%,#fc8 0 90%,#fb6 0 90.42%,#fc8 0 327deg,#ffb 0 91.25%,#9cd 0 330deg,#349 0 92.5%,#69c 0 92.92%,#9cd 0 93.75%,#bde 0 339deg,#cee 0 94.58%,#bde 0 95%,#9cd 0 95.42%,#58b 0 345deg,#8bd 0 96.25%,#9cd 0 348deg,#cee 0 97.08%,#9cd 0 97.5%,#8bd 0 97.92%,#cee 0 354deg,#fe9 0 98.75%,#e74 0 357deg,#d43 0 99.58%,#f95 0)"></i>
<i style="inset:-39.3px;background:conic-gradient(#fe9 0 0.42%,#ffb 0 3deg,#ffc 0 6deg,#cee 0 2.08%,#bde 0 9deg,#cee 0 2.92%,#ffb 0 12deg,#fe9 0 3.75%,#ffb 0 15deg,#ffc 0 4.58%,#ffb 0 5%,#ffc 0 5.42%,#9cd 0 24deg,#8bd 0 7.08%,#9cd 0 7.5%,#eee 0 30deg,#cee 0 8.75%,#8bd 0 33deg,#eee 0 9.58%,#fe9 0 10.42%,#fb6 0 39deg,#f95 0 11.25%,#fc8 0 12.08%,#f95 0 12.92%,#fc8 0 48deg,#ffb 0 13.75%,#eee 0 51deg,#8bd 0 15%,#ffc 0 15.42%,#fc8 0 16.25%,#fe9 0 60deg,#eee 0 17.92%,#fe9 0 66deg,#fc8 0 18.75%,#fe9 0 69deg,#eee 0 19.58%,#ffb 0 75deg,#ffc 0 21.25%,#eee 0 78deg,#ffb 0 22.08%,#ffc 0 81deg,#bde 0 84deg,#ffb 0 23.75%,#fe9 0 87deg,#ffc 0 24.58%,#cee 0 25%,#bde 0 25.42%,#cee 0 93deg,#eee 0 26.25%,#cee 0 96deg,#9cd 0 99deg,#cee 0 102deg,#fe9 0 105deg,#eee 0 29.58%,#ffc 0 30%,#fb6 0 30.42%,#a12 0 111deg,#e53 0 114deg,#e74 0 32.08%,#fb6 0 32.5%,#e74 0 32.92%,#f95 0 33.75%,#fc8 0 123deg,#ffb 0 34.58%,#eee 0 35.42%,#ffc 0 129deg,#eee 0 36.25%,#fc8 0 37.08%,#e74 0 37.5%,#f95 0 37.92%,#fc8 0 138deg,#ffb 0 38.75%,#ffc 0 141deg,#ffb 0 39.58%,#ffc 0 40%,#eee 0 40.42%,#cee 0 147deg,#eee 0 41.25%,#ffb 0 150deg,#fe9 0 42.08%,#fc8 0 42.5%,#fe9 0 42.92%,#ffc 0 43.75%,#ffb 0 159deg,#ffc 0 44.58%,#eee 0 45%,#fe9 0 45.42%,#fc8 0 165deg,#fe9 0 168deg,#ffc 0 47.08%,#eee 0 48.75%,#ffc 0 177deg,#ffb 0 50.42%,#cee 0 51.25%,#ffc 0 186deg,#fe9 0 52.08%,#e74 0 52.5%,#fe9 0 52.92%,#bde 0 53.75%,#cee 0 54.58%,#ffc 0 55%,#bde 0 55.42%,#cee 0 201deg,#ffc 0 56.25%,#ffb 0 204deg,#ffc 0 57.08%,#ffb 0 57.5%,#ffc 0 57.92%,#eee 0 210deg,#ffc 0 213deg,#eee 0 59.58%,#ffc 0 60%,#eee 0 60.42%,#9cd 0 219deg,#bde 0 61.25%,#ffc 0 222deg,#ffb 0 62.08%,#eee 0 62.5%,#9cd 0 62.92%,#8bd 0 228deg,#69c 0 63.75%,#9cd 0 231deg,#ffb 0 64.58%,#f95 0 65%,#e53 0 237deg,#fc8 0 66.25%,#fb6 0 67.08%,#fc8 0 67.5%,#fe9 0 67.92%,#ffc 0 246deg,#eee 0 68.75%,#ffb 0 249deg,#fc8 0 69.58%,#fb6 0 70%,#fc8 0 70.42%,#eee 0 255deg,#fc8 0 71.25%,#e53 0 258deg,#d43 0 72.08%,#e74 0 72.5%,#f95 0 72.92%,#fe9 0 264deg,#9cd 0 74.58%,#69c 0 75.42%,#bde 0 273deg,#cee 0 76.25%,#eee 0 276deg,#9cd 0 77.5%,#8bd 0 77.92%,#cee 0 282deg,#bde 0 285deg,#ffc 0 79.58%,#ffb 0 80%,#fe9 0 80.42%,#ffb 0 291deg,#ffc 0 81.25%,#fe9 0 294deg,#e74 0 82.08%,#f95 0 82.5%,#ffb 0 82.92%,#bde 0 300deg,#9cd 0 83.75%,#cee 0 303deg,#ffc 0 84.58%,#fe9 0 85%,#fc8 0 85.42%,#f95 0 309deg,#fc8 0 86.25%,#cee 0 312deg,#bde 0 87.08%,#ffc 0 87.5%,#ffb 0 87.92%,#fb6 0 318deg,#fc8 0 88.75%,#ffb 0 321deg,#fe9 0 327deg,#ffb 0 91.25%,#bde 0 330deg,#58b 0 92.5%,#8bd 0 92.92%,#9cd 0 339deg,#bde 0 95%,#8bd 0 95.42%,#69c 0 345deg,#8bd 0 96.25%,#9cd 0 348deg,#cee 0 97.08%,#9cd 0 97.5%,#8bd 0 97.92%,#cee 0 354deg,#fe9 0 98.75%,#f95 0 357deg,#e74 0 99.58%,#fc8 0)"></i>
<i style="inset:-37.7px;background:conic-gradient(#fc8 0 0.42%,#fb6 0 3deg,#ffb 0 1.25%,#ffc 0 6deg,#cee 0 2.08%,#bde 0 9deg,#eee 0 2.92%,#fe9 0 3.75%,#ffb 0 4.58%,#fe9 0 5%,#ffb 0 5.42%,#9cd 0 24deg,#bde 0 7.08%,#cee 0 7.5%,#ffc 0 30deg,#eee 0 8.75%,#cee 0 33deg,#ffb 0 9.58%,#fe9 0 10.42%,#fc8 0 39deg,#fb6 0 11.25%,#fe9 0 42deg,#fc8 0 12.08%,#f95 0 45deg,#e74 0 12.92%,#fc8 0 48deg,#fe9 0 13.75%,#ffc 0 51deg,#bde 0 14.58%,#9cd 0 15%,#ffc 0 15.42%,#fe9 0 57deg,#fc8 0 60deg,#ffc 0 63deg,#ffb 0 17.92%,#fc8 0 66deg,#fb6 0 18.75%,#fc8 0 69deg,#ffc 0 19.58%,#ffb 0 20%,#fe9 0 20.42%,#fc8 0 75deg,#ffb 0 21.25%,#eee 0 78deg,#ffb 0 22.08%,#ffc 0 81deg,#cee 0 84deg,#ffc 0 87deg,#eee 0 24.58%,#bde 0 25%,#cee 0 93deg,#eee 0 96deg,#9cd 0 99deg,#cee 0 27.92%,#eee 0 102deg,#fe9 0 105deg,#ffc 0 30%,#fb6 0 30.42%,#c22 0 111deg,#e53 0 31.25%,#e74 0 114deg,#fb6 0 32.08%,#fe9 0 32.5%,#f95 0 120deg,#fb6 0 33.75%,#ffb 0 123deg,#eee 0 35%,#ffc 0 35.42%,#ffb 0 129deg,#ffc 0 36.25%,#fe9 0 37.08%,#f95 0 37.5%,#fb6 0 37.92%,#fe9 0 138deg,#ffc 0 141deg,#ffb 0 39.58%,#ffc 0 40%,#eee 0 147deg,#cee 0 150deg,#ffc 0 42.08%,#fc8 0 42.5%,#fe9 0 42.92%,#ffc 0 45%,#fc8 0 45.42%,#fb6 0 165deg,#fe9 0 168deg,#ffb 0 47.08%,#eee 0 47.92%,#cee 0 48.75%,#ffc 0 177deg,#ffb 0 49.58%,#fe9 0 50%,#ffb 0 50.42%,#eee 0 183deg,#cee 0 51.25%,#eee 0 186deg,#ffb 0 52.08%,#fb6 0 52.5%,#ffb 0 52.92%,#bde 0 192deg,#cee 0 53.75%,#eee 0 195deg,#bde 0 54.58%,#cee 0 55%,#9cd 0 201deg,#cee 0 56.25%,#ffc 0 204deg,#ffb 0 57.5%,#ffc 0 58.75%,#ffb 0 213deg,#ffc 0 59.58%,#ffb 0 60%,#eee 0 60.42%,#bde 0 219deg,#eee 0 61.25%,#ffb 0 222deg,#ffc 0 62.08%,#cee 0 62.5%,#9cd 0 63.75%,#cee 0 231deg,#fe9 0 64.58%,#fb6 0 65%,#e74 0 237deg,#fc8 0 66.25%,#fe9 0 240deg,#fb6 0 67.08%,#fc8 0 67.5%,#fe9 0 67.92%,#ffc 0 68.75%,#ffb 0 249deg,#fe9 0 70%,#ffc 0 70.42%,#bde 0 255deg,#ffb 0 71.25%,#f95 0 258deg,#e74 0 72.08%,#fb6 0 72.92%,#ffc 0 264deg,#9cd 0 267deg,#bde 0 74.58%,#8bd 0 75.42%,#bde 0 273deg,#cee 0 76.25%,#ffc 0 276deg,#cee 0 77.5%,#9cd 0 77.92%,#bde 0 285deg,#ffc 0 79.58%,#fe9 0 291deg,#ffb 0 81.25%,#fc8 0 294deg,#f95 0 82.08%,#fc8 0 82.5%,#ffb 0 82.92%,#bde 0 300deg,#9cd 0 83.75%,#cee 0 303deg,#ffc 0 85%,#ffb 0 85.42%,#fc8 0 86.25%,#eee 0 312deg,#cee 0 87.08%,#ffc 0 87.5%,#ffb 0 87.92%,#fb6 0 318deg,#fc8 0 88.75%,#ffb 0 321deg,#fe9 0 89.58%,#ffb 0 90%,#fe9 0 90.42%,#fc8 0 327deg,#fe9 0 91.25%,#cee 0 330deg,#69c 0 92.08%,#8bd 0 92.5%,#9cd 0 92.92%,#bde 0 336deg,#8bd 0 93.75%,#9cd 0 339deg,#cee 0 95%,#bde 0 95.42%,#9cd 0 348deg,#cee 0 97.92%,#eee 0 354deg,#fc8 0 98.75%,#f95 0 99.58%,#fe9 0)"></i>
<i style="inset:-36.1px;background:conic-gradient(#f95 0 0.42%,#e74 0 3deg,#fc8 0 1.25%,#eee 0 6deg,#bde 0 2.08%,#9cd 0 9deg,#eee 0 2.92%,#ffb 0 12deg,#fe9 0 3.75%,#ffb 0 15deg,#fe9 0 4.58%,#fc8 0 5%,#ffc 0 5.42%,#9cd 0 21deg,#8bd 0 6.25%,#69c 0 24deg,#9cd 0 7.08%,#eee 0 7.5%,#ffc 0 7.92%,#ffb 0 30deg,#ffc 0 33deg,#fc8 0 9.58%,#fb6 0 10%,#fc8 0 10.42%,#fe9 0 42deg,#fc8 0 12.08%,#f95 0 12.92%,#fc8 0 48deg,#ffb 0 13.75%,#fe9 0 51deg,#ffc 0 14.58%,#bde 0 15%,#ffc 0 15.42%,#ffb 0 57deg,#fe9 0 16.25%,#fb6 0 60deg,#ffb 0 63deg,#fc8 0 17.92%,#fb6 0 69deg,#ffb 0 20%,#fe9 0 20.42%,#fc8 0 75deg,#ffc 0 21.25%,#eee 0 78deg,#ffc 0 81deg,#cee 0 22.92%,#ffc 0 84deg,#ffb 0 23.75%,#ffc 0 87deg,#eee 0 24.58%,#cee 0 25%,#bde 0 93deg,#cee 0 96deg,#bde 0 27.08%,#cee 0 27.92%,#ffc 0 102deg,#fe9 0 105deg,#ffb 0 30%,#fc8 0 30.42%,#e53 0 111deg,#e74 0 31.25%,#f95 0 114deg,#fc8 0 32.08%,#ffb 0 32.5%,#fb6 0 120deg,#fe9 0 33.75%,#eee 0 123deg,#cee 0 35%,#eee 0 35.42%,#ffb 0 129deg,#fe9 0 132deg,#fc8 0 37.08%,#fb6 0 37.5%,#fc8 0 37.92%,#ffc 0 138deg,#cee 0 141deg,#ffb 0 39.58%,#ffc 0 40%,#eee 0 147deg,#cee 0 41.25%,#bde 0 150deg,#eee 0 42.08%,#fe9 0 42.92%,#ffb 0 43.75%,#fe9 0 159deg,#fc8 0 45%,#fb6 0 165deg,#fe9 0 168deg,#ffc 0 47.08%,#eee 0 47.5%,#bde 0 48.75%,#ffc 0 177deg,#fe9 0 49.58%,#fc8 0 50%,#fe9 0 50.42%,#ffc 0 183deg,#eee 0 51.25%,#cee 0 186deg,#ffc 0 52.08%,#fc8 0 52.5%,#ffc 0 52.92%,#bde 0 192deg,#cee 0 195deg,#9cd 0 54.58%,#cee 0 55%,#9cd 0 55.42%,#8bd 0 201deg,#bde 0 56.25%,#ffc 0 204deg,#fe9 0 57.08%,#fb6 0 57.5%,#fe9 0 57.92%,#ffb 0 58.75%,#fe9 0 60%,#ffc 0 60.42%,#bde 0 219deg,#eee 0 61.25%,#ffc 0 222deg,#eee 0 62.08%,#bde 0 62.5%,#9cd 0 228deg,#bde 0 63.75%,#ffc 0 231deg,#fe9 0 64.58%,#fb6 0 65%,#e74 0 65.42%,#f95 0 237deg,#fc8 0 66.25%,#fe9 0 240deg,#fc8 0 67.5%,#fe9 0 67.92%,#ffb 0 69.58%,#ffc 0 70%,#cee 0 70.42%,#9cd 0 255deg,#ffc 0 71.25%,#fb6 0 72.92%,#ffc 0 264deg,#cee 0 267deg,#bde 0 74.58%,#9cd 0 75.42%,#cee 0 76.25%,#eee 0 276deg,#cee 0 77.08%,#eee 0 77.5%,#9cd 0 78.75%,#bde 0 285deg,#ffb 0 79.58%,#fc8 0 80%,#fe9 0 80.42%,#ffb 0 81.25%,#fc8 0 294deg,#f95 0 82.08%,#fc8 0 82.5%,#ffb 0 82.92%,#cee 0 300deg,#bde 0 83.75%,#cee 0 303deg,#eee 0 85.42%,#ffb 0 309deg,#fc8 0 86.25%,#ffc 0 312deg,#eee 0 87.08%,#ffb 0 87.92%,#fc8 0 88.75%,#ffc 0 321deg,#ffb 0 89.58%,#fe9 0 90%,#fc8 0 90.42%,#fb6 0 327deg,#fe9 0 91.25%,#cee 0 330deg,#8bd 0 92.08%,#9cd 0 92.5%,#cee 0 92.92%,#bde 0 336deg,#8bd 0 93.75%,#bde 0 339deg,#ffc 0 95%,#cee 0 95.42%,#bde 0 345deg,#9cd 0 348deg,#cee 0 97.08%,#ffc 0 97.5%,#ffb 0 354deg,#fb6 0 98.75%,#e53 0 357deg,#e74 0 99.58%,#fc8 0)"></i>
<i style="inset:-34.5px;background:conic-gradient(#f95 0 0.42%,#e74 0 3deg,#fb6 0 1.25%,#eee 0 6deg,#9cd 0 2.08%,#bde 0 9deg,#eee 0 2.92%,#ffc 0 3.75%,#ffb 0 15deg,#fe9 0 5%,#eee 0 5.42%,#8bd 0 21deg,#58b 0 6.25%,#349 0 24deg,#8bd 0 7.08%,#ffc 0 7.5%,#fb6 0 30deg,#ffb 0 8.75%,#ffc 0 33deg,#fc8 0 9.58%,#e53 0 10%,#fb6 0 10.42%,#ffc 0 11.25%,#fe9 0 42deg,#fc8 0 45deg,#fb6 0 12.92%,#fe9 0 48deg,#ffb 0 13.75%,#fc8 0 51deg,#ffb 0 14.58%,#bde 0 15%,#eee 0 15.42%,#ffc 0 16.25%,#fb6 0 60deg,#fc8 0 63deg,#f95 0 66deg,#fb6 0 69deg,#fe9 0 19.58%,#eee 0 20.42%,#ffc 0 21.25%,#eee 0 81deg,#cee 0 22.92%,#ffb 0 84deg,#fe9 0 24.58%,#eee 0 25%,#9cd 0 93deg,#cee 0 26.25%,#eee 0 96deg,#cee 0 27.08%,#eee 0 99deg,#ffc 0 27.92%,#ffb 0 102deg,#fc8 0 28.75%,#fe9 0 105deg,#ffb 0 30%,#fe9 0 30.42%,#fc8 0 31.25%,#fb6 0 114deg,#fe9 0 32.08%,#ffc 0 32.5%,#fc8 0 120deg,#ffc 0 33.75%,#bde 0 34.58%,#8bd 0 35%,#9cd 0 35.42%,#ffb 0 129deg,#fc8 0 37.08%,#fe9 0 37.5%,#eee 0 37.92%,#9cd 0 138deg,#8bd 0 38.75%,#bde 0 141deg,#ffb 0 40%,#ffc 0 40.42%,#eee 0 147deg,#cee 0 41.25%,#8bd 0 150deg,#cee 0 42.08%,#fe9 0 42.5%,#ffc 0 156deg,#fe9 0 43.75%,#fc8 0 159deg,#f95 0 45%,#fb6 0 45.42%,#fc8 0 165deg,#ffc 0 46.25%,#eee 0 47.08%,#cee 0 47.92%,#bde 0 48.75%,#ffc 0 177deg,#fc8 0 50%,#ffb 0 50.42%,#eee 0 183deg,#cee 0 51.25%,#9cd 0 186deg,#eee 0 52.08%,#fe9 0 52.5%,#ffc 0 52.92%,#eee 0 53.75%,#cee 0 195deg,#9cd 0 54.58%,#cee 0 55%,#bde 0 55.42%,#69c 0 201deg,#9cd 0 56.25%,#ffc 0 204deg,#f95 0 57.08%,#d43 0 57.5%,#f95 0 57.92%,#fe9 0 58.75%,#fc8 0 59.58%,#fe9 0 60%,#eee 0 60.42%,#bde 0 219deg,#9cd 0 61.25%,#bde 0 62.5%,#8bd 0 228deg,#bde 0 63.75%,#eee 0 231deg,#ffc 0 64.58%,#fb6 0 65%,#e53 0 65.42%,#f95 0 237deg,#fb6 0 240deg,#fc8 0 67.08%,#fe9 0 67.5%,#fc8 0 68.75%,#fe9 0 249deg,#ffb 0 69.58%,#eee 0 70%,#bde 0 255deg,#ffb 0 71.25%,#fc8 0 72.5%,#fb6 0 72.92%,#ffb 0 264deg,#ffc 0 267deg,#cee 0 74.58%,#bde 0 75%,#cee 0 75.42%,#ffc 0 273deg,#cee 0 76.25%,#bde 0 77.08%,#eee 0 77.5%,#cee 0 77.92%,#bde 0 285deg,#ffc 0 79.58%,#fe9 0 80%,#ffc 0 80.42%,#eee 0 81.25%,#fe9 0 294deg,#f95 0 82.5%,#fc8 0 82.92%,#eee 0 300deg,#bde 0 303deg,#cee 0 85%,#eee 0 85.42%,#ffc 0 309deg,#fe9 0 86.25%,#ffb 0 312deg,#eee 0 87.08%,#ffc 0 87.5%,#ffb 0 87.92%,#fe9 0 88.75%,#eee 0 89.58%,#ffb 0 90%,#fe9 0 90.42%,#fb6 0 327deg,#fe9 0 91.25%,#cee 0 330deg,#9cd 0 92.08%,#bde 0 92.5%,#cee 0 92.92%,#bde 0 93.75%,#ffc 0 339deg,#ffb 0 95%,#eee 0 95.42%,#cee 0 96.25%,#bde 0 348deg,#cee 0 97.08%,#eee 0 97.5%,#fe9 0 354deg,#f95 0 98.75%,#d43 0 357deg,#e74 0 99.58%,#fc8 0)"></i>
<i style="inset:-32.9px;background:conic-gradient(#ffb 0 0.42%,#fb6 0 3deg,#f95 0 1.25%,#ffc 0 6deg,#9cd 0 2.08%,#bde 0 9deg,#eee 0 12deg,#cee 0 15deg,#eee 0 4.58%,#ffc 0 5.42%,#bde 0 21deg,#46a 0 6.25%,#349 0 24deg,#8bd 0 7.08%,#fc8 0 7.5%,#a12 0 7.92%,#d43 0 30deg,#fe9 0 8.75%,#cee 0 33deg,#fe9 0 9.58%,#e53 0 10%,#fb6 0 10.42%,#eee 0 11.25%,#fe9 0 13.75%,#fb6 0 51deg,#fe9 0 14.58%,#bde 0 15%,#eee 0 15.42%,#ffc 0 57deg,#ffb 0 16.25%,#e74 0 17.08%,#fb6 0 63deg,#f95 0 17.92%,#e74 0 69deg,#fe9 0 19.58%,#bde 0 20%,#9cd 0 20.42%,#eee 0 75deg,#fe9 0 21.25%,#ffb 0 78deg,#ffc 0 22.08%,#eee 0 22.92%,#ffb 0 84deg,#fe9 0 23.75%,#fc8 0 87deg,#f95 0 24.58%,#ffb 0 25%,#8bd 0 25.42%,#9cd 0 93deg,#ffc 0 96deg,#bde 0 27.08%,#eee 0 99deg,#ffb 0 27.92%,#fc8 0 28.75%,#ffb 0 30%,#fe9 0 30.42%,#ffb 0 31.25%,#fc8 0 114deg,#ffc 0 32.08%,#cee 0 32.5%,#ffc 0 32.92%,#fe9 0 120deg,#ffc 0 33.75%,#bde 0 123deg,#9cd 0 34.58%,#69c 0 35%,#9cd 0 35.42%,#ffb 0 129deg,#fe9 0 36.25%,#ffb 0 37.08%,#cee 0 37.5%,#58b 0 37.92%,#46a 0 138deg,#69c 0 38.75%,#bde 0 141deg,#ffb 0 39.58%,#fc8 0 40%,#fe9 0 40.42%,#ffc 0 147deg,#cee 0 41.25%,#8bd 0 150deg,#cee 0 42.08%,#fe9 0 42.5%,#ffc 0 42.92%,#eee 0 156deg,#ffc 0 43.75%,#ffb 0 159deg,#fe9 0 44.58%,#fc8 0 45.42%,#ffb 0 165deg,#bde 0 46.25%,#9cd 0 168deg,#bde 0 47.08%,#cee 0 174deg,#bde 0 48.75%,#eee 0 177deg,#fc8 0 50%,#ffb 0 50.42%,#eee 0 183deg,#bde 0 51.25%,#69c 0 186deg,#9cd 0 52.08%,#ffc 0 52.92%,#ffb 0 53.75%,#eee 0 195deg,#bde 0 54.58%,#cee 0 55%,#9cd 0 55.42%,#349 0 201deg,#58b 0 56.25%,#ffc 0 204deg,#d43 0 57.08%,#a12 0 57.5%,#e53 0 57.92%,#fc8 0 210deg,#fe9 0 213deg,#ffb 0 59.58%,#cee 0 60.42%,#bde 0 219deg,#69c 0 61.25%,#58b 0 222deg,#69c 0 62.08%,#9cd 0 62.5%,#69c 0 228deg,#9cd 0 63.75%,#bde 0 231deg,#cee 0 64.58%,#ffb 0 65%,#e74 0 65.42%,#f95 0 237deg,#e74 0 66.25%,#e53 0 240deg,#fb6 0 67.08%,#fc8 0 67.92%,#fb6 0 246deg,#fc8 0 68.75%,#fe9 0 249deg,#ffb 0 69.58%,#eee 0 70%,#9cd 0 70.42%,#bde 0 255deg,#ffb 0 71.25%,#fe9 0 258deg,#ffc 0 72.08%,#fe9 0 72.5%,#fc8 0 72.92%,#ffb 0 264deg,#ffc 0 73.75%,#eee 0 267deg,#bde 0 75%,#eee 0 75.42%,#ffc 0 273deg,#bde 0 76.25%,#69c 0 276deg,#bde 0 77.08%,#ffc 0 77.92%,#cee 0 282deg,#bde 0 285deg,#ffb 0 79.58%,#fc8 0 80%,#ffc 0 80.42%,#bde 0 291deg,#cee 0 81.25%,#ffb 0 294deg,#f95 0 82.08%,#a12 0 82.5%,#e53 0 82.92%,#ffc 0 300deg,#9cd 0 84.58%,#eee 0 85%,#ffc 0 309deg,#ffb 0 86.25%,#ffc 0 312deg,#eee 0 87.5%,#fe9 0 318deg,#ffb 0 88.75%,#eee 0 89.58%,#ffc 0 90%,#ffb 0 90.42%,#fe9 0 327deg,#ffb 0 91.25%,#bde 0 330deg,#9cd 0 92.08%,#bde 0 336deg,#eee 0 93.75%,#fe9 0 339deg,#ffb 0 94.58%,#ffc 0 95%,#eee 0 345deg,#fe9 0 96.25%,#ffb 0 348deg,#bde 0 97.08%,#9cd 0 97.5%,#ffc 0 97.92%,#fe9 0 354deg,#f95 0 98.75%,#e53 0 357deg,#f95 0 99.58%,#ffb 0)"></i>
<i style="inset:-31.3px;background:conic-gradient(#69c 0 0.42%,#bde 0 3deg,#fe9 0 1.25%,#ffb 0 6deg,#bde 0 2.08%,#9cd 0 9deg,#bde 0 2.92%,#cee 0 12deg,#9cd 0 3.75%,#69c 0 15deg,#9cd 0 4.58%,#ffb 0 5%,#fe9 0 5.42%,#ffc 0 21deg,#69c 0 6.25%,#46a 0 24deg,#9cd 0 7.08%,#fe9 0 7.5%,#a12 0 7.92%,#c22 0 30deg,#ffb 0 8.75%,#8bd 0 33deg,#cee 0 9.58%,#fc8 0 10.42%,#ffb 0 42deg,#eee 0 12.08%,#cee 0 45deg,#ffc 0 12.92%,#fc8 0 48deg,#fb6 0 13.75%,#f95 0 51deg,#fc8 0 14.58%,#bde 0 15.42%,#ffc 0 57deg,#fc8 0 16.25%,#d43 0 17.08%,#fc8 0 63deg,#fe9 0 17.92%,#f95 0 66deg,#e53 0 18.75%,#d43 0 69deg,#fb6 0 19.58%,#cee 0 20%,#bde 0 20.42%,#ffc 0 75deg,#f95 0 21.25%,#fb6 0 78deg,#fe9 0 22.08%,#ffb 0 84deg,#fe9 0 23.75%,#fc8 0 87deg,#f95 0 24.58%,#fc8 0 25%,#cee 0 25.42%,#bde 0 93deg,#ffb 0 26.25%,#ffc 0 96deg,#8bd 0 27.08%,#9cd 0 99deg,#ffb 0 27.92%,#fc8 0 102deg,#fe9 0 28.75%,#ffb 0 30%,#fe9 0 30.42%,#ffc 0 111deg,#eee 0 31.25%,#ffb 0 114deg,#ffc 0 32.08%,#eee 0 32.92%,#ffb 0 33.75%,#cee 0 123deg,#bde 0 34.58%,#9cd 0 35%,#eee 0 35.42%,#fe9 0 129deg,#ffc 0 36.25%,#bde 0 37.08%,#8bd 0 37.5%,#349 0 37.92%,#46a 0 138deg,#cee 0 38.75%,#ffc 0 141deg,#ffb 0 39.58%,#fc8 0 40%,#fe9 0 40.42%,#ffb 0 147deg,#cee 0 41.25%,#8bd 0 150deg,#cee 0 42.08%,#fc8 0 42.5%,#ffc 0 42.92%,#9cd 0 43.75%,#8bd 0 44.58%,#eee 0 45%,#fe9 0 45.42%,#ffb 0 165deg,#9cd 0 46.25%,#69c 0 168deg,#9cd 0 47.5%,#bde 0 174deg,#9cd 0 177deg,#ffb 0 49.58%,#fc8 0 50%,#fe9 0 183deg,#ffb 0 51.25%,#8bd 0 186deg,#69c 0 52.08%,#eee 0 52.5%,#ffb 0 53.75%,#ffc 0 195deg,#cee 0 54.58%,#eee 0 55%,#8bd 0 55.42%,#349 0 56.25%,#eee 0 204deg,#e74 0 57.08%,#e53 0 57.5%,#fb6 0 57.92%,#fe9 0 58.75%,#ffb 0 213deg,#cee 0 59.58%,#8bd 0 60%,#eee 0 60.42%,#cee 0 219deg,#69c 0 61.25%,#46a 0 62.08%,#69c 0 62.92%,#46a 0 228deg,#69c 0 63.75%,#9cd 0 231deg,#bde 0 64.58%,#ffc 0 65%,#fb6 0 237deg,#e53 0 66.25%,#c22 0 240deg,#f95 0 67.08%,#fe9 0 67.5%,#ffb 0 67.92%,#fe9 0 68.75%,#fc8 0 249deg,#ffb 0 69.58%,#9cd 0 70%,#46a 0 70.42%,#69c 0 255deg,#eee 0 72.08%,#ffc 0 264deg,#eee 0 73.75%,#8bd 0 267deg,#69c 0 74.58%,#9cd 0 75%,#cee 0 75.42%,#eee 0 273deg,#8bd 0 76.25%,#58b 0 276deg,#cee 0 77.08%,#ffc 0 77.5%,#ffb 0 282deg,#eee 0 285deg,#fb6 0 79.58%,#e74 0 80%,#ffb 0 80.42%,#cee 0 291deg,#eee 0 81.25%,#fe9 0 294deg,#e74 0 82.08%,#a12 0 82.5%,#d43 0 82.92%,#cee 0 300deg,#8bd 0 83.75%,#cee 0 84.58%,#ffb 0 85%,#fb6 0 85.42%,#fe9 0 309deg,#ffb 0 86.25%,#ffc 0 87.08%,#fe9 0 87.5%,#fb6 0 87.92%,#ffb 0 318deg,#cee 0 88.75%,#bde 0 321deg,#cee 0 89.58%,#eee 0 90.42%,#ffb 0 327deg,#ffc 0 91.25%,#9cd 0 330deg,#8bd 0 92.5%,#9cd 0 92.92%,#bde 0 336deg,#eee 0 93.75%,#ffb 0 94.58%,#ffc 0 95%,#cee 0 345deg,#fc8 0 96.25%,#fe9 0 348deg,#9cd 0 97.5%,#ffc 0 97.92%,#ffb 0 354deg,#fb6 0 98.75%,#e74 0 357deg,#fe9 0 99.58%,#9cd 0)"></i>
<i style="inset:-29.7px;background:conic-gradient(#349 0 0.42%,#46a 0 3deg,#cee 0 1.25%,#ffc 0 6deg,#bde 0 2.08%,#9cd 0 2.92%,#cee 0 12deg,#9cd 0 3.75%,#69c 0 15deg,#9cd 0 4.58%,#fe9 0 5%,#fb6 0 5.42%,#fe9 0 21deg,#cee 0 6.25%,#bde 0 24deg,#cee 0 7.08%,#eee 0 7.5%,#f95 0 30deg,#ffc 0 8.75%,#8bd 0 9.58%,#eee 0 10%,#fe9 0 10.42%,#fc8 0 11.25%,#ffc 0 42deg,#9cd 0 12.08%,#8bd 0 45deg,#bde 0 12.92%,#fe9 0 48deg,#fc8 0 13.75%,#fb6 0 51deg,#fe9 0 14.58%,#9cd 0 15.42%,#ffc 0 57deg,#fe9 0 16.25%,#e74 0 60deg,#e53 0 17.08%,#fc8 0 63deg,#eee 0 17.92%,#fe9 0 66deg,#e74 0 18.75%,#a12 0 69deg,#e53 0 19.58%,#fe9 0 20%,#ffc 0 20.42%,#ffb 0 75deg,#fc8 0 21.25%,#f95 0 78deg,#fb6 0 22.08%,#fc8 0 84deg,#ffb 0 23.75%,#ffc 0 87deg,#fe9 0 24.58%,#fc8 0 25%,#ffb 0 25.42%,#ffc 0 96deg,#9cd 0 27.08%,#bde 0 99deg,#ffb 0 27.92%,#fc8 0 102deg,#fe9 0 30%,#fc8 0 30.42%,#ffb 0 111deg,#eee 0 31.25%,#ffc 0 114deg,#ffb 0 32.08%,#fe9 0 33.75%,#ffb 0 123deg,#ffc 0 35%,#fc8 0 35.42%,#fb6 0 129deg,#ffc 0 36.25%,#9cd 0 37.08%,#8bd 0 37.5%,#46a 0 37.92%,#bde 0 138deg,#fc8 0 38.75%,#ffb 0 141deg,#ffc 0 39.58%,#ffb 0 40.42%,#eee 0 147deg,#cee 0 41.25%,#bde 0 150deg,#cee 0 42.08%,#ffc 0 42.5%,#bde 0 42.92%,#58b 0 156deg,#349 0 44.58%,#8bd 0 45%,#fc8 0 45.42%,#fb6 0 165deg,#8bd 0 168deg,#cee 0 47.08%,#bde 0 47.5%,#8bd 0 47.92%,#9cd 0 177deg,#eee 0 49.58%,#fe9 0 50.42%,#fb6 0 183deg,#f95 0 51.25%,#eee 0 186deg,#bde 0 52.08%,#ffb 0 52.92%,#cee 0 192deg,#bde 0 53.75%,#cee 0 54.58%,#ffc 0 55%,#8bd 0 55.42%,#349 0 56.25%,#cee 0 204deg,#fc8 0 57.08%,#ffb 0 57.5%,#cee 0 57.92%,#eee 0 210deg,#ffb 0 58.75%,#ffc 0 213deg,#bde 0 59.58%,#9cd 0 60%,#fe9 0 60.42%,#ffb 0 219deg,#9cd 0 61.25%,#46a 0 222deg,#349 0 62.08%,#58b 0 62.92%,#349 0 63.75%,#8bd 0 231deg,#cee 0 64.58%,#ffc 0 65%,#fe9 0 237deg,#e74 0 66.25%,#d43 0 240deg,#fb6 0 67.08%,#eee 0 67.92%,#ffb 0 246deg,#fc8 0 68.75%,#fb6 0 249deg,#ffb 0 69.58%,#8bd 0 70%,#349 0 70.42%,#46a 0 255deg,#bde 0 71.25%,#eee 0 258deg,#ffb 0 72.5%,#ffc 0 72.92%,#eee 0 264deg,#cee 0 73.75%,#8bd 0 267deg,#58b 0 74.58%,#69c 0 75%,#9cd 0 75.42%,#eee 0 273deg,#9cd 0 76.25%,#8bd 0 276deg,#cee 0 77.08%,#eee 0 77.5%,#ffb 0 77.92%,#fe9 0 282deg,#eee 0 78.75%,#ffb 0 285deg,#e74 0 79.58%,#d43 0 80%,#fc8 0 80.42%,#cee 0 291deg,#ffc 0 81.25%,#fc8 0 294deg,#e74 0 82.08%,#a12 0 82.5%,#e53 0 82.92%,#bde 0 300deg,#8bd 0 83.75%,#eee 0 303deg,#ffb 0 84.58%,#fc8 0 85%,#e74 0 85.42%,#f95 0 309deg,#fb6 0 86.25%,#fe9 0 312deg,#fc8 0 87.08%,#f95 0 87.5%,#e74 0 87.92%,#ffb 0 318deg,#8bd 0 88.75%,#58b 0 321deg,#9cd 0 89.58%,#cee 0 90.42%,#eee 0 327deg,#cee 0 91.25%,#8bd 0 92.08%,#58b 0 92.5%,#69c 0 92.92%,#9cd 0 336deg,#cee 0 93.75%,#ffc 0 339deg,#ffb 0 94.58%,#ffc 0 95%,#bde 0 345deg,#ffb 0 96.25%,#ffc 0 348deg,#bde 0 97.08%,#eee 0 97.5%,#ffc 0 354deg,#fe9 0 98.75%,#f95 0 357deg,#ffb 0 99.58%,#69c 0)"></i>
<i style="inset:-28.1px;background:conic-gradient(#69c 0 0.42%,#58b 0 3deg,#9cd 0 1.25%,#eee 0 6deg,#cee 0 2.08%,#bde 0 9deg,#eee 0 2.92%,#ffc 0 12deg,#cee 0 3.75%,#9cd 0 15deg,#cee 0 4.58%,#ffc 0 5%,#fe9 0 5.42%,#ffb 0 21deg,#ffc 0 6.25%,#fe9 0 24deg,#eee 0 7.08%,#9cd 0 7.5%,#ffc 0 7.92%,#ffb 0 30deg,#ffc 0 8.75%,#9cd 0 33deg,#69c 0 9.58%,#9cd 0 10%,#ffc 0 10.42%,#fb6 0 11.25%,#ffc 0 42deg,#9cd 0 12.08%,#46a 0 45deg,#8bd 0 12.92%,#ffc 0 48deg,#fe9 0 51deg,#ffb 0 14.58%,#8bd 0 15%,#69c 0 15.42%,#cee 0 57deg,#ffc 0 16.25%,#fc8 0 60deg,#e74 0 17.08%,#fb6 0 63deg,#ffc 0 17.92%,#eee 0 66deg,#fc8 0 18.75%,#a12 0 19.58%,#e74 0 20%,#fe9 0 20.42%,#eee 0 21.25%,#ffb 0 78deg,#fc8 0 22.08%,#fb6 0 81deg,#f95 0 84deg,#ffb 0 23.75%,#bde 0 87deg,#cee 0 24.58%,#ffb 0 25%,#fc8 0 25.42%,#fe9 0 93deg,#ffc 0 26.25%,#eee 0 27.08%,#ffb 0 99deg,#fc8 0 102deg,#fe9 0 28.75%,#fb6 0 105deg,#f95 0 29.58%,#fb6 0 30%,#fc8 0 30.42%,#fe9 0 111deg,#ffb 0 31.25%,#ffc 0 114deg,#fe9 0 32.08%,#fb6 0 120deg,#fc8 0 33.75%,#fe9 0 35%,#fc8 0 35.42%,#fb6 0 129deg,#fe9 0 36.25%,#ffc 0 37.08%,#bde 0 37.5%,#69c 0 37.92%,#ffc 0 138deg,#f95 0 38.75%,#ffb 0 141deg,#eee 0 40%,#cee 0 40.42%,#bde 0 42.5%,#69c 0 42.92%,#349 0 44.58%,#58b 0 45%,#fb6 0 45.42%,#f95 0 165deg,#8bd 0 46.25%,#9cd 0 168deg,#ffc 0 47.5%,#bde 0 47.92%,#cee 0 174deg,#ffc 0 50.42%,#fb6 0 183deg,#f95 0 51.25%,#fe9 0 186deg,#ffc 0 52.08%,#fe9 0 52.92%,#9cd 0 192deg,#69c 0 53.75%,#9cd 0 54.58%,#cee 0 55%,#69c 0 55.42%,#349 0 56.25%,#9cd 0 204deg,#ffc 0 57.08%,#bde 0 57.5%,#69c 0 57.92%,#8bd 0 210deg,#cee 0 58.75%,#ffc 0 213deg,#eee 0 59.58%,#ffc 0 60%,#fb6 0 60.42%,#fc8 0 219deg,#cee 0 61.25%,#69c 0 222deg,#349 0 62.08%,#46a 0 62.5%,#69c 0 62.92%,#349 0 63.75%,#58b 0 231deg,#cee 0 64.58%,#ffb 0 65%,#ffc 0 237deg,#fc8 0 66.25%,#f95 0 240deg,#ffb 0 67.08%,#9cd 0 67.5%,#cee 0 67.92%,#fc8 0 246deg,#e74 0 68.75%,#f95 0 249deg,#fc8 0 69.58%,#cee 0 70%,#58b 0 70.42%,#8bd 0 255deg,#cee 0 71.25%,#fe9 0 258deg,#f95 0 72.08%,#e74 0 72.5%,#fc8 0 72.92%,#ffb 0 264deg,#eee 0 73.75%,#9cd 0 267deg,#46a 0 75%,#9cd 0 75.42%,#ffc 0 273deg,#eee 0 76.25%,#bde 0 77.08%,#9cd 0 77.5%,#cee 0 77.92%,#ffb 0 282deg,#cee 0 78.75%,#ffc 0 285deg,#e74 0 79.58%,#d43 0 80%,#fb6 0 80.42%,#bde 0 291deg,#eee 0 81.25%,#fc8 0 294deg,#fb6 0 82.08%,#c22 0 82.5%,#e74 0 82.92%,#cee 0 300deg,#8bd 0 83.75%,#eee 0 303deg,#fe9 0 84.58%,#fc8 0 85%,#fb6 0 85.42%,#e53 0 86.25%,#f95 0 312deg,#fb6 0 87.08%,#f95 0 87.5%,#e53 0 87.92%,#fc8 0 318deg,#9cd 0 88.75%,#58b 0 321deg,#69c 0 89.58%,#8bd 0 90.42%,#bde 0 327deg,#9cd 0 92.08%,#69c 0 92.5%,#58b 0 92.92%,#69c 0 336deg,#bde 0 93.75%,#ffc 0 339deg,#ffb 0 95%,#eee 0 345deg,#ffc 0 96.25%,#cee 0 348deg,#bde 0 97.08%,#ffb 0 97.5%,#ffc 0 97.92%,#cee 0 354deg,#eee 0 98.75%,#fc8 0 99.58%,#cee 0)"></i>
<i style="inset:-26.5px;background:conic-gradient(#ffb 0 0.42%,#cee 0 3deg,#bde 0 1.25%,#cee 0 6deg,#ffc 0 2.08%,#ffb 0 9deg,#fe9 0 2.92%,#ffb 0 12deg,#eee 0 5.42%,#ffc 0 21deg,#fc8 0 6.25%,#f95 0 24deg,#eee 0 7.08%,#69c 0 7.5%,#cee 0 7.92%,#ffc 0 30deg,#fe9 0 8.75%,#cee 0 33deg,#8bd 0 9.58%,#9cd 0 10%,#eee 0 10.42%,#fb6 0 11.25%,#ffb 0 42deg,#9cd 0 12.08%,#349 0 45deg,#8bd 0 12.92%,#ffc 0 48deg,#ffb 0 51deg,#cee 0 14.58%,#8bd 0 15.42%,#bde 0 57deg,#cee 0 16.25%,#ffb 0 60deg,#e74 0 17.08%,#f95 0 63deg,#ffb 0 17.92%,#cee 0 66deg,#fe9 0 18.75%,#d43 0 69deg,#a12 0 19.58%,#d43 0 20%,#fc8 0 20.42%,#bde 0 75deg,#8bd 0 78deg,#eee 0 22.08%,#fe9 0 81deg,#f95 0 22.92%,#e74 0 84deg,#ffb 0 23.75%,#8bd 0 87deg,#9cd 0 24.58%,#eee 0 25%,#fc8 0 93deg,#eee 0 96deg,#ffb 0 27.08%,#f95 0 99deg,#e74 0 27.92%,#f95 0 102deg,#fc8 0 28.75%,#fb6 0 105deg,#e53 0 29.58%,#f95 0 30%,#fc8 0 31.25%,#fe9 0 114deg,#ffb 0 32.08%,#fc8 0 32.92%,#fb6 0 120deg,#fc8 0 34.58%,#ffc 0 35%,#eee 0 35.42%,#fe9 0 129deg,#fc8 0 132deg,#fb6 0 37.08%,#ffb 0 37.5%,#cee 0 37.92%,#fe9 0 138deg,#fb6 0 38.75%,#ffc 0 141deg,#eee 0 39.58%,#cee 0 40.42%,#bde 0 150deg,#9cd 0 42.5%,#69c 0 42.92%,#349 0 44.58%,#8bd 0 45%,#fe9 0 45.42%,#fb6 0 165deg,#9cd 0 46.25%,#bde 0 168deg,#fe9 0 47.5%,#ffc 0 47.92%,#ffb 0 174deg,#fb6 0 177deg,#fc8 0 49.58%,#ffb 0 50%,#eee 0 50.42%,#fe9 0 183deg,#fb6 0 51.25%,#fe9 0 52.92%,#cee 0 192deg,#9cd 0 195deg,#69c 0 54.58%,#9cd 0 55%,#46a 0 55.42%,#349 0 56.25%,#58b 0 204deg,#cee 0 57.08%,#9cd 0 57.5%,#69c 0 210deg,#9cd 0 58.75%,#ffb 0 213deg,#fb6 0 59.58%,#f95 0 60.42%,#ffb 0 219deg,#eee 0 61.25%,#8bd 0 222deg,#349 0 62.08%,#46a 0 62.5%,#8bd 0 62.92%,#58b 0 228deg,#349 0 63.75%,#46a 0 231deg,#cee 0 64.58%,#ffb 0 65%,#cee 0 65.42%,#bde 0 237deg,#ffc 0 66.25%,#fe9 0 240deg,#eee 0 67.08%,#8bd 0 67.5%,#bde 0 67.92%,#fb6 0 246deg,#e53 0 249deg,#fb6 0 69.58%,#ffb 0 70%,#bde 0 70.42%,#eee 0 255deg,#ffb 0 71.25%,#fb6 0 258deg,#d43 0 72.5%,#e74 0 72.92%,#fc8 0 264deg,#ffb 0 73.75%,#bde 0 267deg,#46a 0 74.58%,#58b 0 75%,#bde 0 75.42%,#fc8 0 273deg,#fe9 0 76.25%,#ffc 0 276deg,#bde 0 77.08%,#69c 0 77.92%,#eee 0 282deg,#bde 0 78.75%,#cee 0 285deg,#fb6 0 79.58%,#e53 0 80%,#fb6 0 80.42%,#cee 0 291deg,#ffc 0 81.25%,#fc8 0 294deg,#fe9 0 82.08%,#f95 0 82.5%,#fb6 0 82.92%,#ffc 0 300deg,#cee 0 83.75%,#ffc 0 303deg,#fc8 0 84.58%,#fe9 0 85%,#ffb 0 85.42%,#e74 0 309deg,#c22 0 86.25%,#e53 0 312deg,#fe9 0 87.08%,#ffb 0 87.5%,#f95 0 318deg,#ffc 0 88.75%,#bde 0 321deg,#8bd 0 89.58%,#58b 0 90%,#8bd 0 90.42%,#bde 0 327deg,#9cd 0 91.25%,#cee 0 92.08%,#bde 0 92.5%,#8bd 0 92.92%,#69c 0 336deg,#bde 0 93.75%,#ffb 0 345deg,#fe9 0 96.25%,#eee 0 97.08%,#fc8 0 97.5%,#ffb 0 97.92%,#bde 0 354deg,#cee 0 98.75%,#fc8 0 357deg,#e74 0 99.58%,#fb6 0)"></i>
<i style="inset:-24.9px;background:conic-gradient(#fb6 0 0.42%,#fe9 0 3deg,#cee 0 6deg,#ffb 0 2.08%,#fb6 0 9deg,#f95 0 2.92%,#fc8 0 12deg,#ffc 0 4.58%,#cee 0 5.42%,#ffc 0 21deg,#fb6 0 6.25%,#f95 0 24deg,#eee 0 7.08%,#8bd 0 7.5%,#bde 0 7.92%,#eee 0 30deg,#fe9 0 8.75%,#ffc 0 33deg,#cee 0 9.58%,#bde 0 10%,#eee 0 10.42%,#fe9 0 39deg,#fb6 0 11.25%,#fe9 0 42deg,#bde 0 12.08%,#69c 0 45deg,#cee 0 12.92%,#fe9 0 48deg,#ffb 0 13.75%,#eee 0 51deg,#bde 0 14.58%,#9cd 0 15%,#bde 0 57deg,#cee 0 16.25%,#ffb 0 60deg,#e74 0 17.08%,#fb6 0 63deg,#ffc 0 17.92%,#cee 0 66deg,#ffb 0 18.75%,#f95 0 69deg,#c22 0 19.58%,#d43 0 20%,#fb6 0 20.42%,#cee 0 75deg,#58b 0 21.25%,#46a 0 78deg,#9cd 0 22.08%,#ffb 0 81deg,#fc8 0 22.92%,#fb6 0 84deg,#fe9 0 23.75%,#cee 0 24.58%,#eee 0 25%,#fe9 0 25.42%,#fb6 0 93deg,#ffc 0 26.25%,#eee 0 96deg,#fc8 0 27.08%,#e53 0 99deg,#c22 0 27.92%,#e53 0 102deg,#fb6 0 105deg,#e53 0 29.58%,#f95 0 30%,#fe9 0 30.42%,#ffb 0 111deg,#fc8 0 31.25%,#fe9 0 114deg,#ffb 0 32.5%,#ffc 0 32.92%,#ffb 0 33.75%,#fc8 0 123deg,#fe9 0 34.58%,#bde 0 35%,#8bd 0 35.42%,#ffc 0 129deg,#fc8 0 132deg,#e74 0 37.08%,#fb6 0 37.5%,#ffb 0 37.92%,#fc8 0 38.75%,#eee 0 147deg,#cee 0 150deg,#9cd 0 42.5%,#8bd 0 42.92%,#58b 0 156deg,#69c 0 43.75%,#8bd 0 44.58%,#bde 0 45%,#eee 0 45.42%,#fe9 0 165deg,#cee 0 46.25%,#eee 0 168deg,#fc8 0 47.08%,#fe9 0 47.92%,#fc8 0 48.75%,#fb6 0 49.58%,#fe9 0 50%,#ffc 0 183deg,#ffb 0 52.08%,#ffc 0 52.92%,#ffb 0 192deg,#ffc 0 53.75%,#bde 0 195deg,#8bd 0 55%,#349 0 204deg,#9cd 0 57.08%,#eee 0 57.5%,#cee 0 57.92%,#9cd 0 58.75%,#fe9 0 213deg,#d43 0 60%,#fb6 0 60.42%,#eee 0 219deg,#9cd 0 61.25%,#69c 0 222deg,#349 0 62.08%,#46a 0 62.5%,#9cd 0 62.92%,#58b 0 228deg,#46a 0 63.75%,#8bd 0 231deg,#eee 0 64.58%,#ffc 0 65%,#9cd 0 65.42%,#69c 0 237deg,#bde 0 66.25%,#ffc 0 240deg,#eee 0 67.08%,#9cd 0 67.5%,#bde 0 67.92%,#fe9 0 246deg,#e74 0 68.75%,#e53 0 249deg,#fb6 0 69.58%,#ffb 0 70%,#ffc 0 70.42%,#fc8 0 255deg,#fb6 0 71.25%,#f95 0 258deg,#e53 0 72.08%,#e74 0 72.5%,#f95 0 73.75%,#ffc 0 267deg,#8bd 0 74.58%,#69c 0 75%,#cee 0 75.42%,#fb6 0 273deg,#fc8 0 76.25%,#ffb 0 276deg,#eee 0 77.08%,#58b 0 77.5%,#46a 0 77.92%,#cee 0 282deg,#bde 0 78.75%,#cee 0 285deg,#fe9 0 79.58%,#e74 0 80%,#fb6 0 80.42%,#fe9 0 291deg,#fb6 0 81.25%,#f95 0 294deg,#fc8 0 82.08%,#fe9 0 82.92%,#ffb 0 300deg,#fe9 0 83.75%,#fc8 0 303deg,#fb6 0 84.58%,#ffc 0 85%,#bde 0 85.42%,#fe9 0 309deg,#e53 0 86.25%,#f95 0 312deg,#cee 0 87.08%,#9cd 0 87.5%,#ffb 0 87.92%,#fb6 0 318deg,#fe9 0 88.75%,#ffb 0 321deg,#cee 0 89.58%,#9cd 0 90%,#cee 0 90.42%,#eee 0 327deg,#cee 0 330deg,#ffc 0 92.5%,#eee 0 92.92%,#bde 0 336deg,#eee 0 93.75%,#fc8 0 339deg,#fe9 0 95%,#ffb 0 95.42%,#fe9 0 345deg,#fc8 0 96.25%,#ffb 0 348deg,#fe9 0 97.08%,#f95 0 97.5%,#ffb 0 97.92%,#bde 0 354deg,#eee 0 98.75%,#e74 0 357deg,#c22 0 99.58%,#e53 0)"></i>
<i style="inset:-23.3px;background:conic-gradient(#fb6 0 0.42%,#fc8 0 3deg,#cee 0 6deg,#fe9 0 2.08%,#f95 0 9deg,#e74 0 2.92%,#fc8 0 12deg,#ffb 0 3.75%,#ffc 0 5%,#eee 0 5.42%,#ffb 0 21deg,#fc8 0 6.25%,#fe9 0 24deg,#eee 0 7.08%,#cee 0 7.92%,#9cd 0 30deg,#cee 0 8.75%,#ffc 0 9.58%,#eee 0 10%,#cee 0 10.42%,#ffc 0 39deg,#fb6 0 11.25%,#f95 0 42deg,#ffb 0 12.08%,#ffc 0 45deg,#fc8 0 12.92%,#fb6 0 48deg,#fe9 0 13.75%,#cee 0 51deg,#8bd 0 14.58%,#cee 0 15%,#eee 0 15.42%,#ffc 0 16.25%,#fe9 0 60deg,#fb6 0 17.08%,#ffb 0 63deg,#bde 0 66deg,#ffc 0 18.75%,#fb6 0 69deg,#e74 0 20%,#f95 0 20.42%,#fe9 0 75deg,#9cd 0 21.25%,#69c 0 78deg,#9cd 0 22.08%,#ffc 0 81deg,#fe9 0 22.92%,#fc8 0 23.75%,#fe9 0 87deg,#fc8 0 24.58%,#fe9 0 25%,#fb6 0 25.42%,#e74 0 93deg,#fe9 0 96deg,#fb6 0 27.08%,#d43 0 99deg,#a12 0 27.92%,#e74 0 102deg,#fc8 0 28.75%,#fe9 0 105deg,#f95 0 29.58%,#fc8 0 30%,#ffb 0 30.42%,#eee 0 114deg,#cee 0 120deg,#ffc 0 33.75%,#fe9 0 123deg,#cee 0 34.58%,#69c 0 35.42%,#eee 0 129deg,#fc8 0 36.25%,#fe9 0 132deg,#fb6 0 37.08%,#f95 0 37.5%,#fe9 0 37.92%,#fc8 0 138deg,#ffb 0 38.75%,#eee 0 39.58%,#ffc 0 40%,#ffb 0 147deg,#ffc 0 41.25%,#cee 0 150deg,#9cd 0 42.08%,#69c 0 42.5%,#8bd 0 156deg,#bde 0 43.75%,#eee 0 159deg,#cee 0 45.42%,#ffb 0 165deg,#ffc 0 46.25%,#ffb 0 168deg,#fe9 0 47.08%,#ffb 0 47.5%,#fc8 0 47.92%,#fb6 0 174deg,#ffb 0 48.75%,#eee 0 177deg,#ffb 0 50%,#ffc 0 50.42%,#eee 0 183deg,#cee 0 51.25%,#bde 0 186deg,#cee 0 52.5%,#eee 0 52.92%,#fc8 0 192deg,#f95 0 53.75%,#eee 0 195deg,#bde 0 55%,#69c 0 55.42%,#349 0 204deg,#bde 0 57.08%,#fc8 0 57.5%,#f95 0 57.92%,#fe9 0 210deg,#eee 0 58.75%,#fc8 0 213deg,#e53 0 60%,#fe9 0 60.42%,#cee 0 219deg,#9cd 0 61.25%,#46a 0 222deg,#349 0 62.08%,#58b 0 62.5%,#9cd 0 62.92%,#46a 0 63.75%,#bde 0 231deg,#ffc 0 64.58%,#eee 0 65%,#69c 0 65.42%,#58b 0 237deg,#8bd 0 66.25%,#eee 0 240deg,#fe9 0 67.08%,#eee 0 67.5%,#bde 0 67.92%,#ffb 0 246deg,#fc8 0 249deg,#ffb 0 69.58%,#ffc 0 70%,#fe9 0 70.42%,#e74 0 255deg,#e53 0 71.25%,#e74 0 258deg,#fb6 0 72.08%,#fe9 0 72.5%,#ffb 0 72.92%,#f95 0 264deg,#d43 0 73.75%,#f95 0 267deg,#eee 0 74.58%,#9cd 0 75%,#cee 0 75.42%,#fe9 0 273deg,#ffb 0 76.25%,#ffc 0 276deg,#eee 0 77.08%,#58b 0 77.5%,#349 0 77.92%,#bde 0 282deg,#eee 0 78.75%,#ffc 0 285deg,#fe9 0 79.58%,#fb6 0 291deg,#e53 0 294deg,#e74 0 82.08%,#fb6 0 82.5%,#fe9 0 82.92%,#fc8 0 300deg,#f95 0 83.75%,#fb6 0 303deg,#fc8 0 84.58%,#cee 0 85%,#69c 0 85.42%,#cee 0 309deg,#fb6 0 312deg,#bde 0 87.08%,#8bd 0 87.5%,#cee 0 87.92%,#ffc 0 318deg,#ffb 0 88.75%,#fc8 0 321deg,#fe9 0 89.58%,#eee 0 90%,#ffb 0 90.42%,#fc8 0 327deg,#cee 0 91.25%,#9cd 0 330deg,#eee 0 92.08%,#fe9 0 92.5%,#ffb 0 92.92%,#eee 0 336deg,#ffb 0 93.75%,#f95 0 339deg,#fb6 0 94.58%,#fc8 0 95%,#ffb 0 95.42%,#ffc 0 345deg,#fc8 0 97.5%,#eee 0 97.92%,#9cd 0 354deg,#ffb 0 98.75%,#c22 0 357deg,#a12 0 99.58%,#e53 0)"></i>
<i style="inset:-21.7px;background:conic-gradient(#ffb 0 0.42%,#fe9 0 3deg,#ffc 0 1.25%,#eee 0 6deg,#fe9 0 2.08%,#fb6 0 9deg,#fc8 0 2.92%,#ffb 0 12deg,#ffc 0 3.75%,#eee 0 15deg,#ffb 0 5%,#ffc 0 5.42%,#ffb 0 21deg,#ffc 0 6.25%,#cee 0 7.08%,#ffc 0 7.5%,#cee 0 7.92%,#69c 0 30deg,#8bd 0 8.75%,#eee 0 33deg,#ffb 0 9.58%,#eee 0 10%,#bde 0 10.42%,#ffc 0 39deg,#e53 0 11.25%,#a12 0 42deg,#d43 0 12.08%,#e53 0 45deg,#e74 0 48deg,#fb6 0 13.75%,#eee 0 51deg,#8bd 0 14.58%,#eee 0 15%,#fe9 0 16.25%,#fb6 0 60deg,#fc8 0 17.08%,#ffc 0 63deg,#9cd 0 17.92%,#bde 0 66deg,#eee 0 18.75%,#ffb 0 69deg,#fb6 0 20%,#e74 0 20.42%,#f95 0 75deg,#ffc 0 21.25%,#cee 0 78deg,#eee 0 22.08%,#ffb 0 81deg,#fc8 0 23.75%,#fb6 0 87deg,#f95 0 25%,#e53 0 25.42%,#d43 0 93deg,#f95 0 26.25%,#fc8 0 96deg,#fb6 0 27.08%,#d43 0 27.92%,#fb6 0 102deg,#ffb 0 28.75%,#ffc 0 105deg,#fe9 0 30.42%,#ffc 0 111deg,#9cd 0 31.25%,#58b 0 114deg,#46a 0 32.08%,#8bd 0 32.5%,#bde 0 120deg,#eee 0 33.75%,#ffc 0 123deg,#8bd 0 34.58%,#69c 0 35%,#8bd 0 35.42%,#eee 0 129deg,#fb6 0 36.25%,#fc8 0 132deg,#fe9 0 37.92%,#fc8 0 138deg,#ffb 0 38.75%,#eee 0 141deg,#ffc 0 39.58%,#ffb 0 41.25%,#eee 0 150deg,#9cd 0 42.08%,#46a 0 42.92%,#8bd 0 156deg,#eee 0 43.75%,#ffc 0 159deg,#eee 0 45.42%,#ffc 0 165deg,#eee 0 168deg,#ffc 0 47.08%,#eee 0 47.5%,#fc8 0 47.92%,#f95 0 174deg,#ffb 0 48.75%,#bde 0 177deg,#9cd 0 49.58%,#eee 0 50%,#ffc 0 50.42%,#eee 0 183deg,#9cd 0 51.25%,#8bd 0 186deg,#bde 0 52.08%,#cee 0 52.5%,#ffc 0 52.92%,#fb6 0 192deg,#f95 0 53.75%,#eee 0 195deg,#cee 0 54.58%,#ffb 0 55%,#ffc 0 55.42%,#8bd 0 201deg,#46a 0 56.25%,#69c 0 204deg,#ffc 0 57.08%,#f95 0 57.5%,#d43 0 57.92%,#f95 0 210deg,#fe9 0 213deg,#fb6 0 59.58%,#fe9 0 60%,#ffb 0 60.42%,#eee 0 219deg,#cee 0 61.25%,#58b 0 222deg,#46a 0 62.08%,#8bd 0 62.5%,#bde 0 62.92%,#69c 0 228deg,#58b 0 63.75%,#cee 0 231deg,#ffb 0 64.58%,#cee 0 65%,#8bd 0 65.42%,#69c 0 237deg,#8bd 0 66.25%,#ffb 0 240deg,#fb6 0 67.08%,#ffb 0 67.5%,#eee 0 67.92%,#ffb 0 246deg,#ffc 0 68.75%,#cee 0 249deg,#bde 0 69.58%,#cee 0 70%,#fc8 0 70.42%,#e53 0 255deg,#d43 0 71.25%,#e53 0 258deg,#fb6 0 72.08%,#ffc 0 72.5%,#cee 0 72.92%,#fe9 0 264deg,#d43 0 267deg,#fe9 0 74.58%,#8bd 0 75%,#9cd 0 75.42%,#ffc 0 77.08%,#69c 0 77.5%,#46a 0 77.92%,#bde 0 282deg,#ffb 0 78.75%,#fc8 0 80%,#fe9 0 80.42%,#fb6 0 291deg,#e53 0 82.08%,#e74 0 82.5%,#fb6 0 83.75%,#fe9 0 84.58%,#cee 0 85%,#69c 0 85.42%,#cee 0 309deg,#fb6 0 86.25%,#f95 0 312deg,#fe9 0 87.08%,#ffc 0 87.92%,#eee 0 318deg,#ffb 0 88.75%,#e74 0 89.58%,#fe9 0 90%,#fc8 0 90.42%,#fb6 0 327deg,#cee 0 91.25%,#9cd 0 330deg,#ffc 0 92.08%,#fe9 0 92.5%,#eee 0 92.92%,#cee 0 336deg,#ffb 0 93.75%,#f95 0 339deg,#fb6 0 94.58%,#fe9 0 95%,#ffc 0 95.42%,#cee 0 345deg,#ffb 0 96.25%,#fb6 0 348deg,#fe9 0 97.08%,#ffc 0 97.5%,#8bd 0 97.92%,#9cd 0 354deg,#fe9 0 98.75%,#a12 0 99.58%,#fb6 0)"></i>
<i style="inset:-20.1px;background:conic-gradient(#bde 0 0.42%,#ffc 0 3deg,#eee 0 1.25%,#ffc 0 6deg,#fe9 0 9deg,#eee 0 2.92%,#cee 0 12deg,#ffc 0 3.75%,#ffb 0 15deg,#fe9 0 4.58%,#ffc 0 5%,#eee 0 5.42%,#ffc 0 21deg,#cee 0 6.25%,#69c 0 24deg,#cee 0 7.08%,#ffb 0 7.5%,#cee 0 7.92%,#69c 0 30deg,#8bd 0 8.75%,#bde 0 33deg,#ffc 0 9.58%,#eee 0 10.42%,#fe9 0 39deg,#d43 0 11.25%,#a12 0 12.08%,#c22 0 45deg,#e74 0 12.92%,#f95 0 48deg,#fb6 0 13.75%,#ffc 0 51deg,#bde 0 14.58%,#ffc 0 15%,#fc8 0 16.25%,#e74 0 60deg,#fb6 0 17.08%,#fe9 0 63deg,#cee 0 66deg,#bde 0 18.75%,#eee 0 69deg,#fc8 0 19.58%,#fb6 0 20%,#f95 0 75deg,#ffc 0 78deg,#ffb 0 81deg,#fb6 0 84deg,#fe9 0 23.75%,#fc8 0 87deg,#e53 0 24.58%,#d43 0 25.42%,#e53 0 93deg,#fb6 0 26.25%,#fe9 0 27.08%,#e53 0 27.92%,#fc8 0 102deg,#ffb 0 28.75%,#ffc 0 105deg,#ffb 0 29.58%,#fe9 0 30%,#fb6 0 30.42%,#fe9 0 111deg,#9cd 0 31.25%,#349 0 32.08%,#58b 0 32.5%,#cee 0 32.92%,#eee 0 120deg,#ffc 0 33.75%,#cee 0 123deg,#69c 0 34.58%,#8bd 0 35.42%,#cee 0 129deg,#fb6 0 36.25%,#f95 0 132deg,#ffb 0 37.08%,#eee 0 37.5%,#fe9 0 37.92%,#f95 0 138deg,#fc8 0 38.75%,#ffc 0 39.58%,#ffb 0 40%,#ffc 0 147deg,#fe9 0 41.25%,#ffb 0 150deg,#cee 0 42.08%,#46a 0 42.5%,#349 0 42.92%,#8bd 0 156deg,#ffc 0 43.75%,#ffb 0 159deg,#ffc 0 44.58%,#ffb 0 45%,#ffc 0 165deg,#cee 0 46.25%,#9cd 0 168deg,#bde 0 47.08%,#cee 0 47.5%,#ffb 0 47.92%,#f95 0 174deg,#fc8 0 48.75%,#bde 0 177deg,#9cd 0 49.58%,#cee 0 50%,#eee 0 183deg,#bde 0 51.25%,#cee 0 186deg,#eee 0 52.08%,#ffc 0 52.5%,#fe9 0 52.92%,#fb6 0 192deg,#fc8 0 53.75%,#9cd 0 54.58%,#ffb 0 55.42%,#eee 0 201deg,#9cd 0 56.25%,#cee 0 204deg,#fe9 0 57.08%,#f95 0 57.5%,#e74 0 57.92%,#fb6 0 210deg,#fe9 0 58.75%,#ffb 0 59.58%,#eee 0 60%,#ffb 0 219deg,#eee 0 61.25%,#8bd 0 62.08%,#cee 0 228deg,#bde 0 63.75%,#eee 0 231deg,#fe9 0 64.58%,#eee 0 65%,#cee 0 65.42%,#bde 0 66.25%,#fe9 0 240deg,#fc8 0 67.08%,#ffb 0 67.92%,#fe9 0 246deg,#eee 0 68.75%,#9cd 0 249deg,#8bd 0 69.58%,#bde 0 70%,#fe9 0 70.42%,#e74 0 255deg,#e53 0 71.25%,#e74 0 258deg,#f95 0 72.08%,#ffb 0 72.5%,#bde 0 72.92%,#eee 0 264deg,#e74 0 73.75%,#c22 0 267deg,#fc8 0 74.58%,#8bd 0 75%,#69c 0 75.42%,#eee 0 273deg,#ffc 0 76.25%,#ffb 0 77.08%,#bde 0 77.5%,#9cd 0 77.92%,#eee 0 282deg,#fe9 0 78.75%,#fb6 0 80%,#fe9 0 80.42%,#fc8 0 291deg,#e74 0 294deg,#fb6 0 82.08%,#e74 0 82.92%,#fb6 0 300deg,#fe9 0 83.75%,#ffc 0 84.58%,#eee 0 85%,#bde 0 85.42%,#ffc 0 309deg,#fb6 0 86.25%,#e53 0 312deg,#d43 0 87.08%,#e74 0 87.5%,#fe9 0 87.92%,#eee 0 318deg,#fb6 0 88.75%,#a12 0 89.58%,#f95 0 90%,#fb6 0 327deg,#eee 0 91.25%,#cee 0 330deg,#ffb 0 92.5%,#9cd 0 92.92%,#8bd 0 336deg,#ffc 0 93.75%,#fb6 0 339deg,#ffb 0 94.58%,#eee 0 345deg,#ffc 0 96.25%,#fe9 0 348deg,#ffc 0 97.08%,#bde 0 97.5%,#8bd 0 97.92%,#9cd 0 354deg,#fe9 0 98.75%,#a12 0 357deg,#c22 0 99.58%,#ffc 0)"></i>
<i style="inset:-18.5px;background:conic-gradient(#8bd 0 0.42%,#bde 0 1.25%,#eee 0 6deg,#fc8 0 9deg,#ffb 0 12deg,#fc8 0 3.75%,#fb6 0 15deg,#fc8 0 4.58%,#ffc 0 5%,#eee 0 5.42%,#fe9 0 21deg,#cee 0 6.25%,#69c 0 24deg,#bde 0 7.08%,#fe9 0 7.5%,#eee 0 7.92%,#8bd 0 8.75%,#bde 0 33deg,#eee 0 9.58%,#ffc 0 10%,#ffb 0 10.42%,#fb6 0 39deg,#e53 0 11.25%,#d43 0 42deg,#e53 0 12.08%,#e74 0 45deg,#fe9 0 12.92%,#ffb 0 13.75%,#ffc 0 51deg,#cee 0 14.58%,#ffc 0 15%,#fc8 0 15.42%,#fe9 0 57deg,#fc8 0 16.25%,#e74 0 17.08%,#fb6 0 63deg,#ffb 0 17.92%,#eee 0 66deg,#cee 0 18.75%,#eee 0 69deg,#fc8 0 20%,#fe9 0 20.42%,#ffb 0 75deg,#eee 0 21.25%,#ffb 0 78deg,#fc8 0 22.08%,#fe9 0 81deg,#fc8 0 84deg,#ffc 0 23.75%,#fe9 0 87deg,#e53 0 24.58%,#c22 0 25%,#e53 0 25.42%,#fc8 0 93deg,#ffb 0 26.25%,#ffc 0 27.08%,#f95 0 99deg,#e53 0 27.92%,#f95 0 102deg,#fe9 0 28.75%,#ffb 0 105deg,#ffc 0 29.58%,#fe9 0 30%,#fb6 0 111deg,#bde 0 31.25%,#349 0 32.08%,#8bd 0 32.5%,#ffc 0 32.92%,#ffb 0 120deg,#fe9 0 33.75%,#cee 0 123deg,#9cd 0 34.58%,#cee 0 35%,#bde 0 35.42%,#cee 0 129deg,#fc8 0 132deg,#eee 0 37.08%,#cee 0 37.5%,#fc8 0 37.92%,#e74 0 138deg,#fb6 0 38.75%,#fe9 0 141deg,#ffb 0 40%,#eee 0 147deg,#fe9 0 41.25%,#fc8 0 150deg,#ffc 0 42.08%,#69c 0 42.5%,#46a 0 42.92%,#bde 0 156deg,#ffb 0 159deg,#fe9 0 44.58%,#ffb 0 45%,#eee 0 45.42%,#ffc 0 165deg,#eee 0 46.25%,#bde 0 168deg,#cee 0 47.08%,#eee 0 47.92%,#fc8 0 174deg,#fb6 0 48.75%,#ffc 0 177deg,#cee 0 50%,#eee 0 50.42%,#ffc 0 183deg,#eee 0 51.25%,#fe9 0 52.5%,#fc8 0 52.92%,#fb6 0 192deg,#fe9 0 53.75%,#9cd 0 195deg,#8bd 0 54.58%,#cee 0 55.42%,#eee 0 56.25%,#ffb 0 204deg,#fe9 0 57.08%,#fc8 0 57.92%,#fe9 0 210deg,#ffb 0 58.75%,#ffc 0 213deg,#eee 0 60%,#fc8 0 219deg,#ffc 0 61.25%,#bde 0 222deg,#cee 0 62.08%,#ffc 0 62.5%,#eee 0 62.92%,#ffc 0 228deg,#ffb 0 231deg,#fe9 0 64.58%,#ffb 0 65%,#eee 0 65.42%,#cee 0 66.25%,#ffb 0 240deg,#ffc 0 67.08%,#bde 0 67.5%,#eee 0 67.92%,#ffb 0 246deg,#ffc 0 68.75%,#cee 0 249deg,#8bd 0 70%,#ffb 0 70.42%,#fc8 0 255deg,#fb6 0 71.25%,#f95 0 72.08%,#fe9 0 72.5%,#eee 0 264deg,#fb6 0 73.75%,#e53 0 267deg,#fb6 0 74.58%,#bde 0 75%,#8bd 0 75.42%,#cee 0 273deg,#ffc 0 76.25%,#ffb 0 276deg,#fb6 0 77.08%,#fe9 0 77.5%,#ffc 0 77.92%,#ffb 0 78.75%,#fc8 0 285deg,#fb6 0 80%,#fc8 0 291deg,#f95 0 294deg,#fc8 0 82.08%,#fb6 0 82.5%,#e74 0 82.92%,#f95 0 300deg,#fc8 0 83.75%,#ffc 0 303deg,#eee 0 84.58%,#ffc 0 85%,#eee 0 85.42%,#ffc 0 309deg,#fc8 0 86.25%,#e53 0 312deg,#c22 0 87.08%,#e53 0 87.5%,#fc8 0 318deg,#e74 0 88.75%,#a12 0 89.58%,#e53 0 90%,#fb6 0 90.42%,#fe9 0 327deg,#eee 0 91.25%,#ffc 0 330deg,#fe9 0 92.08%,#ffc 0 92.5%,#9cd 0 92.92%,#8bd 0 336deg,#ffc 0 93.75%,#fc8 0 339deg,#eee 0 94.58%,#9cd 0 95%,#bde 0 95.42%,#ffc 0 348deg,#9cd 0 97.5%,#8bd 0 97.92%,#bde 0 354deg,#ffc 0 98.75%,#e74 0 357deg,#f95 0 99.58%,#cee 0)"></i>
<i style="inset:-16.9px;background:conic-gradient(#8bd 0 0.42%,#9cd 0 1.25%,#ffc 0 6deg,#fc8 0 2.08%,#fb6 0 2.92%,#fc8 0 12deg,#fb6 0 15deg,#fe9 0 4.58%,#cee 0 5%,#ffc 0 5.42%,#fc8 0 21deg,#eee 0 6.25%,#bde 0 24deg,#ffc 0 7.08%,#fc8 0 7.92%,#eee 0 30deg,#9cd 0 8.75%,#cee 0 10%,#ffc 0 10.42%,#fe9 0 39deg,#fc8 0 11.25%,#fe9 0 45deg,#ffb 0 12.92%,#ffc 0 13.75%,#cee 0 14.58%,#ffb 0 15%,#fe9 0 15.42%,#ffc 0 16.25%,#fc8 0 60deg,#fb6 0 17.08%,#fe9 0 63deg,#ffb 0 17.92%,#eee 0 66deg,#ffc 0 69deg,#fe9 0 20%,#eee 0 21.25%,#ffb 0 78deg,#fc8 0 22.08%,#fe9 0 81deg,#ffb 0 22.92%,#ffc 0 84deg,#eee 0 23.75%,#ffb 0 87deg,#fb6 0 24.58%,#e74 0 25%,#f95 0 25.42%,#ffc 0 93deg,#ffb 0 96deg,#eee 0 27.08%,#ffb 0 99deg,#fc8 0 105deg,#ffb 0 29.58%,#fe9 0 30%,#fc8 0 30.42%,#fe9 0 111deg,#ffc 0 31.25%,#9cd 0 32.08%,#eee 0 32.5%,#ffb 0 33.75%,#bde 0 123deg,#cee 0 34.58%,#ffc 0 35%,#eee 0 35.42%,#ffc 0 36.25%,#eee 0 132deg,#9cd 0 37.08%,#cee 0 37.5%,#fc8 0 37.92%,#fb6 0 138deg,#fe9 0 141deg,#ffc 0 39.58%,#fe9 0 40%,#ffc 0 40.42%,#eee 0 147deg,#ffb 0 41.25%,#fc8 0 150deg,#ffb 0 42.08%,#9cd 0 42.5%,#69c 0 42.92%,#cee 0 156deg,#ffc 0 159deg,#fe9 0 44.58%,#ffc 0 45%,#bde 0 45.42%,#cee 0 165deg,#ffc 0 46.25%,#ffb 0 168deg,#fe9 0 47.08%,#ffb 0 47.5%,#eee 0 47.92%,#ffc 0 174deg,#fe9 0 48.75%,#fc8 0 177deg,#ffc 0 49.58%,#cee 0 50.42%,#ffc 0 51.25%,#fe9 0 186deg,#fc8 0 52.08%,#fe9 0 53.75%,#eee 0 195deg,#bde 0 54.58%,#cee 0 55%,#bde 0 55.42%,#eee 0 201deg,#ffc 0 56.25%,#ffb 0 57.08%,#fe9 0 57.5%,#fc8 0 57.92%,#fe9 0 210deg,#ffb 0 58.75%,#ffc 0 60%,#fc8 0 60.42%,#ffb 0 219deg,#eee 0 61.25%,#cee 0 222deg,#ffc 0 62.08%,#eee 0 62.5%,#cee 0 62.92%,#eee 0 228deg,#fe9 0 63.75%,#fb6 0 231deg,#fc8 0 64.58%,#fe9 0 65%,#eee 0 65.42%,#bde 0 237deg,#eee 0 240deg,#cee 0 67.08%,#9cd 0 67.92%,#cee 0 246deg,#ffc 0 249deg,#9cd 0 69.58%,#bde 0 70%,#eee 0 255deg,#ffb 0 71.25%,#fc8 0 258deg,#fb6 0 72.08%,#fe9 0 72.5%,#ffb 0 72.92%,#ffc 0 264deg,#fe9 0 73.75%,#fc8 0 267deg,#fe9 0 74.58%,#ffc 0 75%,#bde 0 75.42%,#cee 0 273deg,#bde 0 76.25%,#eee 0 276deg,#fc8 0 77.08%,#fe9 0 77.92%,#ffb 0 282deg,#ffc 0 78.75%,#fe9 0 285deg,#fb6 0 79.58%,#fe9 0 80%,#fc8 0 80.42%,#fe9 0 291deg,#fc8 0 294deg,#fe9 0 82.08%,#ffb 0 82.5%,#fc8 0 82.92%,#fb6 0 83.75%,#ffc 0 303deg,#eee 0 84.58%,#ffc 0 309deg,#fe9 0 86.25%,#f95 0 312deg,#e74 0 87.08%,#fc8 0 87.5%,#ffb 0 87.92%,#fb6 0 318deg,#f95 0 88.75%,#e53 0 89.58%,#f95 0 90%,#fb6 0 90.42%,#ffb 0 327deg,#ffc 0 91.25%,#fe9 0 92.08%,#ffc 0 92.5%,#cee 0 336deg,#ffc 0 93.75%,#fc8 0 339deg,#ffc 0 94.58%,#8bd 0 95%,#bde 0 95.42%,#ffb 0 96.25%,#cee 0 348deg,#9cd 0 97.08%,#bde 0 97.5%,#cee 0 97.92%,#bde 0 354deg,#cee 0 98.75%,#ffb 0 357deg,#ffc 0 99.58%,#eee 0)"></i>
<i style="inset:-16px;background:conic-gradient(#9cd 0 0.42%,#eee 0 3deg,#bde 0 1.25%,#eee 0 6deg,#ffb 0 2.08%,#fc8 0 9deg,#ffb 0 2.92%,#ffc 0 12deg,#fe9 0 3.75%,#ffb 0 15deg,#ffc 0 4.58%,#eee 0 5%,#ffb 0 21deg,#eee 0 6.25%,#ffb 0 24deg,#fc8 0 7.92%,#ffb 0 30deg,#eee 0 33deg,#cee 0 9.58%,#eee 0 10%,#cee 0 42deg,#eee 0 12.08%,#fe9 0 45deg,#fb6 0 12.92%,#ffb 0 13.75%,#eee 0 51deg,#cee 0 14.58%,#ffc 0 15%,#eee 0 15.42%,#ffc 0 16.25%,#cee 0 60deg,#ffc 0 17.08%,#eee 0 63deg,#ffc 0 66deg,#eee 0 18.75%,#cee 0 69deg,#ffb 0 19.58%,#ffc 0 20%,#eee 0 20.42%,#ffb 0 75deg,#eee 0 21.25%,#fe9 0 81deg,#ffc 0 22.92%,#eee 0 84deg,#ffc 0 23.75%,#eee 0 87deg,#ffc 0 24.58%,#fe9 0 25%,#ffb 0 25.42%,#eee 0 93deg,#fe9 0 96deg,#ffc 0 27.08%,#eee 0 99deg,#cee 0 27.92%,#fe9 0 102deg,#ffb 0 28.75%,#fe9 0 105deg,#ffb 0 29.58%,#fe9 0 30%,#ffb 0 30.42%,#ffc 0 114deg,#eee 0 32.08%,#fe9 0 32.5%,#ffc 0 32.92%,#cee 0 120deg,#ffb 0 33.75%,#9cd 0 123deg,#ffc 0 35%,#cee 0 35.42%,#fe9 0 129deg,#eee 0 132deg,#cee 0 37.08%,#eee 0 37.5%,#ffc 0 138deg,#eee 0 38.75%,#ffc 0 141deg,#cee 0 39.58%,#ffb 0 40%,#ffc 0 147deg,#eee 0 41.25%,#fe9 0 150deg,#ffb 0 42.08%,#bde 0 42.5%,#cee 0 156deg,#eee 0 43.75%,#cee 0 159deg,#ffb 0 44.58%,#cee 0 45%,#9cd 0 45.42%,#cee 0 165deg,#ffc 0 46.25%,#ffb 0 168deg,#fb6 0 47.08%,#fe9 0 47.5%,#ffc 0 47.92%,#cee 0 174deg,#ffc 0 48.75%,#ffb 0 177deg,#ffc 0 49.58%,#cee 0 50.42%,#eee 0 183deg,#ffc 0 51.25%,#ffb 0 186deg,#fe9 0 52.08%,#ffb 0 52.5%,#ffc 0 52.92%,#ffb 0 192deg,#fe9 0 195deg,#eee 0 201deg,#ffc 0 57.5%,#fc8 0 57.92%,#fe9 0 210deg,#ffb 0 58.75%,#ffc 0 60%,#fe9 0 60.42%,#ffc 0 219deg,#bde 0 61.25%,#ffc 0 62.92%,#eee 0 228deg,#ffb 0 63.75%,#fe9 0 65%,#cee 0 237deg,#ffc 0 66.25%,#eee 0 240deg,#ffc 0 67.5%,#9cd 0 67.92%,#ffc 0 246deg,#eee 0 68.75%,#ffb 0 249deg,#cee 0 69.58%,#eee 0 255deg,#cee 0 71.25%,#ffb 0 258deg,#fc8 0 72.08%,#ffc 0 72.5%,#ffb 0 72.92%,#cee 0 264deg,#ffc 0 73.75%,#eee 0 267deg,#ffc 0 74.58%,#ffb 0 75%,#cee 0 75.42%,#eee 0 76.25%,#cee 0 276deg,#ffc 0 77.08%,#eee 0 77.5%,#ffc 0 77.92%,#fe9 0 282deg,#eee 0 78.75%,#ffb 0 285deg,#fe9 0 79.58%,#eee 0 80%,#ffb 0 80.42%,#eee 0 291deg,#ffb 0 294deg,#ffc 0 82.08%,#eee 0 82.5%,#ffc 0 82.92%,#fc8 0 83.75%,#ffc 0 303deg,#ffb 0 84.58%,#ffc 0 85.42%,#fc8 0 309deg,#fb6 0 86.25%,#fc8 0 312deg,#fe9 0 87.08%,#ffb 0 87.92%,#fc8 0 318deg,#ffb 0 321deg,#fe9 0 90.42%,#ffb 0 327deg,#fe9 0 330deg,#fc8 0 92.08%,#fe9 0 92.92%,#eee 0 93.75%,#fe9 0 339deg,#ffb 0 94.58%,#bde 0 95%,#eee 0 95.42%,#fe9 0 96.25%,#ffc 0 348deg,#eee 0 97.08%,#ffc 0 97.5%,#eee 0 354deg,#ffc 0 98.75%,#ffb 0 357deg,#bde 0 99.58%,#fe9 0)"></i>
<i style="inset:-13.5px;background:conic-gradient(#eee 0 0.42%,#fe9 0 3deg,#bde 0 1.25%,#eee 0 6deg,#ffc 0 9deg,#cee 0 2.92%,#ffc 0 12deg,#fe9 0 3.75%,#ffc 0 15deg,#cee 0 4.58%,#ffc 0 5%,#fe9 0 5.42%,#eee 0 21deg,#cee 0 6.25%,#fe9 0 24deg,#fc8 0 7.92%,#ffb 0 30deg,#cee 0 8.75%,#ffc 0 33deg,#eee 0 9.58%,#fe9 0 10%,#eee 0 10.42%,#bde 0 42deg,#cee 0 12.08%,#fe9 0 45deg,#e74 0 12.92%,#fe9 0 13.75%,#ffc 0 15%,#cee 0 15.42%,#ffb 0 16.25%,#cee 0 60deg,#ffc 0 17.08%,#eee 0 63deg,#ffc 0 17.92%,#fe9 0 66deg,#bde 0 18.75%,#cee 0 69deg,#ffb 0 19.58%,#bde 0 20%,#ffb 0 20.42%,#fe9 0 75deg,#cee 0 21.25%,#ffb 0 78deg,#ffc 0 22.08%,#fe9 0 81deg,#ffb 0 22.92%,#eee 0 87deg,#ffb 0 25%,#eee 0 25.42%,#ffc 0 93deg,#ffb 0 26.25%,#fe9 0 27.08%,#ffc 0 99deg,#bde 0 27.92%,#ffb 0 102deg,#cee 0 28.75%,#ffb 0 105deg,#cee 0 29.58%,#ffb 0 30%,#ffc 0 30.42%,#eee 0 111deg,#ffb 0 31.25%,#fc8 0 114deg,#ffb 0 32.08%,#fe9 0 32.5%,#bde 0 32.92%,#cee 0 120deg,#fe9 0 33.75%,#cee 0 123deg,#eee 0 35%,#cee 0 35.42%,#fe9 0 129deg,#eee 0 132deg,#ffc 0 141deg,#eee 0 39.58%,#ffb 0 41.25%,#fe9 0 150deg,#fc8 0 42.08%,#eee 0 42.5%,#cee 0 42.92%,#ffc 0 43.75%,#cee 0 159deg,#fe9 0 44.58%,#eee 0 45%,#bde 0 45.42%,#eee 0 165deg,#ffc 0 46.25%,#ffb 0 168deg,#e74 0 47.08%,#ffb 0 47.5%,#eee 0 47.92%,#bde 0 174deg,#eee 0 48.75%,#ffc 0 177deg,#fe9 0 49.58%,#cee 0 50.42%,#eee 0 183deg,#ffb 0 51.25%,#fc8 0 186deg,#fe9 0 52.08%,#fc8 0 52.5%,#ffb 0 192deg,#eee 0 53.75%,#fe9 0 195deg,#ffc 0 201deg,#fe9 0 56.25%,#fc8 0 204deg,#ffb 0 57.08%,#ffc 0 210deg,#ffb 0 58.75%,#ffc 0 60%,#fc8 0 60.42%,#ffb 0 219deg,#cee 0 61.25%,#ffc 0 222deg,#ffb 0 62.08%,#ffc 0 62.5%,#fe9 0 62.92%,#ffb 0 228deg,#ffc 0 63.75%,#cee 0 231deg,#fe9 0 65%,#eee 0 65.42%,#cee 0 237deg,#eee 0 240deg,#ffc 0 67.08%,#fe9 0 67.5%,#ffb 0 67.92%,#fe9 0 246deg,#eee 0 68.75%,#fc8 0 249deg,#ffc 0 70%,#eee 0 70.42%,#ffb 0 255deg,#bde 0 71.25%,#eee 0 258deg,#ffc 0 72.08%,#eee 0 72.5%,#ffb 0 72.92%,#bde 0 264deg,#eee 0 267deg,#ffb 0 74.58%,#ffc 0 75%,#bde 0 75.42%,#cee 0 273deg,#ffc 0 76.25%,#fe9 0 276deg,#eee 0 77.08%,#cee 0 77.5%,#ffc 0 77.92%,#fc8 0 282deg,#ffc 0 78.75%,#fe9 0 285deg,#ffb 0 79.58%,#eee 0 291deg,#ffc 0 294deg,#eee 0 82.08%,#ffc 0 82.5%,#cee 0 82.92%,#fb6 0 300deg,#ffb 0 83.75%,#eee 0 303deg,#fe9 0 85%,#ffc 0 85.42%,#fc8 0 309deg,#fe9 0 86.25%,#ffb 0 87.08%,#eee 0 87.5%,#fe9 0 87.92%,#fc8 0 318deg,#ffb 0 88.75%,#eee 0 89.58%,#ffc 0 90%,#ffb 0 90.42%,#fe9 0 327deg,#ffb 0 330deg,#fe9 0 92.08%,#ffb 0 92.5%,#fc8 0 92.92%,#eee 0 336deg,#cee 0 93.75%,#ffb 0 339deg,#fe9 0 94.58%,#eee 0 95%,#ffc 0 95.42%,#ffb 0 345deg,#fb6 0 96.25%,#ffb 0 348deg,#cee 0 97.08%,#ffb 0 97.5%,#cee 0 97.92%,#ffb 0 354deg,#fc8 0 98.75%,#ffb 0 357deg,#cee 0 99.58%,#fe9 0)"></i>
<i style="inset:-11px;background:conic-gradient(#fe9 0 0.42%,#fb6 0 3deg,#cee 0 1.25%,#eee 0 6deg,#ffc 0 9deg,#eee 0 2.92%,#ffc 0 15deg,#cee 0 4.58%,#ffc 0 5%,#fe9 0 5.42%,#eee 0 21deg,#cee 0 6.25%,#fe9 0 7.92%,#eee 0 30deg,#cee 0 8.75%,#ffb 0 33deg,#ffc 0 9.58%,#fe9 0 10%,#cee 0 39deg,#eee 0 42deg,#ffc 0 12.08%,#fc8 0 45deg,#fb6 0 12.92%,#fe9 0 13.75%,#fc8 0 51deg,#ffc 0 14.58%,#ffb 0 15%,#bde 0 15.42%,#ffb 0 57deg,#fe9 0 16.25%,#ffb 0 60deg,#ffc 0 17.08%,#eee 0 63deg,#ffc 0 17.92%,#fc8 0 66deg,#bde 0 18.75%,#eee 0 69deg,#ffb 0 19.58%,#bde 0 20%,#ffb 0 20.42%,#fc8 0 75deg,#ffc 0 21.25%,#ffb 0 78deg,#eee 0 81deg,#ffc 0 22.92%,#eee 0 84deg,#cee 0 23.75%,#ffc 0 87deg,#ffb 0 25%,#ffc 0 26.25%,#ffb 0 96deg,#fe9 0 99deg,#ffc 0 102deg,#eee 0 28.75%,#ffb 0 105deg,#cee 0 29.58%,#eee 0 30%,#ffc 0 30.42%,#cee 0 111deg,#fc8 0 31.25%,#fe9 0 114deg,#ffb 0 32.5%,#bde 0 32.92%,#eee 0 120deg,#fe9 0 33.75%,#ffb 0 123deg,#eee 0 34.58%,#cee 0 35.42%,#ffb 0 129deg,#cee 0 132deg,#eee 0 37.08%,#ffc 0 37.5%,#fe9 0 37.92%,#ffc 0 38.75%,#fc8 0 141deg,#ffb 0 39.58%,#ffc 0 40.42%,#eee 0 147deg,#ffc 0 150deg,#fc8 0 42.08%,#ffc 0 42.5%,#cee 0 42.92%,#fe9 0 156deg,#ffc 0 43.75%,#ffb 0 159deg,#fb6 0 44.58%,#ffb 0 45%,#ffc 0 45.42%,#cee 0 165deg,#ffc 0 46.25%,#fe9 0 168deg,#f95 0 47.08%,#ffb 0 47.5%,#ffc 0 47.92%,#bde 0 174deg,#cee 0 48.75%,#eee 0 177deg,#ffb 0 49.58%,#eee 0 50.42%,#ffc 0 183deg,#fe9 0 186deg,#fc8 0 52.08%,#fe9 0 52.5%,#fc8 0 52.92%,#ffb 0 192deg,#cee 0 53.75%,#fe9 0 195deg,#ffc 0 54.58%,#ffb 0 55%,#fe9 0 55.42%,#ffb 0 201deg,#fc8 0 204deg,#ffb 0 57.5%,#eee 0 58.75%,#ffc 0 213deg,#ffb 0 59.58%,#ffc 0 60%,#ffb 0 219deg,#eee 0 222deg,#ffb 0 62.5%,#fe9 0 62.92%,#ffb 0 228deg,#bde 0 63.75%,#cee 0 231deg,#fe9 0 65.42%,#cee 0 66.25%,#bde 0 240deg,#cee 0 67.08%,#fe9 0 67.5%,#fc8 0 67.92%,#fe9 0 246deg,#ffb 0 68.75%,#fe9 0 69.58%,#fc8 0 70%,#cee 0 70.42%,#fe9 0 255deg,#cee 0 71.25%,#9cd 0 258deg,#cee 0 72.08%,#ffb 0 72.92%,#9cd 0 264deg,#eee 0 73.75%,#ffb 0 267deg,#fe9 0 74.58%,#eee 0 75%,#cee 0 75.42%,#eee 0 273deg,#ffc 0 76.25%,#ffb 0 276deg,#ffc 0 77.08%,#eee 0 77.5%,#ffc 0 77.92%,#f95 0 282deg,#ffb 0 285deg,#ffc 0 80%,#cee 0 80.42%,#ffc 0 291deg,#ffb 0 81.25%,#ffc 0 82.08%,#fb6 0 82.5%,#ffc 0 82.92%,#fc8 0 300deg,#eee 0 83.75%,#cee 0 303deg,#ffb 0 85%,#fe9 0 309deg,#ffc 0 86.25%,#ffb 0 312deg,#fe9 0 87.08%,#ffc 0 87.5%,#eee 0 87.92%,#fc8 0 88.75%,#ffc 0 321deg,#cee 0 90%,#eee 0 327deg,#ffb 0 91.25%,#fe9 0 92.08%,#ffb 0 92.5%,#fc8 0 92.92%,#ffc 0 336deg,#eee 0 93.75%,#ffc 0 339deg,#ffb 0 95.42%,#cee 0 345deg,#fc8 0 96.25%,#ffc 0 348deg,#cee 0 97.08%,#ffb 0 97.5%,#bde 0 97.92%,#ffc 0 354deg,#fe9 0 98.75%,#ffc 0 99.58%,#eee 0)"></i>
<i style="inset:-8.5px;background:conic-gradient(#fc8 0 0.42%,#f95 0 3deg,#ffb 0 1.25%,#eee 0 9deg,#cee 0 12deg,#bde 0 3.75%,#fe9 0 4.58%,#ffc 0 5.42%,#eee 0 6.25%,#fc8 0 24deg,#ffb 0 7.08%,#ffc 0 7.5%,#eee 0 7.92%,#bde 0 30deg,#cee 0 8.75%,#ffb 0 33deg,#ffc 0 9.58%,#ffb 0 10%,#cee 0 39deg,#eee 0 11.25%,#ffc 0 12.08%,#fe9 0 45deg,#ffb 0 48deg,#fe9 0 13.75%,#fb6 0 51deg,#ffb 0 14.58%,#eee 0 15%,#9cd 0 15.42%,#eee 0 57deg,#fe9 0 16.25%,#fc8 0 60deg,#ffc 0 63deg,#ffb 0 66deg,#bde 0 18.75%,#eee 0 69deg,#ffb 0 19.58%,#eee 0 20%,#ffb 0 20.42%,#fb6 0 75deg,#fc8 0 21.25%,#fe9 0 78deg,#cee 0 81deg,#eee 0 22.92%,#cee 0 84deg,#eee 0 23.75%,#ffb 0 87deg,#ffc 0 24.58%,#ffb 0 25%,#ffc 0 25.42%,#cee 0 93deg,#ffc 0 26.25%,#eee 0 96deg,#ffc 0 27.08%,#ffb 0 27.92%,#eee 0 28.75%,#ffb 0 105deg,#eee 0 30.42%,#9cd 0 111deg,#ffb 0 31.25%,#eee 0 114deg,#ffc 0 32.08%,#eee 0 32.5%,#cee 0 32.92%,#eee 0 120deg,#ffb 0 123deg,#eee 0 34.58%,#cee 0 35.42%,#ffc 0 129deg,#cee 0 36.25%,#bde 0 132deg,#ffc 0 37.08%,#ffb 0 37.5%,#fc8 0 37.92%,#cee 0 138deg,#eee 0 38.75%,#fc8 0 141deg,#ffb 0 39.58%,#cee 0 40%,#bde 0 40.42%,#eee 0 147deg,#ffc 0 41.25%,#eee 0 150deg,#fc8 0 42.08%,#ffb 0 42.5%,#eee 0 42.92%,#fc8 0 156deg,#fe9 0 43.75%,#ffb 0 159deg,#fb6 0 44.58%,#fe9 0 45%,#eee 0 45.42%,#bde 0 165deg,#ffc 0 46.25%,#ffb 0 47.5%,#fe9 0 47.92%,#ffc 0 174deg,#bde 0 48.75%,#eee 0 49.58%,#cee 0 50%,#ffc 0 50.42%,#ffb 0 183deg,#fe9 0 51.25%,#ffb 0 52.5%,#fc8 0 52.92%,#ffc 0 192deg,#eee 0 53.75%,#fc8 0 195deg,#ffb 0 55%,#fb6 0 55.42%,#fc8 0 201deg,#fe9 0 204deg,#ffc 0 57.5%,#eee 0 58.75%,#ffc 0 213deg,#fe9 0 59.58%,#ffb 0 60%,#ffc 0 60.42%,#ffb 0 219deg,#eee 0 61.25%,#9cd 0 222deg,#ffc 0 62.08%,#ffb 0 62.5%,#fe9 0 62.92%,#ffb 0 228deg,#8bd 0 63.75%,#cee 0 231deg,#ffb 0 65%,#fe9 0 65.42%,#eee 0 237deg,#cee 0 66.25%,#bde 0 67.08%,#fb6 0 67.92%,#fe9 0 246deg,#fb6 0 68.75%,#ffc 0 249deg,#fe9 0 69.58%,#fb6 0 70%,#bde 0 70.42%,#fe9 0 255deg,#eee 0 71.25%,#8bd 0 258deg,#eee 0 72.08%,#fe9 0 72.5%,#ffc 0 72.92%,#9cd 0 264deg,#cee 0 73.75%,#ffc 0 267deg,#ffb 0 74.58%,#eee 0 75.42%,#ffc 0 273deg,#cee 0 76.25%,#eee 0 276deg,#fe9 0 77.08%,#ffb 0 77.5%,#eee 0 77.92%,#fb6 0 282deg,#fe9 0 78.75%,#eee 0 285deg,#cee 0 79.58%,#ffc 0 291deg,#fe9 0 81.25%,#ffc 0 82.08%,#fe9 0 82.5%,#ffb 0 300deg,#cee 0 83.75%,#ffc 0 303deg,#eee 0 84.58%,#ffc 0 85%,#fe9 0 309deg,#eee 0 86.25%,#ffb 0 312deg,#fe9 0 87.08%,#ffc 0 87.5%,#bde 0 87.92%,#ffc 0 318deg,#fc8 0 88.75%,#fe9 0 321deg,#eee 0 89.58%,#cee 0 90%,#bde 0 90.42%,#cee 0 327deg,#ffb 0 91.25%,#fc8 0 330deg,#fe9 0 92.92%,#ffc 0 336deg,#ffb 0 93.75%,#eee 0 339deg,#ffc 0 94.58%,#eee 0 95%,#ffb 0 95.42%,#cee 0 345deg,#ffc 0 96.25%,#cee 0 348deg,#eee 0 97.08%,#ffb 0 97.5%,#cee 0 354deg,#ffc 0 98.75%,#eee 0 357deg,#ffc 0)"></i>
<i style="inset:-6px;background:conic-gradient(#ffb 0 0.42%,#fe9 0 3deg,#ffb 0 1.25%,#ffc 0 6deg,#cee 0 2.08%,#ffb 0 9deg,#eee 0 2.92%,#cee 0 12deg,#bde 0 3.75%,#fe9 0 15deg,#fb6 0 4.58%,#ffb 0 5%,#ffc 0 21deg,#eee 0 6.25%,#fc8 0 24deg,#ffb 0 7.08%,#eee 0 7.5%,#cee 0 8.75%,#ffb 0 9.58%,#fe9 0 10%,#eee 0 10.42%,#cee 0 39deg,#ffb 0 42deg,#eee 0 12.08%,#ffc 0 45deg,#cee 0 12.92%,#ffb 0 48deg,#fe9 0 13.75%,#fc8 0 51deg,#ffb 0 14.58%,#eee 0 15%,#9cd 0 15.42%,#cee 0 57deg,#ffb 0 16.25%,#fe9 0 60deg,#eee 0 17.08%,#ffb 0 63deg,#fe9 0 17.92%,#ffb 0 66deg,#cee 0 18.75%,#eee 0 69deg,#ffc 0 19.58%,#ffb 0 20.42%,#fb6 0 75deg,#fc8 0 21.25%,#fe9 0 78deg,#ffc 0 22.08%,#eee 0 81deg,#ffc 0 22.92%,#eee 0 84deg,#fe9 0 23.75%,#fb6 0 87deg,#ffc 0 24.58%,#eee 0 25%,#cee 0 96deg,#eee 0 99deg,#ffc 0 27.92%,#cee 0 102deg,#eee 0 28.75%,#fc8 0 105deg,#ffc 0 29.58%,#eee 0 30.42%,#8bd 0 111deg,#ffc 0 114deg,#ffb 0 32.08%,#eee 0 32.5%,#bde 0 32.92%,#ffc 0 33.75%,#eee 0 34.58%,#ffc 0 35%,#eee 0 129deg,#cee 0 36.25%,#bde 0 132deg,#fe9 0 37.08%,#ffb 0 37.5%,#fc8 0 37.92%,#cee 0 38.75%,#ffc 0 39.58%,#cee 0 40%,#9cd 0 40.42%,#cee 0 147deg,#eee 0 150deg,#ffb 0 42.08%,#ffc 0 42.5%,#cee 0 42.92%,#fe9 0 156deg,#fb6 0 43.75%,#ffc 0 159deg,#fe9 0 45%,#eee 0 46.25%,#ffc 0 168deg,#eee 0 47.08%,#ffb 0 47.92%,#fe9 0 174deg,#bde 0 48.75%,#cee 0 177deg,#ffc 0 49.58%,#eee 0 50%,#ffc 0 50.42%,#eee 0 183deg,#ffc 0 51.25%,#fe9 0 186deg,#ffb 0 52.08%,#ffc 0 52.5%,#fe9 0 52.92%,#eee 0 192deg,#ffb 0 53.75%,#fe9 0 55%,#fc8 0 201deg,#ffc 0 56.25%,#fe9 0 204deg,#eee 0 57.08%,#ffc 0 57.5%,#eee 0 57.92%,#ffc 0 213deg,#fc8 0 59.58%,#fe9 0 60.42%,#ffb 0 219deg,#eee 0 61.25%,#9cd 0 222deg,#ffc 0 62.5%,#fe9 0 62.92%,#eee 0 228deg,#8bd 0 63.75%,#cee 0 231deg,#ffb 0 237deg,#eee 0 240deg,#cee 0 67.08%,#fc8 0 67.5%,#fe9 0 67.92%,#ffb 0 246deg,#fb6 0 68.75%,#eee 0 249deg,#fe9 0 70%,#cee 0 70.42%,#fe9 0 255deg,#ffb 0 71.25%,#eee 0 258deg,#fc8 0 72.08%,#fe9 0 72.5%,#9cd 0 72.92%,#bde 0 264deg,#cee 0 267deg,#ffc 0 74.58%,#eee 0 75%,#ffb 0 75.42%,#fe9 0 273deg,#bde 0 76.25%,#cee 0 276deg,#fe9 0 77.5%,#ffc 0 77.92%,#fe9 0 282deg,#fc8 0 78.75%,#cee 0 285deg,#bde 0 79.58%,#eee 0 80%,#ffc 0 80.42%,#eee 0 291deg,#fe9 0 81.25%,#ffb 0 294deg,#cee 0 82.08%,#eee 0 82.5%,#ffb 0 82.92%,#eee 0 300deg,#bde 0 83.75%,#ffb 0 303deg,#ffc 0 85.42%,#ffb 0 309deg,#cee 0 86.25%,#ffc 0 87.5%,#cee 0 87.92%,#eee 0 318deg,#ffb 0 321deg,#cee 0 90%,#ffc 0 90.42%,#cee 0 327deg,#ffc 0 330deg,#fe9 0 92.08%,#ffb 0 92.5%,#ffc 0 92.92%,#eee 0 336deg,#ffb 0 94.58%,#cee 0 95%,#ffc 0 95.42%,#cee 0 96.25%,#bde 0 348deg,#ffc 0 97.08%,#fe9 0 97.5%,#ffc 0 357deg,#ffb 0)"></i>
<i style="inset:-3.5px;background:conic-gradient(#ffc 0 0.42%,#ffb 0 3deg,#ffc 0 6deg,#cee 0 2.08%,#ffb 0 2.92%,#ffc 0 3.75%,#ffb 0 15deg,#fc8 0 4.58%,#eee 0 5%,#ffb 0 21deg,#eee 0 6.25%,#fb6 0 24deg,#ffc 0 7.08%,#cee 0 7.5%,#ffc 0 30deg,#eee 0 8.75%,#ffb 0 9.58%,#fe9 0 10%,#ffc 0 10.42%,#9cd 0 39deg,#ffc 0 11.25%,#ffb 0 42deg,#ffc 0 12.08%,#ffb 0 45deg,#eee 0 12.92%,#fe9 0 48deg,#ffb 0 13.75%,#eee 0 14.58%,#bde 0 57deg,#ffc 0 16.25%,#eee 0 17.08%,#ffc 0 63deg,#ffb 0 17.92%,#fc8 0 66deg,#eee 0 18.75%,#ffc 0 69deg,#eee 0 19.58%,#ffb 0 20.42%,#fc8 0 75deg,#ffb 0 21.25%,#cee 0 78deg,#ffb 0 22.08%,#ffc 0 84deg,#fb6 0 23.75%,#f95 0 87deg,#fc8 0 24.58%,#ffc 0 25%,#cee 0 25.42%,#eee 0 93deg,#cee 0 26.25%,#eee 0 96deg,#ffc 0 27.08%,#bde 0 99deg,#eee 0 27.92%,#cee 0 102deg,#ffc 0 28.75%,#f95 0 105deg,#ffc 0 29.58%,#bde 0 30%,#ffb 0 30.42%,#9cd 0 111deg,#ffc 0 31.25%,#fe9 0 32.08%,#eee 0 32.5%,#cee 0 32.92%,#fe9 0 120deg,#eee 0 33.75%,#ffc 0 123deg,#fe9 0 34.58%,#ffb 0 35%,#ffc 0 35.42%,#fe9 0 129deg,#cee 0 132deg,#fc8 0 37.08%,#ffc 0 37.5%,#ffb 0 37.92%,#cee 0 138deg,#eee 0 38.75%,#cee 0 141deg,#ffb 0 39.58%,#eee 0 40%,#cee 0 40.42%,#ffc 0 147deg,#cee 0 41.25%,#ffb 0 150deg,#bde 0 42.08%,#9cd 0 42.5%,#eee 0 42.92%,#fc8 0 156deg,#fb6 0 43.75%,#ffc 0 159deg,#fe9 0 45%,#ffb 0 45.42%,#fe9 0 165deg,#eee 0 47.5%,#cee 0 47.92%,#fc8 0 174deg,#ffc 0 48.75%,#eee 0 177deg,#fe9 0 49.58%,#eee 0 50%,#ffc 0 50.42%,#bde 0 183deg,#ffc 0 51.25%,#fc8 0 186deg,#ffc 0 52.5%,#ffb 0 52.92%,#ffc 0 192deg,#ffb 0 53.75%,#fe9 0 195deg,#ffb 0 54.58%,#fc8 0 55%,#ffc 0 55.42%,#ffb 0 201deg,#eee 0 56.25%,#ffb 0 57.08%,#ffc 0 57.5%,#ffb 0 58.75%,#ffc 0 213deg,#fb6 0 59.58%,#fe9 0 60.42%,#ffb 0 219deg,#ffc 0 61.25%,#cee 0 222deg,#ffc 0 62.08%,#eee 0 62.5%,#ffc 0 62.92%,#bde 0 228deg,#9cd 0 63.75%,#bde 0 231deg,#ffc 0 64.58%,#fe9 0 65%,#eee 0 65.42%,#ffc 0 237deg,#ffb 0 66.25%,#fe9 0 240deg,#eee 0 67.08%,#ffb 0 67.5%,#eee 0 67.92%,#cee 0 246deg,#ffb 0 68.75%,#eee 0 249deg,#ffb 0 70%,#eee 0 70.42%,#ffb 0 255deg,#fe9 0 258deg,#f95 0 72.08%,#ffc 0 72.5%,#69c 0 72.92%,#eee 0 264deg,#cee 0 75%,#fc8 0 273deg,#eee 0 76.25%,#ffc 0 276deg,#fe9 0 77.08%,#ffb 0 77.5%,#ffc 0 282deg,#fc8 0 78.75%,#eee 0 285deg,#cee 0 79.58%,#eee 0 80%,#ffb 0 80.42%,#bde 0 291deg,#ffc 0 81.25%,#eee 0 294deg,#cee 0 82.08%,#ffc 0 300deg,#cee 0 83.75%,#ffc 0 85%,#fe9 0 85.42%,#ffb 0 309deg,#cee 0 86.25%,#ffc 0 87.5%,#ffb 0 87.92%,#ffc 0 318deg,#eee 0 88.75%,#cee 0 321deg,#bde 0 89.58%,#eee 0 90%,#fc8 0 90.42%,#ffc 0 330deg,#fc8 0 92.08%,#ffb 0 92.5%,#eee 0 92.92%,#bde 0 336deg,#eee 0 93.75%,#fc8 0 94.58%,#ffb 0 95%,#ffc 0 95.42%,#ffb 0 345deg,#eee 0 96.25%,#cee 0 348deg,#fc8 0 97.08%,#fe9 0 97.5%,#ffb 0 354deg,#ffc 0 98.75%,#eee 0 357deg,#fc8 0 99.58%,#fe9 0)"></i>
<i style="inset:-1px;background:conic-gradient(#ffb 0 0.42%,#fc8 0 3deg,#ffc 0 1.25%,#eee 0 6deg,#ffc 0 2.08%,#ffb 0 9deg,#ffc 0 2.92%,#eee 0 12deg,#ffb 0 3.75%,#fe9 0 15deg,#ffb 0 4.58%,#8bd 0 5%,#ffc 0 6.25%,#f95 0 24deg,#cee 0 7.08%,#bde 0 7.5%,#ffb 0 33deg,#eee 0 9.58%,#ffb 0 10%,#fe9 0 10.42%,#69c 0 39deg,#cee 0 11.25%,#ffb 0 42deg,#fe9 0 45deg,#fc8 0 48deg,#ffb 0 13.75%,#bde 0 14.58%,#8bd 0 15%,#bde 0 15.42%,#8bd 0 57deg,#cee 0 16.25%,#eee 0 60deg,#cee 0 63deg,#ffb 0 17.92%,#fb6 0 66deg,#eee 0 18.75%,#ffc 0 69deg,#eee 0 20%,#ffb 0 75deg,#cee 0 21.25%,#bde 0 78deg,#fe9 0 22.08%,#ffc 0 84deg,#fe9 0 23.75%,#f95 0 87deg,#fb6 0 24.58%,#ffc 0 25%,#eee 0 25.42%,#ffb 0 93deg,#cee 0 26.25%,#ffb 0 27.08%,#9cd 0 99deg,#eee 0 27.92%,#bde 0 102deg,#ffc 0 28.75%,#f95 0 105deg,#eee 0 29.58%,#9cd 0 30%,#ffb 0 30.42%,#bde 0 111deg,#ffc 0 31.25%,#fe9 0 114deg,#ffb 0 32.08%,#bde 0 32.5%,#ffc 0 32.92%,#fe9 0 120deg,#cee 0 33.75%,#ffc 0 123deg,#fc8 0 34.58%,#ffb 0 35%,#eee 0 35.42%,#f95 0 129deg,#eee 0 36.25%,#ffb 0 132deg,#fe9 0 37.08%,#eee 0 37.92%,#cee 0 138deg,#ffc 0 38.75%,#eee 0 141deg,#ffb 0 39.58%,#ffc 0 40.42%,#fe9 0 147deg,#eee 0 41.25%,#ffb 0 150deg,#8bd 0 42.08%,#46a 0 42.5%,#bde 0 42.92%,#fc8 0 43.75%,#ffb 0 44.58%,#fe9 0 45%,#ffb 0 45.42%,#e74 0 165deg,#ffc 0 46.25%,#eee 0 168deg,#bde 0 47.08%,#9cd 0 47.5%,#cee 0 47.92%,#fc8 0 174deg,#fb6 0 48.75%,#ffb 0 177deg,#fb6 0 49.58%,#eee 0 50%,#fe9 0 50.42%,#9cd 0 183deg,#ffb 0 51.25%,#e74 0 186deg,#ffc 0 52.08%,#ffb 0 52.5%,#ffc 0 52.92%,#ffb 0 192deg,#fe9 0 195deg,#ffc 0 54.58%,#fe9 0 55%,#bde 0 55.42%,#ffc 0 56.25%,#fe9 0 204deg,#fb6 0 57.08%,#ffb 0 57.92%,#fc8 0 58.75%,#ffb 0 213deg,#fb6 0 59.58%,#fe9 0 60%,#ffc 0 60.42%,#ffb 0 219deg,#ffc 0 222deg,#fc8 0 62.08%,#cee 0 62.5%,#bde 0 62.92%,#eee 0 228deg,#9cd 0 231deg,#fe9 0 64.58%,#fb6 0 65%,#cee 0 65.42%,#9cd 0 237deg,#fc8 0 66.25%,#fe9 0 240deg,#ffc 0 67.08%,#fc8 0 67.5%,#bde 0 67.92%,#9cd 0 246deg,#cee 0 68.75%,#eee 0 249deg,#ffc 0 69.58%,#eee 0 70.42%,#ffc 0 255deg,#fe9 0 71.25%,#fb6 0 72.08%,#ffc 0 72.5%,#9cd 0 72.92%,#ffb 0 264deg,#eee 0 73.75%,#bde 0 267deg,#cee 0 75%,#fb6 0 75.42%,#ffb 0 273deg,#ffc 0 76.25%,#fc8 0 276deg,#fb6 0 77.08%,#ffb 0 77.5%,#ffc 0 77.92%,#eee 0 282deg,#fc8 0 78.75%,#ffc 0 80%,#fe9 0 80.42%,#8bd 0 291deg,#9cd 0 81.25%,#bde 0 294deg,#cee 0 82.08%,#ffc 0 82.5%,#eee 0 82.92%,#ffc 0 300deg,#ffb 0 83.75%,#ffc 0 85%,#fb6 0 85.42%,#ffc 0 309deg,#eee 0 312deg,#bde 0 87.08%,#cee 0 87.5%,#ffb 0 87.92%,#eee 0 318deg,#ffc 0 88.75%,#bde 0 89.58%,#ffc 0 90%,#f95 0 90.42%,#ffb 0 327deg,#ffc 0 91.25%,#fe9 0 92.08%,#ffc 0 92.92%,#9cd 0 336deg,#cee 0 93.75%,#f95 0 339deg,#fb6 0 94.58%,#fe9 0 95%,#ffb 0 95.42%,#fe9 0 345deg,#ffb 0 348deg,#f95 0 97.08%,#ffc 0 97.92%,#ffb 0 354deg,#bde 0 98.75%,#cee 0 357deg,#fb6 0 99.58%,#ffb 0)"></i>
</div>
<div class="pc" style="left:79.70px;top:285.70px;">
<i style="inset:-64.9px;background:conic-gradient(#ec5c3b 0 7deg,#dd3d2d 0 11deg,#ec5c3b 0 23deg,#f67c4a 0 28deg,#ec5c3b 0 34deg,#f67c4a 0 10%,#fb9d59 0 38deg,#fdbb6d 0 41deg,#fed283 0 45deg,#fdbb6d 0 46deg,#fed283 0 50deg,#fee79b 0 51deg,#fff7b3 0 53deg,#f7fcce 0 55deg,#e7f6eb 0 56deg,#d4edf4 0 58deg,#b9e0ed 0 59deg,#9dcee3 0 61deg,#81b7d7 0 63deg,#679ec9 0 64deg,#5183bb 0 66deg,#4065ac 0 69deg,#36459c 0 88deg,#4065ac 0 91deg,#5183bb 0 97deg,#679ec9 0 98deg,#81b7d7 0 100deg,#9dcee3 0 101deg,#b9e0ed 0 103deg,#d4edf4 0 109deg,#e7f6eb 0 112deg,#f7fcce 0 115deg,#fff7b3 0 118deg,#fee79b 0 120deg,#fed283 0 122deg,#fdbb6d 0 123deg,#fb9d59 0 35%,#f67c4a 0 130deg,#ec5c3b 0 132deg,#dd3d2d 0 139deg,#ca2427 0 146deg,#dd3d2d 0 149deg,#ec5c3b 0 150deg,#f67c4a 0 152deg,#fb9d59 0 154deg,#fdbb6d 0 157deg,#fed283 0 164deg,#fee79b 0 167deg,#fff7b3 0 168deg,#f7fcce 0 170deg,#e7f6eb 0 172deg,#d4edf4 0 177deg,#e7f6eb 0 184deg,#d4edf4 0 186deg,#b9e0ed 0 195deg,#d4edf4 0 55%,#e7f6eb 0 201deg,#f7fcce 0 202deg,#e7f6eb 0 57.5%,#f7fcce 0 218deg,#fff7b3 0 220deg,#fee79b 0 65%,#fed283 0 241deg,#fdbb6d 0 246deg,#fed283 0 70%,#fee79b 0 259deg,#fff7b3 0 72.5%,#f7fcce 0 263deg,#e7f6eb 0 269deg,#d4edf4 0 272deg,#b9e0ed 0 274deg,#9dcee3 0 77.5%,#81b7d7 0 283deg,#679ec9 0 285deg,#5183bb 0 300deg,#4065ac 0 304deg,#5183bb 0 85%,#679ec9 0 311deg,#5183bb 0 318deg,#679ec9 0 322deg,#81b7d7 0 325deg,#9dcee3 0 327deg,#b9e0ed 0 329deg,#d4edf4 0 330deg,#e7f6eb 0 332deg,#f7fcce 0 335deg,#fff7b3 0 341deg,#fee79b 0 343deg,#fed283 0 345deg,#fdbb6d 0 347deg,#fb9d59 0 350deg,#f67c4a 0 358deg,#ec5c3b 0)"></i>
<i style="inset:-63.9px;background:conic-gradient(#dd3d2d 0 13deg,#ec5c3b 0 5%,#dd3d2d 0 23deg,#ec5c3b 0 30deg,#dd3d2d 0 31deg,#ec5c3b 0 34deg,#f67c4a 0 10%,#fb9d59 0 39deg,#fdbb6d 0 48deg,#fed283 0 50deg,#fee79b 0 51deg,#fff7b3 0 53deg,#f7fcce 0 55deg,#e7f6eb 0 57deg,#d4edf4 0 59deg,#b9e0ed 0 60deg,#9dcee3 0 62deg,#81b7d7 0 64deg,#679ec9 0 66deg,#5183bb 0 68deg,#4065ac 0 71deg,#36459c 0 88deg,#4065ac 0 94deg,#5183bb 0 96deg,#679ec9 0 98deg,#81b7d7 0 100deg,#9dcee3 0 101deg,#b9e0ed 0 106deg,#d4edf4 0 110deg,#e7f6eb 0 113deg,#f7fcce 0 115deg,#fff7b3 0 118deg,#fee79b 0 120deg,#fed283 0 122deg,#fdbb6d 0 123deg,#fb9d59 0 125deg,#f67c4a 0 131deg,#ec5c3b 0 132deg,#dd3d2d 0 137deg,#ca2427 0 147deg,#dd3d2d 0 149deg,#ec5c3b 0 151deg,#f67c4a 0 152deg,#fb9d59 0 154deg,#fdbb6d 0 158deg,#fed283 0 161deg,#fee79b 0 166deg,#fff7b3 0 168deg,#f7fcce 0 169deg,#e7f6eb 0 47.5%,#d4edf4 0 177deg,#e7f6eb 0 50%,#d4edf4 0 185deg,#b9e0ed 0 196deg,#d4edf4 0 199deg,#e7f6eb 0 57.5%,#f7fcce 0 218deg,#fff7b3 0 220deg,#fee79b 0 232deg,#fed283 0 235deg,#fdbb6d 0 247deg,#fed283 0 70%,#fee79b 0 260deg,#fff7b3 0 262deg,#f7fcce 0 266deg,#e7f6eb 0 75%,#d4edf4 0 271deg,#b9e0ed 0 273deg,#9dcee3 0 276deg,#81b7d7 0 282deg,#679ec9 0 284deg,#5183bb 0 286deg,#4065ac 0 301deg,#36459c 0 303deg,#4065ac 0 85%,#5183bb 0 320deg,#679ec9 0 323deg,#81b7d7 0 325deg,#9dcee3 0 327deg,#b9e0ed 0 329deg,#d4edf4 0 331deg,#e7f6eb 0 92.5%,#f7fcce 0 335deg,#fff7b3 0 340deg,#fee79b 0 95%,#fed283 0 344deg,#fdbb6d 0 345deg,#fb9d59 0 348deg,#f67c4a 0 353deg,#ec5c3b 0)"></i>
<i style="inset:-62.9px;background:conic-gradient(#dd3d2d 0 8deg,#ca2427 0 11deg,#dd3d2d 0 33deg,#ec5c3b 0 35deg,#f67c4a 0 38deg,#fb9d59 0 46deg,#fdbb6d 0 49deg,#fed283 0 50deg,#fee79b 0 52deg,#fff7b3 0 15%,#f7fcce 0 56deg,#e7f6eb 0 58deg,#d4edf4 0 61deg,#b9e0ed 0 63deg,#9dcee3 0 65deg,#81b7d7 0 67deg,#679ec9 0 69deg,#5183bb 0 71deg,#4065ac 0 73deg,#36459c 0 88deg,#4065ac 0 93deg,#5183bb 0 96deg,#679ec9 0 98deg,#81b7d7 0 99deg,#9dcee3 0 103deg,#b9e0ed 0 107deg,#d4edf4 0 111deg,#e7f6eb 0 113deg,#f7fcce 0 32.5%,#fff7b3 0 119deg,#fee79b 0 121deg,#fed283 0 123deg,#fdbb6d 0 125deg,#fb9d59 0 131deg,#f67c4a 0 132deg,#ec5c3b 0 37.5%,#dd3d2d 0 148deg,#ec5c3b 0 150deg,#f67c4a 0 151deg,#fb9d59 0 42.5%,#fdbb6d 0 157deg,#fed283 0 160deg,#fee79b 0 164deg,#fff7b3 0 167deg,#f7fcce 0 168deg,#e7f6eb 0 47.5%,#d4edf4 0 176deg,#e7f6eb 0 178deg,#d4edf4 0 183deg,#b9e0ed 0 196deg,#d4edf4 0 204deg,#e7f6eb 0 57.5%,#f7fcce 0 60%,#fff7b3 0 218deg,#fee79b 0 222deg,#fed283 0 232deg,#fdbb6d 0 235deg,#fb9d59 0 244deg,#fdbb6d 0 249deg,#fed283 0 70%,#fee79b 0 260deg,#fff7b3 0 263deg,#f7fcce 0 267deg,#e7f6eb 0 75%,#d4edf4 0 271deg,#b9e0ed 0 273deg,#9dcee3 0 275deg,#81b7d7 0 282deg,#679ec9 0 284deg,#5183bb 0 286deg,#4065ac 0 292deg,#36459c 0 305deg,#4065ac 0 316deg,#5183bb 0 320deg,#679ec9 0 323deg,#81b7d7 0 326deg,#9dcee3 0 328deg,#b9e0ed 0 330deg,#d4edf4 0 331deg,#e7f6eb 0 92.5%,#f7fcce 0 335deg,#fff7b3 0 337deg,#fee79b 0 340deg,#fed283 0 95%,#fdbb6d 0 344deg,#fb9d59 0 345deg,#f67c4a 0 350deg,#ec5c3b 0 359deg,#dd3d2d 0)"></i>
<i style="inset:-61.9px;background:conic-gradient(#dd3d2d 0 6deg,#ca2427 0 30deg,#dd3d2d 0 33deg,#ec5c3b 0 10%,#f67c4a 0 42deg,#fb9d59 0 47deg,#fdbb6d 0 49deg,#fed283 0 52deg,#fee79b 0 15%,#fff7b3 0 57deg,#f7fcce 0 61deg,#e7f6eb 0 64deg,#d4edf4 0 65deg,#b9e0ed 0 67deg,#9dcee3 0 68deg,#81b7d7 0 70deg,#679ec9 0 20%,#5183bb 0 74deg,#4065ac 0 76deg,#36459c 0 86deg,#4065ac 0 92deg,#5183bb 0 94deg,#679ec9 0 97deg,#81b7d7 0 99deg,#9dcee3 0 104deg,#b9e0ed 0 30%,#d4edf4 0 111deg,#e7f6eb 0 114deg,#f7fcce 0 118deg,#fff7b3 0 121deg,#fee79b 0 123deg,#fed283 0 129deg,#fdbb6d 0 131deg,#fb9d59 0 133deg,#f67c4a 0 138deg,#ec5c3b 0 148deg,#f67c4a 0 150deg,#fb9d59 0 152deg,#fdbb6d 0 154deg,#fed283 0 159deg,#fee79b 0 45%,#fff7b3 0 165deg,#f7fcce 0 167deg,#e7f6eb 0 170deg,#d4edf4 0 176deg,#e7f6eb 0 178deg,#d4edf4 0 181deg,#b9e0ed 0 55%,#d4edf4 0 205deg,#e7f6eb 0 57.5%,#f7fcce 0 210deg,#fff7b3 0 217deg,#fee79b 0 219deg,#fed283 0 226deg,#fdbb6d 0 232deg,#fb9d59 0 247deg,#fdbb6d 0 251deg,#fed283 0 253deg,#fee79b 0 260deg,#fff7b3 0 264deg,#f7fcce 0 267deg,#e7f6eb 0 269deg,#d4edf4 0 271deg,#b9e0ed 0 272deg,#9dcee3 0 275deg,#81b7d7 0 282deg,#679ec9 0 284deg,#5183bb 0 286deg,#4065ac 0 292deg,#36459c 0 314deg,#4065ac 0 317deg,#5183bb 0 320deg,#679ec9 0 90%,#81b7d7 0 326deg,#9dcee3 0 328deg,#b9e0ed 0 330deg,#d4edf4 0 331deg,#e7f6eb 0 92.5%,#f7fcce 0 335deg,#fff7b3 0 337deg,#fee79b 0 338deg,#fed283 0 340deg,#fdbb6d 0 95%,#fb9d59 0 344deg,#f67c4a 0 345deg,#ec5c3b 0 358deg,#dd3d2d 0)"></i>
<i style="inset:-60.91px;background:conic-gradient(#ca2427 0 16deg,#b10b26 0 23deg,#ca2427 0 31deg,#dd3d2d 0 33deg,#ec5c3b 0 38deg,#f67c4a 0 45deg,#fb9d59 0 48deg,#fdbb6d 0 51deg,#fed283 0 55deg,#fee79b 0 60deg,#fff7b3 0 64deg,#f7fcce 0 65deg,#e7f6eb 0 66deg,#d4edf4 0 68deg,#b9e0ed 0 69deg,#9dcee3 0 71deg,#81b7d7 0 73deg,#679ec9 0 78deg,#5183bb 0 82deg,#4065ac 0 88deg,#5183bb 0 93deg,#679ec9 0 95deg,#81b7d7 0 98deg,#9dcee3 0 103deg,#b9e0ed 0 30%,#d4edf4 0 112deg,#e7f6eb 0 32.5%,#f7fcce 0 120deg,#fff7b3 0 122deg,#fee79b 0 125deg,#fed283 0 131deg,#fdbb6d 0 134deg,#fb9d59 0 150deg,#fdbb6d 0 152deg,#fed283 0 158deg,#fee79b 0 161deg,#fff7b3 0 163deg,#f7fcce 0 166deg,#e7f6eb 0 170deg,#d4edf4 0 181deg,#b9e0ed 0 200deg,#d4edf4 0 205deg,#e7f6eb 0 57.5%,#f7fcce 0 209deg,#fff7b3 0 215deg,#fee79b 0 218deg,#fed283 0 223deg,#fdbb6d 0 229deg,#fb9d59 0 232deg,#f67c4a 0 236deg,#fb9d59 0 250deg,#fdbb6d 0 70%,#fed283 0 254deg,#fee79b 0 260deg,#fff7b3 0 263deg,#f7fcce 0 267deg,#e7f6eb 0 269deg,#d4edf4 0 75%,#b9e0ed 0 272deg,#9dcee3 0 275deg,#81b7d7 0 282deg,#679ec9 0 283deg,#5183bb 0 286deg,#4065ac 0 291deg,#36459c 0 316deg,#4065ac 0 318deg,#5183bb 0 320deg,#679ec9 0 90%,#81b7d7 0 327deg,#9dcee3 0 328deg,#b9e0ed 0 330deg,#d4edf4 0 331deg,#e7f6eb 0 92.5%,#f7fcce 0 335deg,#fff7b3 0 336deg,#fee79b 0 338deg,#fed283 0 339deg,#fdbb6d 0 341deg,#fb9d59 0 343deg,#f67c4a 0 345deg,#ec5c3b 0 355deg,#dd3d2d 0)"></i>
<i style="inset:-59.91px;background:conic-gradient(#ca2427 0 10deg,#b10b26 0 7.5%,#ca2427 0 31deg,#dd3d2d 0 35deg,#ec5c3b 0 43deg,#f67c4a 0 47deg,#fb9d59 0 49deg,#fdbb6d 0 57deg,#fed283 0 63deg,#fee79b 0 65deg,#fff7b3 0 66deg,#f7fcce 0 67deg,#e7f6eb 0 69deg,#d4edf4 0 70deg,#b9e0ed 0 20%,#9dcee3 0 80deg,#81b7d7 0 82deg,#679ec9 0 85deg,#5183bb 0 88deg,#679ec9 0 94deg,#81b7d7 0 97deg,#9dcee3 0 101deg,#b9e0ed 0 106deg,#d4edf4 0 114deg,#e7f6eb 0 119deg,#f7fcce 0 121deg,#fff7b3 0 123deg,#fee79b 0 130deg,#fed283 0 133deg,#fdbb6d 0 140deg,#fed283 0 142deg,#fdbb6d 0 150deg,#fed283 0 152deg,#fee79b 0 160deg,#fff7b3 0 45%,#f7fcce 0 166deg,#e7f6eb 0 170deg,#d4edf4 0 179deg,#b9e0ed 0 190deg,#d4edf4 0 193deg,#b9e0ed 0 197deg,#d4edf4 0 204deg,#e7f6eb 0 57.5%,#f7fcce 0 209deg,#fff7b3 0 212deg,#fee79b 0 60%,#fed283 0 221deg,#fdbb6d 0 227deg,#fb9d59 0 230deg,#f67c4a 0 237deg,#fb9d59 0 251deg,#fdbb6d 0 253deg,#fed283 0 256deg,#fee79b 0 260deg,#fff7b3 0 263deg,#f7fcce 0 266deg,#e7f6eb 0 269deg,#d4edf4 0 75%,#b9e0ed 0 272deg,#9dcee3 0 277deg,#81b7d7 0 281deg,#679ec9 0 283deg,#5183bb 0 285deg,#4065ac 0 290deg,#36459c 0 316deg,#4065ac 0 318deg,#5183bb 0 321deg,#679ec9 0 326deg,#81b7d7 0 327deg,#9dcee3 0 329deg,#b9e0ed 0 330deg,#d4edf4 0 332deg,#e7f6eb 0 92.5%,#f7fcce 0 335deg,#fff7b3 0 336deg,#fee79b 0 338deg,#fed283 0 339deg,#fdbb6d 0 341deg,#fb9d59 0 95%,#f67c4a 0 345deg,#ec5c3b 0 97.5%,#dd3d2d 0 355deg,#ca2427 0)"></i>
<i style="inset:-58.91px;background:conic-gradient(#b10b26 0 1deg,#ca2427 0 9deg,#b10b26 0 29deg,#ca2427 0 32deg,#dd3d2d 0 43deg,#ec5c3b 0 46deg,#f67c4a 0 48deg,#fb9d59 0 59deg,#fdbb6d 0 63deg,#fed283 0 65deg,#fee79b 0 67deg,#fff7b3 0 68deg,#f7fcce 0 69deg,#e7f6eb 0 71deg,#d4edf4 0 73deg,#b9e0ed 0 81deg,#9dcee3 0 83deg,#81b7d7 0 95deg,#9dcee3 0 99deg,#b9e0ed 0 105deg,#d4edf4 0 32.5%,#e7f6eb 0 119deg,#f7fcce 0 122deg,#fff7b3 0 124deg,#fee79b 0 133deg,#fed283 0 139deg,#fee79b 0 145deg,#fed283 0 149deg,#fee79b 0 157deg,#fff7b3 0 160deg,#f7fcce 0 165deg,#e7f6eb 0 169deg,#d4edf4 0 176deg,#b9e0ed 0 190deg,#d4edf4 0 202deg,#e7f6eb 0 206deg,#f7fcce 0 209deg,#fff7b3 0 212deg,#fee79b 0 214deg,#fed283 0 220deg,#fdbb6d 0 226deg,#fb9d59 0 229deg,#f67c4a 0 245deg,#fb9d59 0 70%,#fdbb6d 0 254deg,#fed283 0 259deg,#fee79b 0 262deg,#fff7b3 0 264deg,#f7fcce 0 266deg,#e7f6eb 0 269deg,#d4edf4 0 271deg,#b9e0ed 0 273deg,#9dcee3 0 277deg,#81b7d7 0 281deg,#679ec9 0 283deg,#5183bb 0 285deg,#4065ac 0 289deg,#36459c 0 316deg,#4065ac 0 319deg,#5183bb 0 90%,#679ec9 0 326deg,#81b7d7 0 327deg,#9dcee3 0 329deg,#b9e0ed 0 330deg,#d4edf4 0 332deg,#e7f6eb 0 92.5%,#f7fcce 0 335deg,#fff7b3 0 337deg,#fee79b 0 338deg,#fed283 0 339deg,#fdbb6d 0 341deg,#fb9d59 0 343deg,#f67c4a 0 347deg,#ec5c3b 0 350deg,#dd3d2d 0 353deg,#ca2427 0 359deg,#b10b26 0)"></i>
<i style="inset:-57.91px;background:conic-gradient(#ca2427 0 9deg,#b10b26 0 30deg,#ca2427 0 43deg,#dd3d2d 0 46deg,#ec5c3b 0 48deg,#f67c4a 0 58deg,#fb9d59 0 62deg,#fdbb6d 0 65deg,#fed283 0 67deg,#fee79b 0 68deg,#fff7b3 0 70deg,#f7fcce 0 20%,#e7f6eb 0 75deg,#d4edf4 0 81deg,#b9e0ed 0 83deg,#9dcee3 0 87deg,#81b7d7 0 88deg,#9dcee3 0 96deg,#b9e0ed 0 104deg,#d4edf4 0 107deg,#e7f6eb 0 111deg,#d4edf4 0 116deg,#e7f6eb 0 119deg,#f7fcce 0 122deg,#fff7b3 0 134deg,#fee79b 0 139deg,#fff7b3 0 157deg,#f7fcce 0 161deg,#e7f6eb 0 166deg,#d4edf4 0 175deg,#b9e0ed 0 52.5%,#d4edf4 0 199deg,#e7f6eb 0 204deg,#f7fcce 0 209deg,#fff7b3 0 211deg,#fee79b 0 213deg,#fed283 0 218deg,#fdbb6d 0 62.5%,#fb9d59 0 228deg,#f67c4a 0 232deg,#ec5c3b 0 235deg,#f67c4a 0 249deg,#fb9d59 0 253deg,#fdbb6d 0 258deg,#fed283 0 72.5%,#fee79b 0 262deg,#fff7b3 0 264deg,#f7fcce 0 267deg,#e7f6eb 0 269deg,#d4edf4 0 271deg,#b9e0ed 0 274deg,#9dcee3 0 277deg,#81b7d7 0 280deg,#679ec9 0 283deg,#5183bb 0 286deg,#4065ac 0 289deg,#36459c 0 317deg,#4065ac 0 321deg,#5183bb 0 325deg,#679ec9 0 326deg,#81b7d7 0 327deg,#9dcee3 0 329deg,#b9e0ed 0 330deg,#d4edf4 0 332deg,#e7f6eb 0 334deg,#f7fcce 0 335deg,#fff7b3 0 337deg,#fee79b 0 338deg,#fed283 0 339deg,#fdbb6d 0 341deg,#fb9d59 0 345deg,#f67c4a 0 348deg,#ec5c3b 0 97.5%,#dd3d2d 0 353deg,#ca2427 0)"></i>
<i style="inset:-56.91px;background:conic-gradient(#ca2427 0 10deg,#b10b26 0 30deg,#ca2427 0 45deg,#dd3d2d 0 48deg,#ec5c3b 0 15%,#f67c4a 0 61deg,#fb9d59 0 64deg,#fdbb6d 0 67deg,#fed283 0 69deg,#fee79b 0 71deg,#fff7b3 0 73deg,#f7fcce 0 76deg,#e7f6eb 0 81deg,#d4edf4 0 84deg,#b9e0ed 0 86deg,#9dcee3 0 91deg,#b9e0ed 0 103deg,#d4edf4 0 107deg,#e7f6eb 0 111deg,#d4edf4 0 115deg,#e7f6eb 0 32.5%,#f7fcce 0 37.5%,#fff7b3 0 138deg,#f7fcce 0 158deg,#e7f6eb 0 161deg,#d4edf4 0 166deg,#b9e0ed 0 188deg,#d4edf4 0 196deg,#e7f6eb 0 202deg,#f7fcce 0 208deg,#fff7b3 0 211deg,#fee79b 0 212deg,#fed283 0 215deg,#fdbb6d 0 224deg,#fb9d59 0 227deg,#f67c4a 0 230deg,#ec5c3b 0 245deg,#f67c4a 0 251deg,#fb9d59 0 256deg,#fdbb6d 0 259deg,#fed283 0 72.5%,#fee79b 0 263deg,#fff7b3 0 265deg,#f7fcce 0 268deg,#e7f6eb 0 75%,#d4edf4 0 272deg,#b9e0ed 0 274deg,#9dcee3 0 277deg,#81b7d7 0 280deg,#679ec9 0 283deg,#5183bb 0 287deg,#4065ac 0 290deg,#36459c 0 318deg,#4065ac 0 323deg,#5183bb 0 325deg,#679ec9 0 327deg,#81b7d7 0 328deg,#9dcee3 0 329deg,#b9e0ed 0 330deg,#d4edf4 0 332deg,#e7f6eb 0 334deg,#f7fcce 0 335deg,#fff7b3 0 336deg,#fee79b 0 338deg,#fed283 0 339deg,#fdbb6d 0 343deg,#fb9d59 0 347deg,#f67c4a 0 349deg,#ec5c3b 0 97.5%,#dd3d2d 0 354deg,#ca2427 0)"></i>
<i style="inset:-55.91px;background:conic-gradient(#ca2427 0 12deg,#b10b26 0 17deg,#ca2427 0 22deg,#b10b26 0 29deg,#ca2427 0 33deg,#dd3d2d 0 10%,#ca2427 0 46deg,#dd3d2d 0 53deg,#ec5c3b 0 60deg,#f67c4a 0 64deg,#fb9d59 0 67deg,#fdbb6d 0 69deg,#fed283 0 71deg,#fee79b 0 74deg,#fff7b3 0 76deg,#f7fcce 0 80deg,#e7f6eb 0 83deg,#d4edf4 0 85deg,#b9e0ed 0 94deg,#d4edf4 0 98deg,#b9e0ed 0 103deg,#d4edf4 0 114deg,#e7f6eb 0 32.5%,#f7fcce 0 125deg,#e7f6eb 0 133deg,#f7fcce 0 138deg,#e7f6eb 0 158deg,#d4edf4 0 45%,#b9e0ed 0 167deg,#9dcee3 0 170deg,#b9e0ed 0 188deg,#d4edf4 0 195deg,#e7f6eb 0 201deg,#f7fcce 0 205deg,#fff7b3 0 210deg,#fee79b 0 212deg,#fed283 0 214deg,#fdbb6d 0 223deg,#fb9d59 0 62.5%,#f67c4a 0 228deg,#ec5c3b 0 237deg,#dd3d2d 0 67.5%,#ec5c3b 0 247deg,#f67c4a 0 253deg,#fb9d59 0 257deg,#fdbb6d 0 259deg,#fed283 0 262deg,#fee79b 0 264deg,#fff7b3 0 266deg,#f7fcce 0 268deg,#e7f6eb 0 75%,#d4edf4 0 273deg,#b9e0ed 0 275deg,#9dcee3 0 277deg,#81b7d7 0 280deg,#679ec9 0 283deg,#5183bb 0 287deg,#4065ac 0 290deg,#36459c 0 320deg,#4065ac 0 90%,#5183bb 0 326deg,#679ec9 0 327deg,#81b7d7 0 329deg,#9dcee3 0 330deg,#b9e0ed 0 332deg,#d4edf4 0 92.5%,#e7f6eb 0 334deg,#f7fcce 0 335deg,#fff7b3 0 336deg,#fee79b 0 338deg,#fed283 0 340deg,#fdbb6d 0 345deg,#fb9d59 0 347deg,#f67c4a 0 349deg,#ec5c3b 0 97.5%,#dd3d2d 0 357deg,#ca2427 0)"></i>
<i style="inset:-54.92px;background:conic-gradient(#dd3d2d 0 2deg,#ca2427 0 21deg,#b10b26 0 28deg,#ca2427 0 31deg,#dd3d2d 0 39deg,#ca2427 0 45deg,#dd3d2d 0 59deg,#ec5c3b 0 63deg,#f67c4a 0 67deg,#fb9d59 0 69deg,#fdbb6d 0 71deg,#fed283 0 73deg,#fee79b 0 75deg,#fff7b3 0 78deg,#f7fcce 0 82deg,#e7f6eb 0 84deg,#d4edf4 0 98deg,#b9e0ed 0 104deg,#d4edf4 0 114deg,#e7f6eb 0 32.5%,#f7fcce 0 121deg,#e7f6eb 0 140deg,#d4edf4 0 147deg,#e7f6eb 0 150deg,#d4edf4 0 159deg,#b9e0ed 0 45%,#9dcee3 0 172deg,#b9e0ed 0 177deg,#9dcee3 0 182deg,#b9e0ed 0 52.5%,#d4edf4 0 194deg,#e7f6eb 0 200deg,#f7fcce 0 203deg,#fff7b3 0 206deg,#fee79b 0 212deg,#fed283 0 214deg,#fdbb6d 0 221deg,#fb9d59 0 223deg,#f67c4a 0 62.5%,#ec5c3b 0 229deg,#dd3d2d 0 244deg,#ec5c3b 0 250deg,#f67c4a 0 254deg,#fb9d59 0 256deg,#fdbb6d 0 259deg,#fed283 0 262deg,#fee79b 0 265deg,#fff7b3 0 267deg,#f7fcce 0 269deg,#e7f6eb 0 271deg,#d4edf4 0 273deg,#b9e0ed 0 275deg,#9dcee3 0 277deg,#81b7d7 0 280deg,#679ec9 0 283deg,#5183bb 0 286deg,#4065ac 0 289deg,#36459c 0 322deg,#4065ac 0 325deg,#5183bb 0 327deg,#679ec9 0 328deg,#81b7d7 0 329deg,#9dcee3 0 331deg,#b9e0ed 0 92.5%,#d4edf4 0 334deg,#e7f6eb 0 335deg,#f7fcce 0 336deg,#fff7b3 0 337deg,#fee79b 0 338deg,#fed283 0 340deg,#fdbb6d 0 345deg,#fb9d59 0 347deg,#f67c4a 0 349deg,#ec5c3b 0 352deg,#dd3d2d 0)"></i>
<i style="inset:-53.92px;background:conic-gradient(#dd3d2d 0 12deg,#ca2427 0 20deg,#b10b26 0 26deg,#ca2427 0 30deg,#dd3d2d 0 40deg,#ca2427 0 44deg,#dd3d2d 0 50deg,#ca2427 0 58deg,#dd3d2d 0 63deg,#ec5c3b 0 67deg,#f67c4a 0 69deg,#fb9d59 0 70deg,#fdbb6d 0 20%,#fed283 0 75deg,#fee79b 0 77deg,#fff7b3 0 80deg,#f7fcce 0 83deg,#e7f6eb 0 89deg,#d4edf4 0 96deg,#b9e0ed 0 30%,#d4edf4 0 116deg,#e7f6eb 0 138deg,#d4edf4 0 154deg,#b9e0ed 0 160deg,#9dcee3 0 184deg,#b9e0ed 0 52.5%,#d4edf4 0 193deg,#e7f6eb 0 55%,#f7fcce 0 202deg,#fff7b3 0 205deg,#fee79b 0 212deg,#fed283 0 214deg,#fdbb6d 0 218deg,#fb9d59 0 222deg,#f67c4a 0 224deg,#ec5c3b 0 226deg,#dd3d2d 0 67.5%,#ec5c3b 0 70%,#f67c4a 0 254deg,#fb9d59 0 256deg,#fdbb6d 0 259deg,#fed283 0 264deg,#fee79b 0 266deg,#fff7b3 0 268deg,#f7fcce 0 75%,#e7f6eb 0 272deg,#d4edf4 0 273deg,#b9e0ed 0 275deg,#9dcee3 0 277deg,#81b7d7 0 280deg,#679ec9 0 283deg,#5183bb 0 285deg,#4065ac 0 80%,#36459c 0 322deg,#4065ac 0 325deg,#5183bb 0 327deg,#679ec9 0 328deg,#81b7d7 0 329deg,#9dcee3 0 331deg,#b9e0ed 0 92.5%,#d4edf4 0 334deg,#e7f6eb 0 335deg,#f7fcce 0 336deg,#fff7b3 0 337deg,#fee79b 0 338deg,#fed283 0 341deg,#fdbb6d 0 344deg,#fb9d59 0 346deg,#f67c4a 0 349deg,#ec5c3b 0 353deg,#dd3d2d 0)"></i>
<i style="inset:-52.92px;background:conic-gradient(#ec5c3b 0 1deg,#dd3d2d 0 11deg,#ca2427 0 20deg,#b10b26 0 25deg,#ca2427 0 29deg,#dd3d2d 0 35deg,#ec5c3b 0 38deg,#dd3d2d 0 50deg,#ca2427 0 61deg,#dd3d2d 0 66deg,#ec5c3b 0 68deg,#f67c4a 0 70deg,#fb9d59 0 20%,#fdbb6d 0 74deg,#fed283 0 76deg,#fee79b 0 78deg,#fff7b3 0 82deg,#f7fcce 0 86deg,#e7f6eb 0 92deg,#d4edf4 0 96deg,#b9e0ed 0 100deg,#d4edf4 0 102deg,#b9e0ed 0 111deg,#d4edf4 0 118deg,#e7f6eb 0 121deg,#d4edf4 0 35%,#e7f6eb 0 137deg,#d4edf4 0 140deg,#b9e0ed 0 145deg,#d4edf4 0 152deg,#b9e0ed 0 158deg,#9dcee3 0 45%,#81b7d7 0 167deg,#9dcee3 0 185deg,#b9e0ed 0 190deg,#d4edf4 0 193deg,#e7f6eb 0 196deg,#f7fcce 0 203deg,#fff7b3 0 205deg,#fee79b 0 209deg,#fed283 0 213deg,#fdbb6d 0 60%,#fb9d59 0 221deg,#f67c4a 0 223deg,#ec5c3b 0 226deg,#dd3d2d 0 242deg,#ec5c3b 0 247deg,#dd3d2d 0 250deg,#ec5c3b 0 70%,#f67c4a 0 254deg,#fb9d59 0 256deg,#fdbb6d 0 72.5%,#fed283 0 264deg,#fee79b 0 267deg,#fff7b3 0 268deg,#f7fcce 0 75%,#e7f6eb 0 272deg,#d4edf4 0 273deg,#b9e0ed 0 275deg,#9dcee3 0 277deg,#81b7d7 0 280deg,#679ec9 0 283deg,#5183bb 0 285deg,#4065ac 0 287deg,#36459c 0 321deg,#4065ac 0 325deg,#5183bb 0 326deg,#679ec9 0 328deg,#81b7d7 0 329deg,#9dcee3 0 331deg,#b9e0ed 0 332deg,#d4edf4 0 334deg,#e7f6eb 0 335deg,#f7fcce 0 336deg,#fff7b3 0 337deg,#fee79b 0 338deg,#fed283 0 341deg,#fdbb6d 0 344deg,#fb9d59 0 346deg,#f67c4a 0 348deg,#ec5c3b 0)"></i>
<i style="inset:-51.92px;background:conic-gradient(#ec5c3b 0 3deg,#dd3d2d 0 11deg,#ca2427 0 21deg,#b10b26 0 23deg,#ca2427 0 7.5%,#dd3d2d 0 35deg,#ec5c3b 0 37deg,#dd3d2d 0 48deg,#ca2427 0 53deg,#dd3d2d 0 55deg,#ca2427 0 63deg,#dd3d2d 0 66deg,#ec5c3b 0 68deg,#f67c4a 0 71deg,#fb9d59 0 73deg,#fdbb6d 0 75deg,#fed283 0 77deg,#fee79b 0 80deg,#fff7b3 0 83deg,#f7fcce 0 89deg,#e7f6eb 0 93deg,#d4edf4 0 96deg,#b9e0ed 0 99deg,#d4edf4 0 103deg,#b9e0ed 0 114deg,#d4edf4 0 127deg,#e7f6eb 0 136deg,#d4edf4 0 139deg,#b9e0ed 0 146deg,#d4edf4 0 151deg,#b9e0ed 0 158deg,#9dcee3 0 161deg,#81b7d7 0 167deg,#9dcee3 0 186deg,#b9e0ed 0 190deg,#d4edf4 0 193deg,#e7f6eb 0 196deg,#f7fcce 0 203deg,#fff7b3 0 205deg,#fee79b 0 208deg,#fed283 0 210deg,#fdbb6d 0 214deg,#fb9d59 0 220deg,#f67c4a 0 223deg,#ec5c3b 0 227deg,#dd3d2d 0 233deg,#ca2427 0 238deg,#dd3d2d 0 67.5%,#ec5c3b 0 246deg,#dd3d2d 0 250deg,#ec5c3b 0 70%,#f67c4a 0 254deg,#fb9d59 0 256deg,#fdbb6d 0 262deg,#fed283 0 265deg,#fee79b 0 266deg,#fff7b3 0 268deg,#f7fcce 0 75%,#e7f6eb 0 272deg,#d4edf4 0 274deg,#b9e0ed 0 276deg,#9dcee3 0 278deg,#81b7d7 0 281deg,#679ec9 0 283deg,#5183bb 0 285deg,#4065ac 0 287deg,#36459c 0 320deg,#4065ac 0 323deg,#5183bb 0 325deg,#679ec9 0 327deg,#81b7d7 0 328deg,#9dcee3 0 330deg,#b9e0ed 0 332deg,#d4edf4 0 92.5%,#e7f6eb 0 335deg,#f7fcce 0 336deg,#fff7b3 0 337deg,#fee79b 0 338deg,#fed283 0 341deg,#fdbb6d 0 343deg,#fb9d59 0 345deg,#f67c4a 0 347deg,#ec5c3b 0 97.5%,#dd3d2d 0 354deg,#ec5c3b 0)"></i>
<i style="inset:-50.92px;background:conic-gradient(#ec5c3b 0 4deg,#dd3d2d 0 12deg,#ca2427 0 7.5%,#dd3d2d 0 31deg,#ec5c3b 0 32deg,#dd3d2d 0 45deg,#ca2427 0 53deg,#dd3d2d 0 55deg,#ca2427 0 64deg,#dd3d2d 0 66deg,#ec5c3b 0 69deg,#f67c4a 0 20%,#fb9d59 0 74deg,#fdbb6d 0 75deg,#fed283 0 78deg,#fee79b 0 81deg,#fff7b3 0 84deg,#f7fcce 0 25%,#e7f6eb 0 93deg,#d4edf4 0 96deg,#b9e0ed 0 97deg,#d4edf4 0 104deg,#b9e0ed 0 115deg,#d4edf4 0 129deg,#e7f6eb 0 136deg,#d4edf4 0 139deg,#b9e0ed 0 158deg,#9dcee3 0 45%,#81b7d7 0 165deg,#9dcee3 0 186deg,#b9e0ed 0 190deg,#d4edf4 0 193deg,#e7f6eb 0 201deg,#f7fcce 0 204deg,#fff7b3 0 206deg,#fee79b 0 208deg,#fed283 0 210deg,#fdbb6d 0 212deg,#fb9d59 0 221deg,#f67c4a 0 223deg,#ec5c3b 0 229deg,#dd3d2d 0 233deg,#ca2427 0 241deg,#dd3d2d 0 251deg,#ec5c3b 0 253deg,#f67c4a 0 254deg,#fb9d59 0 257deg,#fdbb6d 0 262deg,#fed283 0 265deg,#fee79b 0 266deg,#fff7b3 0 268deg,#f7fcce 0 75%,#e7f6eb 0 273deg,#d4edf4 0 275deg,#b9e0ed 0 277deg,#9dcee3 0 77.5%,#81b7d7 0 281deg,#679ec9 0 283deg,#5183bb 0 285deg,#4065ac 0 80%,#36459c 0 320deg,#4065ac 0 322deg,#5183bb 0 90%,#679ec9 0 326deg,#81b7d7 0 328deg,#9dcee3 0 329deg,#b9e0ed 0 331deg,#d4edf4 0 92.5%,#e7f6eb 0 335deg,#f7fcce 0 336deg,#fff7b3 0 337deg,#fee79b 0 339deg,#fed283 0 341deg,#fdbb6d 0 343deg,#fb9d59 0 345deg,#f67c4a 0 347deg,#ec5c3b 0 349deg,#dd3d2d 0 354deg,#ec5c3b 0)"></i>
<i style="inset:-49.92px;background:conic-gradient(#ec5c3b 0 2deg,#dd3d2d 0 8deg,#ca2427 0 9deg,#dd3d2d 0 14deg,#ca2427 0 26deg,#dd3d2d 0 29deg,#ec5c3b 0 33deg,#dd3d2d 0 44deg,#ca2427 0 57deg,#b10b26 0 61deg,#ca2427 0 64deg,#dd3d2d 0 67deg,#ec5c3b 0 70deg,#f67c4a 0 73deg,#fb9d59 0 75deg,#fdbb6d 0 77deg,#fed283 0 79deg,#fee79b 0 82deg,#fff7b3 0 84deg,#f7fcce 0 25%,#e7f6eb 0 93deg,#d4edf4 0 100deg,#e7f6eb 0 103deg,#d4edf4 0 105deg,#b9e0ed 0 109deg,#d4edf4 0 119deg,#e7f6eb 0 122deg,#d4edf4 0 131deg,#e7f6eb 0 37.5%,#d4edf4 0 139deg,#b9e0ed 0 159deg,#9dcee3 0 47.5%,#81b7d7 0 174deg,#9dcee3 0 186deg,#b9e0ed 0 190deg,#d4edf4 0 193deg,#e7f6eb 0 201deg,#f7fcce 0 204deg,#fff7b3 0 206deg,#fee79b 0 208deg,#fed283 0 211deg,#fdbb6d 0 213deg,#fb9d59 0 221deg,#f67c4a 0 223deg,#ec5c3b 0 229deg,#dd3d2d 0 233deg,#ca2427 0 67.5%,#dd3d2d 0 246deg,#ca2427 0 249deg,#dd3d2d 0 251deg,#ec5c3b 0 253deg,#f67c4a 0 255deg,#fb9d59 0 258deg,#fdbb6d 0 263deg,#fed283 0 265deg,#fee79b 0 267deg,#fff7b3 0 268deg,#f7fcce 0 271deg,#e7f6eb 0 273deg,#d4edf4 0 275deg,#b9e0ed 0 277deg,#9dcee3 0 77.5%,#81b7d7 0 282deg,#679ec9 0 284deg,#5183bb 0 287deg,#4065ac 0 290deg,#36459c 0 320deg,#4065ac 0 322deg,#5183bb 0 323deg,#679ec9 0 326deg,#81b7d7 0 328deg,#9dcee3 0 329deg,#b9e0ed 0 331deg,#d4edf4 0 92.5%,#e7f6eb 0 334deg,#f7fcce 0 336deg,#fff7b3 0 337deg,#fee79b 0 338deg,#fed283 0 341deg,#fdbb6d 0 344deg,#fb9d59 0 345deg,#f67c4a 0 347deg,#ec5c3b 0 349deg,#dd3d2d 0 355deg,#ec5c3b 0)"></i>
<i style="inset:-48.92px;background:conic-gradient(#dd3d2d 0 13deg,#ca2427 0 26deg,#dd3d2d 0 29deg,#ec5c3b 0 33deg,#dd3d2d 0 43deg,#ca2427 0 56deg,#b10b26 0 62deg,#ca2427 0 65deg,#dd3d2d 0 67deg,#ec5c3b 0 71deg,#f67c4a 0 74deg,#fb9d59 0 76deg,#fdbb6d 0 78deg,#fed283 0 80deg,#fee79b 0 82deg,#fff7b3 0 84deg,#f7fcce 0 25%,#e7f6eb 0 93deg,#d4edf4 0 99deg,#e7f6eb 0 103deg,#d4edf4 0 118deg,#e7f6eb 0 122deg,#d4edf4 0 139deg,#b9e0ed 0 155deg,#9dcee3 0 157deg,#b9e0ed 0 160deg,#9dcee3 0 178deg,#b9e0ed 0 181deg,#9dcee3 0 186deg,#b9e0ed 0 191deg,#d4edf4 0 194deg,#e7f6eb 0 201deg,#f7fcce 0 203deg,#fff7b3 0 206deg,#fee79b 0 210deg,#fed283 0 213deg,#fdbb6d 0 215deg,#fb9d59 0 222deg,#f67c4a 0 224deg,#ec5c3b 0 230deg,#dd3d2d 0 233deg,#ca2427 0 242deg,#dd3d2d 0 251deg,#ec5c3b 0 253deg,#f67c4a 0 256deg,#fb9d59 0 258deg,#fdbb6d 0 262deg,#fed283 0 265deg,#fee79b 0 267deg,#fff7b3 0 269deg,#f7fcce 0 271deg,#e7f6eb 0 274deg,#d4edf4 0 275deg,#b9e0ed 0 277deg,#9dcee3 0 280deg,#81b7d7 0 282deg,#679ec9 0 285deg,#5183bb 0 80%,#4065ac 0 292deg,#36459c 0 320deg,#4065ac 0 321deg,#5183bb 0 323deg,#679ec9 0 326deg,#81b7d7 0 328deg,#9dcee3 0 330deg,#b9e0ed 0 331deg,#d4edf4 0 92.5%,#e7f6eb 0 334deg,#f7fcce 0 335deg,#fff7b3 0 337deg,#fee79b 0 338deg,#fed283 0 341deg,#fdbb6d 0 344deg,#fb9d59 0 345deg,#f67c4a 0 347deg,#ec5c3b 0 350deg,#dd3d2d 0 355deg,#ec5c3b 0 359deg,#dd3d2d 0)"></i>
<i style="inset:-47.93px;background:conic-gradient(#dd3d2d 0 13deg,#ca2427 0 25deg,#dd3d2d 0 29deg,#ec5c3b 0 33deg,#dd3d2d 0 43deg,#ca2427 0 47deg,#b10b26 0 48deg,#ca2427 0 57deg,#b10b26 0 60deg,#ca2427 0 65deg,#dd3d2d 0 69deg,#ec5c3b 0 20%,#f67c4a 0 74deg,#fb9d59 0 76deg,#fdbb6d 0 79deg,#fed283 0 81deg,#fee79b 0 82deg,#fff7b3 0 84deg,#f7fcce 0 89deg,#e7f6eb 0 95deg,#d4edf4 0 96deg,#e7f6eb 0 103deg,#d4edf4 0 109deg,#e7f6eb 0 113deg,#d4edf4 0 32.5%,#e7f6eb 0 123deg,#d4edf4 0 143deg,#b9e0ed 0 42.5%,#9dcee3 0 157deg,#b9e0ed 0 165deg,#9dcee3 0 175deg,#b9e0ed 0 182deg,#9dcee3 0 52.5%,#b9e0ed 0 193deg,#d4edf4 0 197deg,#e7f6eb 0 201deg,#f7fcce 0 203deg,#fff7b3 0 206deg,#fee79b 0 212deg,#fed283 0 214deg,#fdbb6d 0 217deg,#fb9d59 0 222deg,#f67c4a 0 62.5%,#ec5c3b 0 230deg,#dd3d2d 0 65%,#ca2427 0 241deg,#dd3d2d 0 248deg,#ec5c3b 0 253deg,#f67c4a 0 256deg,#fb9d59 0 259deg,#fdbb6d 0 262deg,#fed283 0 265deg,#fee79b 0 266deg,#fff7b3 0 268deg,#f7fcce 0 271deg,#e7f6eb 0 273deg,#d4edf4 0 275deg,#b9e0ed 0 278deg,#9dcee3 0 280deg,#81b7d7 0 282deg,#679ec9 0 285deg,#5183bb 0 291deg,#4065ac 0 293deg,#36459c 0 319deg,#4065ac 0 321deg,#5183bb 0 323deg,#679ec9 0 326deg,#81b7d7 0 328deg,#9dcee3 0 330deg,#b9e0ed 0 331deg,#d4edf4 0 332deg,#e7f6eb 0 334deg,#f7fcce 0 335deg,#fff7b3 0 337deg,#fee79b 0 338deg,#fed283 0 341deg,#fdbb6d 0 344deg,#fb9d59 0 346deg,#f67c4a 0 348deg,#ec5c3b 0 358deg,#dd3d2d 0)"></i>
<i style="inset:-46.93px;background:conic-gradient(#dd3d2d 0 4deg,#ec5c3b 0 9deg,#dd3d2d 0 19deg,#ca2427 0 24deg,#dd3d2d 0 29deg,#ec5c3b 0 35deg,#dd3d2d 0 37deg,#ec5c3b 0 38deg,#dd3d2d 0 43deg,#ca2427 0 62deg,#dd3d2d 0 69deg,#ec5c3b 0 20%,#f67c4a 0 74deg,#fb9d59 0 76deg,#fdbb6d 0 79deg,#fed283 0 81deg,#fee79b 0 83deg,#fff7b3 0 85deg,#f7fcce 0 88deg,#e7f6eb 0 102deg,#d4edf4 0 109deg,#e7f6eb 0 123deg,#d4edf4 0 149deg,#b9e0ed 0 182deg,#9dcee3 0 192deg,#b9e0ed 0 195deg,#d4edf4 0 200deg,#e7f6eb 0 202deg,#f7fcce 0 204deg,#fff7b3 0 57.5%,#fee79b 0 212deg,#fed283 0 214deg,#fdbb6d 0 217deg,#fb9d59 0 222deg,#f67c4a 0 227deg,#ec5c3b 0 231deg,#dd3d2d 0 242deg,#ec5c3b 0 249deg,#f67c4a 0 257deg,#fb9d59 0 259deg,#fdbb6d 0 262deg,#fed283 0 264deg,#fee79b 0 266deg,#fff7b3 0 268deg,#f7fcce 0 271deg,#e7f6eb 0 273deg,#d4edf4 0 276deg,#b9e0ed 0 278deg,#9dcee3 0 281deg,#81b7d7 0 284deg,#679ec9 0 287deg,#5183bb 0 291deg,#4065ac 0 293deg,#36459c 0 317deg,#4065ac 0 321deg,#5183bb 0 323deg,#679ec9 0 326deg,#81b7d7 0 328deg,#9dcee3 0 329deg,#b9e0ed 0 331deg,#d4edf4 0 332deg,#e7f6eb 0 334deg,#f7fcce 0 335deg,#fff7b3 0 337deg,#fee79b 0 339deg,#fed283 0 95%,#fdbb6d 0 345deg,#fb9d59 0 347deg,#f67c4a 0 354deg,#ec5c3b 0 358deg,#dd3d2d 0)"></i>
<i style="inset:-45.93px;background:conic-gradient(#dd3d2d 0 3deg,#ec5c3b 0 9deg,#dd3d2d 0 30deg,#ec5c3b 0 38deg,#dd3d2d 0 42deg,#ca2427 0 59deg,#dd3d2d 0 68deg,#ec5c3b 0 71deg,#f67c4a 0 73deg,#fb9d59 0 75deg,#fdbb6d 0 79deg,#fed283 0 82deg,#fee79b 0 84deg,#fff7b3 0 85deg,#f7fcce 0 88deg,#e7f6eb 0 100deg,#d4edf4 0 109deg,#e7f6eb 0 122deg,#d4edf4 0 143deg,#e7f6eb 0 40%,#d4edf4 0 150deg,#b9e0ed 0 161deg,#d4edf4 0 164deg,#b9e0ed 0 168deg,#d4edf4 0 177deg,#b9e0ed 0 182deg,#9dcee3 0 185deg,#81b7d7 0 190deg,#9dcee3 0 194deg,#b9e0ed 0 199deg,#d4edf4 0 202deg,#e7f6eb 0 204deg,#f7fcce 0 206deg,#fff7b3 0 209deg,#fee79b 0 212deg,#fed283 0 214deg,#fdbb6d 0 217deg,#fb9d59 0 222deg,#f67c4a 0 228deg,#ec5c3b 0 235deg,#dd3d2d 0 239deg,#ec5c3b 0 244deg,#f67c4a 0 257deg,#fb9d59 0 259deg,#fdbb6d 0 72.5%,#fed283 0 264deg,#fee79b 0 266deg,#fff7b3 0 268deg,#f7fcce 0 75%,#e7f6eb 0 274deg,#d4edf4 0 277deg,#b9e0ed 0 280deg,#9dcee3 0 283deg,#81b7d7 0 285deg,#679ec9 0 289deg,#5183bb 0 292deg,#4065ac 0 294deg,#36459c 0 314deg,#4065ac 0 320deg,#5183bb 0 322deg,#679ec9 0 325deg,#81b7d7 0 327deg,#9dcee3 0 329deg,#b9e0ed 0 330deg,#d4edf4 0 332deg,#e7f6eb 0 92.5%,#f7fcce 0 335deg,#fff7b3 0 337deg,#fee79b 0 340deg,#fed283 0 343deg,#fdbb6d 0 346deg,#fb9d59 0 349deg,#f67c4a 0 357deg,#ec5c3b 0)"></i>
<i style="inset:-44.93px;background:conic-gradient(#ec5c3b 0 8deg,#dd3d2d 0 30deg,#ec5c3b 0 39deg,#dd3d2d 0 42deg,#ca2427 0 15%,#dd3d2d 0 61deg,#ec5c3b 0 69deg,#f67c4a 0 20%,#fb9d59 0 74deg,#fdbb6d 0 79deg,#fed283 0 82deg,#fee79b 0 84deg,#fff7b3 0 86deg,#f7fcce 0 89deg,#e7f6eb 0 99deg,#d4edf4 0 116deg,#e7f6eb 0 120deg,#d4edf4 0 141deg,#e7f6eb 0 147deg,#d4edf4 0 178deg,#b9e0ed 0 183deg,#9dcee3 0 185deg,#81b7d7 0 52.5%,#9dcee3 0 197deg,#b9e0ed 0 202deg,#d4edf4 0 204deg,#e7f6eb 0 205deg,#f7fcce 0 57.5%,#fff7b3 0 211deg,#fee79b 0 213deg,#fed283 0 60%,#fdbb6d 0 220deg,#fb9d59 0 223deg,#f67c4a 0 230deg,#ec5c3b 0 242deg,#f67c4a 0 256deg,#fb9d59 0 258deg,#fdbb6d 0 72.5%,#fed283 0 264deg,#fee79b 0 266deg,#fff7b3 0 268deg,#f7fcce 0 271deg,#e7f6eb 0 275deg,#d4edf4 0 278deg,#b9e0ed 0 281deg,#9dcee3 0 284deg,#81b7d7 0 287deg,#679ec9 0 291deg,#5183bb 0 293deg,#4065ac 0 307deg,#36459c 0 312deg,#4065ac 0 87.5%,#5183bb 0 321deg,#679ec9 0 325deg,#81b7d7 0 327deg,#9dcee3 0 328deg,#b9e0ed 0 330deg,#d4edf4 0 332deg,#e7f6eb 0 334deg,#f7fcce 0 335deg,#fff7b3 0 337deg,#fee79b 0 340deg,#fed283 0 343deg,#fdbb6d 0 347deg,#fb9d59 0 97.5%,#f67c4a 0 358deg,#ec5c3b 0)"></i>
<i style="inset:-43.93px;background:conic-gradient(#ec5c3b 0 8deg,#dd3d2d 0 31deg,#ec5c3b 0 40deg,#dd3d2d 0 49deg,#ca2427 0 51deg,#dd3d2d 0 58deg,#ec5c3b 0 67deg,#f67c4a 0 70deg,#fb9d59 0 73deg,#fdbb6d 0 77deg,#fed283 0 81deg,#fee79b 0 83deg,#fff7b3 0 85deg,#f7fcce 0 91deg,#e7f6eb 0 98deg,#d4edf4 0 102deg,#b9e0ed 0 106deg,#d4edf4 0 130deg,#e7f6eb 0 151deg,#d4edf4 0 42.5%,#e7f6eb 0 165deg,#d4edf4 0 166deg,#e7f6eb 0 176deg,#d4edf4 0 182deg,#b9e0ed 0 184deg,#9dcee3 0 199deg,#b9e0ed 0 202deg,#d4edf4 0 204deg,#e7f6eb 0 206deg,#f7fcce 0 210deg,#fff7b3 0 213deg,#fee79b 0 60%,#fed283 0 219deg,#fdbb6d 0 222deg,#fb9d59 0 227deg,#f67c4a 0 237deg,#ec5c3b 0 241deg,#f67c4a 0 256deg,#fb9d59 0 258deg,#fdbb6d 0 72.5%,#fed283 0 264deg,#fee79b 0 266deg,#fff7b3 0 268deg,#f7fcce 0 272deg,#e7f6eb 0 276deg,#d4edf4 0 278deg,#b9e0ed 0 282deg,#9dcee3 0 286deg,#81b7d7 0 290deg,#679ec9 0 293deg,#5183bb 0 85%,#4065ac 0 313deg,#5183bb 0 319deg,#679ec9 0 322deg,#81b7d7 0 325deg,#9dcee3 0 328deg,#b9e0ed 0 330deg,#d4edf4 0 332deg,#e7f6eb 0 334deg,#f7fcce 0 335deg,#fff7b3 0 337deg,#fee79b 0 339deg,#fed283 0 343deg,#fdbb6d 0 348deg,#fb9d59 0 97.5%,#f67c4a 0 359deg,#ec5c3b 0)"></i>
<i style="inset:-42.93px;background:conic-gradient(#f67c4a 0 2deg,#ec5c3b 0 5%,#dd3d2d 0 20deg,#ec5c3b 0 25deg,#dd3d2d 0 31deg,#ec5c3b 0 34deg,#f67c4a 0 38deg,#ec5c3b 0 41deg,#dd3d2d 0 53deg,#ec5c3b 0 60deg,#f67c4a 0 63deg,#ec5c3b 0 67deg,#f67c4a 0 70deg,#fb9d59 0 20%,#fdbb6d 0 75deg,#fed283 0 80deg,#fee79b 0 82deg,#fff7b3 0 85deg,#f7fcce 0 94deg,#e7f6eb 0 98deg,#d4edf4 0 104deg,#b9e0ed 0 105deg,#d4edf4 0 116deg,#b9e0ed 0 32.5%,#d4edf4 0 125deg,#e7f6eb 0 147deg,#f7fcce 0 149deg,#e7f6eb 0 158deg,#f7fcce 0 160deg,#e7f6eb 0 167deg,#f7fcce 0 176deg,#e7f6eb 0 181deg,#d4edf4 0 184deg,#b9e0ed 0 190deg,#9dcee3 0 194deg,#b9e0ed 0 202deg,#d4edf4 0 204deg,#e7f6eb 0 206deg,#f7fcce 0 214deg,#fff7b3 0 60%,#fee79b 0 218deg,#fed283 0 221deg,#fdbb6d 0 62.5%,#fb9d59 0 231deg,#f67c4a 0 238deg,#ec5c3b 0 245deg,#f67c4a 0 256deg,#fb9d59 0 258deg,#fdbb6d 0 72.5%,#fed283 0 264deg,#fee79b 0 266deg,#fff7b3 0 269deg,#f7fcce 0 273deg,#e7f6eb 0 276deg,#d4edf4 0 77.5%,#b9e0ed 0 282deg,#9dcee3 0 290deg,#81b7d7 0 293deg,#679ec9 0 305deg,#5183bb 0 314deg,#679ec9 0 320deg,#81b7d7 0 323deg,#9dcee3 0 326deg,#b9e0ed 0 329deg,#d4edf4 0 331deg,#e7f6eb 0 92.5%,#f7fcce 0 335deg,#fff7b3 0 337deg,#fee79b 0 339deg,#fed283 0 344deg,#fdbb6d 0 348deg,#fb9d59 0 97.5%,#f67c4a 0)"></i>
<i style="inset:-41.94px;background:conic-gradient(#f67c4a 0 6deg,#ec5c3b 0 34deg,#f67c4a 0 38deg,#ec5c3b 0 55deg,#f67c4a 0 65deg,#ec5c3b 0 66deg,#f67c4a 0 69deg,#fb9d59 0 20%,#fdbb6d 0 74deg,#fed283 0 79deg,#fee79b 0 81deg,#fff7b3 0 84deg,#f7fcce 0 92deg,#e7f6eb 0 98deg,#d4edf4 0 115deg,#b9e0ed 0 119deg,#d4edf4 0 122deg,#e7f6eb 0 146deg,#f7fcce 0 152deg,#e7f6eb 0 154deg,#f7fcce 0 167deg,#fff7b3 0 176deg,#f7fcce 0 181deg,#e7f6eb 0 184deg,#d4edf4 0 188deg,#b9e0ed 0 200deg,#d4edf4 0 204deg,#e7f6eb 0 213deg,#f7fcce 0 215deg,#fff7b3 0 217deg,#fee79b 0 220deg,#fed283 0 62.5%,#fdbb6d 0 230deg,#fb9d59 0 235deg,#f67c4a 0 240deg,#ec5c3b 0 242deg,#f67c4a 0 254deg,#fb9d59 0 258deg,#fdbb6d 0 72.5%,#fed283 0 264deg,#fee79b 0 266deg,#fff7b3 0 269deg,#f7fcce 0 273deg,#e7f6eb 0 275deg,#d4edf4 0 77.5%,#b9e0ed 0 283deg,#9dcee3 0 292deg,#81b7d7 0 295deg,#679ec9 0 308deg,#5183bb 0 310deg,#679ec9 0 316deg,#81b7d7 0 321deg,#9dcee3 0 90%,#b9e0ed 0 328deg,#d4edf4 0 330deg,#e7f6eb 0 332deg,#f7fcce 0 335deg,#fff7b3 0 337deg,#fee79b 0 340deg,#fed283 0 346deg,#fdbb6d 0 349deg,#fb9d59 0 97.5%,#f67c4a 0)"></i>
<i style="inset:-40.94px;background:conic-gradient(#f67c4a 0 8deg,#ec5c3b 0 33deg,#f67c4a 0 40deg,#ec5c3b 0 51deg,#f67c4a 0 69deg,#fb9d59 0 71deg,#fdbb6d 0 74deg,#fed283 0 78deg,#fee79b 0 81deg,#fff7b3 0 83deg,#f7fcce 0 87deg,#fff7b3 0 88deg,#f7fcce 0 92deg,#e7f6eb 0 97deg,#d4edf4 0 116deg,#b9e0ed 0 118deg,#d4edf4 0 121deg,#e7f6eb 0 133deg,#d4edf4 0 136deg,#e7f6eb 0 147deg,#f7fcce 0 157deg,#fff7b3 0 165deg,#fee79b 0 169deg,#fed283 0 172deg,#fee79b 0 176deg,#fff7b3 0 50%,#f7fcce 0 185deg,#e7f6eb 0 52.5%,#d4edf4 0 191deg,#b9e0ed 0 199deg,#d4edf4 0 205deg,#e7f6eb 0 209deg,#d4edf4 0 212deg,#e7f6eb 0 214deg,#f7fcce 0 60%,#fff7b3 0 218deg,#fee79b 0 226deg,#fed283 0 229deg,#fdbb6d 0 65%,#fb9d59 0 238deg,#f67c4a 0 247deg,#fb9d59 0 255deg,#fdbb6d 0 259deg,#fed283 0 263deg,#fee79b 0 266deg,#fff7b3 0 269deg,#f7fcce 0 272deg,#e7f6eb 0 275deg,#d4edf4 0 77.5%,#b9e0ed 0 284deg,#9dcee3 0 80%,#b9e0ed 0 290deg,#9dcee3 0 294deg,#81b7d7 0 298deg,#679ec9 0 313deg,#81b7d7 0 317deg,#9dcee3 0 323deg,#b9e0ed 0 326deg,#d4edf4 0 329deg,#e7f6eb 0 331deg,#f7fcce 0 334deg,#fff7b3 0 336deg,#fee79b 0 95%,#fed283 0 347deg,#fdbb6d 0 349deg,#fb9d59 0 359deg,#f67c4a 0)"></i>
<i style="inset:-39.94px;background:conic-gradient(#fb9d59 0 5deg,#f67c4a 0 5%,#ec5c3b 0 31deg,#f67c4a 0 46deg,#ec5c3b 0 49deg,#f67c4a 0 68deg,#fb9d59 0 70deg,#fdbb6d 0 74deg,#fed283 0 78deg,#fee79b 0 80deg,#fff7b3 0 82deg,#f7fcce 0 86deg,#fff7b3 0 89deg,#f7fcce 0 91deg,#e7f6eb 0 94deg,#d4edf4 0 120deg,#e7f6eb 0 132deg,#d4edf4 0 137deg,#e7f6eb 0 148deg,#f7fcce 0 154deg,#fff7b3 0 159deg,#fee79b 0 163deg,#fed283 0 169deg,#fdbb6d 0 172deg,#fed283 0 175deg,#fee79b 0 50%,#fff7b3 0 186deg,#f7fcce 0 52.5%,#e7f6eb 0 191deg,#d4edf4 0 213deg,#e7f6eb 0 215deg,#f7fcce 0 217deg,#fff7b3 0 226deg,#fee79b 0 229deg,#fed283 0 65%,#fdbb6d 0 239deg,#fb9d59 0 250deg,#fdbb6d 0 255deg,#fed283 0 72.5%,#fee79b 0 266deg,#fff7b3 0 268deg,#f7fcce 0 272deg,#e7f6eb 0 275deg,#d4edf4 0 280deg,#b9e0ed 0 285deg,#9dcee3 0 290deg,#b9e0ed 0 292deg,#9dcee3 0 296deg,#81b7d7 0 304deg,#679ec9 0 310deg,#81b7d7 0 314deg,#9dcee3 0 323deg,#b9e0ed 0 326deg,#d4edf4 0 328deg,#e7f6eb 0 330deg,#f7fcce 0 332deg,#fff7b3 0 336deg,#fee79b 0 343deg,#fed283 0 347deg,#fdbb6d 0 350deg,#fb9d59 0)"></i>
<i style="inset:-38.94px;background:conic-gradient(#fb9d59 0 7deg,#f67c4a 0 19deg,#ec5c3b 0 30deg,#f67c4a 0 66deg,#fb9d59 0 69deg,#fdbb6d 0 73deg,#fed283 0 78deg,#fee79b 0 80deg,#fff7b3 0 82deg,#f7fcce 0 86deg,#fff7b3 0 25%,#f7fcce 0 92deg,#e7f6eb 0 94deg,#d4edf4 0 120deg,#e7f6eb 0 133deg,#d4edf4 0 137deg,#e7f6eb 0 147deg,#f7fcce 0 151deg,#fff7b3 0 155deg,#fee79b 0 161deg,#fed283 0 164deg,#fdbb6d 0 176deg,#fed283 0 50%,#fee79b 0 186deg,#fff7b3 0 52.5%,#f7fcce 0 191deg,#e7f6eb 0 55%,#d4edf4 0 206deg,#e7f6eb 0 210deg,#d4edf4 0 212deg,#e7f6eb 0 60%,#f7fcce 0 226deg,#fff7b3 0 228deg,#fee79b 0 233deg,#fed283 0 247deg,#fdbb6d 0 251deg,#fed283 0 255deg,#fee79b 0 264deg,#fff7b3 0 268deg,#f7fcce 0 272deg,#e7f6eb 0 277deg,#d4edf4 0 281deg,#b9e0ed 0 286deg,#9dcee3 0 289deg,#b9e0ed 0 294deg,#9dcee3 0 298deg,#81b7d7 0 313deg,#9dcee3 0 316deg,#b9e0ed 0 325deg,#d4edf4 0 328deg,#e7f6eb 0 330deg,#f7fcce 0 332deg,#fff7b3 0 335deg,#fee79b 0 95%,#fed283 0 348deg,#fdbb6d 0 97.5%,#fb9d59 0 354deg,#fdbb6d 0 357deg,#fb9d59 0)"></i>
<i style="inset:-37.94px;background:conic-gradient(#fb9d59 0 6deg,#f67c4a 0 19deg,#ec5c3b 0 30deg,#f67c4a 0 33deg,#fb9d59 0 40deg,#f67c4a 0 64deg,#fb9d59 0 68deg,#fdbb6d 0 20%,#fed283 0 78deg,#fee79b 0 80deg,#fff7b3 0 83deg,#f7fcce 0 86deg,#fff7b3 0 91deg,#f7fcce 0 93deg,#e7f6eb 0 95deg,#d4edf4 0 119deg,#e7f6eb 0 143deg,#f7fcce 0 150deg,#fff7b3 0 42.5%,#fee79b 0 161deg,#fed283 0 164deg,#fdbb6d 0 170deg,#fb9d59 0 176deg,#fdbb6d 0 50%,#fed283 0 186deg,#fee79b 0 52.5%,#fff7b3 0 193deg,#f7fcce 0 197deg,#e7f6eb 0 201deg,#d4edf4 0 202deg,#e7f6eb 0 62.5%,#f7fcce 0 227deg,#fff7b3 0 231deg,#fee79b 0 249deg,#fed283 0 70%,#fee79b 0 72.5%,#fff7b3 0 267deg,#f7fcce 0 274deg,#e7f6eb 0 77.5%,#d4edf4 0 282deg,#b9e0ed 0 296deg,#9dcee3 0 305deg,#81b7d7 0 310deg,#9dcee3 0 314deg,#b9e0ed 0 325deg,#d4edf4 0 327deg,#e7f6eb 0 330deg,#f7fcce 0 332deg,#fff7b3 0 335deg,#fee79b 0 341deg,#fed283 0 349deg,#fdbb6d 0 358deg,#fb9d59 0)"></i>
<i style="inset:-36.94px;background:conic-gradient(#fb9d59 0 4deg,#f67c4a 0 8deg,#ec5c3b 0 13deg,#f67c4a 0 19deg,#ec5c3b 0 29deg,#f67c4a 0 32deg,#fb9d59 0 42deg,#f67c4a 0 57deg,#fb9d59 0 60deg,#f67c4a 0 63deg,#fb9d59 0 67deg,#fdbb6d 0 70deg,#fed283 0 77deg,#fee79b 0 80deg,#fff7b3 0 84deg,#f7fcce 0 85deg,#fff7b3 0 92deg,#f7fcce 0 94deg,#e7f6eb 0 97deg,#d4edf4 0 119deg,#e7f6eb 0 142deg,#f7fcce 0 150deg,#fff7b3 0 152deg,#fee79b 0 155deg,#fed283 0 163deg,#fdbb6d 0 170deg,#fb9d59 0 173deg,#f67c4a 0 176deg,#fb9d59 0 50%,#fdbb6d 0 185deg,#fed283 0 188deg,#fee79b 0 194deg,#fff7b3 0 197deg,#f7fcce 0 199deg,#e7f6eb 0 203deg,#f7fcce 0 210deg,#e7f6eb 0 226deg,#f7fcce 0 232deg,#fff7b3 0 250deg,#fee79b 0 254deg,#fff7b3 0 262deg,#f7fcce 0 276deg,#e7f6eb 0 280deg,#d4edf4 0 284deg,#b9e0ed 0 289deg,#d4edf4 0 292deg,#b9e0ed 0 82.5%,#9dcee3 0 312deg,#b9e0ed 0 325deg,#d4edf4 0 327deg,#e7f6eb 0 330deg,#f7fcce 0 92.5%,#fff7b3 0 335deg,#fee79b 0 339deg,#fed283 0 350deg,#fdbb6d 0 358deg,#fb9d59 0)"></i>
<i style="inset:-35.94px;background:conic-gradient(#fb9d59 0 2deg,#f67c4a 0 6deg,#ec5c3b 0 28deg,#f67c4a 0 33deg,#fb9d59 0 41deg,#f67c4a 0 49deg,#fb9d59 0 52deg,#f67c4a 0 56deg,#fb9d59 0 61deg,#f67c4a 0 63deg,#fb9d59 0 66deg,#fdbb6d 0 70deg,#fed283 0 75deg,#fee79b 0 79deg,#fff7b3 0 83deg,#f7fcce 0 86deg,#fff7b3 0 92deg,#f7fcce 0 95deg,#e7f6eb 0 100deg,#d4edf4 0 119deg,#e7f6eb 0 132deg,#f7fcce 0 136deg,#e7f6eb 0 142deg,#f7fcce 0 150deg,#fff7b3 0 42.5%,#fee79b 0 155deg,#fed283 0 160deg,#fdbb6d 0 169deg,#fb9d59 0 172deg,#f67c4a 0 178deg,#fb9d59 0 185deg,#fdbb6d 0 188deg,#fed283 0 193deg,#fee79b 0 196deg,#fff7b3 0 55%,#f7fcce 0 211deg,#e7f6eb 0 65%,#f7fcce 0 250deg,#fff7b3 0 255deg,#f7fcce 0 277deg,#e7f6eb 0 281deg,#d4edf4 0 293deg,#b9e0ed 0 298deg,#9dcee3 0 300deg,#b9e0ed 0 304deg,#9dcee3 0 310deg,#b9e0ed 0 314deg,#d4edf4 0 321deg,#b9e0ed 0 90%,#d4edf4 0 326deg,#e7f6eb 0 329deg,#f7fcce 0 92.5%,#fff7b3 0 335deg,#fee79b 0 339deg,#fed283 0 350deg,#fdbb6d 0 357deg,#fb9d59 0)"></i>
<i style="inset:-34.95px;background:conic-gradient(#f67c4a 0 5deg,#ec5c3b 0 7.5%,#f67c4a 0 38deg,#fb9d59 0 39deg,#f67c4a 0 48deg,#fb9d59 0 15%,#f67c4a 0 55deg,#fb9d59 0 60deg,#f67c4a 0 63deg,#fb9d59 0 66deg,#fdbb6d 0 70deg,#fed283 0 73deg,#fee79b 0 78deg,#fff7b3 0 82deg,#f7fcce 0 88deg,#fff7b3 0 92deg,#f7fcce 0 96deg,#e7f6eb 0 100deg,#d4edf4 0 103deg,#e7f6eb 0 113deg,#d4edf4 0 124deg,#e7f6eb 0 132deg,#f7fcce 0 136deg,#e7f6eb 0 40%,#f7fcce 0 150deg,#fff7b3 0 42.5%,#fee79b 0 155deg,#fed283 0 158deg,#fdbb6d 0 161deg,#fb9d59 0 47.5%,#f67c4a 0 185deg,#fb9d59 0 188deg,#fdbb6d 0 193deg,#fed283 0 195deg,#fee79b 0 55%,#fff7b3 0 202deg,#f7fcce 0 222deg,#e7f6eb 0 229deg,#d4edf4 0 65%,#e7f6eb 0 250deg,#f7fcce 0 257deg,#e7f6eb 0 75%,#f7fcce 0 278deg,#e7f6eb 0 282deg,#d4edf4 0 293deg,#b9e0ed 0 307deg,#9dcee3 0 308deg,#b9e0ed 0 312deg,#d4edf4 0 326deg,#e7f6eb 0 329deg,#f7fcce 0 332deg,#fff7b3 0 335deg,#fee79b 0 341deg,#fed283 0 348deg,#fdbb6d 0 355deg,#fb9d59 0 359deg,#f67c4a 0)"></i>
<i style="inset:-33.95px;background:conic-gradient(#f67c4a 0 3deg,#ec5c3b 0 28deg,#f67c4a 0 49deg,#fb9d59 0 60deg,#f67c4a 0 63deg,#fb9d59 0 66deg,#fdbb6d 0 69deg,#fed283 0 73deg,#fee79b 0 77deg,#fff7b3 0 80deg,#f7fcce 0 95deg,#e7f6eb 0 100deg,#d4edf4 0 102deg,#e7f6eb 0 118deg,#d4edf4 0 125deg,#e7f6eb 0 40%,#f7fcce 0 149deg,#fff7b3 0 42.5%,#fee79b 0 155deg,#fed283 0 157deg,#fdbb6d 0 160deg,#fb9d59 0 170deg,#f67c4a 0 178deg,#ec5c3b 0 186deg,#f67c4a 0 52.5%,#fb9d59 0 192deg,#fdbb6d 0 195deg,#fed283 0 55%,#fee79b 0 201deg,#fff7b3 0 213deg,#f7fcce 0 223deg,#e7f6eb 0 228deg,#d4edf4 0 239deg,#e7f6eb 0 246deg,#d4edf4 0 250deg,#e7f6eb 0 72.5%,#d4edf4 0 268deg,#e7f6eb 0 284deg,#d4edf4 0 293deg,#b9e0ed 0 300deg,#d4edf4 0 304deg,#b9e0ed 0 310deg,#d4edf4 0 314deg,#e7f6eb 0 327deg,#f7fcce 0 331deg,#fff7b3 0 334deg,#fee79b 0 340deg,#fed283 0 346deg,#fdbb6d 0 352deg,#fb9d59 0 357deg,#f67c4a 0)"></i>
<i style="inset:-32.95px;background:conic-gradient(#f67c4a 0 2deg,#ec5c3b 0 8deg,#dd3d2d 0 13deg,#ec5c3b 0 17deg,#dd3d2d 0 22deg,#ec5c3b 0 31deg,#f67c4a 0 51deg,#fb9d59 0 65deg,#fdbb6d 0 68deg,#fed283 0 73deg,#fee79b 0 78deg,#fff7b3 0 80deg,#f7fcce 0 94deg,#e7f6eb 0 101deg,#d4edf4 0 102deg,#e7f6eb 0 121deg,#d4edf4 0 35%,#e7f6eb 0 142deg,#f7fcce 0 148deg,#fff7b3 0 152deg,#fee79b 0 156deg,#fed283 0 158deg,#fdbb6d 0 160deg,#fb9d59 0 169deg,#f67c4a 0 173deg,#ec5c3b 0 181deg,#dd3d2d 0 186deg,#ec5c3b 0 52.5%,#f67c4a 0 191deg,#fb9d59 0 194deg,#fdbb6d 0 199deg,#fed283 0 201deg,#fee79b 0 211deg,#fff7b3 0 60%,#f7fcce 0 62.5%,#e7f6eb 0 231deg,#d4edf4 0 248deg,#b9e0ed 0 250deg,#d4edf4 0 253deg,#e7f6eb 0 257deg,#d4edf4 0 265deg,#b9e0ed 0 267deg,#d4edf4 0 271deg,#e7f6eb 0 283deg,#d4edf4 0 294deg,#b9e0ed 0 298deg,#d4edf4 0 313deg,#e7f6eb 0 90%,#f7fcce 0 330deg,#fff7b3 0 92.5%,#fee79b 0 340deg,#fed283 0 343deg,#fdbb6d 0 350deg,#fb9d59 0 355deg,#f67c4a 0)"></i>
<i style="inset:-31.95px;background:conic-gradient(#ec5c3b 0 1deg,#f67c4a 0 3deg,#ec5c3b 0 8deg,#dd3d2d 0 14deg,#ec5c3b 0 16deg,#dd3d2d 0 24deg,#ec5c3b 0 37deg,#f67c4a 0 52deg,#fb9d59 0 63deg,#fdbb6d 0 66deg,#fed283 0 70deg,#fee79b 0 20%,#fed283 0 74deg,#fee79b 0 79deg,#fff7b3 0 81deg,#f7fcce 0 94deg,#e7f6eb 0 102deg,#d4edf4 0 103deg,#e7f6eb 0 111deg,#f7fcce 0 113deg,#e7f6eb 0 122deg,#d4edf4 0 125deg,#e7f6eb 0 142deg,#f7fcce 0 146deg,#fff7b3 0 151deg,#fee79b 0 155deg,#fed283 0 158deg,#fdbb6d 0 161deg,#fb9d59 0 169deg,#f67c4a 0 173deg,#ec5c3b 0 179deg,#dd3d2d 0 188deg,#ec5c3b 0 191deg,#f67c4a 0 194deg,#fb9d59 0 55%,#fdbb6d 0 200deg,#fed283 0 204deg,#fee79b 0 214deg,#fff7b3 0 221deg,#f7fcce 0 226deg,#e7f6eb 0 235deg,#d4edf4 0 245deg,#b9e0ed 0 253deg,#d4edf4 0 258deg,#b9e0ed 0 269deg,#d4edf4 0 274deg,#e7f6eb 0 282deg,#d4edf4 0 286deg,#b9e0ed 0 293deg,#d4edf4 0 312deg,#e7f6eb 0 320deg,#f7fcce 0 326deg,#fff7b3 0 92.5%,#fee79b 0 340deg,#fed283 0 343deg,#fdbb6d 0 350deg,#fb9d59 0 354deg,#f67c4a 0 358deg,#ec5c3b 0)"></i>
<i style="inset:-30.95px;background:conic-gradient(#ec5c3b 0 2deg,#f67c4a 0 5deg,#ec5c3b 0 9deg,#dd3d2d 0 14deg,#ec5c3b 0 17deg,#dd3d2d 0 31deg,#ec5c3b 0 38deg,#f67c4a 0 52deg,#fb9d59 0 55deg,#fdbb6d 0 65deg,#fed283 0 68deg,#fee79b 0 73deg,#fed283 0 76deg,#fee79b 0 80deg,#fff7b3 0 83deg,#f7fcce 0 94deg,#e7f6eb 0 110deg,#f7fcce 0 115deg,#e7f6eb 0 141deg,#f7fcce 0 145deg,#fff7b3 0 151deg,#fee79b 0 155deg,#fed283 0 159deg,#fdbb6d 0 164deg,#fb9d59 0 170deg,#f67c4a 0 173deg,#ec5c3b 0 177deg,#dd3d2d 0 183deg,#ca2427 0 186deg,#dd3d2d 0 52.5%,#ec5c3b 0 193deg,#f67c4a 0 196deg,#fb9d59 0 55%,#fdbb6d 0 201deg,#fed283 0 211deg,#fee79b 0 215deg,#fff7b3 0 224deg,#f7fcce 0 227deg,#e7f6eb 0 236deg,#d4edf4 0 240deg,#b9e0ed 0 248deg,#9dcee3 0 253deg,#b9e0ed 0 273deg,#d4edf4 0 284deg,#b9e0ed 0 303deg,#d4edf4 0 311deg,#e7f6eb 0 319deg,#f7fcce 0 90%,#fff7b3 0 335deg,#fee79b 0 341deg,#fed283 0 344deg,#fdbb6d 0 350deg,#fb9d59 0 353deg,#f67c4a 0 356deg,#ec5c3b 0)"></i>
<i style="inset:-29.95px;background:conic-gradient(#ec5c3b 0 3deg,#f67c4a 0 5deg,#ec5c3b 0 9deg,#dd3d2d 0 14deg,#ec5c3b 0 17deg,#dd3d2d 0 35deg,#ec5c3b 0 41deg,#f67c4a 0 51deg,#fb9d59 0 15%,#fdbb6d 0 63deg,#fed283 0 67deg,#fee79b 0 20%,#fed283 0 77deg,#fee79b 0 81deg,#fff7b3 0 85deg,#f7fcce 0 94deg,#e7f6eb 0 136deg,#d4edf4 0 138deg,#e7f6eb 0 141deg,#f7fcce 0 40%,#fff7b3 0 42.5%,#fee79b 0 156deg,#fed283 0 163deg,#fdbb6d 0 167deg,#fb9d59 0 172deg,#f67c4a 0 174deg,#ec5c3b 0 178deg,#dd3d2d 0 52.5%,#ec5c3b 0 194deg,#f67c4a 0 196deg,#fb9d59 0 55%,#fdbb6d 0 202deg,#fed283 0 212deg,#fee79b 0 218deg,#fff7b3 0 226deg,#f7fcce 0 228deg,#e7f6eb 0 231deg,#f7fcce 0 235deg,#e7f6eb 0 237deg,#d4edf4 0 240deg,#b9e0ed 0 248deg,#9dcee3 0 72.5%,#b9e0ed 0 286deg,#9dcee3 0 295deg,#b9e0ed 0 82.5%,#9dcee3 0 301deg,#b9e0ed 0 305deg,#d4edf4 0 311deg,#e7f6eb 0 318deg,#f7fcce 0 325deg,#fff7b3 0 338deg,#fee79b 0 341deg,#fed283 0 346deg,#fdbb6d 0 350deg,#fb9d59 0 353deg,#f67c4a 0 356deg,#ec5c3b 0)"></i>
<i style="inset:-28.96px;background:conic-gradient(#ec5c3b 0 3deg,#f67c4a 0 6deg,#ec5c3b 0 10deg,#dd3d2d 0 14deg,#ec5c3b 0 17deg,#dd3d2d 0 10%,#ec5c3b 0 44deg,#f67c4a 0 50deg,#fb9d59 0 53deg,#fdbb6d 0 61deg,#fed283 0 67deg,#fee79b 0 70deg,#fed283 0 74deg,#fee79b 0 79deg,#fff7b3 0 86deg,#f7fcce 0 94deg,#e7f6eb 0 96deg,#f7fcce 0 100deg,#e7f6eb 0 104deg,#d4edf4 0 109deg,#e7f6eb 0 136deg,#d4edf4 0 138deg,#e7f6eb 0 142deg,#f7fcce 0 40%,#fff7b3 0 148deg,#f7fcce 0 152deg,#fff7b3 0 154deg,#fee79b 0 158deg,#fed283 0 165deg,#fdbb6d 0 170deg,#fb9d59 0 173deg,#f67c4a 0 176deg,#ec5c3b 0 185deg,#dd3d2d 0 186deg,#ec5c3b 0 190deg,#f67c4a 0 195deg,#fb9d59 0 197deg,#fdbb6d 0 202deg,#fed283 0 214deg,#fee79b 0 224deg,#fff7b3 0 227deg,#f7fcce 0 236deg,#e7f6eb 0 238deg,#d4edf4 0 241deg,#b9e0ed 0 249deg,#9dcee3 0 253deg,#81b7d7 0 255deg,#9dcee3 0 272deg,#b9e0ed 0 276deg,#9dcee3 0 287deg,#81b7d7 0 291deg,#9dcee3 0 303deg,#b9e0ed 0 85%,#d4edf4 0 314deg,#e7f6eb 0 318deg,#f7fcce 0 326deg,#fff7b3 0 338deg,#fee79b 0 341deg,#fed283 0 346deg,#fdbb6d 0 349deg,#fb9d59 0 352deg,#f67c4a 0 357deg,#ec5c3b 0)"></i>
<i style="inset:-27.96px;background:conic-gradient(#ec5c3b 0 3deg,#f67c4a 0 6deg,#ec5c3b 0 16deg,#dd3d2d 0 10%,#ec5c3b 0 45deg,#f67c4a 0 49deg,#fb9d59 0 52deg,#fdbb6d 0 55deg,#fed283 0 58deg,#fdbb6d 0 61deg,#fed283 0 20%,#fee79b 0 77deg,#fff7b3 0 85deg,#f7fcce 0 100deg,#e7f6eb 0 104deg,#d4edf4 0 109deg,#e7f6eb 0 114deg,#d4edf4 0 116deg,#e7f6eb 0 142deg,#f7fcce 0 145deg,#fff7b3 0 147deg,#f7fcce 0 42.5%,#fff7b3 0 157deg,#fee79b 0 164deg,#fed283 0 168deg,#fdbb6d 0 172deg,#fb9d59 0 181deg,#f67c4a 0 185deg,#ec5c3b 0 186deg,#f67c4a 0 190deg,#fb9d59 0 195deg,#fdbb6d 0 204deg,#fed283 0 224deg,#fee79b 0 226deg,#fff7b3 0 235deg,#f7fcce 0 237deg,#e7f6eb 0 239deg,#d4edf4 0 248deg,#b9e0ed 0 251deg,#9dcee3 0 276deg,#81b7d7 0 301deg,#9dcee3 0 304deg,#b9e0ed 0 307deg,#d4edf4 0 316deg,#e7f6eb 0 319deg,#f7fcce 0 328deg,#fff7b3 0 92.5%,#fee79b 0 339deg,#fed283 0 343deg,#fdbb6d 0 349deg,#fb9d59 0 353deg,#f67c4a 0 357deg,#ec5c3b 0)"></i>
<i style="inset:-26.96px;background:conic-gradient(#ec5c3b 0 5%,#dd3d2d 0 24deg,#ec5c3b 0 7.5%,#dd3d2d 0 32deg,#ec5c3b 0 45deg,#f67c4a 0 48deg,#fb9d59 0 51deg,#fdbb6d 0 61deg,#fed283 0 70deg,#fee79b 0 75deg,#fff7b3 0 83deg,#f7fcce 0 100deg,#e7f6eb 0 104deg,#d4edf4 0 106deg,#e7f6eb 0 113deg,#d4edf4 0 32.5%,#e7f6eb 0 142deg,#f7fcce 0 154deg,#fff7b3 0 163deg,#fee79b 0 167deg,#fed283 0 172deg,#fdbb6d 0 182deg,#fb9d59 0 52.5%,#fdbb6d 0 223deg,#fed283 0 226deg,#fee79b 0 233deg,#fff7b3 0 237deg,#f7fcce 0 239deg,#e7f6eb 0 247deg,#d4edf4 0 250deg,#b9e0ed 0 256deg,#9dcee3 0 72.5%,#81b7d7 0 267deg,#9dcee3 0 75%,#81b7d7 0 275deg,#679ec9 0 291deg,#81b7d7 0 302deg,#9dcee3 0 305deg,#b9e0ed 0 308deg,#d4edf4 0 316deg,#e7f6eb 0 320deg,#f7fcce 0 328deg,#fff7b3 0 332deg,#fee79b 0 338deg,#fed283 0 341deg,#fdbb6d 0 348deg,#fb9d59 0 353deg,#f67c4a 0 358deg,#ec5c3b 0)"></i>
<i style="inset:-25.96px;background:conic-gradient(#f67c4a 0 1deg,#ec5c3b 0 10%,#f67c4a 0 38deg,#ec5c3b 0 43deg,#f67c4a 0 49deg,#fb9d59 0 52deg,#fdbb6d 0 62deg,#fed283 0 68deg,#fee79b 0 75deg,#fff7b3 0 86deg,#f7fcce 0 99deg,#e7f6eb 0 112deg,#d4edf4 0 32.5%,#e7f6eb 0 37.5%,#f7fcce 0 155deg,#fff7b3 0 167deg,#fee79b 0 47.5%,#fed283 0 181deg,#fdbb6d 0 184deg,#fb9d59 0 185deg,#fdbb6d 0 188deg,#fed283 0 196deg,#fdbb6d 0 209deg,#fb9d59 0 222deg,#fdbb6d 0 62.5%,#fed283 0 230deg,#fee79b 0 237deg,#fff7b3 0 241deg,#f7fcce 0 246deg,#e7f6eb 0 250deg,#d4edf4 0 256deg,#b9e0ed 0 259deg,#9dcee3 0 72.5%,#81b7d7 0 273deg,#679ec9 0 275deg,#5183bb 0 290deg,#679ec9 0 300deg,#81b7d7 0 304deg,#9dcee3 0 307deg,#b9e0ed 0 312deg,#d4edf4 0 317deg,#e7f6eb 0 326deg,#f7fcce 0 329deg,#fff7b3 0 332deg,#fee79b 0 335deg,#fed283 0 340deg,#fdbb6d 0 343deg,#fb9d59 0 354deg,#f67c4a 0)"></i>
<i style="inset:-24.96px;background:conic-gradient(#f67c4a 0 2deg,#ec5c3b 0 10deg,#f67c4a 0 14deg,#ec5c3b 0 25deg,#f67c4a 0 31deg,#ec5c3b 0 34deg,#f67c4a 0 49deg,#fb9d59 0 52deg,#fdbb6d 0 62deg,#fed283 0 66deg,#fee79b 0 75deg,#fff7b3 0 87deg,#f7fcce 0 96deg,#e7f6eb 0 110deg,#d4edf4 0 32.5%,#e7f6eb 0 128deg,#d4edf4 0 131deg,#e7f6eb 0 134deg,#f7fcce 0 147deg,#fff7b3 0 159deg,#f7fcce 0 164deg,#fff7b3 0 47.5%,#fee79b 0 179deg,#fed283 0 182deg,#fdbb6d 0 186deg,#fed283 0 52.5%,#fee79b 0 192deg,#fed283 0 196deg,#fdbb6d 0 204deg,#fb9d59 0 210deg,#f67c4a 0 222deg,#fb9d59 0 224deg,#fdbb6d 0 230deg,#fed283 0 237deg,#fee79b 0 67.5%,#fff7b3 0 247deg,#f7fcce 0 250deg,#e7f6eb 0 254deg,#d4edf4 0 258deg,#b9e0ed 0 260deg,#9dcee3 0 262deg,#81b7d7 0 271deg,#679ec9 0 274deg,#5183bb 0 277deg,#4065ac 0 289deg,#5183bb 0 294deg,#679ec9 0 300deg,#81b7d7 0 305deg,#9dcee3 0 309deg,#b9e0ed 0 314deg,#d4edf4 0 318deg,#e7f6eb 0 326deg,#f7fcce 0 330deg,#fff7b3 0 332deg,#fee79b 0 335deg,#fed283 0 341deg,#fdbb6d 0 344deg,#fb9d59 0)"></i>
<i style="inset:-23.96px;background:conic-gradient(#fb9d59 0 1deg,#f67c4a 0 16deg,#ec5c3b 0 23deg,#f67c4a 0 37deg,#fb9d59 0 52deg,#fdbb6d 0 55deg,#fed283 0 60deg,#fdbb6d 0 61deg,#fed283 0 65deg,#fee79b 0 75deg,#fff7b3 0 88deg,#f7fcce 0 94deg,#e7f6eb 0 109deg,#d4edf4 0 32.5%,#e7f6eb 0 134deg,#f7fcce 0 147deg,#fff7b3 0 161deg,#f7fcce 0 169deg,#fff7b3 0 178deg,#fee79b 0 181deg,#fed283 0 187deg,#fee79b 0 193deg,#fed283 0 196deg,#fdbb6d 0 202deg,#fb9d59 0 208deg,#f67c4a 0 224deg,#fb9d59 0 229deg,#fdbb6d 0 233deg,#fed283 0 67.5%,#fee79b 0 247deg,#fff7b3 0 250deg,#f7fcce 0 70%,#e7f6eb 0 257deg,#d4edf4 0 260deg,#b9e0ed 0 72.5%,#9dcee3 0 265deg,#81b7d7 0 75%,#679ec9 0 273deg,#5183bb 0 278deg,#4065ac 0 281deg,#36459c 0 286deg,#4065ac 0 291deg,#5183bb 0 82.5%,#679ec9 0 301deg,#81b7d7 0 307deg,#9dcee3 0 311deg,#b9e0ed 0 314deg,#d4edf4 0 322deg,#e7f6eb 0 326deg,#f7fcce 0 330deg,#fff7b3 0 92.5%,#fee79b 0 337deg,#fed283 0 95%,#fdbb6d 0 346deg,#fb9d59 0)"></i>
<i style="inset:-22.96px;background:conic-gradient(#fb9d59 0 2deg,#f67c4a 0 4deg,#fb9d59 0 7deg,#f67c4a 0 5%,#ec5c3b 0 22deg,#f67c4a 0 25deg,#fb9d59 0 28deg,#f67c4a 0 34deg,#fb9d59 0 41deg,#fdbb6d 0 45deg,#fb9d59 0 49deg,#fdbb6d 0 53deg,#fed283 0 65deg,#fee79b 0 68deg,#fff7b3 0 69deg,#fee79b 0 75deg,#fff7b3 0 89deg,#f7fcce 0 93deg,#e7f6eb 0 101deg,#f7fcce 0 105deg,#e7f6eb 0 110deg,#d4edf4 0 116deg,#e7f6eb 0 133deg,#f7fcce 0 149deg,#fff7b3 0 163deg,#f7fcce 0 47.5%,#fff7b3 0 50%,#fee79b 0 193deg,#fed283 0 197deg,#fdbb6d 0 204deg,#fb9d59 0 208deg,#f67c4a 0 219deg,#ec5c3b 0 222deg,#f67c4a 0 228deg,#fb9d59 0 231deg,#fdbb6d 0 242deg,#fed283 0 246deg,#fee79b 0 249deg,#fff7b3 0 70%,#f7fcce 0 255deg,#e7f6eb 0 259deg,#d4edf4 0 72.5%,#b9e0ed 0 264deg,#9dcee3 0 268deg,#81b7d7 0 271deg,#679ec9 0 275deg,#5183bb 0 77.5%,#4065ac 0 282deg,#36459c 0 286deg,#4065ac 0 293deg,#5183bb 0 82.5%,#679ec9 0 304deg,#81b7d7 0 307deg,#9dcee3 0 311deg,#b9e0ed 0 87.5%,#d4edf4 0 322deg,#e7f6eb 0 325deg,#f7fcce 0 329deg,#fff7b3 0 92.5%,#fee79b 0 340deg,#fed283 0 344deg,#fdbb6d 0 358deg,#fb9d59 0)"></i>
<i style="inset:-21.97px;background:conic-gradient(#fb9d59 0 3deg,#fdbb6d 0 8deg,#fb9d59 0 11deg,#f67c4a 0 23deg,#fb9d59 0 35deg,#fdbb6d 0 50deg,#fed283 0 15%,#fee79b 0 61deg,#fed283 0 64deg,#fee79b 0 68deg,#fff7b3 0 69deg,#fee79b 0 75deg,#fff7b3 0 89deg,#f7fcce 0 93deg,#e7f6eb 0 100deg,#f7fcce 0 107deg,#e7f6eb 0 128deg,#f7fcce 0 152deg,#fff7b3 0 164deg,#f7fcce 0 47.5%,#fff7b3 0 182deg,#fee79b 0 187deg,#fff7b3 0 190deg,#fee79b 0 194deg,#fed283 0 201deg,#fdbb6d 0 206deg,#fb9d59 0 212deg,#f67c4a 0 229deg,#fb9d59 0 233deg,#fdbb6d 0 235deg,#fb9d59 0 240deg,#fdbb6d 0 245deg,#fed283 0 249deg,#fee79b 0 251deg,#fff7b3 0 254deg,#f7fcce 0 259deg,#e7f6eb 0 262deg,#d4edf4 0 264deg,#b9e0ed 0 267deg,#9dcee3 0 269deg,#81b7d7 0 273deg,#679ec9 0 277deg,#5183bb 0 280deg,#4065ac 0 292deg,#5183bb 0 82.5%,#679ec9 0 303deg,#81b7d7 0 85%,#9dcee3 0 310deg,#b9e0ed 0 87.5%,#d4edf4 0 321deg,#e7f6eb 0 325deg,#f7fcce 0 329deg,#fff7b3 0 337deg,#fee79b 0 344deg,#fed283 0 357deg,#fdbb6d 0 359deg,#fb9d59 0)"></i>
<i style="inset:-20.97px;background:conic-gradient(#fdbb6d 0 2deg,#fed283 0 8deg,#fdbb6d 0 12deg,#fb9d59 0 23deg,#fdbb6d 0 38deg,#fed283 0 53deg,#fee79b 0 67deg,#fff7b3 0 71deg,#fee79b 0 74deg,#fff7b3 0 80deg,#f7fcce 0 84deg,#fff7b3 0 89deg,#f7fcce 0 93deg,#e7f6eb 0 99deg,#f7fcce 0 110deg,#e7f6eb 0 128deg,#f7fcce 0 145deg,#e7f6eb 0 148deg,#f7fcce 0 42.5%,#fff7b3 0 164deg,#f7fcce 0 169deg,#fff7b3 0 192deg,#fee79b 0 200deg,#fed283 0 204deg,#fdbb6d 0 212deg,#fb9d59 0 220deg,#f67c4a 0 228deg,#fb9d59 0 240deg,#fdbb6d 0 246deg,#fed283 0 250deg,#fee79b 0 253deg,#fff7b3 0 257deg,#f7fcce 0 72.5%,#e7f6eb 0 264deg,#d4edf4 0 266deg,#b9e0ed 0 269deg,#9dcee3 0 272deg,#81b7d7 0 277deg,#679ec9 0 280deg,#5183bb 0 295deg,#679ec9 0 299deg,#81b7d7 0 305deg,#9dcee3 0 308deg,#b9e0ed 0 87.5%,#d4edf4 0 319deg,#e7f6eb 0 326deg,#f7fcce 0 335deg,#fff7b3 0 345deg,#fee79b 0 357deg,#fed283 0 359deg,#fdbb6d 0)"></i>
<i style="inset:-19.97px;background:conic-gradient(#fee79b 0 4deg,#fff7b3 0 6deg,#fee79b 0 10deg,#fed283 0 32deg,#fdbb6d 0 10%,#fed283 0 45deg,#fee79b 0 66deg,#fff7b3 0 80deg,#f7fcce 0 84deg,#fff7b3 0 89deg,#f7fcce 0 93deg,#e7f6eb 0 100deg,#f7fcce 0 111deg,#e7f6eb 0 32.5%,#f7fcce 0 122deg,#e7f6eb 0 130deg,#f7fcce 0 40%,#e7f6eb 0 148deg,#f7fcce 0 155deg,#fff7b3 0 164deg,#f7fcce 0 167deg,#fff7b3 0 194deg,#fee79b 0 203deg,#fed283 0 212deg,#fdbb6d 0 224deg,#fb9d59 0 240deg,#fdbb6d 0 247deg,#fed283 0 251deg,#fee79b 0 255deg,#fff7b3 0 259deg,#f7fcce 0 263deg,#e7f6eb 0 266deg,#d4edf4 0 268deg,#b9e0ed 0 271deg,#9dcee3 0 277deg,#81b7d7 0 280deg,#679ec9 0 286deg,#5183bb 0 292deg,#679ec9 0 296deg,#81b7d7 0 302deg,#9dcee3 0 308deg,#b9e0ed 0 87.5%,#d4edf4 0 90%,#e7f6eb 0 335deg,#f7fcce 0 347deg,#fff7b3 0 353deg,#f7fcce 0 355deg,#fff7b3 0 357deg,#fee79b 0)"></i>
<i style="inset:-18.97px;background:conic-gradient(#fff7b3 0 2deg,#f7fcce 0 9deg,#fff7b3 0 13deg,#fee79b 0 32deg,#fed283 0 40deg,#fee79b 0 46deg,#fff7b3 0 52deg,#fee79b 0 15%,#fed283 0 59deg,#fee79b 0 66deg,#fff7b3 0 86deg,#f7fcce 0 94deg,#e7f6eb 0 105deg,#f7fcce 0 106deg,#e7f6eb 0 32.5%,#f7fcce 0 124deg,#e7f6eb 0 132deg,#f7fcce 0 40%,#e7f6eb 0 148deg,#f7fcce 0 159deg,#fff7b3 0 201deg,#fee79b 0 204deg,#fed283 0 226deg,#fdbb6d 0 246deg,#fed283 0 250deg,#fee79b 0 256deg,#fff7b3 0 260deg,#f7fcce 0 264deg,#e7f6eb 0 267deg,#d4edf4 0 75%,#b9e0ed 0 278deg,#9dcee3 0 281deg,#81b7d7 0 290deg,#679ec9 0 293deg,#81b7d7 0 299deg,#9dcee3 0 313deg,#b9e0ed 0 317deg,#d4edf4 0 322deg,#b9e0ed 0 327deg,#d4edf4 0 335deg,#e7f6eb 0 95%,#d4edf4 0 347deg,#e7f6eb 0 356deg,#f7fcce 0 359deg,#fff7b3 0)"></i>
<i style="inset:-17.97px;background:conic-gradient(#e7f6eb 0 4deg,#d4edf4 0 10deg,#e7f6eb 0 12deg,#f7fcce 0 21deg,#fff7b3 0 33deg,#fee79b 0 42deg,#fff7b3 0 47deg,#f7fcce 0 51deg,#fff7b3 0 53deg,#fee79b 0 55deg,#fed283 0 60deg,#fee79b 0 67deg,#fff7b3 0 85deg,#f7fcce 0 95deg,#e7f6eb 0 32.5%,#f7fcce 0 125deg,#e7f6eb 0 130deg,#f7fcce 0 137deg,#fff7b3 0 140deg,#f7fcce 0 145deg,#e7f6eb 0 147deg,#f7fcce 0 151deg,#e7f6eb 0 152deg,#f7fcce 0 160deg,#fff7b3 0 175deg,#f7fcce 0 181deg,#fff7b3 0 202deg,#fee79b 0 205deg,#fed283 0 214deg,#fee79b 0 226deg,#fed283 0 229deg,#fdbb6d 0 238deg,#fed283 0 242deg,#fdbb6d 0 245deg,#fed283 0 249deg,#fee79b 0 256deg,#fff7b3 0 72.5%,#f7fcce 0 265deg,#e7f6eb 0 269deg,#d4edf4 0 278deg,#b9e0ed 0 281deg,#9dcee3 0 293deg,#81b7d7 0 296deg,#9dcee3 0 301deg,#b9e0ed 0 305deg,#9dcee3 0 314deg,#b9e0ed 0 321deg,#9dcee3 0 332deg,#b9e0ed 0 337deg,#d4edf4 0 339deg,#b9e0ed 0 343deg,#9dcee3 0 348deg,#b9e0ed 0 356deg,#d4edf4 0)"></i>
<i style="inset:-16.97px;background:conic-gradient(#b9e0ed 0 4deg,#9dcee3 0 10deg,#b9e0ed 0 12deg,#d4edf4 0 14deg,#e7f6eb 0 23deg,#f7fcce 0 7.5%,#e7f6eb 0 30deg,#f7fcce 0 33deg,#fff7b3 0 46deg,#f7fcce 0 51deg,#fff7b3 0 53deg,#fee79b 0 56deg,#fed283 0 60deg,#fee79b 0 20%,#fff7b3 0 84deg,#f7fcce 0 97deg,#e7f6eb 0 120deg,#f7fcce 0 136deg,#fff7b3 0 140deg,#f7fcce 0 150deg,#e7f6eb 0 42.5%,#f7fcce 0 161deg,#fff7b3 0 176deg,#f7fcce 0 50%,#fff7b3 0 186deg,#f7fcce 0 187deg,#fff7b3 0 55%,#f7fcce 0 199deg,#fff7b3 0 203deg,#fee79b 0 208deg,#fed283 0 212deg,#fee79b 0 219deg,#fff7b3 0 62.5%,#fee79b 0 227deg,#fed283 0 248deg,#fee79b 0 257deg,#fff7b3 0 263deg,#f7fcce 0 267deg,#e7f6eb 0 278deg,#d4edf4 0 280deg,#b9e0ed 0 294deg,#9dcee3 0 298deg,#b9e0ed 0 307deg,#9dcee3 0 313deg,#b9e0ed 0 317deg,#9dcee3 0 322deg,#81b7d7 0 335deg,#9dcee3 0 341deg,#81b7d7 0 344deg,#679ec9 0 353deg,#81b7d7 0 357deg,#9dcee3 0)"></i>
<i style="inset:-15.98px;background:conic-gradient(#81b7d7 0 5deg,#679ec9 0 9deg,#81b7d7 0 11deg,#9dcee3 0 13deg,#b9e0ed 0 17deg,#d4edf4 0 30deg,#e7f6eb 0 33deg,#f7fcce 0 46deg,#fff7b3 0 53deg,#fee79b 0 57deg,#fed283 0 61deg,#fee79b 0 81deg,#fff7b3 0 85deg,#f7fcce 0 88deg,#fff7b3 0 94deg,#f7fcce 0 101deg,#e7f6eb 0 30%,#f7fcce 0 112deg,#e7f6eb 0 122deg,#f7fcce 0 45%,#fff7b3 0 178deg,#f7fcce 0 179deg,#fff7b3 0 184deg,#f7fcce 0 188deg,#fff7b3 0 197deg,#f7fcce 0 200deg,#fff7b3 0 205deg,#fee79b 0 218deg,#fff7b3 0 226deg,#fee79b 0 233deg,#fed283 0 236deg,#fee79b 0 244deg,#fed283 0 248deg,#fee79b 0 260deg,#fff7b3 0 265deg,#f7fcce 0 278deg,#e7f6eb 0 281deg,#d4edf4 0 295deg,#b9e0ed 0 301deg,#d4edf4 0 304deg,#b9e0ed 0 308deg,#9dcee3 0 311deg,#b9e0ed 0 87.5%,#9dcee3 0 320deg,#81b7d7 0 323deg,#679ec9 0 341deg,#5183bb 0 344deg,#4065ac 0 353deg,#5183bb 0 357deg,#679ec9 0)"></i>
<i style="inset:-14.98px;background:conic-gradient(#5183bb 0 8deg,#679ec9 0 11deg,#81b7d7 0 14deg,#9dcee3 0 19deg,#b9e0ed 0 23deg,#d4edf4 0 32deg,#e7f6eb 0 34deg,#f7fcce 0 46deg,#fff7b3 0 51deg,#fee79b 0 56deg,#fed283 0 63deg,#fee79b 0 69deg,#fed283 0 74deg,#fee79b 0 83deg,#fff7b3 0 89deg,#fee79b 0 94deg,#fff7b3 0 99deg,#f7fcce 0 114deg,#e7f6eb 0 122deg,#f7fcce 0 125deg,#fff7b3 0 130deg,#f7fcce 0 166deg,#fff7b3 0 178deg,#f7fcce 0 52.5%,#fff7b3 0 196deg,#f7fcce 0 204deg,#fff7b3 0 208deg,#fee79b 0 220deg,#fff7b3 0 230deg,#fee79b 0 244deg,#fed283 0 249deg,#fee79b 0 253deg,#fed283 0 258deg,#fee79b 0 264deg,#fff7b3 0 77.5%,#f7fcce 0 281deg,#e7f6eb 0 295deg,#d4edf4 0 305deg,#b9e0ed 0 309deg,#9dcee3 0 311deg,#b9e0ed 0 314deg,#9dcee3 0 319deg,#81b7d7 0 322deg,#679ec9 0 326deg,#5183bb 0 338deg,#4065ac 0 343deg,#36459c 0 354deg,#4065ac 0 358deg,#5183bb 0)"></i>
<i style="inset:-13.98px;background:conic-gradient(#4065ac 0 3deg,#5183bb 0 8deg,#679ec9 0 12deg,#81b7d7 0 5%,#9dcee3 0 21deg,#b9e0ed 0 24deg,#d4edf4 0 31deg,#e7f6eb 0 34deg,#f7fcce 0 44deg,#fff7b3 0 49deg,#fee79b 0 55deg,#fed283 0 75deg,#fee79b 0 80deg,#fed283 0 81deg,#fee79b 0 89deg,#fed283 0 93deg,#fee79b 0 96deg,#fff7b3 0 113deg,#f7fcce 0 32.5%,#e7f6eb 0 122deg,#f7fcce 0 35%,#fff7b3 0 127deg,#f7fcce 0 42.5%,#e7f6eb 0 160deg,#f7fcce 0 182deg,#e7f6eb 0 185deg,#f7fcce 0 208deg,#fff7b3 0 215deg,#fee79b 0 222deg,#fff7b3 0 232deg,#fee79b 0 67.5%,#fed283 0 264deg,#fee79b 0 268deg,#fff7b3 0 271deg,#fee79b 0 77.5%,#fff7b3 0 285deg,#f7fcce 0 289deg,#e7f6eb 0 292deg,#f7fcce 0 295deg,#e7f6eb 0 300deg,#d4edf4 0 305deg,#b9e0ed 0 87.5%,#9dcee3 0 319deg,#81b7d7 0 322deg,#679ec9 0 325deg,#5183bb 0 329deg,#4065ac 0 340deg,#36459c 0 356deg,#4065ac 0)"></i>
<i style="inset:-12.98px;background:conic-gradient(#5183bb 0 7deg,#679ec9 0 10deg,#81b7d7 0 5%,#9dcee3 0 21deg,#b9e0ed 0 22deg,#d4edf4 0 29deg,#e7f6eb 0 33deg,#f7fcce 0 10%,#fff7b3 0 47deg,#fee79b 0 50deg,#fed283 0 59deg,#fdbb6d 0 64deg,#fed283 0 94deg,#fee79b 0 98deg,#fff7b3 0 116deg,#f7fcce 0 152deg,#e7f6eb 0 166deg,#f7fcce 0 50%,#e7f6eb 0 187deg,#f7fcce 0 190deg,#e7f6eb 0 192deg,#f7fcce 0 201deg,#e7f6eb 0 57.5%,#f7fcce 0 212deg,#fff7b3 0 60%,#fee79b 0 221deg,#fff7b3 0 231deg,#fee79b 0 242deg,#fed283 0 246deg,#fdbb6d 0 248deg,#fed283 0 254deg,#fdbb6d 0 262deg,#fed283 0 267deg,#fee79b 0 75%,#fed283 0 283deg,#fee79b 0 286deg,#fff7b3 0 289deg,#f7fcce 0 300deg,#e7f6eb 0 304deg,#d4edf4 0 307deg,#b9e0ed 0 318deg,#9dcee3 0 320deg,#81b7d7 0 323deg,#679ec9 0 327deg,#5183bb 0 331deg,#4065ac 0 332deg,#5183bb 0 337deg,#4065ac 0 95%,#36459c 0 348deg,#4065ac 0 358deg,#5183bb 0)"></i>
<i style="inset:-11.98px;background:conic-gradient(#679ec9 0 7deg,#81b7d7 0 10deg,#9dcee3 0 19deg,#b9e0ed 0 21deg,#d4edf4 0 23deg,#e7f6eb 0 30deg,#f7fcce 0 34deg,#fff7b3 0 46deg,#fee79b 0 48deg,#fed283 0 57deg,#fdbb6d 0 70deg,#fed283 0 95deg,#fee79b 0 99deg,#fff7b3 0 104deg,#fee79b 0 30%,#fff7b3 0 110deg,#fee79b 0 113deg,#fff7b3 0 32.5%,#f7fcce 0 152deg,#e7f6eb 0 47.5%,#f7fcce 0 50%,#e7f6eb 0 195deg,#f7fcce 0 201deg,#e7f6eb 0 210deg,#f7fcce 0 213deg,#fff7b3 0 230deg,#fee79b 0 240deg,#fed283 0 245deg,#fdbb6d 0 265deg,#fed283 0 75%,#fdbb6d 0 278deg,#fb9d59 0 281deg,#fdbb6d 0 284deg,#fed283 0 287deg,#fee79b 0 289deg,#fff7b3 0 300deg,#f7fcce 0 303deg,#e7f6eb 0 307deg,#d4edf4 0 318deg,#b9e0ed 0 320deg,#9dcee3 0 322deg,#81b7d7 0 326deg,#679ec9 0 339deg,#5183bb 0 343deg,#4065ac 0 346deg,#5183bb 0 357deg,#679ec9 0)"></i>
<i style="inset:-10.98px;background:conic-gradient(#81b7d7 0 3deg,#9dcee3 0 9deg,#b9e0ed 0 13deg,#d4edf4 0 22deg,#e7f6eb 0 24deg,#f7fcce 0 31deg,#fff7b3 0 10%,#fee79b 0 48deg,#fed283 0 51deg,#fdbb6d 0 53deg,#fed283 0 55deg,#fdbb6d 0 59deg,#fb9d59 0 66deg,#fdbb6d 0 71deg,#fed283 0 84deg,#fdbb6d 0 86deg,#fed283 0 95deg,#fee79b 0 98deg,#fff7b3 0 104deg,#fee79b 0 109deg,#fff7b3 0 116deg,#f7fcce 0 121deg,#fff7b3 0 125deg,#f7fcce 0 151deg,#e7f6eb 0 47.5%,#f7fcce 0 181deg,#e7f6eb 0 191deg,#d4edf4 0 192deg,#e7f6eb 0 196deg,#f7fcce 0 202deg,#e7f6eb 0 206deg,#d4edf4 0 57.5%,#e7f6eb 0 211deg,#f7fcce 0 215deg,#fff7b3 0 228deg,#fee79b 0 238deg,#fed283 0 244deg,#fdbb6d 0 251deg,#fb9d59 0 260deg,#fdbb6d 0 266deg,#fed283 0 267deg,#fdbb6d 0 271deg,#fb9d59 0 77.5%,#f67c4a 0 281deg,#fb9d59 0 284deg,#fdbb6d 0 287deg,#fed283 0 289deg,#fee79b 0 300deg,#fff7b3 0 302deg,#f7fcce 0 85%,#e7f6eb 0 310deg,#d4edf4 0 312deg,#e7f6eb 0 318deg,#d4edf4 0 320deg,#b9e0ed 0 321deg,#9dcee3 0 337deg,#81b7d7 0 343deg,#679ec9 0 347deg,#81b7d7 0)"></i>
<i style="inset:-9.98px;background:conic-gradient(#b9e0ed 0 5deg,#d4edf4 0 11deg,#e7f6eb 0 22deg,#f7fcce 0 25deg,#fff7b3 0 31deg,#fee79b 0 48deg,#fed283 0 52deg,#fdbb6d 0 59deg,#fb9d59 0 68deg,#fdbb6d 0 71deg,#fed283 0 93deg,#fee79b 0 97deg,#fff7b3 0 104deg,#fee79b 0 109deg,#fff7b3 0 115deg,#f7fcce 0 119deg,#fff7b3 0 125deg,#f7fcce 0 138deg,#e7f6eb 0 47.5%,#f7fcce 0 50%,#e7f6eb 0 191deg,#d4edf4 0 194deg,#e7f6eb 0 197deg,#f7fcce 0 203deg,#e7f6eb 0 213deg,#f7fcce 0 221deg,#fff7b3 0 227deg,#fee79b 0 233deg,#fed283 0 67.5%,#fdbb6d 0 250deg,#fb9d59 0 72.5%,#fdbb6d 0 269deg,#fb9d59 0 77.5%,#f67c4a 0 282deg,#fb9d59 0 284deg,#fdbb6d 0 289deg,#fed283 0 299deg,#fee79b 0 301deg,#fff7b3 0 304deg,#f7fcce 0 318deg,#e7f6eb 0 320deg,#d4edf4 0 321deg,#b9e0ed 0 326deg,#d4edf4 0 335deg,#b9e0ed 0 344deg,#9dcee3 0 348deg,#b9e0ed 0 97.5%,#9dcee3 0 354deg,#b9e0ed 0)"></i>
<i style="inset:-8.99px;background:conic-gradient(#e7f6eb 0 11deg,#f7fcce 0 24deg,#fff7b3 0 26deg,#fee79b 0 39deg,#fed283 0 41deg,#fee79b 0 49deg,#fed283 0 15%,#fdbb6d 0 20%,#fed283 0 73deg,#fdbb6d 0 74deg,#fed283 0 91deg,#fee79b 0 95deg,#fff7b3 0 105deg,#fee79b 0 109deg,#fff7b3 0 114deg,#f7fcce 0 32.5%,#fff7b3 0 131deg,#f7fcce 0 137deg,#e7f6eb 0 42.5%,#f7fcce 0 159deg,#e7f6eb 0 166deg,#f7fcce 0 170deg,#e7f6eb 0 47.5%,#f7fcce 0 181deg,#e7f6eb 0 192deg,#d4edf4 0 194deg,#e7f6eb 0 200deg,#f7fcce 0 203deg,#e7f6eb 0 215deg,#f7fcce 0 222deg,#fff7b3 0 227deg,#fee79b 0 231deg,#fed283 0 247deg,#fdbb6d 0 250deg,#fb9d59 0 260deg,#fdbb6d 0 263deg,#fed283 0 266deg,#fdbb6d 0 75%,#fb9d59 0 275deg,#fdbb6d 0 77.5%,#fb9d59 0 283deg,#fdbb6d 0 290deg,#fed283 0 294deg,#fdbb6d 0 82.5%,#fed283 0 299deg,#fee79b 0 301deg,#fff7b3 0 313deg,#f7fcce 0 319deg,#e7f6eb 0 321deg,#d4edf4 0 325deg,#e7f6eb 0 335deg,#d4edf4 0 356deg,#e7f6eb 0)"></i>
<i style="inset:-7.99px;background:conic-gradient(#f7fcce 0 5deg,#e7f6eb 0 7deg,#f7fcce 0 13deg,#fff7b3 0 15deg,#f7fcce 0 20deg,#fff7b3 0 25deg,#fee79b 0 50deg,#fed283 0 89deg,#fee79b 0 94deg,#fff7b3 0 99deg,#f7fcce 0 102deg,#fff7b3 0 112deg,#f7fcce 0 116deg,#fff7b3 0 131deg,#f7fcce 0 138deg,#e7f6eb 0 143deg,#d4edf4 0 145deg,#e7f6eb 0 42.5%,#f7fcce 0 161deg,#e7f6eb 0 165deg,#f7fcce 0 47.5%,#e7f6eb 0 173deg,#f7fcce 0 182deg,#e7f6eb 0 60%,#f7fcce 0 222deg,#fff7b3 0 228deg,#fee79b 0 231deg,#fed283 0 236deg,#fee79b 0 241deg,#fed283 0 248deg,#fdbb6d 0 260deg,#fed283 0 268deg,#fdbb6d 0 275deg,#fed283 0 280deg,#fdbb6d 0 283deg,#fed283 0 294deg,#fdbb6d 0 296deg,#fed283 0 299deg,#fee79b 0 301deg,#fff7b3 0 308deg,#fee79b 0 313deg,#fff7b3 0 317deg,#f7fcce 0 319deg,#e7f6eb 0 325deg,#f7fcce 0 334deg,#e7f6eb 0 343deg,#f7fcce 0 346deg,#e7f6eb 0 354deg,#f7fcce 0)"></i>
<i style="inset:-6.99px;background:conic-gradient(#fff7b3 0 3deg,#f7fcce 0 10deg,#fff7b3 0 24deg,#fee79b 0 67deg,#fed283 0 76deg,#fee79b 0 94deg,#fff7b3 0 99deg,#f7fcce 0 106deg,#fff7b3 0 110deg,#f7fcce 0 116deg,#fff7b3 0 130deg,#f7fcce 0 139deg,#e7f6eb 0 42.5%,#f7fcce 0 156deg,#fff7b3 0 159deg,#f7fcce 0 45%,#e7f6eb 0 165deg,#f7fcce 0 47.5%,#e7f6eb 0 173deg,#f7fcce 0 52.5%,#e7f6eb 0 204deg,#f7fcce 0 210deg,#e7f6eb 0 60%,#f7fcce 0 220deg,#fff7b3 0 228deg,#fee79b 0 231deg,#fed283 0 236deg,#fee79b 0 247deg,#fed283 0 72.5%,#fee79b 0 265deg,#fed283 0 275deg,#fee79b 0 281deg,#fed283 0 285deg,#fee79b 0 292deg,#fed283 0 298deg,#fee79b 0 301deg,#fff7b3 0 305deg,#fee79b 0 310deg,#fed283 0 312deg,#fee79b 0 314deg,#fff7b3 0 317deg,#f7fcce 0 319deg,#e7f6eb 0 90%,#f7fcce 0 337deg,#e7f6eb 0 341deg,#f7fcce 0 355deg,#fff7b3 0)"></i>
<i style="inset:-5.99px;background:conic-gradient(#fff7b3 0 5deg,#f7fcce 0 8deg,#fff7b3 0 24deg,#fee79b 0 30deg,#fff7b3 0 51deg,#fee79b 0 56deg,#fff7b3 0 66deg,#fee79b 0 77deg,#fff7b3 0 84deg,#fee79b 0 93deg,#fff7b3 0 98deg,#f7fcce 0 112deg,#e7f6eb 0 114deg,#f7fcce 0 118deg,#fff7b3 0 129deg,#f7fcce 0 141deg,#e7f6eb 0 42.5%,#f7fcce 0 156deg,#fff7b3 0 158deg,#f7fcce 0 45%,#e7f6eb 0 172deg,#f7fcce 0 178deg,#fff7b3 0 181deg,#f7fcce 0 196deg,#e7f6eb 0 203deg,#f7fcce 0 210deg,#e7f6eb 0 60%,#f7fcce 0 219deg,#fff7b3 0 229deg,#fee79b 0 232deg,#fed283 0 65%,#fee79b 0 237deg,#fff7b3 0 242deg,#fee79b 0 257deg,#fed283 0 258deg,#fee79b 0 275deg,#fff7b3 0 77.5%,#fee79b 0 287deg,#fff7b3 0 293deg,#fee79b 0 298deg,#fff7b3 0 304deg,#fee79b 0 309deg,#fed283 0 312deg,#fee79b 0 314deg,#fff7b3 0 317deg,#f7fcce 0 320deg,#e7f6eb 0 323deg,#f7fcce 0 343deg,#fff7b3 0 348deg,#f7fcce 0 353deg,#fff7b3 0)"></i>
<i style="inset:-4.99px;background:conic-gradient(#fff7b3 0 17deg,#fee79b 0 20deg,#fff7b3 0 24deg,#fee79b 0 26deg,#fff7b3 0 37deg,#f7fcce 0 39deg,#fff7b3 0 47deg,#f7fcce 0 50deg,#fff7b3 0 89deg,#fee79b 0 92deg,#fff7b3 0 97deg,#f7fcce 0 101deg,#e7f6eb 0 116deg,#f7fcce 0 123deg,#fff7b3 0 130deg,#f7fcce 0 147deg,#e7f6eb 0 42.5%,#f7fcce 0 159deg,#e7f6eb 0 172deg,#f7fcce 0 176deg,#fff7b3 0 187deg,#f7fcce 0 211deg,#e7f6eb 0 60%,#f7fcce 0 219deg,#fff7b3 0 223deg,#f7fcce 0 227deg,#fff7b3 0 231deg,#fee79b 0 235deg,#fff7b3 0 248deg,#fee79b 0 273deg,#fff7b3 0 290deg,#f7fcce 0 294deg,#fff7b3 0 307deg,#fee79b 0 314deg,#fff7b3 0 316deg,#f7fcce 0 95%,#fff7b3 0)"></i>
<i style="inset:-3.99px;background:conic-gradient(#fff7b3 0 29deg,#f7fcce 0 32deg,#fff7b3 0 10%,#f7fcce 0 39deg,#fff7b3 0 45deg,#f7fcce 0 52deg,#fff7b3 0 80deg,#f7fcce 0 84deg,#fff7b3 0 95deg,#f7fcce 0 101deg,#e7f6eb 0 118deg,#f7fcce 0 125deg,#fff7b3 0 131deg,#f7fcce 0 147deg,#e7f6eb 0 154deg,#f7fcce 0 156deg,#e7f6eb 0 172deg,#f7fcce 0 176deg,#fff7b3 0 187deg,#f7fcce 0 193deg,#fff7b3 0 199deg,#f7fcce 0 229deg,#fff7b3 0 247deg,#fee79b 0 265deg,#fff7b3 0 267deg,#fee79b 0 272deg,#fff7b3 0 275deg,#f7fcce 0 278deg,#fff7b3 0 286deg,#f7fcce 0 302deg,#fff7b3 0 309deg,#fee79b 0 313deg,#fff7b3 0 316deg,#f7fcce 0 334deg,#fff7b3 0 339deg,#f7fcce 0 340deg,#fff7b3 0 345deg,#fee79b 0 346deg,#fff7b3 0)"></i>
<i style="inset:-3px;background:conic-gradient(#fff7b3 0 7.5%,#f7fcce 0 34deg,#fff7b3 0 44deg,#f7fcce 0 52deg,#fff7b3 0 79deg,#f7fcce 0 84deg,#fff7b3 0 94deg,#f7fcce 0 101deg,#e7f6eb 0 114deg,#f7fcce 0 35%,#fff7b3 0 132deg,#f7fcce 0 147deg,#e7f6eb 0 45%,#f7fcce 0 167deg,#e7f6eb 0 47.5%,#f7fcce 0 183deg,#fff7b3 0 186deg,#f7fcce 0 194deg,#fff7b3 0 200deg,#f7fcce 0 205deg,#e7f6eb 0 57.5%,#f7fcce 0 232deg,#fff7b3 0 247deg,#fee79b 0 263deg,#fff7b3 0 273deg,#f7fcce 0 281deg,#fff7b3 0 285deg,#f7fcce 0 302deg,#fff7b3 0 305deg,#f7fcce 0 85%,#fff7b3 0 316deg,#f7fcce 0 331deg,#fff7b3 0 338deg,#f7fcce 0 341deg,#fff7b3 0 354deg,#f7fcce 0 356deg,#fff7b3 0)"></i>
<i style="inset:-2px;background:conic-gradient(#fff7b3 0 26deg,#f7fcce 0 34deg,#fff7b3 0 44deg,#f7fcce 0 46deg,#e7f6eb 0 48deg,#f7fcce 0 51deg,#fff7b3 0 66deg,#f7fcce 0 20%,#fff7b3 0 78deg,#f7fcce 0 83deg,#fff7b3 0 88deg,#f7fcce 0 99deg,#e7f6eb 0 103deg,#f7fcce 0 35%,#fff7b3 0 37.5%,#f7fcce 0 146deg,#e7f6eb 0 155deg,#f7fcce 0 52.5%,#e7f6eb 0 191deg,#f7fcce 0 195deg,#fff7b3 0 197deg,#f7fcce 0 65%,#fff7b3 0 245deg,#fee79b 0 257deg,#fed283 0 258deg,#fee79b 0 262deg,#fff7b3 0 265deg,#f7fcce 0 269deg,#fff7b3 0 271deg,#f7fcce 0 291deg,#e7f6eb 0 292deg,#f7fcce 0 298deg,#fff7b3 0 85%,#f7fcce 0 308deg,#fff7b3 0 316deg,#f7fcce 0 320deg,#e7f6eb 0 326deg,#f7fcce 0 329deg,#fff7b3 0 338deg,#f7fcce 0 358deg,#fff7b3 0)"></i>
<i style="inset:-1px;background:conic-gradient(#fff7b3 0 1deg,#fee79b 0 7deg,#fff7b3 0 15deg,#f7fcce 0 19deg,#fff7b3 0 25deg,#f7fcce 0 32deg,#fff7b3 0 39deg,#fee79b 0 42deg,#fff7b3 0 44deg,#f7fcce 0 46deg,#e7f6eb 0 48deg,#f7fcce 0 51deg,#fff7b3 0 60deg,#fee79b 0 62deg,#fff7b3 0 65deg,#f7fcce 0 20%,#fff7b3 0 78deg,#f7fcce 0 83deg,#fff7b3 0 88deg,#f7fcce 0 96deg,#e7f6eb 0 102deg,#f7fcce 0 106deg,#fff7b3 0 30%,#f7fcce 0 112deg,#fff7b3 0 115deg,#f7fcce 0 35%,#fff7b3 0 136deg,#f7fcce 0 146deg,#e7f6eb 0 154deg,#f7fcce 0 159deg,#fff7b3 0 165deg,#f7fcce 0 173deg,#fff7b3 0 177deg,#f7fcce 0 187deg,#e7f6eb 0 192deg,#f7fcce 0 194deg,#fff7b3 0 196deg,#f7fcce 0 209deg,#e7f6eb 0 213deg,#f7fcce 0 235deg,#fff7b3 0 238deg,#fee79b 0 248deg,#fff7b3 0 70%,#fee79b 0 257deg,#fed283 0 258deg,#fee79b 0 72.5%,#fff7b3 0 263deg,#f7fcce 0 266deg,#e7f6eb 0 267deg,#f7fcce 0 276deg,#e7f6eb 0 282deg,#f7fcce 0 284deg,#fff7b3 0 286deg,#f7fcce 0 296deg,#fff7b3 0 300deg,#fee79b 0 302deg,#fff7b3 0 308deg,#f7fcce 0 309deg,#fff7b3 0 314deg,#f7fcce 0 319deg,#e7f6eb 0 321deg,#d4edf4 0 90%,#e7f6eb 0 326deg,#f7fcce 0 328deg,#fff7b3 0 330deg,#fee79b 0 336deg,#fff7b3 0 338deg,#f7fcce 0 341deg,#e7f6eb 0 345deg,#f7fcce 0 358deg,#fff7b3 0)"></i>
</div>
<div class="pc" style="left:281.40px;top:285.70px;">
<i style="inset:-64.9px;background:conic-gradient(#fee79b 0 11deg,#fff7b3 0 17deg,#f7fcce 0 19deg,#fff7b3 0 21deg,#f7fcce 0 25deg,#e7f6eb 0 26deg,#f7fcce 0 29deg,#fff7b3 0 34deg,#f7fcce 0 10%,#e7f6eb 0 38deg,#d4edf4 0 43deg,#e7f6eb 0 15%,#d4edf4 0 67deg,#e7f6eb 0 75deg,#d4edf4 0 78deg,#b9e0ed 0 82deg,#d4edf4 0 85deg,#e7f6eb 0 93deg,#d4edf4 0 100deg,#e7f6eb 0 107deg,#d4edf4 0 121deg,#e7f6eb 0 128deg,#d4edf4 0 131deg,#e7f6eb 0 37.5%,#d4edf4 0 139deg,#e7f6eb 0 142deg,#f7fcce 0 150deg,#e7f6eb 0 155deg,#f7fcce 0 160deg,#fff7b3 0 163deg,#fee79b 0 169deg,#fff7b3 0 175deg,#fee79b 0 178deg,#fed283 0 185deg,#fee79b 0 188deg,#fff7b3 0 52.5%,#fee79b 0 192deg,#fff7b3 0 194deg,#fee79b 0 197deg,#fed283 0 204deg,#fee79b 0 212deg,#fff7b3 0 219deg,#fee79b 0 223deg,#fff7b3 0 227deg,#f7fcce 0 232deg,#fff7b3 0 241deg,#fee79b 0 72.5%,#fff7b3 0 265deg,#fee79b 0 285deg,#fff7b3 0 291deg,#fee79b 0 301deg,#fff7b3 0 303deg,#fee79b 0 85%,#fed283 0 311deg,#fee79b 0 314deg,#fff7b3 0 328deg,#fee79b 0 338deg,#fff7b3 0 345deg,#fee79b 0)"></i>
<i style="inset:-63.9px;background:conic-gradient(#fed283 0 5deg,#fee79b 0 12deg,#fff7b3 0 23deg,#f7fcce 0 29deg,#fff7b3 0 33deg,#f7fcce 0 35deg,#e7f6eb 0 39deg,#d4edf4 0 43deg,#e7f6eb 0 50deg,#d4edf4 0 67deg,#e7f6eb 0 74deg,#d4edf4 0 77deg,#b9e0ed 0 83deg,#d4edf4 0 86deg,#e7f6eb 0 91deg,#d4edf4 0 99deg,#e7f6eb 0 105deg,#d4edf4 0 123deg,#e7f6eb 0 35%,#d4edf4 0 140deg,#e7f6eb 0 152deg,#d4edf4 0 154deg,#e7f6eb 0 159deg,#f7fcce 0 45%,#fff7b3 0 169deg,#f7fcce 0 173deg,#fff7b3 0 176deg,#fee79b 0 187deg,#fff7b3 0 190deg,#fee79b 0 55%,#fed283 0 204deg,#fee79b 0 213deg,#fff7b3 0 218deg,#fee79b 0 62.5%,#fff7b3 0 235deg,#fee79b 0 257deg,#fed283 0 72.5%,#fee79b 0 266deg,#fed283 0 272deg,#fee79b 0 278deg,#fed283 0 283deg,#fee79b 0 286deg,#fff7b3 0 80%,#fee79b 0 305deg,#fed283 0 311deg,#fee79b 0 332deg,#fed283 0 334deg,#fee79b 0 339deg,#fff7b3 0 343deg,#fee79b 0 346deg,#fed283 0 355deg,#fee79b 0 357deg,#fed283 0)"></i>
<i style="inset:-62.9px;background:conic-gradient(#fed283 0 11deg,#fee79b 0 14deg,#fff7b3 0 32deg,#f7fcce 0 35deg,#e7f6eb 0 49deg,#d4edf4 0 67deg,#e7f6eb 0 20%,#d4edf4 0 76deg,#b9e0ed 0 83deg,#d4edf4 0 109deg,#b9e0ed 0 111deg,#d4edf4 0 115deg,#b9e0ed 0 121deg,#d4edf4 0 127deg,#b9e0ed 0 134deg,#d4edf4 0 147deg,#e7f6eb 0 149deg,#d4edf4 0 158deg,#e7f6eb 0 163deg,#f7fcce 0 168deg,#e7f6eb 0 47.5%,#f7fcce 0 174deg,#fff7b3 0 178deg,#fee79b 0 181deg,#fff7b3 0 193deg,#fee79b 0 57.5%,#fed283 0 211deg,#fee79b 0 215deg,#fff7b3 0 60%,#fee79b 0 228deg,#fff7b3 0 231deg,#fee79b 0 67.5%,#fed283 0 246deg,#fee79b 0 256deg,#fed283 0 266deg,#fdbb6d 0 75%,#fed283 0 278deg,#fdbb6d 0 283deg,#fed283 0 286deg,#fee79b 0 80%,#fed283 0 292deg,#fee79b 0 299deg,#fed283 0 85%,#fdbb6d 0 309deg,#fed283 0 340deg,#fee79b 0 95%,#fed283 0 345deg,#fdbb6d 0 350deg,#fed283 0)"></i>
<i style="inset:-61.9px;background:conic-gradient(#fdbb6d 0 4deg,#fed283 0 12deg,#fee79b 0 23deg,#fff7b3 0 32deg,#f7fcce 0 35deg,#e7f6eb 0 48deg,#d4edf4 0 61deg,#e7f6eb 0 70deg,#d4edf4 0 78deg,#b9e0ed 0 84deg,#d4edf4 0 89deg,#b9e0ed 0 94deg,#d4edf4 0 104deg,#b9e0ed 0 127deg,#9dcee3 0 133deg,#b9e0ed 0 146deg,#d4edf4 0 150deg,#b9e0ed 0 157deg,#d4edf4 0 47.5%,#e7f6eb 0 174deg,#f7fcce 0 177deg,#fff7b3 0 181deg,#f7fcce 0 185deg,#fff7b3 0 204deg,#fee79b 0 208deg,#fed283 0 212deg,#fee79b 0 218deg,#fed283 0 226deg,#fee79b 0 231deg,#fed283 0 251deg,#fee79b 0 256deg,#fed283 0 262deg,#fdbb6d 0 272deg,#fed283 0 275deg,#fdbb6d 0 278deg,#fb9d59 0 283deg,#fdbb6d 0 294deg,#fed283 0 300deg,#fdbb6d 0 312deg,#fed283 0 314deg,#fdbb6d 0 343deg,#fb9d59 0 349deg,#fdbb6d 0 353deg,#fed283 0 357deg,#fdbb6d 0)"></i>
<i style="inset:-60.91px;background:conic-gradient(#fb9d59 0 2deg,#fdbb6d 0 11deg,#fed283 0 20deg,#fee79b 0 7.5%,#fff7b3 0 32deg,#f7fcce 0 35deg,#e7f6eb 0 47deg,#d4edf4 0 59deg,#e7f6eb 0 68deg,#d4edf4 0 82deg,#b9e0ed 0 96deg,#d4edf4 0 102deg,#b9e0ed 0 114deg,#9dcee3 0 128deg,#81b7d7 0 131deg,#9dcee3 0 146deg,#b9e0ed 0 150deg,#9dcee3 0 156deg,#b9e0ed 0 47.5%,#d4edf4 0 175deg,#e7f6eb 0 184deg,#f7fcce 0 52.5%,#fff7b3 0 205deg,#fee79b 0 209deg,#fed283 0 213deg,#fee79b 0 60%,#fed283 0 232deg,#fdbb6d 0 236deg,#fed283 0 245deg,#fdbb6d 0 251deg,#fed283 0 258deg,#fdbb6d 0 264deg,#fb9d59 0 75%,#fdbb6d 0 275deg,#fb9d59 0 278deg,#f67c4a 0 283deg,#fb9d59 0 325deg,#fdbb6d 0 328deg,#fb9d59 0 341deg,#f67c4a 0 349deg,#fb9d59 0)"></i>
<i style="inset:-59.91px;background:conic-gradient(#f67c4a 0 2deg,#fb9d59 0 6deg,#fdbb6d 0 17deg,#fed283 0 24deg,#fee79b 0 29deg,#fff7b3 0 32deg,#f7fcce 0 41deg,#e7f6eb 0 46deg,#d4edf4 0 51deg,#b9e0ed 0 52deg,#d4edf4 0 58deg,#e7f6eb 0 67deg,#d4edf4 0 70deg,#b9e0ed 0 75deg,#d4edf4 0 83deg,#b9e0ed 0 110deg,#9dcee3 0 115deg,#81b7d7 0 120deg,#9dcee3 0 127deg,#81b7d7 0 140deg,#679ec9 0 142deg,#81b7d7 0 147deg,#9dcee3 0 149deg,#81b7d7 0 155deg,#9dcee3 0 47.5%,#b9e0ed 0 176deg,#d4edf4 0 185deg,#e7f6eb 0 52.5%,#f7fcce 0 202deg,#fff7b3 0 57.5%,#fee79b 0 211deg,#fed283 0 229deg,#fdbb6d 0 236deg,#fed283 0 242deg,#fdbb6d 0 260deg,#fb9d59 0 276deg,#f67c4a 0 77.5%,#ec5c3b 0 281deg,#f67c4a 0 319deg,#ec5c3b 0 320deg,#f67c4a 0 90%,#fb9d59 0 328deg,#f67c4a 0 340deg,#ec5c3b 0 347deg,#f67c4a 0)"></i>
<i style="inset:-58.91px;background:conic-gradient(#ec5c3b 0 2deg,#f67c4a 0 5deg,#fb9d59 0 15deg,#fdbb6d 0 21deg,#fed283 0 7.5%,#fee79b 0 30deg,#fff7b3 0 34deg,#f7fcce 0 44deg,#e7f6eb 0 47deg,#d4edf4 0 57deg,#e7f6eb 0 66deg,#d4edf4 0 69deg,#b9e0ed 0 76deg,#d4edf4 0 82deg,#b9e0ed 0 110deg,#9dcee3 0 112deg,#81b7d7 0 130deg,#679ec9 0 134deg,#81b7d7 0 137deg,#679ec9 0 141deg,#5183bb 0 143deg,#679ec9 0 156deg,#81b7d7 0 47.5%,#9dcee3 0 179deg,#b9e0ed 0 185deg,#d4edf4 0 52.5%,#e7f6eb 0 197deg,#f7fcce 0 204deg,#fff7b3 0 209deg,#fee79b 0 212deg,#fed283 0 228deg,#fdbb6d 0 238deg,#fed283 0 239deg,#fdbb6d 0 247deg,#fb9d59 0 259deg,#f67c4a 0 262deg,#fb9d59 0 264deg,#f67c4a 0 276deg,#ec5c3b 0 292deg,#f67c4a 0 300deg,#ec5c3b 0 309deg,#dd3d2d 0 311deg,#ec5c3b 0 318deg,#dd3d2d 0 320deg,#ec5c3b 0 323deg,#f67c4a 0 327deg,#ec5c3b 0)"></i>
<i style="inset:-57.91px;background:conic-gradient(#dd3d2d 0 1deg,#ec5c3b 0 5deg,#f67c4a 0 14deg,#fb9d59 0 17deg,#fdbb6d 0 22deg,#fed283 0 29deg,#fee79b 0 32deg,#fff7b3 0 44deg,#f7fcce 0 46deg,#e7f6eb 0 48deg,#d4edf4 0 57deg,#e7f6eb 0 61deg,#d4edf4 0 69deg,#b9e0ed 0 78deg,#d4edf4 0 82deg,#b9e0ed 0 85deg,#9dcee3 0 25%,#b9e0ed 0 109deg,#9dcee3 0 111deg,#81b7d7 0 114deg,#679ec9 0 32.5%,#81b7d7 0 35%,#679ec9 0 131deg,#5183bb 0 134deg,#679ec9 0 137deg,#5183bb 0 141deg,#4065ac 0 40%,#5183bb 0 155deg,#679ec9 0 160deg,#5183bb 0 45%,#679ec9 0 172deg,#81b7d7 0 50%,#9dcee3 0 185deg,#b9e0ed 0 52.5%,#d4edf4 0 194deg,#e7f6eb 0 200deg,#f7fcce 0 205deg,#fff7b3 0 211deg,#fee79b 0 213deg,#fed283 0 228deg,#fdbb6d 0 241deg,#fb9d59 0 250deg,#f67c4a 0 258deg,#ec5c3b 0 72.5%,#f67c4a 0 266deg,#ec5c3b 0 278deg,#dd3d2d 0 291deg,#ec5c3b 0 302deg,#dd3d2d 0 310deg,#ca2427 0 312deg,#dd3d2d 0 322deg,#ec5c3b 0 327deg,#dd3d2d 0 344deg,#ec5c3b 0 350deg,#dd3d2d 0)"></i>
<i style="inset:-56.91px;background:conic-gradient(#dd3d2d 0 4deg,#ec5c3b 0 7deg,#f67c4a 0 15deg,#fb9d59 0 5%,#fdbb6d 0 7.5%,#fed283 0 30deg,#fee79b 0 33deg,#fff7b3 0 45deg,#f7fcce 0 47deg,#e7f6eb 0 53deg,#d4edf4 0 69deg,#b9e0ed 0 85deg,#9dcee3 0 91deg,#b9e0ed 0 100deg,#9dcee3 0 111deg,#81b7d7 0 114deg,#679ec9 0 115deg,#81b7d7 0 123deg,#679ec9 0 127deg,#5183bb 0 137deg,#4065ac 0 154deg,#5183bb 0 160deg,#4065ac 0 164deg,#5183bb 0 167deg,#4065ac 0 169deg,#5183bb 0 172deg,#679ec9 0 50%,#81b7d7 0 184deg,#9dcee3 0 188deg,#b9e0ed 0 193deg,#d4edf4 0 197deg,#e7f6eb 0 202deg,#f7fcce 0 208deg,#fff7b3 0 211deg,#fee79b 0 213deg,#fed283 0 219deg,#fee79b 0 222deg,#fed283 0 226deg,#fdbb6d 0 231deg,#fb9d59 0 240deg,#f67c4a 0 253deg,#ec5c3b 0 75%,#dd3d2d 0 281deg,#ca2427 0 291deg,#dd3d2d 0 305deg,#ca2427 0 321deg,#dd3d2d 0 328deg,#ca2427 0 92.5%,#dd3d2d 0 334deg,#ca2427 0 341deg,#dd3d2d 0 346deg,#ec5c3b 0 347deg,#dd3d2d 0 352deg,#ca2427 0 356deg,#dd3d2d 0)"></i>
<i style="inset:-55.91px;background:conic-gradient(#dd3d2d 0 6deg,#ec5c3b 0 9deg,#f67c4a 0 16deg,#fb9d59 0 19deg,#fdbb6d 0 28deg,#fed283 0 30deg,#fee79b 0 33deg,#fff7b3 0 41deg,#fee79b 0 43deg,#fff7b3 0 46deg,#f7fcce 0 50deg,#e7f6eb 0 59deg,#d4edf4 0 70deg,#b9e0ed 0 84deg,#9dcee3 0 93deg,#b9e0ed 0 96deg,#9dcee3 0 30%,#81b7d7 0 113deg,#679ec9 0 115deg,#81b7d7 0 121deg,#679ec9 0 124deg,#5183bb 0 128deg,#4065ac 0 138deg,#36459c 0 149deg,#4065ac 0 165deg,#36459c 0 169deg,#4065ac 0 172deg,#5183bb 0 179deg,#679ec9 0 184deg,#81b7d7 0 187deg,#9dcee3 0 191deg,#b9e0ed 0 195deg,#d4edf4 0 199deg,#e7f6eb 0 203deg,#f7fcce 0 57.5%,#fff7b3 0 212deg,#fee79b 0 214deg,#fed283 0 219deg,#fee79b 0 222deg,#fed283 0 62.5%,#fdbb6d 0 228deg,#fb9d59 0 237deg,#f67c4a 0 248deg,#ec5c3b 0 255deg,#dd3d2d 0 277deg,#ca2427 0 286deg,#b10b26 0 290deg,#ca2427 0 309deg,#b10b26 0 319deg,#ca2427 0 323deg,#dd3d2d 0 327deg,#ca2427 0 337deg,#b10b26 0 339deg,#ca2427 0 95%,#dd3d2d 0 349deg,#ca2427 0)"></i>
<i style="inset:-54.92px;background:conic-gradient(#ca2427 0 4deg,#dd3d2d 0 7deg,#ec5c3b 0 11deg,#f67c4a 0 17deg,#fb9d59 0 25deg,#fdbb6d 0 28deg,#fed283 0 30deg,#fee79b 0 34deg,#fff7b3 0 41deg,#fee79b 0 42deg,#fff7b3 0 45deg,#f7fcce 0 53deg,#e7f6eb 0 61deg,#d4edf4 0 64deg,#e7f6eb 0 66deg,#d4edf4 0 71deg,#b9e0ed 0 83deg,#9dcee3 0 99deg,#81b7d7 0 109deg,#679ec9 0 122deg,#5183bb 0 125deg,#4065ac 0 137deg,#36459c 0 170deg,#4065ac 0 174deg,#5183bb 0 183deg,#679ec9 0 186deg,#81b7d7 0 190deg,#9dcee3 0 193deg,#b9e0ed 0 197deg,#d4edf4 0 201deg,#e7f6eb 0 203deg,#f7fcce 0 206deg,#fff7b3 0 213deg,#fee79b 0 215deg,#fed283 0 219deg,#fee79b 0 220deg,#fed283 0 223deg,#fdbb6d 0 62.5%,#fb9d59 0 232deg,#f67c4a 0 239deg,#ec5c3b 0 250deg,#dd3d2d 0 262deg,#ca2427 0 282deg,#b10b26 0 292deg,#ca2427 0 294deg,#b10b26 0 321deg,#ca2427 0 325deg,#dd3d2d 0 326deg,#ca2427 0 336deg,#b10b26 0 341deg,#ca2427 0)"></i>
<i style="inset:-53.92px;background:conic-gradient(#ca2427 0 5deg,#dd3d2d 0 9deg,#ec5c3b 0 16deg,#f67c4a 0 22deg,#fb9d59 0 26deg,#fdbb6d 0 28deg,#fed283 0 31deg,#fee79b 0 34deg,#fff7b3 0 45deg,#f7fcce 0 57deg,#e7f6eb 0 68deg,#d4edf4 0 71deg,#b9e0ed 0 77deg,#9dcee3 0 94deg,#81b7d7 0 102deg,#679ec9 0 111deg,#5183bb 0 122deg,#4065ac 0 136deg,#36459c 0 47.5%,#4065ac 0 50%,#5183bb 0 185deg,#679ec9 0 188deg,#81b7d7 0 191deg,#9dcee3 0 194deg,#b9e0ed 0 197deg,#d4edf4 0 201deg,#e7f6eb 0 204deg,#f7fcce 0 206deg,#fff7b3 0 213deg,#fee79b 0 60%,#fed283 0 222deg,#fdbb6d 0 224deg,#fb9d59 0 228deg,#f67c4a 0 239deg,#ec5c3b 0 247deg,#dd3d2d 0 260deg,#ca2427 0 264deg,#b10b26 0 268deg,#ca2427 0 280deg,#b10b26 0 322deg,#ca2427 0 335deg,#b10b26 0 95%,#ca2427 0 348deg,#b10b26 0 356deg,#ca2427 0)"></i>
<i style="inset:-52.92px;background:conic-gradient(#ca2427 0 6deg,#dd3d2d 0 12deg,#ec5c3b 0 19deg,#f67c4a 0 24deg,#fb9d59 0 7.5%,#fdbb6d 0 29deg,#fed283 0 32deg,#fee79b 0 35deg,#fff7b3 0 45deg,#f7fcce 0 15%,#e7f6eb 0 56deg,#f7fcce 0 59deg,#e7f6eb 0 68deg,#d4edf4 0 71deg,#b9e0ed 0 76deg,#9dcee3 0 92deg,#81b7d7 0 96deg,#679ec9 0 104deg,#5183bb 0 113deg,#4065ac 0 116deg,#5183bb 0 119deg,#4065ac 0 132deg,#36459c 0 176deg,#4065ac 0 183deg,#5183bb 0 186deg,#679ec9 0 52.5%,#81b7d7 0 192deg,#9dcee3 0 194deg,#b9e0ed 0 197deg,#d4edf4 0 202deg,#e7f6eb 0 204deg,#f7fcce 0 57.5%,#fff7b3 0 212deg,#fee79b 0 60%,#fed283 0 221deg,#fdbb6d 0 224deg,#fb9d59 0 228deg,#f67c4a 0 67.5%,#ec5c3b 0 246deg,#dd3d2d 0 249deg,#ca2427 0 253deg,#dd3d2d 0 259deg,#ca2427 0 262deg,#b10b26 0 273deg,#ca2427 0 278deg,#b10b26 0 356deg,#ca2427 0)"></i>
<i style="inset:-51.92px;background:conic-gradient(#ca2427 0 9deg,#dd3d2d 0 16deg,#ec5c3b 0 22deg,#f67c4a 0 25deg,#fb9d59 0 7.5%,#fdbb6d 0 29deg,#fed283 0 33deg,#fee79b 0 37deg,#fff7b3 0 46deg,#f7fcce 0 53deg,#e7f6eb 0 57deg,#f7fcce 0 60deg,#e7f6eb 0 67deg,#d4edf4 0 20%,#b9e0ed 0 76deg,#9dcee3 0 91deg,#81b7d7 0 94deg,#679ec9 0 103deg,#5183bb 0 105deg,#4065ac 0 122deg,#36459c 0 177deg,#4065ac 0 184deg,#5183bb 0 187deg,#679ec9 0 190deg,#81b7d7 0 192deg,#9dcee3 0 194deg,#b9e0ed 0 201deg,#d4edf4 0 203deg,#e7f6eb 0 205deg,#f7fcce 0 57.5%,#fff7b3 0 210deg,#fee79b 0 214deg,#fed283 0 221deg,#fdbb6d 0 224deg,#fb9d59 0 230deg,#f67c4a 0 235deg,#ec5c3b 0 246deg,#dd3d2d 0 248deg,#ca2427 0 254deg,#dd3d2d 0 258deg,#ca2427 0 72.5%,#b10b26 0 357deg,#ca2427 0)"></i>
<i style="inset:-50.92px;background:conic-gradient(#ca2427 0 11deg,#dd3d2d 0 17deg,#ec5c3b 0 23deg,#f67c4a 0 26deg,#fb9d59 0 28deg,#fdbb6d 0 30deg,#fed283 0 35deg,#fee79b 0 41deg,#fff7b3 0 50deg,#f7fcce 0 53deg,#e7f6eb 0 56deg,#f7fcce 0 62deg,#e7f6eb 0 66deg,#d4edf4 0 73deg,#b9e0ed 0 76deg,#9dcee3 0 85deg,#81b7d7 0 92deg,#679ec9 0 95deg,#5183bb 0 99deg,#679ec9 0 102deg,#5183bb 0 105deg,#4065ac 0 112deg,#36459c 0 32.5%,#4065ac 0 121deg,#36459c 0 178deg,#4065ac 0 185deg,#5183bb 0 187deg,#679ec9 0 190deg,#81b7d7 0 192deg,#9dcee3 0 195deg,#b9e0ed 0 202deg,#d4edf4 0 204deg,#e7f6eb 0 206deg,#f7fcce 0 208deg,#fff7b3 0 210deg,#fee79b 0 213deg,#fed283 0 222deg,#fdbb6d 0 62.5%,#fb9d59 0 230deg,#f67c4a 0 65%,#ec5c3b 0 240deg,#dd3d2d 0 241deg,#ec5c3b 0 244deg,#dd3d2d 0 247deg,#ca2427 0 255deg,#dd3d2d 0 257deg,#ca2427 0 260deg,#b10b26 0 358deg,#ca2427 0)"></i>
<i style="inset:-49.92px;background:conic-gradient(#b10b26 0 9deg,#ca2427 0 13deg,#dd3d2d 0 5%,#ec5c3b 0 24deg,#f67c4a 0 26deg,#fb9d59 0 28deg,#fdbb6d 0 31deg,#fed283 0 38deg,#fee79b 0 48deg,#fff7b3 0 51deg,#f7fcce 0 63deg,#e7f6eb 0 66deg,#d4edf4 0 74deg,#b9e0ed 0 77deg,#9dcee3 0 83deg,#81b7d7 0 91deg,#679ec9 0 94deg,#5183bb 0 99deg,#679ec9 0 102deg,#5183bb 0 104deg,#4065ac 0 112deg,#36459c 0 119deg,#4065ac 0 121deg,#36459c 0 178deg,#4065ac 0 184deg,#5183bb 0 187deg,#679ec9 0 190deg,#81b7d7 0 192deg,#9dcee3 0 195deg,#b9e0ed 0 202deg,#d4edf4 0 204deg,#e7f6eb 0 206deg,#f7fcce 0 209deg,#fff7b3 0 211deg,#fee79b 0 215deg,#fed283 0 60%,#fee79b 0 220deg,#fed283 0 222deg,#fdbb6d 0 62.5%,#fb9d59 0 231deg,#f67c4a 0 233deg,#ec5c3b 0 237deg,#dd3d2d 0 245deg,#ca2427 0 248deg,#b10b26 0 251deg,#ca2427 0 260deg,#b10b26 0)"></i>
<i style="inset:-48.92px;background:conic-gradient(#b10b26 0 9deg,#ca2427 0 15deg,#dd3d2d 0 23deg,#ec5c3b 0 25deg,#f67c4a 0 7.5%,#fb9d59 0 29deg,#fdbb6d 0 35deg,#fed283 0 39deg,#fee79b 0 49deg,#fff7b3 0 52deg,#f7fcce 0 63deg,#e7f6eb 0 66deg,#d4edf4 0 74deg,#b9e0ed 0 78deg,#9dcee3 0 82deg,#81b7d7 0 86deg,#679ec9 0 88deg,#81b7d7 0 89deg,#679ec9 0 93deg,#5183bb 0 100deg,#679ec9 0 102deg,#5183bb 0 104deg,#4065ac 0 113deg,#36459c 0 177deg,#4065ac 0 182deg,#5183bb 0 187deg,#679ec9 0 52.5%,#81b7d7 0 192deg,#9dcee3 0 195deg,#b9e0ed 0 201deg,#d4edf4 0 204deg,#e7f6eb 0 206deg,#f7fcce 0 211deg,#fff7b3 0 214deg,#fee79b 0 220deg,#fed283 0 223deg,#fdbb6d 0 227deg,#fb9d59 0 231deg,#f67c4a 0 233deg,#ec5c3b 0 236deg,#dd3d2d 0 245deg,#ca2427 0 259deg,#b10b26 0)"></i>
<i style="inset:-47.93px;background:conic-gradient(#b10b26 0 9deg,#ca2427 0 17deg,#dd3d2d 0 23deg,#ec5c3b 0 25deg,#f67c4a 0 7.5%,#fb9d59 0 30deg,#fdbb6d 0 10%,#fed283 0 40deg,#fee79b 0 42deg,#fed283 0 47deg,#fee79b 0 50deg,#fff7b3 0 15%,#f7fcce 0 62deg,#e7f6eb 0 69deg,#d4edf4 0 75deg,#b9e0ed 0 79deg,#9dcee3 0 82deg,#81b7d7 0 84deg,#679ec9 0 92deg,#5183bb 0 103deg,#4065ac 0 114deg,#36459c 0 176deg,#4065ac 0 50%,#5183bb 0 187deg,#679ec9 0 190deg,#81b7d7 0 193deg,#9dcee3 0 197deg,#b9e0ed 0 201deg,#d4edf4 0 203deg,#e7f6eb 0 57.5%,#f7fcce 0 212deg,#fff7b3 0 215deg,#fee79b 0 220deg,#fed283 0 223deg,#fdbb6d 0 228deg,#fb9d59 0 231deg,#f67c4a 0 65%,#ec5c3b 0 237deg,#dd3d2d 0 247deg,#ca2427 0 254deg,#b10b26 0)"></i>
<i style="inset:-46.93px;background:conic-gradient(#b10b26 0 8deg,#ca2427 0 9deg,#b10b26 0 13deg,#ca2427 0 17deg,#dd3d2d 0 23deg,#ec5c3b 0 26deg,#f67c4a 0 29deg,#fb9d59 0 32deg,#fdbb6d 0 37deg,#fed283 0 48deg,#fee79b 0 51deg,#fff7b3 0 55deg,#f7fcce 0 60deg,#e7f6eb 0 69deg,#d4edf4 0 74deg,#b9e0ed 0 78deg,#9dcee3 0 82deg,#81b7d7 0 84deg,#679ec9 0 25%,#5183bb 0 102deg,#4065ac 0 114deg,#36459c 0 175deg,#4065ac 0 185deg,#5183bb 0 52.5%,#679ec9 0 192deg,#81b7d7 0 194deg,#9dcee3 0 199deg,#b9e0ed 0 202deg,#d4edf4 0 204deg,#e7f6eb 0 208deg,#f7fcce 0 212deg,#fff7b3 0 214deg,#fee79b 0 219deg,#fed283 0 223deg,#fdbb6d 0 228deg,#fb9d59 0 231deg,#f67c4a 0 235deg,#ec5c3b 0 246deg,#dd3d2d 0 250deg,#ca2427 0 254deg,#b10b26 0)"></i>
<i style="inset:-45.93px;background:conic-gradient(#b10b26 0 14deg,#ca2427 0 5%,#dd3d2d 0 24deg,#ec5c3b 0 7.5%,#f67c4a 0 30deg,#fb9d59 0 33deg,#fdbb6d 0 44deg,#fed283 0 49deg,#fee79b 0 52deg,#fff7b3 0 55deg,#f7fcce 0 59deg,#e7f6eb 0 62deg,#d4edf4 0 64deg,#e7f6eb 0 68deg,#d4edf4 0 20%,#b9e0ed 0 77deg,#9dcee3 0 82deg,#81b7d7 0 85deg,#679ec9 0 88deg,#5183bb 0 99deg,#4065ac 0 103deg,#36459c 0 109deg,#4065ac 0 113deg,#36459c 0 176deg,#4065ac 0 187deg,#5183bb 0 190deg,#679ec9 0 192deg,#81b7d7 0 197deg,#9dcee3 0 201deg,#b9e0ed 0 203deg,#d4edf4 0 205deg,#e7f6eb 0 208deg,#f7fcce 0 212deg,#fff7b3 0 214deg,#fee79b 0 217deg,#fed283 0 223deg,#fdbb6d 0 228deg,#fb9d59 0 232deg,#f67c4a 0 237deg,#ec5c3b 0 249deg,#dd3d2d 0 251deg,#ca2427 0 254deg,#b10b26 0)"></i>
<i style="inset:-44.93px;background:conic-gradient(#b10b26 0 14deg,#ca2427 0 19deg,#dd3d2d 0 25deg,#ec5c3b 0 29deg,#f67c4a 0 31deg,#fb9d59 0 34deg,#fdbb6d 0 44deg,#fed283 0 49deg,#fee79b 0 52deg,#fff7b3 0 15%,#f7fcce 0 58deg,#e7f6eb 0 61deg,#d4edf4 0 70deg,#b9e0ed 0 74deg,#9dcee3 0 82deg,#81b7d7 0 85deg,#679ec9 0 88deg,#5183bb 0 98deg,#4065ac 0 101deg,#36459c 0 179deg,#4065ac 0 188deg,#5183bb 0 190deg,#679ec9 0 193deg,#81b7d7 0 200deg,#9dcee3 0 203deg,#b9e0ed 0 204deg,#d4edf4 0 206deg,#e7f6eb 0 209deg,#f7fcce 0 212deg,#fff7b3 0 215deg,#fee79b 0 218deg,#fed283 0 222deg,#fdbb6d 0 228deg,#fb9d59 0 235deg,#f67c4a 0 242deg,#ec5c3b 0 249deg,#dd3d2d 0 251deg,#ca2427 0 253deg,#b10b26 0)"></i>
<i style="inset:-43.93px;background:conic-gradient(#b10b26 0 14deg,#ca2427 0 20deg,#dd3d2d 0 26deg,#ec5c3b 0 30deg,#f67c4a 0 32deg,#fb9d59 0 34deg,#fdbb6d 0 44deg,#fed283 0 48deg,#fee79b 0 52deg,#fff7b3 0 15%,#f7fcce 0 57deg,#e7f6eb 0 60deg,#d4edf4 0 69deg,#b9e0ed 0 73deg,#9dcee3 0 81deg,#81b7d7 0 84deg,#679ec9 0 88deg,#5183bb 0 97deg,#4065ac 0 100deg,#36459c 0 179deg,#4065ac 0 188deg,#5183bb 0 190deg,#679ec9 0 194deg,#81b7d7 0 200deg,#9dcee3 0 202deg,#b9e0ed 0 204deg,#d4edf4 0 206deg,#e7f6eb 0 211deg,#f7fcce 0 213deg,#fff7b3 0 60%,#fee79b 0 220deg,#fed283 0 223deg,#fdbb6d 0 229deg,#fb9d59 0 236deg,#f67c4a 0 240deg,#ec5c3b 0 247deg,#dd3d2d 0 251deg,#ca2427 0 253deg,#b10b26 0 266deg,#ca2427 0 268deg,#b10b26 0)"></i>
<i style="inset:-42.93px;background:conic-gradient(#b10b26 0 14deg,#ca2427 0 20deg,#dd3d2d 0 26deg,#ec5c3b 0 31deg,#f67c4a 0 33deg,#fb9d59 0 35deg,#fdbb6d 0 43deg,#fed283 0 47deg,#fee79b 0 51deg,#fff7b3 0 53deg,#f7fcce 0 56deg,#e7f6eb 0 59deg,#d4edf4 0 69deg,#b9e0ed 0 20%,#9dcee3 0 80deg,#81b7d7 0 83deg,#679ec9 0 91deg,#5183bb 0 97deg,#4065ac 0 100deg,#36459c 0 179deg,#4065ac 0 187deg,#5183bb 0 190deg,#679ec9 0 194deg,#81b7d7 0 199deg,#9dcee3 0 202deg,#b9e0ed 0 203deg,#d4edf4 0 205deg,#e7f6eb 0 212deg,#f7fcce 0 215deg,#fff7b3 0 217deg,#fee79b 0 221deg,#fed283 0 62.5%,#fdbb6d 0 230deg,#fb9d59 0 235deg,#f67c4a 0 238deg,#ec5c3b 0 67.5%,#dd3d2d 0 250deg,#ca2427 0 253deg,#b10b26 0 266deg,#ca2427 0 268deg,#b10b26 0)"></i>
<i style="inset:-41.94px;background:conic-gradient(#b10b26 0 14deg,#ca2427 0 20deg,#dd3d2d 0 7.5%,#ec5c3b 0 31deg,#f67c4a 0 33deg,#fb9d59 0 10%,#fdbb6d 0 43deg,#fed283 0 47deg,#fee79b 0 50deg,#fff7b3 0 53deg,#f7fcce 0 55deg,#e7f6eb 0 59deg,#d4edf4 0 70deg,#b9e0ed 0 73deg,#9dcee3 0 79deg,#81b7d7 0 82deg,#679ec9 0 91deg,#5183bb 0 96deg,#4065ac 0 101deg,#36459c 0 179deg,#4065ac 0 185deg,#5183bb 0 191deg,#679ec9 0 195deg,#81b7d7 0 55%,#9dcee3 0 201deg,#b9e0ed 0 203deg,#d4edf4 0 205deg,#e7f6eb 0 213deg,#f7fcce 0 215deg,#fff7b3 0 217deg,#fee79b 0 221deg,#fed283 0 227deg,#fdbb6d 0 231deg,#fb9d59 0 235deg,#f67c4a 0 237deg,#ec5c3b 0 241deg,#dd3d2d 0 250deg,#ca2427 0 254deg,#b10b26 0 267deg,#ca2427 0 268deg,#b10b26 0)"></i>
<i style="inset:-40.94px;background:conic-gradient(#b10b26 0 13deg,#ca2427 0 20deg,#dd3d2d 0 7.5%,#ec5c3b 0 31deg,#f67c4a 0 33deg,#fb9d59 0 37deg,#fdbb6d 0 43deg,#fed283 0 47deg,#fee79b 0 50deg,#fff7b3 0 52deg,#f7fcce 0 55deg,#e7f6eb 0 62deg,#d4edf4 0 64deg,#e7f6eb 0 66deg,#d4edf4 0 70deg,#b9e0ed 0 73deg,#9dcee3 0 79deg,#81b7d7 0 82deg,#679ec9 0 91deg,#5183bb 0 94deg,#4065ac 0 104deg,#36459c 0 179deg,#4065ac 0 183deg,#5183bb 0 193deg,#679ec9 0 196deg,#81b7d7 0 55%,#9dcee3 0 201deg,#b9e0ed 0 204deg,#d4edf4 0 206deg,#e7f6eb 0 214deg,#f7fcce 0 215deg,#fff7b3 0 217deg,#fee79b 0 224deg,#fed283 0 228deg,#fdbb6d 0 232deg,#fb9d59 0 235deg,#f67c4a 0 238deg,#ec5c3b 0 242deg,#dd3d2d 0 251deg,#ca2427 0 262deg,#b10b26 0 267deg,#ca2427 0 75%,#b10b26 0)"></i>
<i style="inset:-39.94px;background:conic-gradient(#b10b26 0 12deg,#ca2427 0 19deg,#dd3d2d 0 28deg,#ec5c3b 0 30deg,#f67c4a 0 34deg,#fb9d59 0 38deg,#fdbb6d 0 42deg,#fed283 0 47deg,#fee79b 0 50deg,#fff7b3 0 53deg,#f7fcce 0 56deg,#e7f6eb 0 67deg,#d4edf4 0 70deg,#b9e0ed 0 73deg,#9dcee3 0 79deg,#81b7d7 0 81deg,#679ec9 0 91deg,#5183bb 0 93deg,#4065ac 0 99deg,#36459c 0 102deg,#4065ac 0 104deg,#36459c 0 170deg,#4065ac 0 173deg,#36459c 0 179deg,#4065ac 0 183deg,#5183bb 0 193deg,#679ec9 0 196deg,#81b7d7 0 199deg,#9dcee3 0 202deg,#b9e0ed 0 205deg,#d4edf4 0 57.5%,#e7f6eb 0 213deg,#f7fcce 0 215deg,#fff7b3 0 217deg,#fee79b 0 226deg,#fed283 0 228deg,#fdbb6d 0 233deg,#fb9d59 0 236deg,#f67c4a 0 239deg,#ec5c3b 0 246deg,#dd3d2d 0 256deg,#ca2427 0 277deg,#b10b26 0)"></i>
<i style="inset:-38.94px;background:conic-gradient(#b10b26 0 3deg,#ca2427 0 5deg,#b10b26 0 11deg,#ca2427 0 21deg,#dd3d2d 0 28deg,#ec5c3b 0 30deg,#f67c4a 0 33deg,#fb9d59 0 38deg,#fdbb6d 0 42deg,#fed283 0 49deg,#fee79b 0 51deg,#fff7b3 0 55deg,#f7fcce 0 62deg,#e7f6eb 0 67deg,#d4edf4 0 70deg,#b9e0ed 0 74deg,#9dcee3 0 79deg,#81b7d7 0 81deg,#679ec9 0 87deg,#81b7d7 0 89deg,#679ec9 0 91deg,#5183bb 0 93deg,#4065ac 0 98deg,#36459c 0 170deg,#4065ac 0 182deg,#5183bb 0 187deg,#679ec9 0 52.5%,#5183bb 0 190deg,#679ec9 0 195deg,#81b7d7 0 199deg,#9dcee3 0 203deg,#b9e0ed 0 205deg,#d4edf4 0 57.5%,#e7f6eb 0 213deg,#f7fcce 0 215deg,#fff7b3 0 220deg,#fee79b 0 221deg,#fff7b3 0 223deg,#fee79b 0 226deg,#fed283 0 228deg,#fdbb6d 0 232deg,#fb9d59 0 236deg,#f67c4a 0 67.5%,#ec5c3b 0 248deg,#dd3d2d 0 258deg,#ca2427 0 275deg,#b10b26 0)"></i>
<i style="inset:-37.94px;background:conic-gradient(#b10b26 0 12deg,#ca2427 0 22deg,#dd3d2d 0 29deg,#ec5c3b 0 30deg,#f67c4a 0 33deg,#fb9d59 0 37deg,#fdbb6d 0 43deg,#fed283 0 49deg,#fee79b 0 53deg,#fff7b3 0 56deg,#f7fcce 0 63deg,#e7f6eb 0 66deg,#d4edf4 0 69deg,#b9e0ed 0 76deg,#9dcee3 0 79deg,#81b7d7 0 82deg,#679ec9 0 86deg,#81b7d7 0 25%,#679ec9 0 92deg,#5183bb 0 94deg,#4065ac 0 98deg,#36459c 0 47.5%,#4065ac 0 182deg,#5183bb 0 52.5%,#679ec9 0 193deg,#81b7d7 0 200deg,#9dcee3 0 203deg,#b9e0ed 0 204deg,#d4edf4 0 206deg,#e7f6eb 0 213deg,#f7fcce 0 217deg,#fff7b3 0 224deg,#fee79b 0 226deg,#fed283 0 228deg,#fdbb6d 0 232deg,#fb9d59 0 236deg,#f67c4a 0 246deg,#ec5c3b 0 250deg,#dd3d2d 0 260deg,#ca2427 0 271deg,#b10b26 0)"></i>
<i style="inset:-36.94px;background:conic-gradient(#b10b26 0 13deg,#ca2427 0 21deg,#dd3d2d 0 28deg,#ec5c3b 0 31deg,#f67c4a 0 33deg,#fb9d59 0 10%,#fdbb6d 0 45deg,#fed283 0 49deg,#fee79b 0 15%,#fff7b3 0 57deg,#f7fcce 0 63deg,#e7f6eb 0 66deg,#d4edf4 0 69deg,#b9e0ed 0 77deg,#9dcee3 0 80deg,#81b7d7 0 83deg,#679ec9 0 86deg,#81b7d7 0 91deg,#679ec9 0 93deg,#5183bb 0 96deg,#4065ac 0 106deg,#36459c 0 172deg,#4065ac 0 181deg,#5183bb 0 52.5%,#679ec9 0 192deg,#81b7d7 0 201deg,#9dcee3 0 203deg,#b9e0ed 0 204deg,#d4edf4 0 57.5%,#e7f6eb 0 214deg,#f7fcce 0 219deg,#fff7b3 0 224deg,#fee79b 0 227deg,#fed283 0 229deg,#fdbb6d 0 233deg,#fb9d59 0 237deg,#f67c4a 0 248deg,#ec5c3b 0 251deg,#dd3d2d 0 265deg,#ca2427 0 75%,#b10b26 0)"></i>
<i style="inset:-35.94px;background:conic-gradient(#b10b26 0 15deg,#ca2427 0 21deg,#dd3d2d 0 28deg,#ec5c3b 0 31deg,#f67c4a 0 33deg,#fb9d59 0 37deg,#fdbb6d 0 46deg,#fed283 0 49deg,#fee79b 0 15%,#fff7b3 0 57deg,#f7fcce 0 64deg,#e7f6eb 0 66deg,#d4edf4 0 70deg,#b9e0ed 0 75deg,#9dcee3 0 79deg,#81b7d7 0 84deg,#679ec9 0 86deg,#81b7d7 0 92deg,#679ec9 0 94deg,#5183bb 0 99deg,#4065ac 0 114deg,#36459c 0 132deg,#4065ac 0 134deg,#36459c 0 47.5%,#4065ac 0 50%,#5183bb 0 188deg,#679ec9 0 192deg,#81b7d7 0 201deg,#9dcee3 0 203deg,#b9e0ed 0 205deg,#d4edf4 0 209deg,#e7f6eb 0 214deg,#f7fcce 0 218deg,#fff7b3 0 224deg,#fee79b 0 227deg,#fed283 0 232deg,#fdbb6d 0 235deg,#fb9d59 0 242deg,#f67c4a 0 249deg,#ec5c3b 0 251deg,#dd3d2d 0 267deg,#ca2427 0 75%,#b10b26 0)"></i>
<i style="inset:-34.95px;background:conic-gradient(#b10b26 0 16deg,#ca2427 0 21deg,#dd3d2d 0 7.5%,#ec5c3b 0 31deg,#f67c4a 0 35deg,#fb9d59 0 39deg,#fdbb6d 0 47deg,#fed283 0 49deg,#fee79b 0 55deg,#fff7b3 0 62deg,#f7fcce 0 65deg,#e7f6eb 0 67deg,#d4edf4 0 71deg,#b9e0ed 0 74deg,#9dcee3 0 79deg,#81b7d7 0 83deg,#679ec9 0 87deg,#81b7d7 0 92deg,#679ec9 0 95deg,#5183bb 0 99deg,#4065ac 0 119deg,#36459c 0 127deg,#4065ac 0 37.5%,#36459c 0 158deg,#4065ac 0 164deg,#36459c 0 47.5%,#4065ac 0 178deg,#5183bb 0 182deg,#679ec9 0 192deg,#81b7d7 0 201deg,#9dcee3 0 204deg,#b9e0ed 0 57.5%,#d4edf4 0 210deg,#e7f6eb 0 214deg,#f7fcce 0 217deg,#fff7b3 0 222deg,#fee79b 0 229deg,#fed283 0 65%,#fdbb6d 0 237deg,#fb9d59 0 242deg,#f67c4a 0 250deg,#ec5c3b 0 70%,#dd3d2d 0 267deg,#ca2427 0 271deg,#b10b26 0)"></i>
<i style="inset:-33.95px;background:conic-gradient(#b10b26 0 16deg,#ca2427 0 22deg,#dd3d2d 0 7.5%,#ec5c3b 0 31deg,#f67c4a 0 10%,#fb9d59 0 44deg,#fdbb6d 0 47deg,#fed283 0 49deg,#fee79b 0 55deg,#fff7b3 0 63deg,#f7fcce 0 65deg,#e7f6eb 0 68deg,#d4edf4 0 71deg,#b9e0ed 0 75deg,#9dcee3 0 79deg,#81b7d7 0 82deg,#679ec9 0 95deg,#5183bb 0 100deg,#4065ac 0 103deg,#5183bb 0 111deg,#4065ac 0 121deg,#36459c 0 35%,#4065ac 0 134deg,#36459c 0 157deg,#4065ac 0 166deg,#36459c 0 170deg,#4065ac 0 177deg,#5183bb 0 181deg,#679ec9 0 193deg,#81b7d7 0 200deg,#9dcee3 0 205deg,#b9e0ed 0 208deg,#d4edf4 0 210deg,#e7f6eb 0 214deg,#f7fcce 0 218deg,#fff7b3 0 221deg,#fee79b 0 229deg,#fed283 0 235deg,#fdbb6d 0 239deg,#fb9d59 0 242deg,#f67c4a 0 250deg,#ec5c3b 0 70%,#dd3d2d 0 268deg,#ca2427 0 272deg,#b10b26 0)"></i>
<i style="inset:-32.95px;background:conic-gradient(#b10b26 0 16deg,#ca2427 0 23deg,#dd3d2d 0 28deg,#ec5c3b 0 32deg,#f67c4a 0 37deg,#fb9d59 0 44deg,#fdbb6d 0 48deg,#fed283 0 51deg,#fee79b 0 55deg,#fff7b3 0 63deg,#f7fcce 0 65deg,#e7f6eb 0 68deg,#d4edf4 0 20%,#b9e0ed 0 76deg,#9dcee3 0 79deg,#81b7d7 0 82deg,#679ec9 0 95deg,#5183bb 0 32.5%,#4065ac 0 132deg,#36459c 0 155deg,#4065ac 0 159deg,#5183bb 0 164deg,#4065ac 0 172deg,#5183bb 0 50%,#679ec9 0 184deg,#81b7d7 0 55%,#9dcee3 0 205deg,#b9e0ed 0 57.5%,#d4edf4 0 210deg,#e7f6eb 0 215deg,#f7fcce 0 219deg,#fff7b3 0 222deg,#fee79b 0 230deg,#fed283 0 235deg,#fdbb6d 0 240deg,#fb9d59 0 244deg,#f67c4a 0 251deg,#ec5c3b 0 253deg,#dd3d2d 0 269deg,#ca2427 0 273deg,#b10b26 0)"></i>
<i style="inset:-31.95px;background:conic-gradient(#b10b26 0 14deg,#ca2427 0 24deg,#dd3d2d 0 29deg,#ec5c3b 0 34deg,#f67c4a 0 37deg,#fb9d59 0 43deg,#fdbb6d 0 49deg,#fed283 0 52deg,#fee79b 0 55deg,#fff7b3 0 61deg,#f7fcce 0 65deg,#e7f6eb 0 67deg,#d4edf4 0 74deg,#b9e0ed 0 78deg,#9dcee3 0 81deg,#81b7d7 0 84deg,#679ec9 0 87deg,#81b7d7 0 89deg,#679ec9 0 96deg,#5183bb 0 110deg,#679ec9 0 112deg,#5183bb 0 120deg,#4065ac 0 133deg,#36459c 0 143deg,#4065ac 0 159deg,#5183bb 0 168deg,#4065ac 0 169deg,#5183bb 0 177deg,#679ec9 0 182deg,#81b7d7 0 197deg,#9dcee3 0 204deg,#b9e0ed 0 57.5%,#d4edf4 0 209deg,#e7f6eb 0 60%,#f7fcce 0 220deg,#fff7b3 0 223deg,#fee79b 0 230deg,#fed283 0 236deg,#fdbb6d 0 241deg,#fb9d59 0 249deg,#f67c4a 0 70%,#ec5c3b 0 254deg,#dd3d2d 0 271deg,#ca2427 0 275deg,#b10b26 0)"></i>
<i style="inset:-30.95px;background:conic-gradient(#b10b26 0 13deg,#ca2427 0 23deg,#dd3d2d 0 30deg,#ec5c3b 0 35deg,#f67c4a 0 38deg,#fb9d59 0 43deg,#fdbb6d 0 50deg,#fed283 0 53deg,#fee79b 0 55deg,#fff7b3 0 58deg,#f7fcce 0 64deg,#e7f6eb 0 67deg,#d4edf4 0 77deg,#b9e0ed 0 80deg,#9dcee3 0 83deg,#81b7d7 0 91deg,#679ec9 0 99deg,#5183bb 0 30%,#679ec9 0 115deg,#5183bb 0 122deg,#4065ac 0 37.5%,#36459c 0 140deg,#4065ac 0 154deg,#5183bb 0 173deg,#679ec9 0 179deg,#81b7d7 0 184deg,#9dcee3 0 188deg,#81b7d7 0 193deg,#9dcee3 0 203deg,#b9e0ed 0 57.5%,#d4edf4 0 210deg,#e7f6eb 0 217deg,#f7fcce 0 221deg,#fff7b3 0 229deg,#fee79b 0 231deg,#fed283 0 240deg,#fdbb6d 0 244deg,#fb9d59 0 251deg,#f67c4a 0 254deg,#ec5c3b 0 258deg,#dd3d2d 0 272deg,#ca2427 0 278deg,#b10b26 0 286deg,#ca2427 0 290deg,#b10b26 0)"></i>
<i style="inset:-29.95px;background:conic-gradient(#b10b26 0 3deg,#ca2427 0 8deg,#b10b26 0 11deg,#ca2427 0 23deg,#dd3d2d 0 30deg,#ec5c3b 0 10%,#f67c4a 0 39deg,#fb9d59 0 44deg,#fdbb6d 0 50deg,#fed283 0 52deg,#fee79b 0 15%,#fff7b3 0 58deg,#f7fcce 0 64deg,#e7f6eb 0 67deg,#d4edf4 0 78deg,#b9e0ed 0 81deg,#9dcee3 0 85deg,#81b7d7 0 91deg,#679ec9 0 102deg,#5183bb 0 109deg,#679ec9 0 115deg,#5183bb 0 132deg,#4065ac 0 136deg,#36459c 0 139deg,#4065ac 0 143deg,#5183bb 0 148deg,#4065ac 0 42.5%,#5183bb 0 172deg,#679ec9 0 175deg,#81b7d7 0 184deg,#9dcee3 0 52.5%,#81b7d7 0 190deg,#9dcee3 0 55%,#81b7d7 0 200deg,#9dcee3 0 204deg,#b9e0ed 0 208deg,#d4edf4 0 212deg,#e7f6eb 0 219deg,#f7fcce 0 222deg,#fff7b3 0 230deg,#fee79b 0 232deg,#fed283 0 242deg,#fdbb6d 0 246deg,#fb9d59 0 253deg,#f67c4a 0 256deg,#ec5c3b 0 72.5%,#dd3d2d 0 272deg,#ca2427 0 282deg,#b10b26 0 286deg,#ca2427 0 292deg,#b10b26 0 335deg,#ca2427 0 95%,#b10b26 0 345deg,#ca2427 0 348deg,#b10b26 0)"></i>
<i style="inset:-28.96px;background:conic-gradient(#b10b26 0 2deg,#ca2427 0 15deg,#dd3d2d 0 19deg,#ca2427 0 21deg,#dd3d2d 0 30deg,#ec5c3b 0 37deg,#f67c4a 0 41deg,#fb9d59 0 46deg,#fdbb6d 0 49deg,#fed283 0 52deg,#fee79b 0 15%,#fff7b3 0 59deg,#f7fcce 0 64deg,#e7f6eb 0 73deg,#d4edf4 0 78deg,#b9e0ed 0 81deg,#9dcee3 0 87deg,#81b7d7 0 93deg,#679ec9 0 103deg,#5183bb 0 111deg,#679ec9 0 114deg,#5183bb 0 118deg,#679ec9 0 121deg,#5183bb 0 134deg,#4065ac 0 142deg,#5183bb 0 149deg,#4065ac 0 42.5%,#5183bb 0 167deg,#679ec9 0 174deg,#81b7d7 0 184deg,#9dcee3 0 188deg,#81b7d7 0 192deg,#9dcee3 0 196deg,#81b7d7 0 200deg,#9dcee3 0 205deg,#b9e0ed 0 210deg,#d4edf4 0 215deg,#e7f6eb 0 219deg,#f7fcce 0 223deg,#fff7b3 0 226deg,#f7fcce 0 228deg,#fff7b3 0 231deg,#fee79b 0 233deg,#fed283 0 237deg,#fee79b 0 240deg,#fed283 0 244deg,#fdbb6d 0 247deg,#fb9d59 0 255deg,#f67c4a 0 259deg,#ec5c3b 0 263deg,#dd3d2d 0 272deg,#ca2427 0 283deg,#b10b26 0 285deg,#ca2427 0 292deg,#b10b26 0 334deg,#ca2427 0 349deg,#b10b26 0)"></i>
<i style="inset:-27.96px;background:conic-gradient(#b10b26 0 2deg,#ca2427 0 14deg,#dd3d2d 0 30deg,#ec5c3b 0 10%,#f67c4a 0 43deg,#fb9d59 0 46deg,#fdbb6d 0 49deg,#fed283 0 51deg,#fee79b 0 15%,#fff7b3 0 62deg,#f7fcce 0 66deg,#e7f6eb 0 73deg,#d4edf4 0 76deg,#b9e0ed 0 81deg,#9dcee3 0 25%,#81b7d7 0 100deg,#679ec9 0 103deg,#5183bb 0 110deg,#679ec9 0 113deg,#5183bb 0 118deg,#679ec9 0 123deg,#5183bb 0 136deg,#4065ac 0 141deg,#5183bb 0 40%,#679ec9 0 146deg,#5183bb 0 149deg,#4065ac 0 42.5%,#5183bb 0 165deg,#679ec9 0 173deg,#81b7d7 0 185deg,#9dcee3 0 187deg,#81b7d7 0 199deg,#9dcee3 0 206deg,#b9e0ed 0 211deg,#d4edf4 0 215deg,#e7f6eb 0 219deg,#f7fcce 0 229deg,#fff7b3 0 232deg,#fee79b 0 241deg,#fed283 0 244deg,#fdbb6d 0 248deg,#fb9d59 0 256deg,#f67c4a 0 72.5%,#ec5c3b 0 266deg,#dd3d2d 0 272deg,#ca2427 0 275deg,#dd3d2d 0 280deg,#ca2427 0 291deg,#b10b26 0 335deg,#ca2427 0 340deg,#b10b26 0 346deg,#ca2427 0 348deg,#b10b26 0)"></i>
<i style="inset:-26.96px;background:conic-gradient(#b10b26 0 2deg,#ca2427 0 8deg,#dd3d2d 0 24deg,#ec5c3b 0 34deg,#f67c4a 0 44deg,#fb9d59 0 47deg,#fdbb6d 0 50deg,#fed283 0 52deg,#fee79b 0 55deg,#fff7b3 0 64deg,#f7fcce 0 68deg,#e7f6eb 0 73deg,#d4edf4 0 76deg,#b9e0ed 0 81deg,#9dcee3 0 92deg,#81b7d7 0 100deg,#679ec9 0 113deg,#5183bb 0 32.5%,#679ec9 0 124deg,#5183bb 0 145deg,#679ec9 0 146deg,#5183bb 0 165deg,#679ec9 0 172deg,#81b7d7 0 177deg,#679ec9 0 181deg,#81b7d7 0 184deg,#9dcee3 0 186deg,#81b7d7 0 190deg,#679ec9 0 192deg,#81b7d7 0 55%,#9dcee3 0 206deg,#b9e0ed 0 211deg,#d4edf4 0 214deg,#e7f6eb 0 219deg,#f7fcce 0 230deg,#fff7b3 0 233deg,#fee79b 0 241deg,#fed283 0 244deg,#fdbb6d 0 248deg,#fb9d59 0 255deg,#f67c4a 0 264deg,#ec5c3b 0 268deg,#dd3d2d 0 282deg,#ca2427 0 290deg,#b10b26 0)"></i>
<i style="inset:-25.96px;background:conic-gradient(#ca2427 0 8deg,#dd3d2d 0 22deg,#ec5c3b 0 32deg,#f67c4a 0 43deg,#fb9d59 0 47deg,#fdbb6d 0 51deg,#fed283 0 53deg,#fee79b 0 61deg,#fff7b3 0 65deg,#f7fcce 0 69deg,#e7f6eb 0 74deg,#d4edf4 0 77deg,#b9e0ed 0 85deg,#9dcee3 0 93deg,#81b7d7 0 101deg,#679ec9 0 114deg,#5183bb 0 116deg,#679ec9 0 35%,#5183bb 0 132deg,#679ec9 0 158deg,#5183bb 0 164deg,#679ec9 0 172deg,#81b7d7 0 176deg,#679ec9 0 179deg,#81b7d7 0 183deg,#9dcee3 0 186deg,#81b7d7 0 52.5%,#679ec9 0 193deg,#81b7d7 0 197deg,#9dcee3 0 203deg,#b9e0ed 0 209deg,#d4edf4 0 213deg,#e7f6eb 0 218deg,#f7fcce 0 230deg,#fff7b3 0 65%,#fee79b 0 240deg,#fed283 0 244deg,#fdbb6d 0 249deg,#fb9d59 0 255deg,#f67c4a 0 266deg,#ec5c3b 0 269deg,#dd3d2d 0 274deg,#ec5c3b 0 281deg,#dd3d2d 0 80%,#ca2427 0 291deg,#b10b26 0 323deg,#ca2427 0 330deg,#b10b26 0 355deg,#ca2427 0)"></i>
<i style="inset:-24.96px;background:conic-gradient(#ca2427 0 8deg,#dd3d2d 0 22deg,#ec5c3b 0 25deg,#f67c4a 0 37deg,#fb9d59 0 49deg,#fdbb6d 0 52deg,#fed283 0 55deg,#fee79b 0 63deg,#fff7b3 0 66deg,#f7fcce 0 69deg,#e7f6eb 0 75deg,#d4edf4 0 82deg,#b9e0ed 0 88deg,#9dcee3 0 94deg,#81b7d7 0 106deg,#679ec9 0 129deg,#5183bb 0 131deg,#679ec9 0 37.5%,#81b7d7 0 140deg,#679ec9 0 147deg,#81b7d7 0 152deg,#679ec9 0 172deg,#81b7d7 0 181deg,#9dcee3 0 187deg,#81b7d7 0 195deg,#9dcee3 0 55%,#b9e0ed 0 57.5%,#d4edf4 0 211deg,#e7f6eb 0 217deg,#f7fcce 0 229deg,#fff7b3 0 235deg,#fee79b 0 238deg,#fed283 0 244deg,#fdbb6d 0 250deg,#fb9d59 0 255deg,#f67c4a 0 72.5%,#fb9d59 0 264deg,#f67c4a 0 267deg,#ec5c3b 0 285deg,#dd3d2d 0 289deg,#ca2427 0 294deg,#b10b26 0 321deg,#ca2427 0 331deg,#b10b26 0 353deg,#ca2427 0)"></i>
<i style="inset:-23.96px;background:conic-gradient(#ca2427 0 7deg,#dd3d2d 0 22deg,#ec5c3b 0 25deg,#f67c4a 0 10%,#fb9d59 0 49deg,#fdbb6d 0 52deg,#fed283 0 56deg,#fee79b 0 64deg,#fff7b3 0 66deg,#f7fcce 0 73deg,#e7f6eb 0 77deg,#d4edf4 0 84deg,#b9e0ed 0 25%,#9dcee3 0 94deg,#81b7d7 0 30%,#679ec9 0 119deg,#81b7d7 0 123deg,#679ec9 0 133deg,#81b7d7 0 160deg,#679ec9 0 47.5%,#81b7d7 0 50%,#9dcee3 0 188deg,#81b7d7 0 193deg,#9dcee3 0 196deg,#b9e0ed 0 205deg,#d4edf4 0 209deg,#e7f6eb 0 60%,#f7fcce 0 228deg,#fff7b3 0 235deg,#fee79b 0 238deg,#fed283 0 67.5%,#fdbb6d 0 253deg,#fb9d59 0 258deg,#f67c4a 0 259deg,#fb9d59 0 265deg,#f67c4a 0 271deg,#ec5c3b 0 286deg,#dd3d2d 0 290deg,#ca2427 0 298deg,#b10b26 0 303deg,#ca2427 0 305deg,#b10b26 0 318deg,#ca2427 0 332deg,#b10b26 0 349deg,#ca2427 0 356deg,#dd3d2d 0)"></i>
<i style="inset:-22.96px;background:conic-gradient(#ca2427 0 3deg,#dd3d2d 0 21deg,#ec5c3b 0 24deg,#f67c4a 0 34deg,#fb9d59 0 40deg,#fdbb6d 0 52deg,#fed283 0 55deg,#fee79b 0 65deg,#fff7b3 0 67deg,#f7fcce 0 75deg,#e7f6eb 0 80deg,#d4edf4 0 87deg,#b9e0ed 0 91deg,#9dcee3 0 95deg,#81b7d7 0 101deg,#9dcee3 0 105deg,#81b7d7 0 109deg,#679ec9 0 32.5%,#81b7d7 0 166deg,#679ec9 0 170deg,#81b7d7 0 179deg,#9dcee3 0 195deg,#b9e0ed 0 202deg,#d4edf4 0 208deg,#e7f6eb 0 217deg,#f7fcce 0 220deg,#fff7b3 0 235deg,#fee79b 0 238deg,#fed283 0 244deg,#fdbb6d 0 255deg,#fb9d59 0 265deg,#f67c4a 0 275deg,#ec5c3b 0 280deg,#f67c4a 0 284deg,#ec5c3b 0 80%,#dd3d2d 0 295deg,#ca2427 0 334deg,#b10b26 0 336deg,#ca2427 0 354deg,#dd3d2d 0)"></i>
<i style="inset:-21.97px;background:conic-gradient(#dd3d2d 0 4deg,#ec5c3b 0 9deg,#dd3d2d 0 15deg,#ec5c3b 0 23deg,#f67c4a 0 33deg,#fb9d59 0 37deg,#fdbb6d 0 51deg,#fed283 0 15%,#fee79b 0 65deg,#fff7b3 0 68deg,#f7fcce 0 76deg,#e7f6eb 0 80deg,#d4edf4 0 89deg,#b9e0ed 0 92deg,#9dcee3 0 30%,#81b7d7 0 157deg,#9dcee3 0 163deg,#81b7d7 0 47.5%,#9dcee3 0 183deg,#b9e0ed 0 185deg,#9dcee3 0 192deg,#b9e0ed 0 202deg,#d4edf4 0 208deg,#e7f6eb 0 60%,#f7fcce 0 220deg,#fff7b3 0 65%,#fee79b 0 237deg,#fed283 0 246deg,#fdbb6d 0 256deg,#fb9d59 0 264deg,#f67c4a 0 277deg,#ec5c3b 0 278deg,#f67c4a 0 286deg,#ec5c3b 0 292deg,#dd3d2d 0 298deg,#ca2427 0 302deg,#dd3d2d 0 304deg,#ca2427 0 350deg,#dd3d2d 0)"></i>
<i style="inset:-20.97px;background:conic-gradient(#dd3d2d 0 2deg,#ec5c3b 0 5deg,#f67c4a 0 7deg,#ec5c3b 0 22deg,#f67c4a 0 25deg,#fb9d59 0 29deg,#f67c4a 0 33deg,#fb9d59 0 38deg,#fdbb6d 0 47deg,#fed283 0 55deg,#fee79b 0 66deg,#fff7b3 0 73deg,#f7fcce 0 77deg,#e7f6eb 0 81deg,#d4edf4 0 25%,#b9e0ed 0 93deg,#9dcee3 0 101deg,#b9e0ed 0 105deg,#9dcee3 0 112deg,#81b7d7 0 32.5%,#9dcee3 0 120deg,#81b7d7 0 151deg,#9dcee3 0 182deg,#b9e0ed 0 187deg,#9dcee3 0 191deg,#b9e0ed 0 202deg,#d4edf4 0 206deg,#e7f6eb 0 215deg,#f7fcce 0 220deg,#fff7b3 0 233deg,#fee79b 0 238deg,#fed283 0 248deg,#fdbb6d 0 257deg,#fb9d59 0 265deg,#f67c4a 0 268deg,#fb9d59 0 271deg,#f67c4a 0 289deg,#ec5c3b 0 295deg,#dd3d2d 0 85%,#ca2427 0 332deg,#dd3d2d 0 92.5%,#ca2427 0 339deg,#dd3d2d 0 352deg,#ec5c3b 0 357deg,#dd3d2d 0)"></i>
<i style="inset:-19.97px;background:conic-gradient(#dd3d2d 0 1deg,#ec5c3b 0 4deg,#f67c4a 0 10deg,#ec5c3b 0 17deg,#f67c4a 0 25deg,#fb9d59 0 39deg,#fdbb6d 0 46deg,#fed283 0 62deg,#fee79b 0 66deg,#fff7b3 0 73deg,#f7fcce 0 78deg,#e7f6eb 0 87deg,#d4edf4 0 91deg,#b9e0ed 0 96deg,#9dcee3 0 102deg,#b9e0ed 0 106deg,#9dcee3 0 123deg,#81b7d7 0 37.5%,#9dcee3 0 141deg,#81b7d7 0 151deg,#9dcee3 0 159deg,#b9e0ed 0 45%,#9dcee3 0 169deg,#b9e0ed 0 201deg,#d4edf4 0 204deg,#e7f6eb 0 215deg,#f7fcce 0 223deg,#fff7b3 0 231deg,#fee79b 0 239deg,#fed283 0 70%,#fdbb6d 0 259deg,#fb9d59 0 273deg,#f67c4a 0 293deg,#ec5c3b 0 298deg,#dd3d2d 0 316deg,#ca2427 0 322deg,#dd3d2d 0 343deg,#ec5c3b 0 347deg,#dd3d2d 0 350deg,#ec5c3b 0 358deg,#dd3d2d 0)"></i>
<i style="inset:-18.97px;background:conic-gradient(#ec5c3b 0 3deg,#f67c4a 0 13deg,#ec5c3b 0 15deg,#f67c4a 0 25deg,#fb9d59 0 40deg,#fdbb6d 0 45deg,#fed283 0 47deg,#fee79b 0 51deg,#fed283 0 53deg,#fdbb6d 0 58deg,#fed283 0 63deg,#fee79b 0 67deg,#fff7b3 0 73deg,#f7fcce 0 80deg,#e7f6eb 0 86deg,#d4edf4 0 91deg,#b9e0ed 0 97deg,#9dcee3 0 125deg,#81b7d7 0 131deg,#9dcee3 0 143deg,#81b7d7 0 150deg,#9dcee3 0 159deg,#b9e0ed 0 194deg,#d4edf4 0 196deg,#b9e0ed 0 199deg,#d4edf4 0 203deg,#e7f6eb 0 214deg,#f7fcce 0 226deg,#fff7b3 0 230deg,#fee79b 0 241deg,#fed283 0 253deg,#fdbb6d 0 72.5%,#fb9d59 0 274deg,#f67c4a 0 281deg,#fb9d59 0 286deg,#f67c4a 0 296deg,#ec5c3b 0 301deg,#dd3d2d 0 311deg,#ec5c3b 0 314deg,#dd3d2d 0 325deg,#ec5c3b 0 92.5%,#dd3d2d 0 341deg,#ec5c3b 0 354deg,#f67c4a 0 355deg,#ec5c3b 0)"></i>
<i style="inset:-17.97px;background:conic-gradient(#ec5c3b 0 3deg,#f67c4a 0 6deg,#fb9d59 0 11deg,#f67c4a 0 19deg,#fb9d59 0 22deg,#f67c4a 0 25deg,#fb9d59 0 28deg,#fdbb6d 0 32deg,#fb9d59 0 39deg,#fdbb6d 0 44deg,#fed283 0 47deg,#fee79b 0 51deg,#fed283 0 53deg,#fdbb6d 0 60deg,#fed283 0 64deg,#fee79b 0 69deg,#fff7b3 0 75deg,#f7fcce 0 82deg,#e7f6eb 0 86deg,#d4edf4 0 92deg,#b9e0ed 0 98deg,#9dcee3 0 136deg,#b9e0ed 0 141deg,#9dcee3 0 159deg,#b9e0ed 0 168deg,#d4edf4 0 169deg,#b9e0ed 0 182deg,#d4edf4 0 202deg,#e7f6eb 0 204deg,#f7fcce 0 221deg,#e7f6eb 0 223deg,#f7fcce 0 226deg,#fff7b3 0 229deg,#fee79b 0 242deg,#fed283 0 258deg,#fdbb6d 0 271deg,#fb9d59 0 275deg,#f67c4a 0 77.5%,#fb9d59 0 287deg,#f67c4a 0 298deg,#ec5c3b 0 316deg,#dd3d2d 0 320deg,#ec5c3b 0 334deg,#dd3d2d 0 341deg,#ec5c3b 0 344deg,#f67c4a 0 357deg,#ec5c3b 0)"></i>
<i style="inset:-16.97px;background:conic-gradient(#ec5c3b 0 2deg,#f67c4a 0 5deg,#fb9d59 0 12deg,#f67c4a 0 19deg,#fb9d59 0 7.5%,#fdbb6d 0 33deg,#fb9d59 0 37deg,#fdbb6d 0 42deg,#fed283 0 48deg,#fee79b 0 51deg,#fed283 0 15%,#fdbb6d 0 60deg,#fed283 0 64deg,#fee79b 0 71deg,#fff7b3 0 76deg,#f7fcce 0 83deg,#e7f6eb 0 86deg,#d4edf4 0 94deg,#b9e0ed 0 101deg,#9dcee3 0 133deg,#b9e0ed 0 142deg,#9dcee3 0 159deg,#b9e0ed 0 163deg,#d4edf4 0 200deg,#e7f6eb 0 204deg,#f7fcce 0 208deg,#fff7b3 0 212deg,#f7fcce 0 221deg,#e7f6eb 0 224deg,#f7fcce 0 226deg,#fff7b3 0 229deg,#fee79b 0 244deg,#fed283 0 260deg,#fdbb6d 0 272deg,#fb9d59 0 281deg,#fdbb6d 0 284deg,#fb9d59 0 289deg,#f67c4a 0 300deg,#ec5c3b 0 323deg,#f67c4a 0 327deg,#ec5c3b 0 336deg,#dd3d2d 0 339deg,#ec5c3b 0 343deg,#f67c4a 0 97.5%,#fb9d59 0 352deg,#f67c4a 0)"></i>
<i style="inset:-15.98px;background:conic-gradient(#f67c4a 0 4deg,#fb9d59 0 13deg,#f67c4a 0 5%,#fb9d59 0 26deg,#fdbb6d 0 39deg,#fed283 0 15%,#fdbb6d 0 59deg,#fed283 0 63deg,#fee79b 0 73deg,#fff7b3 0 77deg,#f7fcce 0 83deg,#e7f6eb 0 86deg,#d4edf4 0 88deg,#e7f6eb 0 92deg,#d4edf4 0 97deg,#b9e0ed 0 112deg,#9dcee3 0 123deg,#b9e0ed 0 142deg,#9dcee3 0 156deg,#b9e0ed 0 45%,#d4edf4 0 188deg,#e7f6eb 0 204deg,#f7fcce 0 57.5%,#fff7b3 0 213deg,#f7fcce 0 227deg,#fff7b3 0 232deg,#fee79b 0 237deg,#fff7b3 0 242deg,#fee79b 0 251deg,#fed283 0 269deg,#fdbb6d 0 273deg,#fb9d59 0 280deg,#fdbb6d 0 285deg,#fb9d59 0 292deg,#f67c4a 0 301deg,#ec5c3b 0 307deg,#f67c4a 0 309deg,#ec5c3b 0 323deg,#f67c4a 0 329deg,#ec5c3b 0 95%,#f67c4a 0 345deg,#fb9d59 0 356deg,#f67c4a 0)"></i>
<i style="inset:-14.98px;background:conic-gradient(#f67c4a 0 3deg,#fb9d59 0 26deg,#fdbb6d 0 38deg,#fed283 0 63deg,#fee79b 0 73deg,#fff7b3 0 76deg,#f7fcce 0 83deg,#e7f6eb 0 95deg,#d4edf4 0 101deg,#b9e0ed 0 115deg,#9dcee3 0 122deg,#b9e0ed 0 125deg,#d4edf4 0 130deg,#b9e0ed 0 45%,#d4edf4 0 176deg,#e7f6eb 0 177deg,#d4edf4 0 188deg,#e7f6eb 0 205deg,#f7fcce 0 209deg,#fff7b3 0 221deg,#f7fcce 0 228deg,#fff7b3 0 242deg,#fee79b 0 70%,#fed283 0 271deg,#fdbb6d 0 275deg,#fb9d59 0 77.5%,#fdbb6d 0 286deg,#fb9d59 0 293deg,#f67c4a 0 296deg,#fb9d59 0 298deg,#f67c4a 0 311deg,#ec5c3b 0 322deg,#f67c4a 0 343deg,#fb9d59 0 357deg,#f67c4a 0)"></i>
<i style="inset:-13.98px;background:conic-gradient(#fb9d59 0 15deg,#fdbb6d 0 20deg,#fb9d59 0 25deg,#fdbb6d 0 38deg,#fed283 0 62deg,#fee79b 0 66deg,#fff7b3 0 70deg,#fee79b 0 20%,#fff7b3 0 76deg,#f7fcce 0 85deg,#e7f6eb 0 87deg,#f7fcce 0 94deg,#e7f6eb 0 98deg,#d4edf4 0 114deg,#b9e0ed 0 118deg,#9dcee3 0 120deg,#b9e0ed 0 124deg,#d4edf4 0 129deg,#b9e0ed 0 45%,#d4edf4 0 174deg,#e7f6eb 0 179deg,#d4edf4 0 187deg,#e7f6eb 0 57.5%,#f7fcce 0 213deg,#fff7b3 0 223deg,#f7fcce 0 230deg,#fff7b3 0 242deg,#fee79b 0 246deg,#fed283 0 248deg,#fee79b 0 253deg,#fed283 0 272deg,#fdbb6d 0 277deg,#fb9d59 0 278deg,#fdbb6d 0 291deg,#fb9d59 0 301deg,#f67c4a 0 85%,#fb9d59 0 309deg,#f67c4a 0 314deg,#ec5c3b 0 320deg,#f67c4a 0 327deg,#fb9d59 0 92.5%,#f67c4a 0 341deg,#fb9d59 0)"></i>
<i style="inset:-12.98px;background:conic-gradient(#fb9d59 0 2deg,#fdbb6d 0 6deg,#fb9d59 0 13deg,#fdbb6d 0 23deg,#fb9d59 0 25deg,#fdbb6d 0 30deg,#fed283 0 32deg,#fdbb6d 0 38deg,#fed283 0 42deg,#fee79b 0 48deg,#fed283 0 53deg,#fee79b 0 58deg,#fed283 0 62deg,#fee79b 0 66deg,#fff7b3 0 75deg,#f7fcce 0 95deg,#e7f6eb 0 99deg,#d4edf4 0 103deg,#e7f6eb 0 114deg,#d4edf4 0 32.5%,#b9e0ed 0 123deg,#d4edf4 0 128deg,#b9e0ed 0 136deg,#d4edf4 0 151deg,#b9e0ed 0 45%,#d4edf4 0 173deg,#e7f6eb 0 50%,#d4edf4 0 186deg,#e7f6eb 0 210deg,#f7fcce 0 214deg,#fff7b3 0 223deg,#f7fcce 0 230deg,#fff7b3 0 242deg,#fee79b 0 245deg,#fed283 0 248deg,#fee79b 0 253deg,#fed283 0 267deg,#fee79b 0 269deg,#fed283 0 272deg,#fdbb6d 0 277deg,#fb9d59 0 285deg,#fdbb6d 0 293deg,#fb9d59 0 312deg,#f67c4a 0 316deg,#ec5c3b 0 317deg,#f67c4a 0 322deg,#fb9d59 0 344deg,#fdbb6d 0 345deg,#fb9d59 0)"></i>
<i style="inset:-11.98px;background:conic-gradient(#fdbb6d 0 17deg,#fed283 0 20deg,#fdbb6d 0 29deg,#fed283 0 42deg,#fee79b 0 49deg,#fed283 0 52deg,#fee79b 0 59deg,#fed283 0 62deg,#fee79b 0 67deg,#fff7b3 0 74deg,#f7fcce 0 96deg,#e7f6eb 0 99deg,#d4edf4 0 102deg,#e7f6eb 0 116deg,#d4edf4 0 42.5%,#b9e0ed 0 160deg,#d4edf4 0 172deg,#e7f6eb 0 190deg,#d4edf4 0 192deg,#e7f6eb 0 196deg,#f7fcce 0 200deg,#e7f6eb 0 204deg,#d4edf4 0 57.5%,#e7f6eb 0 211deg,#f7fcce 0 214deg,#fff7b3 0 223deg,#f7fcce 0 229deg,#fff7b3 0 241deg,#fee79b 0 251deg,#fed283 0 265deg,#fee79b 0 269deg,#fed283 0 271deg,#fdbb6d 0 276deg,#fb9d59 0 286deg,#fdbb6d 0 294deg,#fb9d59 0 307deg,#fdbb6d 0 310deg,#fb9d59 0 314deg,#f67c4a 0 320deg,#fb9d59 0 323deg,#fdbb6d 0 90%,#fb9d59 0 95%,#fdbb6d 0 347deg,#fb9d59 0 359deg,#fdbb6d 0)"></i>
<i style="inset:-10.98px;background:conic-gradient(#fdbb6d 0 5%,#fed283 0 22deg,#fdbb6d 0 29deg,#fed283 0 41deg,#fee79b 0 59deg,#fed283 0 62deg,#fee79b 0 68deg,#fff7b3 0 71deg,#f7fcce 0 96deg,#e7f6eb 0 99deg,#d4edf4 0 102deg,#e7f6eb 0 116deg,#d4edf4 0 121deg,#e7f6eb 0 35%,#d4edf4 0 169deg,#e7f6eb 0 175deg,#f7fcce 0 179deg,#e7f6eb 0 191deg,#d4edf4 0 193deg,#e7f6eb 0 196deg,#f7fcce 0 202deg,#e7f6eb 0 206deg,#d4edf4 0 57.5%,#e7f6eb 0 212deg,#f7fcce 0 226deg,#fff7b3 0 240deg,#fee79b 0 249deg,#fed283 0 262deg,#fee79b 0 269deg,#fed283 0 271deg,#fdbb6d 0 277deg,#fb9d59 0 280deg,#f67c4a 0 282deg,#fb9d59 0 286deg,#fdbb6d 0 295deg,#fb9d59 0 302deg,#fdbb6d 0 312deg,#fb9d59 0 87.5%,#f67c4a 0 319deg,#fb9d59 0 321deg,#fdbb6d 0 327deg,#fb9d59 0 95%,#fdbb6d 0 349deg,#fb9d59 0 97.5%,#fdbb6d 0)"></i>
<i style="inset:-9.98px;background:conic-gradient(#fdbb6d 0 17deg,#fed283 0 26deg,#fdbb6d 0 30deg,#fed283 0 41deg,#fee79b 0 45deg,#fff7b3 0 48deg,#fee79b 0 68deg,#fff7b3 0 20%,#f7fcce 0 95deg,#e7f6eb 0 100deg,#d4edf4 0 101deg,#e7f6eb 0 105deg,#f7fcce 0 109deg,#e7f6eb 0 37.5%,#d4edf4 0 156deg,#e7f6eb 0 159deg,#d4edf4 0 166deg,#e7f6eb 0 173deg,#f7fcce 0 50%,#e7f6eb 0 185deg,#f7fcce 0 188deg,#e7f6eb 0 196deg,#f7fcce 0 204deg,#e7f6eb 0 213deg,#f7fcce 0 224deg,#fff7b3 0 230deg,#fee79b 0 249deg,#fed283 0 72.5%,#fee79b 0 268deg,#fed283 0 271deg,#fdbb6d 0 278deg,#fb9d59 0 285deg,#fdbb6d 0 294deg,#fb9d59 0 300deg,#fdbb6d 0 313deg,#fb9d59 0 319deg,#fdbb6d 0 322deg,#fed283 0 90%,#fdbb6d 0 328deg,#fb9d59 0 337deg,#fdbb6d 0)"></i>
<i style="inset:-8.99px;background:conic-gradient(#fdbb6d 0 4deg,#fed283 0 10deg,#fdbb6d 0 16deg,#fed283 0 26deg,#fdbb6d 0 31deg,#fed283 0 41deg,#fee79b 0 45deg,#fff7b3 0 49deg,#fee79b 0 69deg,#fff7b3 0 77deg,#f7fcce 0 94deg,#e7f6eb 0 104deg,#f7fcce 0 111deg,#e7f6eb 0 119deg,#f7fcce 0 123deg,#e7f6eb 0 137deg,#d4edf4 0 152deg,#e7f6eb 0 161deg,#d4edf4 0 164deg,#e7f6eb 0 172deg,#f7fcce 0 182deg,#e7f6eb 0 185deg,#f7fcce 0 52.5%,#e7f6eb 0 197deg,#f7fcce 0 206deg,#e7f6eb 0 214deg,#f7fcce 0 223deg,#fff7b3 0 229deg,#fee79b 0 248deg,#fed283 0 72.5%,#fee79b 0 268deg,#fed283 0 271deg,#fdbb6d 0 275deg,#fed283 0 278deg,#fdbb6d 0 293deg,#fb9d59 0 299deg,#fdbb6d 0 304deg,#fed283 0 305deg,#fdbb6d 0 87.5%,#fb9d59 0 317deg,#fdbb6d 0 320deg,#fed283 0 325deg,#fdbb6d 0 328deg,#fb9d59 0 334deg,#fdbb6d 0)"></i>
<i style="inset:-7.99px;background:conic-gradient(#fdbb6d 0 2deg,#fed283 0 26deg,#fdbb6d 0 31deg,#fed283 0 40deg,#fee79b 0 45deg,#fff7b3 0 50deg,#fee79b 0 61deg,#fff7b3 0 78deg,#f7fcce 0 86deg,#fff7b3 0 89deg,#f7fcce 0 95deg,#e7f6eb 0 104deg,#f7fcce 0 111deg,#e7f6eb 0 116deg,#f7fcce 0 132deg,#e7f6eb 0 139deg,#d4edf4 0 150deg,#e7f6eb 0 155deg,#f7fcce 0 160deg,#e7f6eb 0 166deg,#f7fcce 0 192deg,#e7f6eb 0 200deg,#f7fcce 0 211deg,#e7f6eb 0 215deg,#f7fcce 0 221deg,#fff7b3 0 228deg,#fee79b 0 232deg,#fed283 0 65%,#fee79b 0 249deg,#fed283 0 255deg,#fee79b 0 256deg,#fed283 0 259deg,#fee79b 0 268deg,#fed283 0 276deg,#fee79b 0 277deg,#fed283 0 281deg,#fdbb6d 0 293deg,#fb9d59 0 298deg,#fdbb6d 0 302deg,#fed283 0 305deg,#fdbb6d 0 309deg,#fb9d59 0 313deg,#fdbb6d 0 318deg,#fed283 0 321deg,#fee79b 0 322deg,#fed283 0 325deg,#fdbb6d 0 336deg,#fed283 0 341deg,#fdbb6d 0 348deg,#fed283 0 354deg,#fdbb6d 0)"></i>
<i style="inset:-6.99px;background:conic-gradient(#fdbb6d 0 1deg,#fed283 0 6deg,#fee79b 0 8deg,#fed283 0 35deg,#fee79b 0 45deg,#fff7b3 0 50deg,#fee79b 0 55deg,#fff7b3 0 78deg,#f7fcce 0 83deg,#fff7b3 0 92deg,#f7fcce 0 98deg,#e7f6eb 0 106deg,#f7fcce 0 111deg,#e7f6eb 0 115deg,#f7fcce 0 118deg,#fff7b3 0 127deg,#f7fcce 0 134deg,#e7f6eb 0 142deg,#d4edf4 0 148deg,#e7f6eb 0 154deg,#f7fcce 0 161deg,#e7f6eb 0 165deg,#f7fcce 0 177deg,#fff7b3 0 182deg,#f7fcce 0 196deg,#e7f6eb 0 201deg,#f7fcce 0 212deg,#e7f6eb 0 215deg,#f7fcce 0 219deg,#fff7b3 0 228deg,#fee79b 0 231deg,#fed283 0 235deg,#fee79b 0 238deg,#fff7b3 0 242deg,#fee79b 0 268deg,#fed283 0 274deg,#fee79b 0 280deg,#fed283 0 291deg,#fdbb6d 0 300deg,#fed283 0 303deg,#fdbb6d 0 308deg,#fb9d59 0 314deg,#fdbb6d 0 317deg,#fed283 0 319deg,#fee79b 0 323deg,#fed283 0 326deg,#fdbb6d 0 334deg,#fed283 0 344deg,#fdbb6d 0 346deg,#fed283 0 355deg,#fdbb6d 0)"></i>
<i style="inset:-5.99px;background:conic-gradient(#fed283 0 6deg,#fee79b 0 7deg,#fed283 0 33deg,#fee79b 0 45deg,#fff7b3 0 51deg,#fee79b 0 15%,#fff7b3 0 77deg,#f7fcce 0 84deg,#fff7b3 0 94deg,#f7fcce 0 100deg,#e7f6eb 0 30%,#f7fcce 0 109deg,#e7f6eb 0 115deg,#f7fcce 0 119deg,#fff7b3 0 128deg,#f7fcce 0 37.5%,#e7f6eb 0 137deg,#f7fcce 0 140deg,#e7f6eb 0 42.5%,#f7fcce 0 161deg,#e7f6eb 0 166deg,#f7fcce 0 176deg,#fff7b3 0 188deg,#f7fcce 0 212deg,#e7f6eb 0 214deg,#f7fcce 0 218deg,#fff7b3 0 228deg,#fee79b 0 232deg,#fed283 0 65%,#fee79b 0 237deg,#fff7b3 0 67.5%,#fee79b 0 269deg,#fed283 0 273deg,#fee79b 0 281deg,#fed283 0 303deg,#fdbb6d 0 308deg,#fb9d59 0 313deg,#fdbb6d 0 87.5%,#fed283 0 319deg,#fee79b 0 90%,#fed283 0 338deg,#fee79b 0 95%,#fed283 0)"></i>
<i style="inset:-4.99px;background:conic-gradient(#fed283 0 29deg,#fee79b 0 38deg,#fff7b3 0 40deg,#fee79b 0 45deg,#fff7b3 0 75deg,#f7fcce 0 86deg,#fff7b3 0 95deg,#f7fcce 0 100deg,#e7f6eb 0 116deg,#f7fcce 0 123deg,#fff7b3 0 129deg,#f7fcce 0 146deg,#e7f6eb 0 42.5%,#f7fcce 0 159deg,#e7f6eb 0 47.5%,#f7fcce 0 175deg,#fff7b3 0 190deg,#f7fcce 0 191deg,#fff7b3 0 55%,#f7fcce 0 218deg,#fff7b3 0 230deg,#fee79b 0 236deg,#fff7b3 0 67.5%,#fee79b 0 256deg,#fed283 0 260deg,#fee79b 0 269deg,#fed283 0 272deg,#fee79b 0 281deg,#fed283 0 284deg,#fee79b 0 301deg,#fed283 0 85%,#fdbb6d 0 310deg,#fb9d59 0 312deg,#fdbb6d 0 314deg,#fed283 0 317deg,#fee79b 0 92.5%,#fed283 0 338deg,#fee79b 0 341deg,#fed283 0)"></i>
<i style="inset:-3.99px;background:conic-gradient(#fed283 0 5deg,#fee79b 0 8deg,#fed283 0 7.5%,#fee79b 0 44deg,#fff7b3 0 48deg,#f7fcce 0 50deg,#fff7b3 0 77deg,#f7fcce 0 86deg,#fff7b3 0 95deg,#f7fcce 0 101deg,#e7f6eb 0 116deg,#f7fcce 0 124deg,#fff7b3 0 131deg,#f7fcce 0 147deg,#e7f6eb 0 154deg,#f7fcce 0 156deg,#e7f6eb 0 47.5%,#f7fcce 0 175deg,#fff7b3 0 190deg,#f7fcce 0 191deg,#fff7b3 0 202deg,#f7fcce 0 219deg,#fff7b3 0 222deg,#f7fcce 0 228deg,#fff7b3 0 242deg,#fee79b 0 254deg,#fed283 0 262deg,#fee79b 0 268deg,#fed283 0 271deg,#fee79b 0 275deg,#fff7b3 0 277deg,#fee79b 0 290deg,#fff7b3 0 294deg,#fee79b 0 303deg,#fed283 0 309deg,#fdbb6d 0 313deg,#fed283 0 316deg,#fee79b 0 335deg,#fed283 0 337deg,#fee79b 0 341deg,#fed283 0 350deg,#fee79b 0 358deg,#fed283 0)"></i>
<i style="inset:-3px;background:conic-gradient(#fee79b 0 20deg,#fed283 0 25deg,#fee79b 0 29deg,#fff7b3 0 32deg,#fee79b 0 44deg,#fff7b3 0 47deg,#f7fcce 0 50deg,#fff7b3 0 59deg,#fee79b 0 61deg,#fff7b3 0 80deg,#f7fcce 0 83deg,#fff7b3 0 95deg,#f7fcce 0 103deg,#e7f6eb 0 104deg,#f7fcce 0 109deg,#e7f6eb 0 111deg,#f7fcce 0 124deg,#fff7b3 0 134deg,#f7fcce 0 147deg,#e7f6eb 0 45%,#f7fcce 0 168deg,#e7f6eb 0 169deg,#f7fcce 0 175deg,#fff7b3 0 188deg,#f7fcce 0 192deg,#fff7b3 0 202deg,#f7fcce 0 230deg,#fff7b3 0 241deg,#fee79b 0 251deg,#fed283 0 262deg,#fee79b 0 274deg,#fff7b3 0 77.5%,#fee79b 0 287deg,#fff7b3 0 82.5%,#fee79b 0 308deg,#fed283 0 87.5%,#fee79b 0 321deg,#fff7b3 0 327deg,#fee79b 0 344deg,#fed283 0 347deg,#fee79b 0)"></i>
<i style="inset:-2px;background:conic-gradient(#fee79b 0 2deg,#fed283 0 4deg,#fee79b 0 22deg,#fed283 0 24deg,#fee79b 0 7.5%,#fff7b3 0 33deg,#fee79b 0 44deg,#fff7b3 0 46deg,#f7fcce 0 49deg,#fff7b3 0 52deg,#fee79b 0 63deg,#fff7b3 0 79deg,#f7fcce 0 82deg,#fff7b3 0 89deg,#f7fcce 0 124deg,#fff7b3 0 136deg,#f7fcce 0 146deg,#e7f6eb 0 155deg,#f7fcce 0 174deg,#fff7b3 0 177deg,#f7fcce 0 183deg,#fff7b3 0 185deg,#f7fcce 0 194deg,#fff7b3 0 199deg,#f7fcce 0 231deg,#fff7b3 0 237deg,#fee79b 0 70%,#fed283 0 72.5%,#fee79b 0 265deg,#fff7b3 0 269deg,#fee79b 0 271deg,#fff7b3 0 283deg,#fee79b 0 287deg,#fff7b3 0 296deg,#fee79b 0 318deg,#fff7b3 0 322deg,#f7fcce 0 90%,#fff7b3 0 328deg,#fee79b 0 331deg,#fed283 0 336deg,#fee79b 0 339deg,#fff7b3 0 345deg,#fee79b 0)"></i>
<i style="inset:-1px;background:conic-gradient(#fee79b 0 1deg,#fed283 0 7deg,#fee79b 0 16deg,#fff7b3 0 19deg,#fee79b 0 25deg,#fff7b3 0 33deg,#fee79b 0 43deg,#fff7b3 0 45deg,#f7fcce 0 49deg,#fff7b3 0 51deg,#fee79b 0 56deg,#fff7b3 0 57deg,#fee79b 0 64deg,#fff7b3 0 67deg,#f7fcce 0 71deg,#fff7b3 0 74deg,#fee79b 0 77deg,#fff7b3 0 79deg,#f7fcce 0 82deg,#fff7b3 0 85deg,#fee79b 0 86deg,#fff7b3 0 89deg,#f7fcce 0 105deg,#fff7b3 0 32.5%,#f7fcce 0 125deg,#fff7b3 0 136deg,#f7fcce 0 146deg,#e7f6eb 0 154deg,#f7fcce 0 159deg,#fff7b3 0 166deg,#f7fcce 0 172deg,#fff7b3 0 178deg,#f7fcce 0 188deg,#e7f6eb 0 191deg,#f7fcce 0 193deg,#fff7b3 0 197deg,#f7fcce 0 219deg,#fff7b3 0 223deg,#f7fcce 0 65%,#fff7b3 0 237deg,#fee79b 0 253deg,#fed283 0 260deg,#fee79b 0 262deg,#fff7b3 0 265deg,#f7fcce 0 268deg,#fff7b3 0 275deg,#f7fcce 0 282deg,#fff7b3 0 284deg,#fee79b 0 286deg,#fff7b3 0 296deg,#fee79b 0 299deg,#fed283 0 303deg,#fee79b 0 87.5%,#fff7b3 0 319deg,#f7fcce 0 322deg,#e7f6eb 0 90%,#f7fcce 0 326deg,#fff7b3 0 328deg,#fee79b 0 330deg,#fed283 0 336deg,#fee79b 0 338deg,#fff7b3 0 341deg,#f7fcce 0 345deg,#fff7b3 0 358deg,#fee79b 0)"></i>
</div>
<div class="rg" style="left:14.80px;top:398.40px;width:129.80px;height:129.80px;background:radial-gradient(circle closest-side,#b9e0ed 0.00px 3.50px,#d4edf4 3.50px 5.50px,#e7f6eb 5.50px 7.60px,#f7fcce 7.60px 9.50px,#fff7b3 9.50px 11.00px,#fee79b 11.00px 12.10px,#fed283 12.10px 13.40px,#fdbb6d 13.40px 16.50px,#fb9d59 16.50px 16.60px,#fdbb6d 16.60px 17.80px,#fed283 17.80px 18.80px,#fee79b 18.80px 19.80px,#fff7b3 19.80px 20.90px,#f7fcce 20.90px 22.30px,#e7f6eb 22.30px 24.10px,#d4edf4 24.10px 26.20px,#b9e0ed 26.20px 28.30px,#9dcee3 28.30px 30.40px,#81b7d7 30.40px 32.30px,#679ec9 32.30px 35.10px,#5183bb 35.10px 38.20px,#4065ac 38.20px 41.30px,#36459c 41.30px 49.80px,#4065ac 49.80px 51.10px,#5183bb 51.10px 52.00px,#679ec9 52.00px 52.90px,#81b7d7 52.90px 53.70px,#9dcee3 53.70px 54.40px,#b9e0ed 54.40px 55.00px,#d4edf4 55.00px 55.70px,#e7f6eb 55.70px 56.40px,#f7fcce 56.40px 57.10px,#fff7b3 57.10px 57.80px,#fee79b 57.80px 58.50px,#fed283 58.50px 59.20px,#fdbb6d 59.20px 59.90px,#fb9d59 59.90px 60.60px,#f67c4a 60.60px 61.40px,#ec5c3b 61.40px 62.20px,#dd3d2d 62.20px 62.90px,#ca2427 62.90px 63.90px,#b10b26 63.90px 64.90px)"></div>
<svg width="409" height="550" viewBox="0 0 409 550">
<defs><linearGradient id="cbg" x1="0" y1="1" x2="0" y2="0"><stop offset="0" stop-color="#36459c"/><stop offset="0.05" stop-color="#36459c"/><stop offset="0.05" stop-color="#4065ac"/><stop offset="0.1" stop-color="#4065ac"/><stop offset="0.1" stop-color="#5183bb"/><stop offset="0.15" stop-color="#5183bb"/><stop offset="0.15" stop-color="#679ec9"/><stop offset="0.2" stop-color="#679ec9"/><stop offset="0.2" stop-color="#81b7d7"/><stop offset="0.25" stop-color="#81b7d7"/><stop offset="0.25" stop-color="#9dcee3"/><stop offset="0.3" stop-color="#9dcee3"/><stop offset="0.3" stop-color="#b9e0ed"/><stop offset="0.35" stop-color="#b9e0ed"/><stop offset="0.35" stop-color="#d4edf4"/><stop offset="0.4" stop-color="#d4edf4"/><stop offset="0.4" stop-color="#e7f6eb"/><stop offset="0.45" stop-color="#e7f6eb"/><stop offset="0.45" stop-color="#f7fcce"/><stop offset="0.5" stop-color="#f7fcce"/><stop offset="0.5" stop-color="#fff7b3"/><stop offset="0.55" stop-color="#fff7b3"/><stop offset="0.55" stop-color="#fee79b"/><stop offset="0.6" stop-color="#fee79b"/><stop offset="0.6" stop-color="#fed283"/><stop offset="0.65" stop-color="#fed283"/><stop offset="0.65" stop-color="#fdbb6d"/><stop offset="0.7" stop-color="#fdbb6d"/><stop offset="0.7" stop-color="#fb9d59"/><stop offset="0.75" stop-color="#fb9d59"/><stop offset="0.75" stop-color="#f67c4a"/><stop offset="0.8" stop-color="#f67c4a"/><stop offset="0.8" stop-color="#ec5c3b"/><stop offset="0.85" stop-color="#ec5c3b"/><stop offset="0.85" stop-color="#dd3d2d"/><stop offset="0.9" stop-color="#dd3d2d"/><stop offset="0.9" stop-color="#ca2427"/><stop offset="0.95" stop-color="#ca2427"/><stop offset="0.95" stop-color="#b10b26"/><stop offset="1" stop-color="#b10b26"/></linearGradient></defs>
<text x="152.2" y="9.6" class="b" font-size="7.95">Equinoxes, SME<tspan dx="3.3" font-weight="normal" font-size="8.3">≤</tspan><tspan dx="0.6">70 nT</tspan></text>
<text x="78.10" y="31.80" class="b" font-size="7.4" text-anchor="middle">I mode:</text>
<text x="79.70" y="40.80" font-size="7.1" text-anchor="middle">12:00</text>
<text x="79.70" y="183.20" font-size="7.1" text-anchor="middle">00:00</text>
<text x="79.70" y="191.50" font-size="7.1" text-anchor="middle">MLat-MLT</text>
<text transform="translate(9.50 108.00) rotate(-90)" font-size="7.1" text-anchor="middle">18:00</text>
<text transform="translate(148.20 108.00) rotate(90)" font-size="7.1" text-anchor="middle">06:00</text>
<g class="grid">
<circle cx="79.70" cy="108.00" r="16.23"/>
<circle cx="79.70" cy="108.00" r="32.45"/>
<circle cx="79.70" cy="108.00" r="48.68"/>
<line x1="14.80" y1="108.00" x2="144.60" y2="108.00"/>
<line x1="79.70" y1="43.10" x2="79.70" y2="172.90"/>
</g>
<circle class="spine" cx="79.70" cy="108.00" r="64.90"/>
<circle cx="79.70" cy="108.00" r="0.9" fill="#1a1a40"/>
<text x="101.10" y="100.40" font-size="7.6" text-anchor="middle" class="d">80°</text>
<text x="130.40" y="88.30" font-size="7.6" text-anchor="middle" class="d">60°</text>
<rect x="160.00" y="36.400" width="7.9" height="144.600" fill="url(#cbg)"/>
<text x="169.30" y="183.25" font-size="6.2">−6000</text>
<text x="169.30" y="159.15" font-size="6.2">−4000</text>
<text x="169.30" y="135.05" font-size="6.2">−2000</text>
<text x="169.30" y="110.95" font-size="6.2">0</text>
<text x="169.30" y="86.85" font-size="6.2">2000</text>
<text x="169.30" y="62.75" font-size="6.2">4000</text>
<text x="169.30" y="38.65" font-size="6.2">6000</text>
<text transform="translate(197.60 108.60) rotate(-90)" font-size="6.8" text-anchor="middle">c<tspan font-size="4.6" dy="1.3">I</tspan><tspan dy="-1.3"> </tspan>(cm<tspan font-size="4.8" dy="-2.6">−3</tspan><tspan dy="2.6">)</tspan></text>
<text x="279.80" y="31.80" class="b" font-size="7.4" text-anchor="middle">II mode:</text>
<text x="281.40" y="40.80" font-size="7.1" text-anchor="middle">12:00</text>
<text x="281.40" y="183.20" font-size="7.1" text-anchor="middle">00:00</text>
<text x="281.40" y="191.50" font-size="7.1" text-anchor="middle">MLat-MLT</text>
<text transform="translate(211.20 108.00) rotate(-90)" font-size="7.1" text-anchor="middle">18:00</text>
<text transform="translate(349.90 108.00) rotate(90)" font-size="7.1" text-anchor="middle">06:00</text>
<g class="grid">
<circle cx="281.40" cy="108.00" r="16.23"/>
<circle cx="281.40" cy="108.00" r="32.45"/>
<circle cx="281.40" cy="108.00" r="48.68"/>
<line x1="216.50" y1="108.00" x2="346.30" y2="108.00"/>
<line x1="281.40" y1="43.10" x2="281.40" y2="172.90"/>
</g>
<circle class="spine" cx="281.40" cy="108.00" r="64.90"/>
<circle cx="281.40" cy="108.00" r="0.9" fill="#1a1a40"/>
<text x="302.80" y="100.40" font-size="7.6" text-anchor="middle" class="d">80°</text>
<text x="332.10" y="88.30" font-size="7.6" text-anchor="middle" class="d">60°</text>
<rect x="361.70" y="36.400" width="7.9" height="144.600" fill="url(#cbg)"/>
<text x="371.00" y="183.25" font-size="6.2">−6000</text>
<text x="371.00" y="159.15" font-size="6.2">−4000</text>
<text x="371.00" y="135.05" font-size="6.2">−2000</text>
<text x="371.00" y="110.95" font-size="6.2">0</text>
<text x="371.00" y="86.85" font-size="6.2">2000</text>
<text x="371.00" y="62.75" font-size="6.2">4000</text>
<text x="371.00" y="38.65" font-size="6.2">6000</text>
<text transform="translate(400.00 108.60) rotate(-90)" font-size="6.8" text-anchor="middle">c<tspan font-size="4.6" dy="1.3">II</tspan><tspan dy="-1.3"> </tspan>(cm<tspan font-size="4.8" dy="-2.6">−3</tspan><tspan dy="2.6">)</tspan></text>
<text x="78.10" y="209.50" class="b" font-size="7.4" text-anchor="middle">III mode:</text>
<text x="79.70" y="218.50" font-size="7.1" text-anchor="middle">12:00</text>
<text x="79.70" y="360.90" font-size="7.1" text-anchor="middle">00:00</text>
<text x="79.70" y="369.20" font-size="7.1" text-anchor="middle">MLat-MLT</text>
<text transform="translate(9.50 285.70) rotate(-90)" font-size="7.1" text-anchor="middle">18:00</text>
<text transform="translate(148.20 285.70) rotate(90)" font-size="7.1" text-anchor="middle">06:00</text>
<g class="grid">
<circle cx="79.70" cy="285.70" r="16.23"/>
<circle cx="79.70" cy="285.70" r="32.45"/>
<circle cx="79.70" cy="285.70" r="48.68"/>
<line x1="14.80" y1="285.70" x2="144.60" y2="285.70"/>
<line x1="79.70" y1="220.80" x2="79.70" y2="350.60"/>
</g>
<circle class="spine" cx="79.70" cy="285.70" r="64.90"/>
<circle cx="79.70" cy="285.70" r="0.9" fill="#1a1a40"/>
<text x="101.10" y="278.10" font-size="7.6" text-anchor="middle" class="d">80°</text>
<text x="130.40" y="266.00" font-size="7.6" text-anchor="middle" class="d">60°</text>
<rect x="160.00" y="214.100" width="7.9" height="144.600" fill="url(#cbg)"/>
<text x="169.30" y="360.95" font-size="6.2">−10000</text>
<text x="169.30" y="342.88" font-size="6.2">−7500</text>
<text x="169.30" y="324.80" font-size="6.2">−5000</text>
<text x="169.30" y="306.73" font-size="6.2">−2500</text>
<text x="169.30" y="288.65" font-size="6.2">0</text>
<text x="169.30" y="270.57" font-size="6.2">2500</text>
<text x="169.30" y="252.50" font-size="6.2">5000</text>
<text x="169.30" y="234.42" font-size="6.2">7500</text>
<text x="169.30" y="216.35" font-size="6.2">10000</text>
<text transform="translate(203.30 286.30) rotate(-90)" font-size="6.8" text-anchor="middle">c<tspan font-size="4.6" dy="1.3">III</tspan><tspan dy="-1.3"> </tspan>(cm<tspan font-size="4.8" dy="-2.6">−3</tspan><tspan dy="2.6">)</tspan></text>
<text x="279.80" y="209.50" class="b" font-size="7.4" text-anchor="middle">IV mode:</text>
<text x="281.40" y="218.50" font-size="7.1" text-anchor="middle">12:00</text>
<text x="281.40" y="360.90" font-size="7.1" text-anchor="middle">00:00</text>
<text x="281.40" y="369.20" font-size="7.1" text-anchor="middle">MLat-MLT</text>
<text transform="translate(211.20 285.70) rotate(-90)" font-size="7.1" text-anchor="middle">18:00</text>
<text transform="translate(349.90 285.70) rotate(90)" font-size="7.1" text-anchor="middle">06:00</text>
<g class="grid">
<circle cx="281.40" cy="285.70" r="16.23"/>
<circle cx="281.40" cy="285.70" r="32.45"/>
<circle cx="281.40" cy="285.70" r="48.68"/>
<line x1="216.50" y1="285.70" x2="346.30" y2="285.70"/>
<line x1="281.40" y1="220.80" x2="281.40" y2="350.60"/>
</g>
<circle class="spine" cx="281.40" cy="285.70" r="64.90"/>
<circle cx="281.40" cy="285.70" r="0.9" fill="#1a1a40"/>
<text x="302.80" y="278.10" font-size="7.6" text-anchor="middle" class="d">80°</text>
<text x="332.10" y="266.00" font-size="7.6" text-anchor="middle" class="d">60°</text>
<rect x="361.70" y="214.100" width="7.9" height="144.600" fill="url(#cbg)"/>
<text x="371.00" y="360.95" font-size="6.2">−20000</text>
<text x="371.00" y="342.88" font-size="6.2">−15000</text>
<text x="371.00" y="324.80" font-size="6.2">−10000</text>
<text x="371.00" y="306.73" font-size="6.2">−5000</text>
<text x="371.00" y="288.65" font-size="6.2">0</text>
<text x="371.00" y="270.57" font-size="6.2">5000</text>
<text x="371.00" y="252.50" font-size="6.2">10000</text>
<text x="371.00" y="234.42" font-size="6.2">15000</text>
<text x="371.00" y="216.35" font-size="6.2">20000</text>
<text transform="translate(405.70 286.30) rotate(-90)" font-size="6.8" text-anchor="middle">c<tspan font-size="4.6" dy="1.3">IV</tspan><tspan dy="-1.3"> </tspan>(cm<tspan font-size="4.8" dy="-2.6">−3</tspan><tspan dy="2.6">)</tspan></text>
<text x="78.10" y="387.10" class="b" font-size="7.4" text-anchor="middle">Residue:</text>
<text x="79.70" y="396.10" font-size="7.1" text-anchor="middle">12:00</text>
<text x="79.70" y="538.50" font-size="7.1" text-anchor="middle">00:00</text>
<text x="79.70" y="546.80" font-size="7.1" text-anchor="middle">MLat-MLT</text>
<text transform="translate(9.50 463.30) rotate(-90)" font-size="7.1" text-anchor="middle">18:00</text>
<text transform="translate(148.20 463.30) rotate(90)" font-size="7.1" text-anchor="middle">06:00</text>
<g class="grid">
<circle cx="79.70" cy="463.30" r="16.23"/>
<circle cx="79.70" cy="463.30" r="32.45"/>
<circle cx="79.70" cy="463.30" r="48.68"/>
<line x1="14.80" y1="463.30" x2="144.60" y2="463.30"/>
<line x1="79.70" y1="398.40" x2="79.70" y2="528.20"/>
</g>
<circle class="spine" cx="79.70" cy="463.30" r="64.90"/>
<circle cx="79.70" cy="463.30" r="0.9" fill="#1a1a40"/>
<text x="101.10" y="455.70" font-size="7.6" text-anchor="middle" class="d">80°</text>
<text x="130.40" y="443.60" font-size="7.6" text-anchor="middle" class="d">60°</text>
<rect x="160.00" y="391.700" width="7.9" height="144.600" fill="url(#cbg)"/>
<text x="169.30" y="538.55" font-size="6.2">35000</text>
<text x="169.30" y="509.63" font-size="6.2">40000</text>
<text x="169.30" y="480.71" font-size="6.2">45000</text>
<text x="169.30" y="451.79" font-size="6.2">50000</text>
<text x="169.30" y="422.87" font-size="6.2">55000</text>
<text x="169.30" y="393.95" font-size="6.2">60000</text>
<text transform="translate(197.80 463.90) rotate(-90)" font-size="6.8" text-anchor="middle">res (cm<tspan font-size="4.8" dy="-2.6">−3</tspan><tspan dy="2.6">)</tspan></text>
</svg>
</div></body></html>
